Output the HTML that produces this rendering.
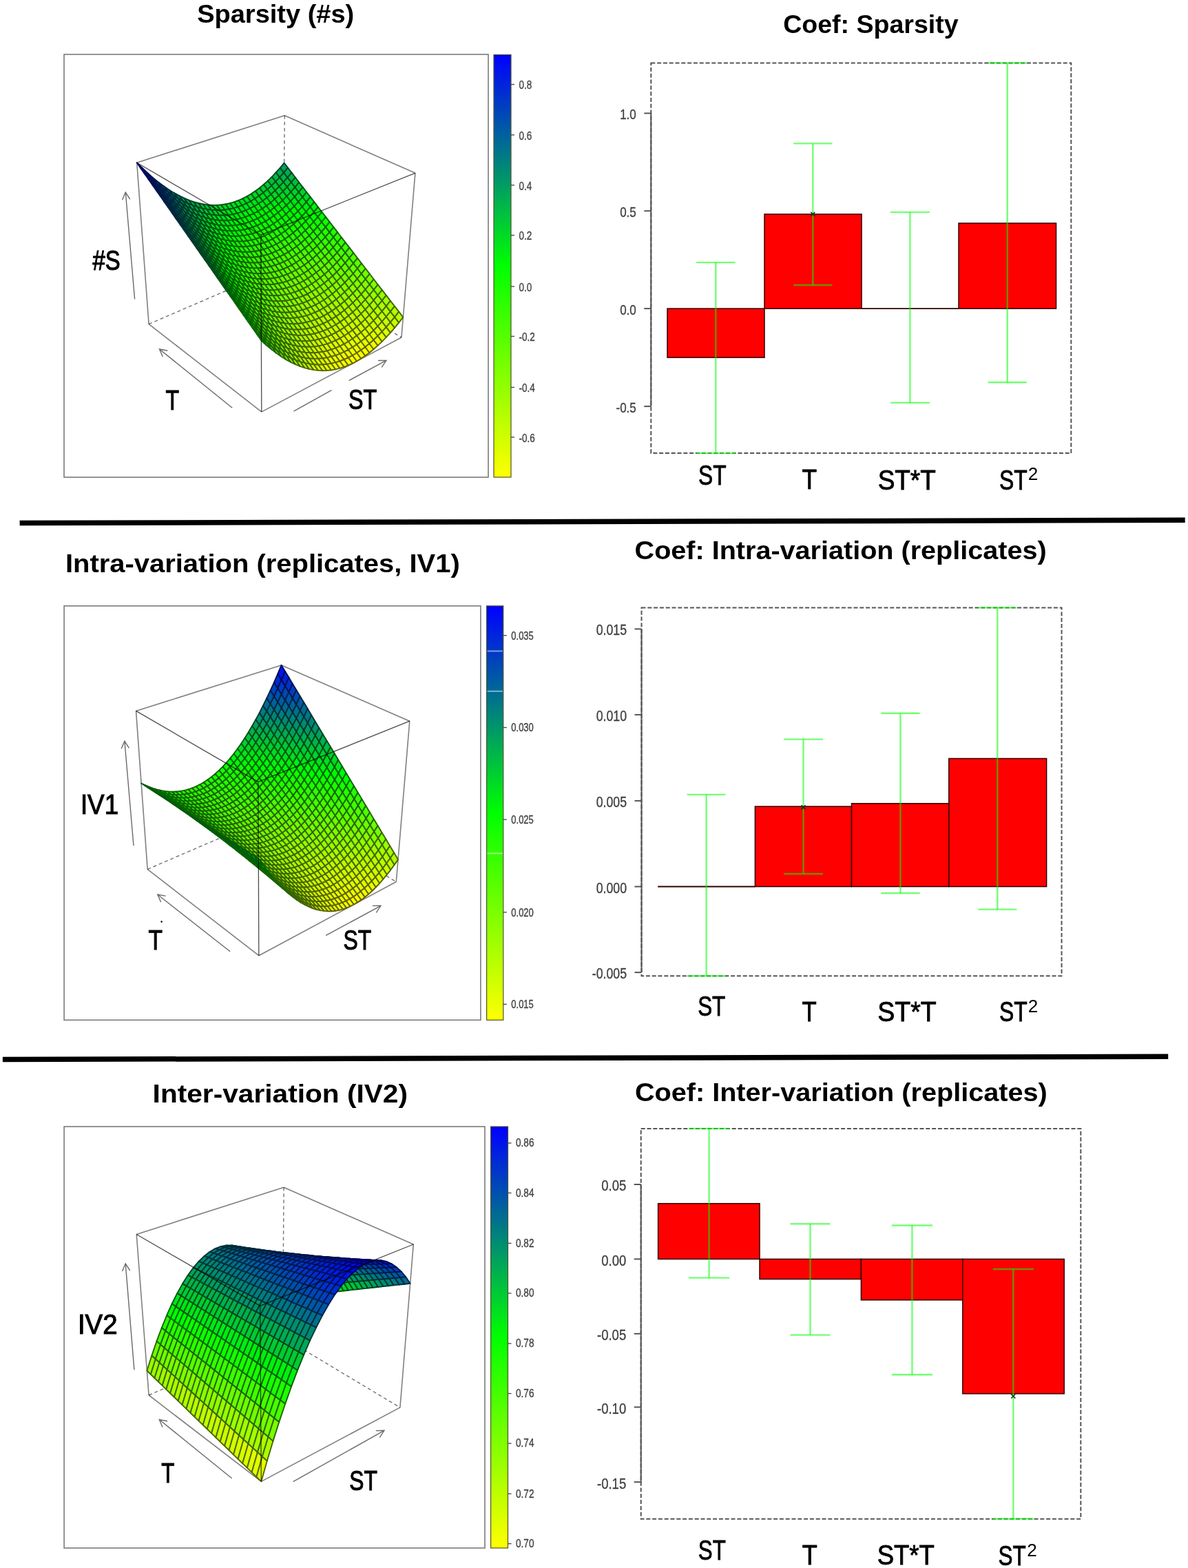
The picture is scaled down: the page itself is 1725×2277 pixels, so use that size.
<!DOCTYPE html>
<html><head><meta charset="utf-8"><title>Figure</title><style>html,body{margin:0;padding:0;background:#fff;}svg{display:block;}</style></head><body>
<svg width="1725" height="2277" viewBox="0 0 1725 2277">
<rect width="1725" height="2277" fill="#fff"/>
<text x="286.2" y="33.1" font-size="36.5" font-weight="bold" textLength="228" lengthAdjust="spacingAndGlyphs" font-family="Liberation Sans, Arial, sans-serif">Sparsity (#s)</text>
<text x="1137.2" y="48.4" font-size="36.5" font-weight="bold" textLength="254.4" lengthAdjust="spacingAndGlyphs" font-family="Liberation Sans, Arial, sans-serif">Coef: Sparsity</text>
<text x="94.9" y="830.7" font-size="36.5" font-weight="bold" textLength="572.9" lengthAdjust="spacingAndGlyphs" font-family="Liberation Sans, Arial, sans-serif">Intra-variation (replicates, IV1)</text>
<text x="921.6" y="811.5" font-size="36.5" font-weight="bold" textLength="598" lengthAdjust="spacingAndGlyphs" font-family="Liberation Sans, Arial, sans-serif">Coef: Intra-variation (replicates)</text>
<text x="221.6" y="1600.6" font-size="36.5" font-weight="bold" textLength="370.4" lengthAdjust="spacingAndGlyphs" font-family="Liberation Sans, Arial, sans-serif">Inter-variation (IV2)</text>
<text x="921.9" y="1599" font-size="36.5" font-weight="bold" textLength="598.8" lengthAdjust="spacingAndGlyphs" font-family="Liberation Sans, Arial, sans-serif">Coef: Inter-variation (replicates)</text>
<line x1="28.6" y1="759.5" x2="1720.7" y2="755.3" stroke="#000" stroke-width="7.5"/>
<line x1="3.9" y1="1538.5" x2="1696.2" y2="1534.3" stroke="#000" stroke-width="7.5"/>
<rect x="93" y="79" width="616" height="614" fill="none" stroke="#7a7a7a" stroke-width="1.6"/>
<defs><linearGradient id="gp1" x1="0" y1="1" x2="0" y2="0"><stop offset="0" stop-color="#ffff00"/><stop offset="0.5" stop-color="#00ff00"/><stop offset="1" stop-color="#0000ff"/></linearGradient></defs>
<rect x="717" y="79.5" width="25" height="613.5" fill="url(#gp1)" stroke="#505030" stroke-width="1.2"/>
<line x1="742" y1="122.6" x2="747" y2="122.6" stroke="#444" stroke-width="1.3"/>
<text transform="translate(753.5,129.4) scale(1,1.22)" font-size="13.5" fill="#444" stroke="#444" stroke-width="0.3" font-family="Liberation Sans, Arial, sans-serif">0.8</text>
<line x1="742" y1="195.9" x2="747" y2="195.9" stroke="#444" stroke-width="1.3"/>
<text transform="translate(753.5,202.7) scale(1,1.22)" font-size="13.5" fill="#444" stroke="#444" stroke-width="0.3" font-family="Liberation Sans, Arial, sans-serif">0.6</text>
<line x1="742" y1="268.9" x2="747" y2="268.9" stroke="#444" stroke-width="1.3"/>
<text transform="translate(753.5,275.7) scale(1,1.22)" font-size="13.5" fill="#444" stroke="#444" stroke-width="0.3" font-family="Liberation Sans, Arial, sans-serif">0.4</text>
<line x1="742" y1="341.6" x2="747" y2="341.6" stroke="#444" stroke-width="1.3"/>
<text transform="translate(753.5,348.4) scale(1,1.22)" font-size="13.5" fill="#444" stroke="#444" stroke-width="0.3" font-family="Liberation Sans, Arial, sans-serif">0.2</text>
<line x1="742" y1="416" x2="747" y2="416" stroke="#444" stroke-width="1.3"/>
<text transform="translate(753.5,422.8) scale(1,1.22)" font-size="13.5" fill="#444" stroke="#444" stroke-width="0.3" font-family="Liberation Sans, Arial, sans-serif">0.0</text>
<line x1="742" y1="488.4" x2="747" y2="488.4" stroke="#444" stroke-width="1.3"/>
<text transform="translate(753.5,495.2) scale(1,1.22)" font-size="13.5" fill="#444" stroke="#444" stroke-width="0.3" font-family="Liberation Sans, Arial, sans-serif">-0.2</text>
<line x1="742" y1="562.5" x2="747" y2="562.5" stroke="#444" stroke-width="1.3"/>
<text transform="translate(753.5,569.3) scale(1,1.22)" font-size="13.5" fill="#444" stroke="#444" stroke-width="0.3" font-family="Liberation Sans, Arial, sans-serif">-0.4</text>
<line x1="742" y1="634.9" x2="747" y2="634.9" stroke="#444" stroke-width="1.3"/>
<text transform="translate(753.5,641.7) scale(1,1.22)" font-size="13.5" fill="#444" stroke="#444" stroke-width="0.3" font-family="Liberation Sans, Arial, sans-serif">-0.6</text>
<line x1="413.3" y1="167.8" x2="411.2" y2="386.4" stroke="#000" stroke-opacity="0.55" stroke-width="1.4" stroke-dasharray="5,4"/>
<line x1="216.1" y1="470.6" x2="411.2" y2="386.4" stroke="#000" stroke-opacity="0.55" stroke-width="1.4" stroke-dasharray="5,4"/>
<line x1="411.2" y1="386.4" x2="582.9" y2="490" stroke="#000" stroke-opacity="0.55" stroke-width="1.4" stroke-dasharray="5,4"/>
<line x1="198.7" y1="236.2" x2="413.3" y2="167.8" stroke="#000" stroke-opacity="0.5" stroke-width="1.6"/>
<line x1="413.3" y1="167.8" x2="602.9" y2="251.3" stroke="#000" stroke-opacity="0.5" stroke-width="1.6"/>
<line x1="602.9" y1="251.3" x2="582.9" y2="490" stroke="#000" stroke-opacity="0.5" stroke-width="1.6"/>
<line x1="198.7" y1="236.2" x2="216.1" y2="470.6" stroke="#000" stroke-opacity="0.5" stroke-width="1.6"/>
<line x1="216.1" y1="470.6" x2="379.8" y2="598.1" stroke="#000" stroke-opacity="0.5" stroke-width="1.6"/>
<line x1="379.8" y1="598.1" x2="582.9" y2="490" stroke="#000" stroke-opacity="0.5" stroke-width="1.6"/>
<defs><filter id="blp1" x="-5%" y="-5%" width="110%" height="110%"><feGaussianBlur stdDeviation="0.3"/></filter></defs>
<g filter="url(#blp1)" stroke-width="1.9" stroke-linejoin="round">
<path d="M412 250.8L418 243.7L412.6 236.7L406.7 243.9Z" fill="#00a25d" stroke="#004025"/>
<path d="M406.1 257.6L412 250.8L406.7 243.9L400.7 250.5Z" fill="#00ad52" stroke="#004520"/>
<path d="M417.4 257.9L423.4 250.7L418 243.7L412 250.8Z" fill="#00ac53" stroke="#004421"/>
<path d="M400.1 263.8L406.1 257.6L400.7 250.5L394.8 256.8Z" fill="#00b748" stroke="#00491c"/>
<path d="M411.5 264.6L417.4 257.9L412 250.8L406.1 257.6Z" fill="#00b649" stroke="#00481d"/>
<path d="M394.2 269.7L400.1 263.8L394.8 256.8L388.8 262.6Z" fill="#00bf40" stroke="#004c19"/>
<path d="M422.8 264.9L428.8 257.7L423.4 250.7L417.4 257.9Z" fill="#00b54a" stroke="#00481d"/>
<path d="M405.5 270.9L411.5 264.6L406.1 257.6L400.1 263.8Z" fill="#00c03f" stroke="#004c19"/>
<path d="M388.2 275.1L394.2 269.7L388.8 262.6L382.8 268Z" fill="#00c738" stroke="#004f16"/>
<path d="M416.9 271.7L422.8 264.9L417.4 257.9L411.5 264.6Z" fill="#00c03f" stroke="#004c19"/>
<path d="M399.5 276.8L405.5 270.9L400.1 263.8L394.2 269.7Z" fill="#00c936" stroke="#005015"/>
<path d="M428.3 272L434.2 264.8L428.8 257.7L422.8 264.9Z" fill="#00bf40" stroke="#004c19"/>
<path d="M410.9 278L416.9 271.7L411.5 264.6L405.5 270.9Z" fill="#00ca35" stroke="#005015"/>
<path d="M382.1 280L388.2 275.1L382.8 268L376.8 272.9Z" fill="#00ce31" stroke="#005213"/>
<path d="M393.5 282.2L399.5 276.8L394.2 269.7L388.2 275.1Z" fill="#00d12e" stroke="#005312"/>
<path d="M422.3 278.8L428.3 272L422.8 264.9L416.9 271.7Z" fill="#00ca35" stroke="#005015"/>
<path d="M404.9 283.9L410.9 278L405.5 270.9L399.5 276.8Z" fill="#00d32c" stroke="#005411"/>
<path d="M433.7 279.1L439.7 271.8L434.2 264.8L428.3 272Z" fill="#00c936" stroke="#005015"/>
<path d="M416.3 285.1L422.3 278.8L416.9 271.7L410.9 278Z" fill="#00d42b" stroke="#005411"/>
<path d="M376.1 284.6L382.1 280L376.8 272.9L370.8 277.4Z" fill="#00d42b" stroke="#005411"/>
<path d="M387.5 287.2L393.5 282.2L388.2 275.1L382.1 280Z" fill="#00d827" stroke="#00560f"/>
<path d="M398.9 289.3L404.9 283.9L399.5 276.8L393.5 282.2Z" fill="#00da25" stroke="#00570e"/>
<path d="M427.8 285.9L433.7 279.1L428.3 272L422.3 278.8Z" fill="#00d32c" stroke="#005411"/>
<path d="M410.3 291.1L416.3 285.1L410.9 278L404.9 283.9Z" fill="#00dc23" stroke="#00580e"/>
<path d="M439.2 286.3L445.2 279L439.7 271.8L433.7 279.1Z" fill="#00d22d" stroke="#005412"/>
<path d="M421.8 292.3L427.8 285.9L422.3 278.8L416.3 285.1Z" fill="#00dd22" stroke="#00580d"/>
<path d="M370 288.6L376.1 284.6L370.8 277.4L364.7 281.5Z" fill="#00d827" stroke="#00560f"/>
<path d="M381.4 291.7L387.5 287.2L382.1 280L376.1 284.6Z" fill="#00dd22" stroke="#00580d"/>
<path d="M392.9 294.4L398.9 289.3L393.5 282.2L387.5 287.2Z" fill="#00e11e" stroke="#005a0c"/>
<path d="M404.3 296.5L410.3 291.1L404.9 283.9L398.9 289.3Z" fill="#00e41b" stroke="#005b0a"/>
<path d="M433.2 293.1L439.2 286.3L433.7 279.1L427.8 285.9Z" fill="#00dd22" stroke="#00580d"/>
<path d="M415.8 298.3L421.8 292.3L416.3 285.1L410.3 291.1Z" fill="#00e619" stroke="#005c0a"/>
<path d="M444.7 293.4L450.7 286.1L445.2 279L439.2 286.3Z" fill="#00dc23" stroke="#00580e"/>
<path d="M427.2 299.5L433.2 293.1L427.8 285.9L421.8 292.3Z" fill="#00e718" stroke="#005c09"/>
<path d="M375.4 295.8L381.4 291.7L376.1 284.6L370 288.6Z" fill="#00e21d" stroke="#005a0b"/>
<path d="M386.8 298.9L392.9 294.4L387.5 287.2L381.4 291.7Z" fill="#00e718" stroke="#005c09"/>
<path d="M363.9 292.3L370 288.6L364.7 281.5L358.6 285.1Z" fill="#00dc23" stroke="#00580e"/>
<path d="M398.3 301.6L404.3 296.5L398.9 289.3L392.9 294.4Z" fill="#00eb14" stroke="#005e08"/>
<path d="M409.8 303.8L415.8 298.3L410.3 291.1L404.3 296.5Z" fill="#00ee11" stroke="#005f06"/>
<path d="M438.7 300.3L444.7 293.4L439.2 286.3L433.2 293.1Z" fill="#00e718" stroke="#005c09"/>
<path d="M421.2 305.5L427.2 299.5L421.8 292.3L415.8 298.3Z" fill="#00f00f" stroke="#006006"/>
<path d="M450.3 300.7L456.3 293.3L450.7 286.1L444.7 293.4Z" fill="#00e619" stroke="#005c0a"/>
<path d="M432.7 306.7L438.7 300.3L433.2 293.1L427.2 299.5Z" fill="#00f10e" stroke="#006005"/>
<path d="M380.7 303.1L386.8 298.9L381.4 291.7L375.4 295.8Z" fill="#00ec13" stroke="#005e07"/>
<path d="M392.2 306.2L398.3 301.6L392.9 294.4L386.8 298.9Z" fill="#00f10e" stroke="#006005"/>
<path d="M369.3 299.5L375.4 295.8L370 288.6L363.9 292.3Z" fill="#00e51a" stroke="#005b0a"/>
<path d="M403.7 308.8L409.8 303.8L404.3 296.5L398.3 301.6Z" fill="#00f50a" stroke="#006204"/>
<path d="M357.8 295.5L363.9 292.3L358.6 285.1L352.4 288.3Z" fill="#00de21" stroke="#00580d"/>
<path d="M415.2 311L421.2 305.5L415.8 298.3L409.8 303.8Z" fill="#00f807" stroke="#006302"/>
<path d="M444.3 307.6L450.3 300.7L444.7 293.4L438.7 300.3Z" fill="#00f10e" stroke="#006005"/>
<path d="M426.7 312.7L432.7 306.7L427.2 299.5L421.2 305.5Z" fill="#00f906" stroke="#006302"/>
<path d="M455.8 307.9L461.8 300.6L456.3 293.3L450.3 300.7Z" fill="#00ef10" stroke="#005f06"/>
<path d="M438.3 314L444.3 307.6L438.7 300.3L432.7 306.7Z" fill="#00fa05" stroke="#006402"/>
<path d="M386.2 310.3L392.2 306.2L386.8 298.9L380.7 303.1Z" fill="#00f50a" stroke="#006204"/>
<path d="M397.7 313.4L403.7 308.8L398.3 301.6L392.2 306.2Z" fill="#00fa05" stroke="#006402"/>
<path d="M374.6 306.8L380.7 303.1L375.4 295.8L369.3 299.5Z" fill="#00ef10" stroke="#005f06"/>
<path d="M409.2 316.1L415.2 311L409.8 303.8L403.7 308.8Z" fill="#00fe01" stroke="#006500"/>
<path d="M363.1 302.7L369.3 299.5L363.9 292.3L357.8 295.5Z" fill="#00e817" stroke="#005c09"/>
<path d="M420.7 318.3L426.7 312.7L421.2 305.5L415.2 311Z" fill="#02ff00" stroke="#006600"/>
<path d="M351.6 298.2L357.8 295.5L352.4 288.3L346.2 291Z" fill="#00e01f" stroke="#00590c"/>
<path d="M449.8 314.8L455.8 307.9L450.3 300.7L444.3 307.6Z" fill="#00fa05" stroke="#006402"/>
<path d="M432.3 320L438.3 314L432.7 306.7L426.7 312.7Z" fill="#04ff00" stroke="#016600"/>
<path d="M461.4 315.2L467.4 307.8L461.8 300.6L455.8 307.9Z" fill="#00f906" stroke="#006302"/>
<path d="M443.8 321.3L449.8 314.8L444.3 307.6L438.3 314Z" fill="#05ff00" stroke="#026600"/>
<path d="M391.6 317.6L397.7 313.4L392.2 306.2L386.2 310.3Z" fill="#00ff00" stroke="#006600"/>
<path d="M403.1 320.8L409.2 316.1L403.7 308.8L397.7 313.4Z" fill="#05ff00" stroke="#026600"/>
<path d="M380 314.1L386.2 310.3L380.7 303.1L374.6 306.8Z" fill="#00f906" stroke="#006302"/>
<path d="M414.7 323.4L420.7 318.3L415.2 311L409.2 316.1Z" fill="#09ff00" stroke="#036600"/>
<path d="M368.5 310L374.6 306.8L369.3 299.5L363.1 302.7Z" fill="#00f20d" stroke="#006005"/>
<path d="M426.2 325.6L432.3 320L426.7 312.7L420.7 318.3Z" fill="#0cff00" stroke="#046600"/>
<path d="M356.9 305.5L363.1 302.7L357.8 295.5L351.6 298.2Z" fill="#00e916" stroke="#005d08"/>
<path d="M455.4 322.2L461.4 315.2L455.8 307.9L449.8 314.8Z" fill="#05ff00" stroke="#026600"/>
<path d="M437.8 327.4L443.8 321.3L438.3 314L432.3 320Z" fill="#0eff00" stroke="#056600"/>
<path d="M345.3 300.6L351.6 298.2L346.2 291L340 293.3Z" fill="#00e01f" stroke="#00590c"/>
<path d="M467 322.5L473.1 315.1L467.4 307.8L461.4 315.2Z" fill="#04ff00" stroke="#016600"/>
<path d="M449.4 328.7L455.4 322.2L449.8 314.8L443.8 321.3Z" fill="#0fff00" stroke="#066600"/>
<path d="M397 325L403.1 320.8L397.7 313.4L391.6 317.6Z" fill="#0aff00" stroke="#046600"/>
<path d="M408.6 328.1L414.7 323.4L409.2 316.1L403.1 320.8Z" fill="#0fff00" stroke="#066600"/>
<path d="M385.5 321.4L391.6 317.6L386.2 310.3L380 314.1Z" fill="#03ff00" stroke="#016600"/>
<path d="M420.2 330.8L426.2 325.6L420.7 318.3L414.7 323.4Z" fill="#13ff00" stroke="#076600"/>
<path d="M373.9 317.3L380 314.1L374.6 306.8L368.5 310Z" fill="#00fb04" stroke="#006401"/>
<path d="M431.8 333L437.8 327.4L432.3 320L426.2 325.6Z" fill="#16ff00" stroke="#086600"/>
<path d="M362.3 312.8L368.5 310L363.1 302.7L356.9 305.5Z" fill="#00f30c" stroke="#006104"/>
<path d="M461 329.5L467 322.5L461.4 315.2L455.4 322.2Z" fill="#0fff00" stroke="#066600"/>
<path d="M443.4 334.7L449.4 328.7L443.8 321.3L437.8 327.4Z" fill="#18ff00" stroke="#096600"/>
<path d="M350.7 307.9L356.9 305.5L351.6 298.2L345.3 300.6Z" fill="#00ea15" stroke="#005d08"/>
<path d="M472.7 329.9L478.7 322.4L473.1 315.1L467 322.5Z" fill="#0dff00" stroke="#056600"/>
<path d="M455 336L461 329.5L455.4 322.2L449.4 328.7Z" fill="#18ff00" stroke="#096600"/>
<path d="M339.1 302.4L345.3 300.6L340 293.3L333.7 295.1Z" fill="#00e01f" stroke="#00590c"/>
<path d="M402.5 332.3L408.6 328.1L403.1 320.8L397 325Z" fill="#13ff00" stroke="#076600"/>
<path d="M414.1 335.5L420.2 330.8L414.7 323.4L408.6 328.1Z" fill="#18ff00" stroke="#096600"/>
<path d="M390.9 328.8L397 325L391.6 317.6L385.5 321.4Z" fill="#0dff00" stroke="#056600"/>
<path d="M425.7 338.2L431.8 333L426.2 325.6L420.2 330.8Z" fill="#1cff00" stroke="#0b6600"/>
<path d="M379.3 324.7L385.5 321.4L380 314.1L373.9 317.3Z" fill="#06ff00" stroke="#026600"/>
<path d="M437.3 340.4L443.4 334.7L437.8 327.4L431.8 333Z" fill="#1fff00" stroke="#0c6600"/>
<path d="M367.7 320.2L373.9 317.3L368.5 310L362.3 312.8Z" fill="#00fd02" stroke="#006500"/>
<path d="M466.7 336.9L472.7 329.9L467 322.5L461 329.5Z" fill="#18ff00" stroke="#096600"/>
<path d="M449 342.1L455 336L449.4 328.7L443.4 334.7Z" fill="#21ff00" stroke="#0d6600"/>
<path d="M356.1 315.2L362.3 312.8L356.9 305.5L350.7 307.9Z" fill="#00f40b" stroke="#006104"/>
<path d="M478.4 337.3L484.4 329.8L478.7 322.4L472.7 329.9Z" fill="#17ff00" stroke="#096600"/>
<path d="M460.6 343.5L466.7 336.9L461 329.5L455 336Z" fill="#22ff00" stroke="#0d6600"/>
<path d="M344.4 309.8L350.7 307.9L345.3 300.6L339.1 302.4Z" fill="#00e916" stroke="#005d08"/>
<path d="M408 339.8L414.1 335.5L408.6 328.1L402.5 332.3Z" fill="#1dff00" stroke="#0b6600"/>
<path d="M419.7 342.9L425.7 338.2L420.2 330.8L414.1 335.5Z" fill="#22ff00" stroke="#0d6600"/>
<path d="M396.4 336.2L402.5 332.3L397 325L390.9 328.8Z" fill="#17ff00" stroke="#096600"/>
<path d="M431.3 345.6L437.3 340.4L431.8 333L425.7 338.2Z" fill="#26ff00" stroke="#0f6600"/>
<path d="M384.8 332.1L390.9 328.8L385.5 321.4L379.3 324.7Z" fill="#10ff00" stroke="#066600"/>
<path d="M442.9 347.8L449 342.1L443.4 334.7L437.3 340.4Z" fill="#29ff00" stroke="#106600"/>
<path d="M373.1 327.6L379.3 324.7L373.9 317.3L367.7 320.2Z" fill="#08ff00" stroke="#036600"/>
<path d="M472.3 344.3L478.4 337.3L472.7 329.9L466.7 336.9Z" fill="#22ff00" stroke="#0d6600"/>
<path d="M332.7 303.8L339.1 302.4L333.7 295.1L327.4 296.5Z" fill="#00de21" stroke="#00580d"/>
<path d="M454.6 349.6L460.6 343.5L455 336L449 342.1Z" fill="#2bff00" stroke="#116600"/>
<path d="M361.5 322.6L367.7 320.2L362.3 312.8L356.1 315.2Z" fill="#00fd02" stroke="#006500"/>
<path d="M484.1 344.7L490.1 337.2L484.4 329.8L478.4 337.3Z" fill="#21ff00" stroke="#0d6600"/>
<path d="M466.3 350.9L472.3 344.3L466.7 336.9L460.6 343.5Z" fill="#2cff00" stroke="#116600"/>
<path d="M349.8 317.1L356.1 315.2L350.7 307.9L344.4 309.8Z" fill="#00f30c" stroke="#006104"/>
<path d="M413.6 347.2L419.7 342.9L414.1 335.5L408 339.8Z" fill="#27ff00" stroke="#0f6600"/>
<path d="M425.2 350.3L431.3 345.6L425.7 338.2L419.7 342.9Z" fill="#2cff00" stroke="#116600"/>
<path d="M401.9 343.6L408 339.8L402.5 332.3L396.4 336.2Z" fill="#21ff00" stroke="#0d6600"/>
<path d="M436.9 353L442.9 347.8L437.3 340.4L431.3 345.6Z" fill="#30ff00" stroke="#136600"/>
<path d="M390.3 339.5L396.4 336.2L390.9 328.8L384.8 332.1Z" fill="#19ff00" stroke="#0a6600"/>
<path d="M448.6 355.3L454.6 349.6L449 342.1L442.9 347.8Z" fill="#33ff00" stroke="#146600"/>
<path d="M378.6 335L384.8 332.1L379.3 324.7L373.1 327.6Z" fill="#11ff00" stroke="#066600"/>
<path d="M478 351.8L484.1 344.7L478.4 337.3L472.3 344.3Z" fill="#2cff00" stroke="#116600"/>
<path d="M338.1 311.2L344.4 309.8L339.1 302.4L332.7 303.8Z" fill="#00e817" stroke="#005c09"/>
<path d="M460.3 357.1L466.3 350.9L460.6 343.5L454.6 349.6Z" fill="#35ff00" stroke="#156600"/>
<path d="M366.9 330L373.1 327.6L367.7 320.2L361.5 322.6Z" fill="#08ff00" stroke="#036600"/>
<path d="M489.8 352.2L495.8 344.7L490.1 337.2L484.1 344.7Z" fill="#2aff00" stroke="#106600"/>
<path d="M326.3 304.8L332.7 303.8L327.4 296.5L321 297.4Z" fill="#00db24" stroke="#00570e"/>
<path d="M472 358.4L478 351.8L472.3 344.3L466.3 350.9Z" fill="#35ff00" stroke="#156600"/>
<path d="M355.2 324.5L361.5 322.6L356.1 315.2L349.8 317.1Z" fill="#00fd02" stroke="#006500"/>
<path d="M419.1 354.7L425.2 350.3L419.7 342.9L413.6 347.2Z" fill="#30ff00" stroke="#136600"/>
<path d="M430.8 357.8L436.9 353L431.3 345.6L425.2 350.3Z" fill="#35ff00" stroke="#156600"/>
<path d="M407.5 351.1L413.6 347.2L408 339.8L401.9 343.6Z" fill="#2aff00" stroke="#106600"/>
<path d="M442.5 360.5L448.6 355.3L442.9 347.8L436.9 353Z" fill="#39ff00" stroke="#166600"/>
<path d="M395.8 347L401.9 343.6L396.4 336.2L390.3 339.5Z" fill="#23ff00" stroke="#0e6600"/>
<path d="M454.2 362.8L460.3 357.1L454.6 349.6L448.6 355.3Z" fill="#3cff00" stroke="#186600"/>
<path d="M384.1 342.5L390.3 339.5L384.8 332.1L378.6 335Z" fill="#1bff00" stroke="#0a6600"/>
<path d="M483.7 359.3L489.8 352.2L484.1 344.7L478 351.8Z" fill="#35ff00" stroke="#156600"/>
<path d="M343.5 318.6L349.8 317.1L344.4 309.8L338.1 311.2Z" fill="#00f10e" stroke="#006005"/>
<path d="M465.9 364.6L472 358.4L466.3 350.9L460.3 357.1Z" fill="#3eff00" stroke="#186600"/>
<path d="M372.4 337.5L378.6 335L373.1 327.6L366.9 330Z" fill="#12ff00" stroke="#076600"/>
<path d="M495.5 359.7L501.6 352.1L495.8 344.7L489.8 352.2Z" fill="#34ff00" stroke="#146600"/>
<path d="M331.7 312.2L338.1 311.2L332.7 303.8L326.3 304.8Z" fill="#00e51a" stroke="#005b0a"/>
<path d="M477.7 365.9L483.7 359.3L478 351.8L472 358.4Z" fill="#3fff00" stroke="#196600"/>
<path d="M360.6 332L366.9 330L361.5 322.6L355.2 324.5Z" fill="#07ff00" stroke="#026600"/>
<path d="M424.7 362.2L430.8 357.8L425.2 350.3L419.1 354.7Z" fill="#3aff00" stroke="#176600"/>
<path d="M436.4 365.4L442.5 360.5L436.9 353L430.8 357.8Z" fill="#3fff00" stroke="#196600"/>
<path d="M413 358.6L419.1 354.7L413.6 347.2L407.5 351.1Z" fill="#34ff00" stroke="#146600"/>
<path d="M448.1 368.1L454.2 362.8L448.6 355.3L442.5 360.5Z" fill="#43ff00" stroke="#1a6600"/>
<path d="M401.3 354.5L407.5 351.1L401.9 343.6L395.8 347Z" fill="#2dff00" stroke="#126600"/>
<path d="M459.9 370.3L465.9 364.6L460.3 357.1L454.2 362.8Z" fill="#46ff00" stroke="#1c6600"/>
<path d="M389.6 349.9L395.8 347L390.3 339.5L384.1 342.5Z" fill="#25ff00" stroke="#0e6600"/>
<path d="M489.5 366.8L495.5 359.7L489.8 352.2L483.7 359.3Z" fill="#3fff00" stroke="#196600"/>
<path d="M348.9 326L355.2 324.5L349.8 317.1L343.5 318.6Z" fill="#00fb04" stroke="#006401"/>
<path d="M319.9 305.3L326.3 304.8L321 297.4L314.5 297.9Z" fill="#00d827" stroke="#00560f"/>
<path d="M471.6 372.1L477.7 365.9L472 358.4L465.9 364.6Z" fill="#48ff00" stroke="#1c6600"/>
<path d="M377.9 344.9L384.1 342.5L378.6 335L372.4 337.5Z" fill="#1bff00" stroke="#0a6600"/>
<path d="M501.3 367.2L507.4 359.6L501.6 352.1L495.5 359.7Z" fill="#3eff00" stroke="#186600"/>
<path d="M337.1 319.6L343.5 318.6L338.1 311.2L331.7 312.2Z" fill="#00ef10" stroke="#005f06"/>
<path d="M483.4 373.5L489.5 366.8L483.7 359.3L477.7 365.9Z" fill="#49ff00" stroke="#1d6600"/>
<path d="M366.1 339.5L372.4 337.5L366.9 330L360.6 332Z" fill="#11ff00" stroke="#066600"/>
<path d="M430.3 369.7L436.4 365.4L430.8 357.8L424.7 362.2Z" fill="#44ff00" stroke="#1b6600"/>
<path d="M442.1 372.9L448.1 368.1L442.5 360.5L436.4 365.4Z" fill="#49ff00" stroke="#1d6600"/>
<path d="M418.6 366.1L424.7 362.2L419.1 354.7L413 358.6Z" fill="#3eff00" stroke="#186600"/>
<path d="M453.8 375.6L459.9 370.3L454.2 362.8L448.1 368.1Z" fill="#4dff00" stroke="#1e6600"/>
<path d="M406.9 362L413 358.6L407.5 351.1L401.3 354.5Z" fill="#36ff00" stroke="#156600"/>
<path d="M465.6 377.9L471.6 372.1L465.9 364.6L459.9 370.3Z" fill="#50ff00" stroke="#206600"/>
<path d="M395.1 357.5L401.3 354.5L395.8 347L389.6 349.9Z" fill="#2eff00" stroke="#126600"/>
<path d="M495.3 374.3L501.3 367.2L495.5 359.7L489.5 366.8Z" fill="#49ff00" stroke="#1d6600"/>
<path d="M354.3 333.5L360.6 332L355.2 324.5L348.9 326Z" fill="#06ff00" stroke="#026600"/>
<path d="M325.3 312.7L331.7 312.2L326.3 304.8L319.9 305.3Z" fill="#00e11e" stroke="#005a0c"/>
<path d="M477.4 379.7L483.4 373.5L477.7 365.9L471.6 372.1Z" fill="#52ff00" stroke="#206600"/>
<path d="M383.4 352.5L389.6 349.9L384.1 342.5L377.9 344.9Z" fill="#25ff00" stroke="#0e6600"/>
<path d="M507.1 374.8L513.2 367.2L507.4 359.6L501.3 367.2Z" fill="#47ff00" stroke="#1c6600"/>
<path d="M342.5 327.1L348.9 326L343.5 318.6L337.1 319.6Z" fill="#00f906" stroke="#006302"/>
<path d="M489.2 381L495.3 374.3L489.5 366.8L483.4 373.5Z" fill="#53ff00" stroke="#216600"/>
<path d="M371.6 347L377.9 344.9L372.4 337.5L366.1 339.5Z" fill="#1bff00" stroke="#0a6600"/>
<path d="M436 377.3L442.1 372.9L436.4 365.4L430.3 369.7Z" fill="#4dff00" stroke="#1e6600"/>
<path d="M447.7 380.5L453.8 375.6L448.1 368.1L442.1 372.9Z" fill="#52ff00" stroke="#206600"/>
<path d="M424.2 373.7L430.3 369.7L424.7 362.2L418.6 366.1Z" fill="#47ff00" stroke="#1c6600"/>
<path d="M459.5 383.2L465.6 377.9L459.9 370.3L453.8 375.6Z" fill="#56ff00" stroke="#226600"/>
<path d="M412.5 369.6L418.6 366.1L413 358.6L406.9 362Z" fill="#40ff00" stroke="#196600"/>
<path d="M313.4 305.3L319.9 305.3L314.5 297.9L308 297.9Z" fill="#00d32c" stroke="#005411"/>
<path d="M471.3 385.5L477.4 379.7L471.6 372.1L465.6 377.9Z" fill="#59ff00" stroke="#236600"/>
<path d="M400.7 365L406.9 362L401.3 354.5L395.1 357.5Z" fill="#38ff00" stroke="#166600"/>
<path d="M501.1 381.9L507.1 374.8L501.3 367.2L495.3 374.3Z" fill="#52ff00" stroke="#206600"/>
<path d="M359.8 341L366.1 339.5L360.6 332L354.3 333.5Z" fill="#10ff00" stroke="#066600"/>
<path d="M330.6 320.2L337.1 319.6L331.7 312.2L325.3 312.7Z" fill="#00eb14" stroke="#005e08"/>
<path d="M483.1 387.3L489.2 381L483.4 373.5L477.4 379.7Z" fill="#5bff00" stroke="#246600"/>
<path d="M388.9 360L395.1 357.5L389.6 349.9L383.4 352.5Z" fill="#2fff00" stroke="#126600"/>
<path d="M513 382.4L519.1 374.8L513.2 367.2L507.1 374.8Z" fill="#51ff00" stroke="#206600"/>
<path d="M348 334.6L354.3 333.5L348.9 326L342.5 327.1Z" fill="#03ff00" stroke="#016600"/>
<path d="M495 388.7L501.1 381.9L495.3 374.3L489.2 381Z" fill="#5cff00" stroke="#246600"/>
<path d="M377.1 354.5L383.4 352.5L377.9 344.9L371.6 347Z" fill="#25ff00" stroke="#0e6600"/>
<path d="M441.7 385L447.7 380.5L442.1 372.9L436 377.3Z" fill="#57ff00" stroke="#226600"/>
<path d="M453.4 388.1L459.5 383.2L453.8 375.6L447.7 380.5Z" fill="#5cff00" stroke="#246600"/>
<path d="M429.9 381.3L436 377.3L430.3 369.7L424.2 373.7Z" fill="#51ff00" stroke="#206600"/>
<path d="M465.3 390.9L471.3 385.5L465.6 377.9L459.5 383.2Z" fill="#60ff00" stroke="#266600"/>
<path d="M418.1 377.2L424.2 373.7L418.6 366.1L412.5 369.6Z" fill="#4aff00" stroke="#1d6600"/>
<path d="M318.7 312.8L325.3 312.7L319.9 305.3L313.4 305.3Z" fill="#00dd22" stroke="#00580d"/>
<path d="M477.1 393.1L483.1 387.3L477.4 379.7L471.3 385.5Z" fill="#63ff00" stroke="#276600"/>
<path d="M406.3 372.6L412.5 369.6L406.9 362L400.7 365Z" fill="#42ff00" stroke="#1a6600"/>
<path d="M506.9 389.6L513 382.4L507.1 374.8L501.1 381.9Z" fill="#5cff00" stroke="#246600"/>
<path d="M365.3 348.6L371.6 347L366.1 339.5L359.8 341Z" fill="#19ff00" stroke="#0a6600"/>
<path d="M336.1 327.7L342.5 327.1L337.1 319.6L330.6 320.2Z" fill="#00f50a" stroke="#006204"/>
<path d="M488.9 395L495 388.7L489.2 381L483.1 387.3Z" fill="#65ff00" stroke="#286600"/>
<path d="M394.5 367.6L400.7 365L395.1 357.5L388.9 360Z" fill="#38ff00" stroke="#166600"/>
<path d="M518.9 390L524.9 382.4L519.1 374.8L513 382.4Z" fill="#5bff00" stroke="#246600"/>
<path d="M306.8 304.9L313.4 305.3L308 297.9L301.4 297.4Z" fill="#00cd32" stroke="#005214"/>
<path d="M353.4 342.1L359.8 341L354.3 333.5L348 334.6Z" fill="#0dff00" stroke="#056600"/>
<path d="M500.8 396.3L506.9 389.6L501.1 381.9L495 388.7Z" fill="#66ff00" stroke="#286600"/>
<path d="M382.7 362.1L388.9 360L383.4 352.5L377.1 354.5Z" fill="#2eff00" stroke="#126600"/>
<path d="M447.4 392.6L453.4 388.1L447.7 380.5L441.7 385Z" fill="#61ff00" stroke="#266600"/>
<path d="M459.2 395.8L465.3 390.9L459.5 383.2L453.4 388.1Z" fill="#66ff00" stroke="#286600"/>
<path d="M435.5 389L441.7 385L436 377.3L429.9 381.3Z" fill="#5bff00" stroke="#246600"/>
<path d="M471 398.5L477.1 393.1L471.3 385.5L465.3 390.9Z" fill="#6aff00" stroke="#2a6600"/>
<path d="M423.7 384.9L429.9 381.3L424.2 373.7L418.1 377.2Z" fill="#54ff00" stroke="#216600"/>
<path d="M324.1 320.3L330.6 320.2L325.3 312.7L318.7 312.8Z" fill="#00e619" stroke="#005c0a"/>
<path d="M482.9 400.8L488.9 395L483.1 387.3L477.1 393.1Z" fill="#6dff00" stroke="#2b6600"/>
<path d="M411.9 380.3L418.1 377.2L412.5 369.6L406.3 372.6Z" fill="#4bff00" stroke="#1e6600"/>
<path d="M512.8 397.3L518.9 390L513 382.4L506.9 389.6Z" fill="#66ff00" stroke="#286600"/>
<path d="M370.8 356.2L377.1 354.5L371.6 347L365.3 348.6Z" fill="#23ff00" stroke="#0e6600"/>
<path d="M341.5 335.2L348 334.6L342.5 327.1L336.1 327.7Z" fill="#00ff00" stroke="#006600"/>
<path d="M494.8 402.7L500.8 396.3L495 388.7L488.9 395Z" fill="#6fff00" stroke="#2c6600"/>
<path d="M400.1 375.3L406.3 372.6L400.7 365L394.5 367.6Z" fill="#42ff00" stroke="#1a6600"/>
<path d="M524.7 397.7L530.8 390L524.9 382.4L518.9 390Z" fill="#65ff00" stroke="#286600"/>
<path d="M312.2 312.4L318.7 312.8L313.4 305.3L306.8 304.9Z" fill="#00d728" stroke="#005610"/>
<path d="M358.9 349.7L365.3 348.6L359.8 341L353.4 342.1Z" fill="#17ff00" stroke="#096600"/>
<path d="M506.7 404L512.8 397.3L506.9 389.6L500.8 396.3Z" fill="#70ff00" stroke="#2c6600"/>
<path d="M388.2 369.8L394.5 367.6L388.9 360L382.7 362.1Z" fill="#38ff00" stroke="#166600"/>
<path d="M453.1 400.3L459.2 395.8L453.4 388.1L447.4 392.6Z" fill="#6aff00" stroke="#2a6600"/>
<path d="M464.9 403.5L471 398.5L465.3 390.9L459.2 395.8Z" fill="#6fff00" stroke="#2c6600"/>
<path d="M441.2 396.7L447.4 392.6L441.7 385L435.5 389Z" fill="#64ff00" stroke="#286600"/>
<path d="M476.8 406.3L482.9 400.8L477.1 393.1L471 398.5Z" fill="#73ff00" stroke="#2e6600"/>
<path d="M429.4 392.5L435.5 389L429.9 381.3L423.7 384.9Z" fill="#5dff00" stroke="#256600"/>
<path d="M329.6 327.8L336.1 327.7L330.6 320.2L324.1 320.3Z" fill="#00f00f" stroke="#006006"/>
<path d="M488.7 408.6L494.8 402.7L488.9 395L482.9 400.8Z" fill="#76ff00" stroke="#2f6600"/>
<path d="M417.6 388L423.7 384.9L418.1 377.2L411.9 380.3Z" fill="#55ff00" stroke="#226600"/>
<path d="M518.7 405L524.7 397.7L518.9 390L512.8 397.3Z" fill="#6fff00" stroke="#2c6600"/>
<path d="M376.4 363.8L382.7 362.1L377.1 354.5L370.8 356.2Z" fill="#2dff00" stroke="#126600"/>
<path d="M347 342.8L353.4 342.1L348 334.6L341.5 335.2Z" fill="#09ff00" stroke="#036600"/>
<path d="M500.6 410.4L506.7 404L500.8 396.3L494.8 402.7Z" fill="#78ff00" stroke="#306600"/>
<path d="M405.7 382.9L411.9 380.3L406.3 372.6L400.1 375.3Z" fill="#4cff00" stroke="#1e6600"/>
<path d="M300.1 303.9L306.8 304.9L301.4 297.4L294.7 296.5Z" fill="#00c639" stroke="#004f16"/>
<path d="M530.7 405.5L536.8 397.7L530.8 390L524.7 397.7Z" fill="#6eff00" stroke="#2c6600"/>
<path d="M317.6 319.9L324.1 320.3L318.7 312.8L312.2 312.4Z" fill="#00e11e" stroke="#005a0c"/>
<path d="M364.5 357.3L370.8 356.2L365.3 348.6L358.9 349.7Z" fill="#20ff00" stroke="#0c6600"/>
<path d="M512.6 411.8L518.7 405L512.8 397.3L506.7 404Z" fill="#79ff00" stroke="#306600"/>
<path d="M393.8 377.4L400.1 375.3L394.5 367.6L388.2 369.8Z" fill="#42ff00" stroke="#1a6600"/>
<path d="M458.8 408L464.9 403.5L459.2 395.8L453.1 400.3Z" fill="#74ff00" stroke="#2e6600"/>
<path d="M470.7 411.3L476.8 406.3L471 398.5L464.9 403.5Z" fill="#79ff00" stroke="#306600"/>
<path d="M447 404.4L453.1 400.3L447.4 392.6L441.2 396.7Z" fill="#6eff00" stroke="#2c6600"/>
<path d="M482.6 414L488.7 408.6L482.9 400.8L476.8 406.3Z" fill="#7dff00" stroke="#326600"/>
<path d="M435.1 400.3L441.2 396.7L435.5 389L429.4 392.5Z" fill="#67ff00" stroke="#296600"/>
<path d="M335 335.4L341.5 335.2L336.1 327.7L329.6 327.8Z" fill="#00fa05" stroke="#006402"/>
<path d="M494.5 416.3L500.6 410.4L494.8 402.7L488.7 408.6Z" fill="#80ff00" stroke="#336600"/>
<path d="M423.2 395.7L429.4 392.5L423.7 384.9L417.6 388Z" fill="#5fff00" stroke="#266600"/>
<path d="M524.6 412.7L530.7 405.5L524.7 397.7L518.7 405Z" fill="#79ff00" stroke="#306600"/>
<path d="M381.9 371.4L388.2 369.8L382.7 362.1L376.4 363.8Z" fill="#36ff00" stroke="#156600"/>
<path d="M352.5 350.4L358.9 349.7L353.4 342.1L347 342.8Z" fill="#13ff00" stroke="#076600"/>
<path d="M506.5 418.2L512.6 411.8L506.7 404L500.6 410.4Z" fill="#82ff00" stroke="#346600"/>
<path d="M411.4 390.6L417.6 388L411.9 380.3L405.7 382.9Z" fill="#55ff00" stroke="#226600"/>
<path d="M305.5 311.5L312.2 312.4L306.8 304.9L300.1 303.9Z" fill="#00d02f" stroke="#005312"/>
<path d="M536.6 413.2L542.7 405.5L536.8 397.7L530.7 405.5Z" fill="#78ff00" stroke="#306600"/>
<path d="M323 327.4L329.6 327.8L324.1 320.3L317.6 319.9Z" fill="#00ea15" stroke="#005d08"/>
<path d="M370 365L376.4 363.8L370.8 356.2L364.5 357.3Z" fill="#2aff00" stroke="#106600"/>
<path d="M518.5 419.6L524.6 412.7L518.7 405L512.6 411.8Z" fill="#83ff00" stroke="#346600"/>
<path d="M399.5 385.1L405.7 382.9L400.1 375.3L393.8 377.4Z" fill="#4bff00" stroke="#1e6600"/>
<path d="M464.6 415.8L470.7 411.3L464.9 403.5L458.8 408Z" fill="#7eff00" stroke="#326600"/>
<path d="M476.5 419L482.6 414L476.8 406.3L470.7 411.3Z" fill="#83ff00" stroke="#346600"/>
<path d="M452.7 412.2L458.8 408L453.1 400.3L447 404.4Z" fill="#78ff00" stroke="#306600"/>
<path d="M488.5 421.8L494.5 416.3L488.7 408.6L482.6 414Z" fill="#87ff00" stroke="#366600"/>
<path d="M440.8 408L447 404.4L441.2 396.7L435.1 400.3Z" fill="#71ff00" stroke="#2d6600"/>
<path d="M340.5 343L347 342.8L341.5 335.2L335 335.4Z" fill="#04ff00" stroke="#016600"/>
<path d="M500.4 424.1L506.5 418.2L500.6 410.4L494.5 416.3Z" fill="#8aff00" stroke="#376600"/>
<path d="M428.9 403.4L435.1 400.3L429.4 392.5L423.2 395.7Z" fill="#68ff00" stroke="#296600"/>
<path d="M530.5 420.5L536.6 413.2L530.7 405.5L524.6 412.7Z" fill="#83ff00" stroke="#346600"/>
<path d="M387.5 379.1L393.8 377.4L388.2 369.8L381.9 371.4Z" fill="#40ff00" stroke="#196600"/>
<path d="M358 358L364.5 357.3L358.9 349.7L352.5 350.4Z" fill="#1dff00" stroke="#0b6600"/>
<path d="M512.4 426L518.5 419.6L512.6 411.8L506.5 418.2Z" fill="#8cff00" stroke="#386600"/>
<path d="M293.4 302.5L300.1 303.9L294.7 296.5L288 295Z" fill="#00bf40" stroke="#004c19"/>
<path d="M417 398.4L423.2 395.7L417.6 388L411.4 390.6Z" fill="#5fff00" stroke="#266600"/>
<path d="M310.9 319L317.6 319.9L312.2 312.4L305.5 311.5Z" fill="#00da25" stroke="#00570e"/>
<path d="M542.6 421L548.7 413.3L542.7 405.5L536.6 413.2Z" fill="#82ff00" stroke="#346600"/>
<path d="M328.5 335L335 335.4L329.6 327.8L323 327.4Z" fill="#00f40b" stroke="#006104"/>
<path d="M375.6 372.7L381.9 371.4L376.4 363.8L370 365Z" fill="#34ff00" stroke="#146600"/>
<path d="M524.4 427.4L530.5 420.5L524.6 412.7L518.5 419.6Z" fill="#8dff00" stroke="#386600"/>
<path d="M405.1 392.9L411.4 390.6L405.7 382.9L399.5 385.1Z" fill="#55ff00" stroke="#226600"/>
<path d="M470.4 423.6L476.5 419L470.7 411.3L464.6 415.8Z" fill="#87ff00" stroke="#366600"/>
<path d="M482.4 426.9L488.5 421.8L482.6 414L476.5 419Z" fill="#8dff00" stroke="#386600"/>
<path d="M458.5 420L464.6 415.8L458.8 408L452.7 412.2Z" fill="#81ff00" stroke="#336600"/>
<path d="M494.3 429.6L500.4 424.1L494.5 416.3L488.5 421.8Z" fill="#91ff00" stroke="#3a6600"/>
<path d="M446.6 415.8L452.7 412.2L447 404.4L440.8 408Z" fill="#7aff00" stroke="#306600"/>
<path d="M346 350.6L352.5 350.4L347 342.8L340.5 343Z" fill="#0eff00" stroke="#056600"/>
<path d="M506.3 432L512.4 426L506.5 418.2L500.4 424.1Z" fill="#94ff00" stroke="#3b6600"/>
<path d="M434.7 411.2L440.8 408L435.1 400.3L428.9 403.4Z" fill="#72ff00" stroke="#2d6600"/>
<path d="M536.5 428.3L542.6 421L536.6 413.2L530.5 420.5Z" fill="#8cff00" stroke="#386600"/>
<path d="M393.2 386.9L399.5 385.1L393.8 377.4L387.5 379.1Z" fill="#4aff00" stroke="#1d6600"/>
<path d="M363.6 365.7L370 365L364.5 357.3L358 358Z" fill="#26ff00" stroke="#0f6600"/>
<path d="M518.3 433.8L524.4 427.4L518.5 419.6L512.4 426Z" fill="#95ff00" stroke="#3b6600"/>
<path d="M298.8 310.1L305.5 311.5L300.1 303.9L293.4 302.5Z" fill="#00c837" stroke="#005016"/>
<path d="M422.7 406.2L428.9 403.4L423.2 395.7L417 398.4Z" fill="#69ff00" stroke="#2a6600"/>
<path d="M316.4 326.6L323 327.4L317.6 319.9L310.9 319Z" fill="#00e41b" stroke="#005b0a"/>
<path d="M548.6 428.9L554.8 421.1L548.7 413.3L542.6 421Z" fill="#8bff00" stroke="#376600"/>
<path d="M334 342.7L340.5 343L335 335.4L328.5 335Z" fill="#00fe01" stroke="#006500"/>
<path d="M381.2 380.4L387.5 379.1L381.9 371.4L375.6 372.7Z" fill="#3dff00" stroke="#186600"/>
<path d="M530.4 435.2L536.5 428.3L530.5 420.5L524.4 427.4Z" fill="#96ff00" stroke="#3c6600"/>
<path d="M410.8 400.6L417 398.4L411.4 390.6L405.1 392.9Z" fill="#5fff00" stroke="#266600"/>
<path d="M476.3 431.5L482.4 426.9L476.5 419L470.4 423.6Z" fill="#91ff00" stroke="#3a6600"/>
<path d="M488.2 434.7L494.3 429.6L488.5 421.8L482.4 426.9Z" fill="#96ff00" stroke="#3c6600"/>
<path d="M464.3 427.8L470.4 423.6L464.6 415.8L458.5 420Z" fill="#8bff00" stroke="#376600"/>
<path d="M500.2 437.5L506.3 432L500.4 424.1L494.3 429.6Z" fill="#9aff00" stroke="#3d6600"/>
<path d="M452.4 423.7L458.5 420L452.7 412.2L446.6 415.8Z" fill="#84ff00" stroke="#346600"/>
<path d="M351.6 358.3L358 358L352.5 350.4L346 350.6Z" fill="#18ff00" stroke="#096600"/>
<path d="M512.3 439.8L518.3 433.8L512.4 426L506.3 432Z" fill="#9dff00" stroke="#3e6600"/>
<path d="M440.4 419.1L446.6 415.8L440.8 408L434.7 411.2Z" fill="#7cff00" stroke="#316600"/>
<path d="M542.5 436.2L548.6 428.9L542.6 421L536.5 428.3Z" fill="#96ff00" stroke="#3c6600"/>
<path d="M398.8 394.6L405.1 392.9L399.5 385.1L393.2 386.9Z" fill="#53ff00" stroke="#216600"/>
<path d="M369.2 373.5L375.6 372.7L370 365L363.6 365.7Z" fill="#30ff00" stroke="#136600"/>
<path d="M286.5 300.6L293.4 302.5L288 295L281.2 293.1Z" fill="#00b649" stroke="#00481d"/>
<path d="M524.3 441.7L530.4 435.2L524.4 427.4L518.3 433.8Z" fill="#9fff00" stroke="#3f6600"/>
<path d="M304.2 317.7L310.9 319L305.5 311.5L298.8 310.1Z" fill="#00d22d" stroke="#005412"/>
<path d="M428.5 414L434.7 411.2L428.9 403.4L422.7 406.2Z" fill="#73ff00" stroke="#2e6600"/>
<path d="M321.9 334.3L328.5 335L323 327.4L316.4 326.6Z" fill="#00ed12" stroke="#005e07"/>
<path d="M554.7 436.7L560.8 428.9L554.8 421.1L548.6 428.9Z" fill="#95ff00" stroke="#3b6600"/>
<path d="M339.5 350.4L346 350.6L340.5 343L334 342.7Z" fill="#08ff00" stroke="#036600"/>
<path d="M386.8 388.2L393.2 386.9L387.5 379.1L381.2 380.4Z" fill="#47ff00" stroke="#1c6600"/>
<path d="M536.4 443.1L542.5 436.2L536.5 428.3L530.4 435.2Z" fill="#a0ff00" stroke="#406600"/>
<path d="M416.5 408.5L422.7 406.2L417 398.4L410.8 400.6Z" fill="#68ff00" stroke="#296600"/>
<path d="M482.1 439.4L488.2 434.7L482.4 426.9L476.3 431.5Z" fill="#9bff00" stroke="#3e6600"/>
<path d="M494.1 442.6L500.2 437.5L494.3 429.6L488.2 434.7Z" fill="#a0ff00" stroke="#406600"/>
<path d="M470.2 435.7L476.3 431.5L470.4 423.6L464.3 427.8Z" fill="#95ff00" stroke="#3b6600"/>
<path d="M506.2 445.4L512.3 439.8L506.3 432L500.2 437.5Z" fill="#a4ff00" stroke="#416600"/>
<path d="M458.2 431.5L464.3 427.8L458.5 420L452.4 423.7Z" fill="#8eff00" stroke="#386600"/>
<path d="M357.1 366L363.6 365.7L358 358L351.6 358.3Z" fill="#22ff00" stroke="#0d6600"/>
<path d="M518.2 447.7L524.3 441.7L518.3 433.8L512.3 439.8Z" fill="#a7ff00" stroke="#426600"/>
<path d="M446.2 426.9L452.4 423.7L446.6 415.8L440.4 419.1Z" fill="#85ff00" stroke="#356600"/>
<path d="M548.5 444.1L554.7 436.7L548.6 428.9L542.5 436.2Z" fill="#a0ff00" stroke="#406600"/>
<path d="M404.5 402.5L410.8 400.6L405.1 392.9L398.8 394.6Z" fill="#5dff00" stroke="#256600"/>
<path d="M374.8 381.2L381.2 380.4L375.6 372.7L369.2 373.5Z" fill="#3aff00" stroke="#176600"/>
<path d="M292 308.2L298.8 310.1L293.4 302.5L286.5 300.6Z" fill="#00bf40" stroke="#004c19"/>
<path d="M530.3 449.6L536.4 443.1L530.4 435.2L524.3 441.7Z" fill="#a9ff00" stroke="#436600"/>
<path d="M309.7 325.3L316.4 326.6L310.9 319L304.2 317.7Z" fill="#00dc23" stroke="#00580e"/>
<path d="M434.2 421.9L440.4 419.1L434.7 411.2L428.5 414Z" fill="#7cff00" stroke="#316600"/>
<path d="M327.4 341.9L334 342.7L328.5 335L321.9 334.3Z" fill="#00f708" stroke="#006203"/>
<path d="M560.7 444.6L566.9 436.8L560.8 428.9L554.7 436.7Z" fill="#9fff00" stroke="#3f6600"/>
<path d="M345 358.1L351.6 358.3L346 350.6L339.5 350.4Z" fill="#12ff00" stroke="#076600"/>
<path d="M392.5 396L398.8 394.6L393.2 386.9L386.8 388.2Z" fill="#51ff00" stroke="#206600"/>
<path d="M542.4 451.1L548.5 444.1L542.5 436.2L536.4 443.1Z" fill="#aaff00" stroke="#446600"/>
<path d="M422.2 416.3L428.5 414L422.7 406.2L416.5 408.5Z" fill="#72ff00" stroke="#2d6600"/>
<path d="M488 447.3L494.1 442.6L488.2 434.7L482.1 439.4Z" fill="#a5ff00" stroke="#426600"/>
<path d="M500.1 450.6L506.2 445.4L500.2 437.5L494.1 442.6Z" fill="#aaff00" stroke="#446600"/>
<path d="M476 443.6L482.1 439.4L476.3 431.5L470.2 435.7Z" fill="#9eff00" stroke="#3f6600"/>
<path d="M512.1 453.4L518.2 447.7L512.3 439.8L506.2 445.4Z" fill="#aeff00" stroke="#456600"/>
<path d="M464 439.5L470.2 435.7L464.3 427.8L458.2 431.5Z" fill="#97ff00" stroke="#3c6600"/>
<path d="M362.7 373.8L369.2 373.5L363.6 365.7L357.1 366Z" fill="#2bff00" stroke="#116600"/>
<path d="M524.2 455.7L530.3 449.6L524.3 441.7L518.2 447.7Z" fill="#b1ff00" stroke="#466600"/>
<path d="M452 434.8L458.2 431.5L452.4 423.7L446.2 426.9Z" fill="#8fff00" stroke="#396600"/>
<path d="M554.6 452.1L560.7 444.6L554.7 436.7L548.5 444.1Z" fill="#aaff00" stroke="#446600"/>
<path d="M410.2 410.3L416.5 408.5L410.8 400.6L404.5 402.5Z" fill="#67ff00" stroke="#296600"/>
<path d="M380.5 389L386.8 388.2L381.2 380.4L374.8 381.2Z" fill="#43ff00" stroke="#1a6600"/>
<path d="M297.4 315.8L304.2 317.7L298.8 310.1L292 308.2Z" fill="#00c936" stroke="#005015"/>
<path d="M536.3 457.6L542.4 451.1L536.4 443.1L530.3 449.6Z" fill="#b2ff00" stroke="#476600"/>
<path d="M315.2 333L321.9 334.3L316.4 326.6L309.7 325.3Z" fill="#00e51a" stroke="#005b0a"/>
<path d="M440 429.8L446.2 426.9L440.4 419.1L434.2 421.9Z" fill="#86ff00" stroke="#356600"/>
<path d="M279.6 298.2L286.5 300.6L281.2 293.1L274.2 290.7Z" fill="#00ac53" stroke="#004421"/>
<path d="M332.9 349.6L339.5 350.4L334 342.7L327.4 341.9Z" fill="#02ff00" stroke="#006600"/>
<path d="M566.8 452.6L573 444.7L566.9 436.8L560.7 444.6Z" fill="#a8ff00" stroke="#436600"/>
<path d="M350.6 365.8L357.1 366L351.6 358.3L345 358.1Z" fill="#1cff00" stroke="#0b6600"/>
<path d="M398.2 403.8L404.5 402.5L398.8 394.6L392.5 396Z" fill="#5aff00" stroke="#246600"/>
<path d="M548.5 459.1L554.6 452.1L548.5 444.1L542.4 451.1Z" fill="#b3ff00" stroke="#476600"/>
<path d="M428 424.2L434.2 421.9L428.5 414L422.2 416.3Z" fill="#7cff00" stroke="#316600"/>
<path d="M494 455.3L500.1 450.6L494.1 442.6L488 447.3Z" fill="#aeff00" stroke="#456600"/>
<path d="M506 458.5L512.1 453.4L506.2 445.4L500.1 450.6Z" fill="#b3ff00" stroke="#476600"/>
<path d="M481.9 451.6L488 447.3L482.1 439.4L476 443.6Z" fill="#a8ff00" stroke="#436600"/>
<path d="M518.1 461.3L524.2 455.7L518.2 447.7L512.1 453.4Z" fill="#b7ff00" stroke="#496600"/>
<path d="M469.9 447.4L476 443.6L470.2 435.7L464 439.5Z" fill="#a1ff00" stroke="#406600"/>
<path d="M368.4 381.6L374.8 381.2L369.2 373.5L362.7 373.8Z" fill="#35ff00" stroke="#156600"/>
<path d="M530.2 463.7L536.3 457.6L530.3 449.6L524.2 455.7Z" fill="#baff00" stroke="#4a6600"/>
<path d="M457.9 442.8L464 439.5L458.2 431.5L452 434.8Z" fill="#99ff00" stroke="#3d6600"/>
<path d="M560.7 460L566.8 452.6L560.7 444.6L554.6 452.1Z" fill="#b3ff00" stroke="#476600"/>
<path d="M416 418.2L422.2 416.3L416.5 408.5L410.2 410.3Z" fill="#70ff00" stroke="#2c6600"/>
<path d="M386.1 396.9L392.5 396L386.8 388.2L380.5 389Z" fill="#4dff00" stroke="#1e6600"/>
<path d="M302.9 323.5L309.7 325.3L304.2 317.7L297.4 315.8Z" fill="#00d32c" stroke="#005411"/>
<path d="M542.4 465.6L548.5 459.1L542.4 451.1L536.3 457.6Z" fill="#bcff00" stroke="#4b6600"/>
<path d="M320.7 340.7L327.4 341.9L321.9 334.3L315.2 333Z" fill="#00ef10" stroke="#005f06"/>
<path d="M445.8 437.7L452 434.8L446.2 426.9L440 429.8Z" fill="#90ff00" stroke="#396600"/>
<path d="M285.1 305.9L292 308.2L286.5 300.6L279.6 298.2Z" fill="#00b54a" stroke="#00481d"/>
<path d="M338.4 357.4L345 358.1L339.5 350.4L332.9 349.6Z" fill="#0bff00" stroke="#046600"/>
<path d="M573 460.6L579.2 452.7L573 444.7L566.8 452.6Z" fill="#b2ff00" stroke="#476600"/>
<path d="M356.2 373.6L362.7 373.8L357.1 366L350.6 365.8Z" fill="#25ff00" stroke="#0e6600"/>
<path d="M403.9 411.7L410.2 410.3L404.5 402.5L398.2 403.8Z" fill="#64ff00" stroke="#286600"/>
<path d="M554.6 467.1L560.7 460L554.6 452.1L548.5 459.1Z" fill="#bdff00" stroke="#4b6600"/>
<path d="M433.8 432.2L440 429.8L434.2 421.9L428 424.2Z" fill="#85ff00" stroke="#356600"/>
<path d="M499.9 463.3L506 458.5L500.1 450.6L494 455.3Z" fill="#b8ff00" stroke="#496600"/>
<path d="M512 466.6L518.1 461.3L512.1 453.4L506 458.5Z" fill="#bdff00" stroke="#4b6600"/>
<path d="M487.9 459.6L494 455.3L488 447.3L481.9 451.6Z" fill="#b2ff00" stroke="#476600"/>
<path d="M524.1 469.4L530.2 463.7L524.2 455.7L518.1 461.3Z" fill="#c1ff00" stroke="#4d6600"/>
<path d="M475.8 455.4L481.9 451.6L476 443.6L469.9 447.4Z" fill="#abff00" stroke="#446600"/>
<path d="M374 389.4L380.5 389L374.8 381.2L368.4 381.6Z" fill="#3fff00" stroke="#196600"/>
<path d="M536.3 471.7L542.4 465.6L536.3 457.6L530.2 463.7Z" fill="#c4ff00" stroke="#4e6600"/>
<path d="M463.7 450.8L469.9 447.4L464 439.5L457.9 442.8Z" fill="#a3ff00" stroke="#416600"/>
<path d="M566.8 468.1L573 460.6L566.8 452.6L560.7 460Z" fill="#bdff00" stroke="#4b6600"/>
<path d="M421.7 426.1L428 424.2L422.2 416.3L416 418.2Z" fill="#7aff00" stroke="#306600"/>
<path d="M391.8 404.7L398.2 403.8L392.5 396L386.1 396.9Z" fill="#57ff00" stroke="#226600"/>
<path d="M308.4 331.2L315.2 333L309.7 325.3L302.9 323.5Z" fill="#00dc23" stroke="#00580e"/>
<path d="M548.5 473.7L554.6 467.1L548.5 459.1L542.4 465.6Z" fill="#c6ff00" stroke="#4f6600"/>
<path d="M326.2 348.4L332.9 349.6L327.4 341.9L320.7 340.7Z" fill="#00f906" stroke="#006302"/>
<path d="M451.7 445.7L457.9 442.8L452 434.8L445.8 437.7Z" fill="#99ff00" stroke="#3d6600"/>
<path d="M290.5 313.5L297.4 315.8L292 308.2L285.1 305.9Z" fill="#00bf40" stroke="#004c19"/>
<path d="M344 365.2L350.6 365.8L345 358.1L338.4 357.4Z" fill="#15ff00" stroke="#086600"/>
<path d="M272.6 295.3L279.6 298.2L274.2 290.7L267.2 287.7Z" fill="#00a15e" stroke="#004025"/>
<path d="M579.1 468.6L585.3 460.7L579.2 452.7L573 460.6Z" fill="#bcff00" stroke="#4b6600"/>
<path d="M361.9 381.5L368.4 381.6L362.7 373.8L356.2 373.6Z" fill="#2fff00" stroke="#126600"/>
<path d="M409.7 419.6L416 418.2L410.2 410.3L403.9 411.7Z" fill="#6eff00" stroke="#2c6600"/>
<path d="M560.7 475.1L566.8 468.1L560.7 460L554.6 467.1Z" fill="#c7ff00" stroke="#4f6600"/>
<path d="M439.6 440.1L445.8 437.7L440 429.8L433.8 432.2Z" fill="#8fff00" stroke="#396600"/>
<path d="M505.9 471.3L512 466.6L506 458.5L499.9 463.3Z" fill="#c2ff00" stroke="#4d6600"/>
<path d="M518 474.6L524.1 469.4L518.1 461.3L512 466.6Z" fill="#c7ff00" stroke="#4f6600"/>
<path d="M493.8 467.6L499.9 463.3L494 455.3L487.9 459.6Z" fill="#bbff00" stroke="#4a6600"/>
<path d="M530.2 477.4L536.3 471.7L530.2 463.7L524.1 469.4Z" fill="#cbff00" stroke="#516600"/>
<path d="M481.7 463.4L487.9 459.6L481.9 451.6L475.8 455.4Z" fill="#b4ff00" stroke="#486600"/>
<path d="M379.7 397.3L386.1 396.9L380.5 389L374 389.4Z" fill="#48ff00" stroke="#1c6600"/>
<path d="M542.4 479.8L548.5 473.7L542.4 465.6L536.3 471.7Z" fill="#ceff00" stroke="#526600"/>
<path d="M469.7 458.8L475.8 455.4L469.9 447.4L463.7 450.8Z" fill="#acff00" stroke="#446600"/>
<path d="M573 476.1L579.1 468.6L573 460.6L566.8 468.1Z" fill="#c7ff00" stroke="#4f6600"/>
<path d="M427.5 434.1L433.8 432.2L428 424.2L421.7 426.1Z" fill="#84ff00" stroke="#346600"/>
<path d="M397.6 412.7L403.9 411.7L398.2 403.8L391.8 404.7Z" fill="#60ff00" stroke="#266600"/>
<path d="M313.9 339L320.7 340.7L315.2 333L308.4 331.2Z" fill="#00e619" stroke="#005c0a"/>
<path d="M554.6 481.7L560.7 475.1L554.6 467.1L548.5 473.7Z" fill="#d0ff00" stroke="#536600"/>
<path d="M331.8 356.2L338.4 357.4L332.9 349.6L326.2 348.4Z" fill="#03ff00" stroke="#016600"/>
<path d="M457.6 453.7L463.7 450.8L457.9 442.8L451.7 445.7Z" fill="#a3ff00" stroke="#416600"/>
<path d="M296 321.2L302.9 323.5L297.4 315.8L290.5 313.5Z" fill="#00c936" stroke="#005015"/>
<path d="M349.6 373L356.2 373.6L350.6 365.8L344 365.2Z" fill="#1fff00" stroke="#0c6600"/>
<path d="M278.1 303L285.1 305.9L279.6 298.2L272.6 295.3Z" fill="#00ab54" stroke="#004421"/>
<path d="M367.5 389.3L374 389.4L368.4 381.6L361.9 381.5Z" fill="#39ff00" stroke="#166600"/>
<path d="M415.4 427.6L421.7 426.1L416 418.2L409.7 419.6Z" fill="#77ff00" stroke="#2f6600"/>
<path d="M566.9 483.2L573 476.1L566.8 468.1L560.7 475.1Z" fill="#d0ff00" stroke="#536600"/>
<path d="M445.5 448.1L451.7 445.7L445.8 437.7L439.6 440.1Z" fill="#99ff00" stroke="#3d6600"/>
<path d="M511.9 479.4L518 474.6L512 466.6L505.9 471.3Z" fill="#cbff00" stroke="#516600"/>
<path d="M524.1 482.7L530.2 477.4L524.1 469.4L518 474.6Z" fill="#d0ff00" stroke="#536600"/>
<path d="M499.8 475.7L505.9 471.3L499.9 463.3L493.8 467.6Z" fill="#c5ff00" stroke="#4e6600"/>
<path d="M536.3 485.5L542.4 479.8L536.3 471.7L530.2 477.4Z" fill="#d4ff00" stroke="#546600"/>
<path d="M487.7 471.5L493.8 467.6L487.9 459.6L481.7 463.4Z" fill="#beff00" stroke="#4c6600"/>
<path d="M385.4 405.2L391.8 404.7L386.1 396.9L379.7 397.3Z" fill="#52ff00" stroke="#206600"/>
<path d="M548.5 487.9L554.6 481.7L548.5 473.7L542.4 479.8Z" fill="#d7ff00" stroke="#566600"/>
<path d="M475.6 466.9L481.7 463.4L475.8 455.4L469.7 458.8Z" fill="#b6ff00" stroke="#486600"/>
<path d="M433.4 442.1L439.6 440.1L433.8 432.2L427.5 434.1Z" fill="#8dff00" stroke="#386600"/>
<path d="M403.3 420.6L409.7 419.6L403.9 411.7L397.6 412.7Z" fill="#6aff00" stroke="#2a6600"/>
<path d="M319.4 346.7L326.2 348.4L320.7 340.7L313.9 339Z" fill="#00f00f" stroke="#006006"/>
<path d="M560.7 489.9L566.9 483.2L560.7 475.1L554.6 481.7Z" fill="#d9ff00" stroke="#566600"/>
<path d="M337.4 364L344 365.2L338.4 357.4L331.8 356.2Z" fill="#0dff00" stroke="#056600"/>
<path d="M463.5 461.8L469.7 458.8L463.7 450.8L457.6 453.7Z" fill="#adff00" stroke="#456600"/>
<path d="M301.5 328.9L308.4 331.2L302.9 323.5L296 321.2Z" fill="#00d32c" stroke="#005411"/>
<path d="M355.3 380.9L361.9 381.5L356.2 373.6L349.6 373Z" fill="#28ff00" stroke="#106600"/>
<path d="M283.5 310.7L290.5 313.5L285.1 305.9L278.1 303Z" fill="#00b44b" stroke="#00481e"/>
<path d="M373.2 397.2L379.7 397.3L374 389.4L367.5 389.3Z" fill="#42ff00" stroke="#1a6600"/>
<path d="M421.3 435.6L427.5 434.1L421.7 426.1L415.4 427.6Z" fill="#81ff00" stroke="#336600"/>
<path d="M265.5 291.9L272.6 295.3L267.2 287.7L260.1 284.2Z" fill="#00956a" stroke="#003b2a"/>
<path d="M451.4 456.2L457.6 453.7L451.7 445.7L445.5 448.1Z" fill="#a2ff00" stroke="#406600"/>
<path d="M518 487.6L524.1 482.7L518 474.6L511.9 479.4Z" fill="#d5ff00" stroke="#556600"/>
<path d="M530.2 490.9L536.3 485.5L530.2 477.4L524.1 482.7Z" fill="#daff00" stroke="#576600"/>
<path d="M505.8 483.8L511.9 479.4L505.9 471.3L499.8 475.7Z" fill="#cfff00" stroke="#526600"/>
<path d="M542.4 493.7L548.5 487.9L542.4 479.8L536.3 485.5Z" fill="#deff00" stroke="#586600"/>
<path d="M493.7 479.6L499.8 475.7L493.8 467.6L487.7 471.5Z" fill="#c8ff00" stroke="#506600"/>
<path d="M391.1 413.1L397.6 412.7L391.8 404.7L385.4 405.2Z" fill="#5cff00" stroke="#246600"/>
<path d="M554.6 496.1L560.7 489.9L554.6 481.7L548.5 487.9Z" fill="#e1ff00" stroke="#5a6600"/>
<path d="M481.6 475L487.7 471.5L481.7 463.4L475.6 466.9Z" fill="#c0ff00" stroke="#4c6600"/>
<path d="M439.2 450.2L445.5 448.1L439.6 440.1L433.4 442.1Z" fill="#97ff00" stroke="#3c6600"/>
<path d="M409.1 428.6L415.4 427.6L409.7 419.6L403.3 420.6Z" fill="#74ff00" stroke="#2e6600"/>
<path d="M325 354.6L331.8 356.2L326.2 348.4L319.4 346.7Z" fill="#00fa05" stroke="#006402"/>
<path d="M343 371.9L349.6 373L344 365.2L337.4 364Z" fill="#17ff00" stroke="#096600"/>
<path d="M469.4 469.9L475.6 466.9L469.7 458.8L463.5 461.8Z" fill="#b6ff00" stroke="#486600"/>
<path d="M307 336.7L313.9 339L308.4 331.2L301.5 328.9Z" fill="#00dc23" stroke="#00580e"/>
<path d="M361 388.8L367.5 389.3L361.9 381.5L355.3 380.9Z" fill="#32ff00" stroke="#146600"/>
<path d="M289 318.4L296 321.2L290.5 313.5L283.5 310.7Z" fill="#00be41" stroke="#004c1a"/>
<path d="M378.9 405.2L385.4 405.2L379.7 397.3L373.2 397.2Z" fill="#4cff00" stroke="#1e6600"/>
<path d="M427.1 443.7L433.4 442.1L427.5 434.1L421.3 435.6Z" fill="#8bff00" stroke="#376600"/>
<path d="M271 299.6L278.1 303L272.6 295.3L265.5 291.9Z" fill="#009e61" stroke="#003f26"/>
<path d="M457.3 464.3L463.5 461.8L457.6 453.7L451.4 456.2Z" fill="#acff00" stroke="#446600"/>
<path d="M524.1 495.7L530.2 490.9L524.1 482.7L518 487.6Z" fill="#dfff00" stroke="#596600"/>
<path d="M536.3 499L542.4 493.7L536.3 485.5L530.2 490.9Z" fill="#e4ff00" stroke="#5b6600"/>
<path d="M511.9 492L518 487.6L511.9 479.4L505.8 483.8Z" fill="#d9ff00" stroke="#566600"/>
<path d="M548.5 501.9L554.6 496.1L548.5 487.9L542.4 493.7Z" fill="#e8ff00" stroke="#5c6600"/>
<path d="M499.7 487.8L505.8 483.8L499.8 475.7L493.7 479.6Z" fill="#d1ff00" stroke="#536600"/>
<path d="M396.9 421.1L403.3 420.6L397.6 412.7L391.1 413.1Z" fill="#65ff00" stroke="#286600"/>
<path d="M487.5 483.1L493.7 479.6L487.7 471.5L481.6 475Z" fill="#c9ff00" stroke="#506600"/>
<path d="M445.1 458.3L451.4 456.2L445.5 448.1L439.2 450.2Z" fill="#a1ff00" stroke="#406600"/>
<path d="M414.9 436.7L421.3 435.6L415.4 427.6L409.1 428.6Z" fill="#7dff00" stroke="#326600"/>
<path d="M330.6 362.4L337.4 364L331.8 356.2L325 354.6Z" fill="#04ff00" stroke="#016600"/>
<path d="M348.6 379.8L355.3 380.9L349.6 373L343 371.9Z" fill="#20ff00" stroke="#0c6600"/>
<path d="M475.4 478L481.6 475L475.6 466.9L469.4 469.9Z" fill="#c0ff00" stroke="#4c6600"/>
<path d="M312.6 344.5L319.4 346.7L313.9 339L307 336.7Z" fill="#00e619" stroke="#005c0a"/>
<path d="M366.7 396.7L373.2 397.2L367.5 389.3L361 388.8Z" fill="#3cff00" stroke="#186600"/>
<path d="M294.5 326.2L301.5 328.9L296 321.2L289 318.4Z" fill="#00c837" stroke="#005016"/>
<path d="M384.7 413.2L391.1 413.1L385.4 405.2L378.9 405.2Z" fill="#56ff00" stroke="#226600"/>
<path d="M433 451.7L439.2 450.2L433.4 442.1L427.1 443.7Z" fill="#94ff00" stroke="#3b6600"/>
<path d="M276.4 307.3L283.5 310.7L278.1 303L271 299.6Z" fill="#00a857" stroke="#004322"/>
<path d="M463.2 472.4L469.4 469.9L463.5 461.8L457.3 464.3Z" fill="#b6ff00" stroke="#486600"/>
<path d="M530.2 504L536.3 499L530.2 490.9L524.1 495.7Z" fill="#e8ff00" stroke="#5c6600"/>
<path d="M542.4 507.3L548.5 501.9L542.4 493.7L536.3 499Z" fill="#edff00" stroke="#5e6600"/>
<path d="M518 500.2L524.1 495.7L518 487.6L511.9 492Z" fill="#e2ff00" stroke="#5a6600"/>
<path d="M505.8 496L511.9 492L505.8 483.8L499.7 487.8Z" fill="#dbff00" stroke="#576600"/>
<path d="M402.7 429.2L409.1 428.6L403.3 420.6L396.9 421.1Z" fill="#6fff00" stroke="#2c6600"/>
<path d="M258.3 287.9L265.5 291.9L260.1 284.2L252.9 280.2Z" fill="#008877" stroke="#00362f"/>
<path d="M493.6 491.3L499.7 487.8L493.7 479.6L487.5 483.1Z" fill="#d3ff00" stroke="#546600"/>
<path d="M451.1 466.4L457.3 464.3L451.4 456.2L445.1 458.3Z" fill="#aaff00" stroke="#446600"/>
<path d="M420.8 444.7L427.1 443.7L421.3 435.6L414.9 436.7Z" fill="#87ff00" stroke="#366600"/>
<path d="M336.3 370.3L343 371.9L337.4 364L330.6 362.4Z" fill="#0eff00" stroke="#056600"/>
<path d="M354.3 387.7L361 388.8L355.3 380.9L348.6 379.8Z" fill="#2aff00" stroke="#106600"/>
<path d="M481.4 486.2L487.5 483.1L481.6 475L475.4 478Z" fill="#caff00" stroke="#506600"/>
<path d="M318.2 352.4L325 354.6L319.4 346.7L312.6 344.5Z" fill="#00f00f" stroke="#006006"/>
<path d="M372.4 404.7L378.9 405.2L373.2 397.2L366.7 396.7Z" fill="#45ff00" stroke="#1b6600"/>
<path d="M300.1 334L307 336.7L301.5 328.9L294.5 326.2Z" fill="#00d12e" stroke="#005312"/>
<path d="M390.4 421.2L396.9 421.1L391.1 413.1L384.7 413.2Z" fill="#60ff00" stroke="#266600"/>
<path d="M438.9 459.9L445.1 458.3L439.2 450.2L433 451.7Z" fill="#9eff00" stroke="#3f6600"/>
<path d="M281.9 315.1L289 318.4L283.5 310.7L276.4 307.3Z" fill="#00b24d" stroke="#00471e"/>
<path d="M469.2 480.6L475.4 478L469.4 469.9L463.2 472.4Z" fill="#bfff00" stroke="#4c6600"/>
<path d="M536.3 512.2L542.4 507.3L536.3 499L530.2 504Z" fill="#f2ff00" stroke="#606600"/>
<path d="M524.1 508.4L530.2 504L524.1 495.7L518 500.2Z" fill="#ecff00" stroke="#5e6600"/>
<path d="M511.8 504.2L518 500.2L511.9 492L505.8 496Z" fill="#e5ff00" stroke="#5b6600"/>
<path d="M408.5 437.3L414.9 436.7L409.1 428.6L402.7 429.2Z" fill="#79ff00" stroke="#306600"/>
<path d="M263.8 295.6L271 299.6L265.5 291.9L258.3 287.9Z" fill="#00916e" stroke="#003a2c"/>
<path d="M499.6 499.6L505.8 496L499.7 487.8L493.6 491.3Z" fill="#ddff00" stroke="#586600"/>
<path d="M457 474.6L463.2 472.4L457.3 464.3L451.1 466.4Z" fill="#b4ff00" stroke="#486600"/>
<path d="M426.6 452.9L433 451.7L427.1 443.7L420.8 444.7Z" fill="#91ff00" stroke="#3a6600"/>
<path d="M341.9 378.2L348.6 379.8L343 371.9L336.3 370.3Z" fill="#18ff00" stroke="#096600"/>
<path d="M360 395.7L366.7 396.7L361 388.8L354.3 387.7Z" fill="#34ff00" stroke="#146600"/>
<path d="M487.4 494.4L493.6 491.3L487.5 483.1L481.4 486.2Z" fill="#d3ff00" stroke="#546600"/>
<path d="M323.8 360.3L330.6 362.4L325 354.6L318.2 352.4Z" fill="#00f906" stroke="#006302"/>
<path d="M378.1 412.7L384.7 413.2L378.9 405.2L372.4 404.7Z" fill="#4fff00" stroke="#1f6600"/>
<path d="M305.7 341.8L312.6 344.5L307 336.7L300.1 334Z" fill="#00db24" stroke="#00570e"/>
<path d="M396.3 429.3L402.7 429.2L396.9 421.1L390.4 421.2Z" fill="#69ff00" stroke="#2a6600"/>
<path d="M444.8 468L451.1 466.4L445.1 458.3L438.9 459.9Z" fill="#a8ff00" stroke="#436600"/>
<path d="M287.5 322.9L294.5 326.2L289 318.4L281.9 315.1Z" fill="#00bc43" stroke="#004b1a"/>
<path d="M475.2 488.8L481.4 486.2L475.4 478L469.2 480.6Z" fill="#c9ff00" stroke="#506600"/>
<path d="M530.2 516.7L536.3 512.2L530.2 504L524.1 508.4Z" fill="#f6ff00" stroke="#626600"/>
<path d="M518 512.5L524.1 508.4L518 500.2L511.8 504.2Z" fill="#eeff00" stroke="#5f6600"/>
<path d="M414.4 445.4L420.8 444.7L414.9 436.7L408.5 437.3Z" fill="#82ff00" stroke="#346600"/>
<path d="M269.3 303.4L276.4 307.3L271 299.6L263.8 295.6Z" fill="#009b64" stroke="#003e28"/>
<path d="M505.7 507.8L511.8 504.2L505.8 496L499.6 499.6Z" fill="#e6ff00" stroke="#5c6600"/>
<path d="M463 482.8L469.2 480.6L463.2 472.4L457 474.6Z" fill="#beff00" stroke="#4c6600"/>
<path d="M432.5 461L438.9 459.9L433 451.7L426.6 452.9Z" fill="#9aff00" stroke="#3d6600"/>
<path d="M347.6 386.2L354.3 387.7L348.6 379.8L341.9 378.2Z" fill="#21ff00" stroke="#0d6600"/>
<path d="M251 283.4L258.3 287.9L252.9 280.2L245.5 275.7Z" fill="#007a85" stroke="#003035"/>
<path d="M365.8 403.7L372.4 404.7L366.7 396.7L360 395.7Z" fill="#3eff00" stroke="#186600"/>
<path d="M493.5 502.7L499.6 499.6L493.6 491.3L487.4 494.4Z" fill="#ddff00" stroke="#586600"/>
<path d="M329.5 368.2L336.3 370.3L330.6 362.4L323.8 360.3Z" fill="#04ff00" stroke="#016600"/>
<path d="M383.9 420.8L390.4 421.2L384.7 413.2L378.1 412.7Z" fill="#59ff00" stroke="#236600"/>
<path d="M311.3 349.7L318.2 352.4L312.6 344.5L305.7 341.8Z" fill="#00e51a" stroke="#005b0a"/>
<path d="M402.1 437.4L408.5 437.3L402.7 429.2L396.3 429.3Z" fill="#73ff00" stroke="#2e6600"/>
<path d="M450.7 476.2L457 474.6L451.1 466.4L444.8 468Z" fill="#b2ff00" stroke="#476600"/>
<path d="M293 330.7L300.1 334L294.5 326.2L287.5 322.9Z" fill="#00c53a" stroke="#004e17"/>
<path d="M481.2 497.1L487.4 494.4L481.4 486.2L475.2 488.8Z" fill="#d3ff00" stroke="#546600"/>
<path d="M524.1 520.8L530.2 516.7L524.1 508.4L518 512.5Z" fill="#f8ff00" stroke="#636600"/>
<path d="M420.3 453.5L426.6 452.9L420.8 444.7L414.4 445.4Z" fill="#8cff00" stroke="#386600"/>
<path d="M274.8 311.2L281.9 315.1L276.4 307.3L269.3 303.4Z" fill="#00a55a" stroke="#004224"/>
<path d="M511.8 516.2L518 512.5L511.8 504.2L505.7 507.8Z" fill="#f0ff00" stroke="#606600"/>
<path d="M469 491L475.2 488.8L469.2 480.6L463 482.8Z" fill="#c8ff00" stroke="#506600"/>
<path d="M438.5 469.2L444.8 468L438.9 459.9L432.5 461Z" fill="#a4ff00" stroke="#416600"/>
<path d="M353.3 394.2L360 395.7L354.3 387.7L347.6 386.2Z" fill="#2bff00" stroke="#116600"/>
<path d="M256.5 291.2L263.8 295.6L258.3 287.9L251 283.4Z" fill="#00837c" stroke="#003431"/>
<path d="M371.5 411.8L378.1 412.7L372.4 404.7L365.8 403.7Z" fill="#47ff00" stroke="#1c6600"/>
<path d="M499.6 511L505.7 507.8L499.6 499.6L493.5 502.7Z" fill="#e7ff00" stroke="#5c6600"/>
<path d="M335.1 376.2L341.9 378.2L336.3 370.3L329.5 368.2Z" fill="#0eff00" stroke="#056600"/>
<path d="M389.7 428.9L396.3 429.3L390.4 421.2L383.9 420.8Z" fill="#62ff00" stroke="#276600"/>
<path d="M316.9 357.7L323.8 360.3L318.2 352.4L311.3 349.7Z" fill="#00ee11" stroke="#005f06"/>
<path d="M408 445.5L414.4 445.4L408.5 437.3L402.1 437.4Z" fill="#7dff00" stroke="#326600"/>
<path d="M456.7 484.5L463 482.8L457 474.6L450.7 476.2Z" fill="#bbff00" stroke="#4a6600"/>
<path d="M298.6 338.6L305.7 341.8L300.1 334L293 330.7Z" fill="#00cf30" stroke="#005213"/>
<path d="M487.3 505.4L493.5 502.7L487.4 494.4L481.2 497.1Z" fill="#ddff00" stroke="#586600"/>
<path d="M426.2 461.7L432.5 461L426.6 452.9L420.3 453.5Z" fill="#96ff00" stroke="#3c6600"/>
<path d="M280.3 319.1L287.5 322.9L281.9 315.1L274.8 311.2Z" fill="#00ae51" stroke="#004520"/>
<path d="M518 524.5L524.1 520.8L518 512.5L511.8 516.2Z" fill="#faff00" stroke="#646600"/>
<path d="M475 499.3L481.2 497.1L475.2 488.8L469 491Z" fill="#d1ff00" stroke="#536600"/>
<path d="M444.4 477.5L450.7 476.2L444.8 468L438.5 469.2Z" fill="#aeff00" stroke="#456600"/>
<path d="M359.1 402.3L365.8 403.7L360 395.7L353.3 394.2Z" fill="#35ff00" stroke="#156600"/>
<path d="M262 299L269.3 303.4L263.8 295.6L256.5 291.2Z" fill="#008d72" stroke="#00382d"/>
<path d="M377.3 419.9L383.9 420.8L378.1 412.7L371.5 411.8Z" fill="#51ff00" stroke="#206600"/>
<path d="M505.7 519.4L511.8 516.2L505.7 507.8L499.6 511Z" fill="#f0ff00" stroke="#606600"/>
<path d="M340.8 384.2L347.6 386.2L341.9 378.2L335.1 376.2Z" fill="#17ff00" stroke="#096600"/>
<path d="M395.6 437.1L402.1 437.4L396.3 429.3L389.7 428.9Z" fill="#6cff00" stroke="#2b6600"/>
<path d="M322.6 365.6L329.5 368.2L323.8 360.3L316.9 357.7Z" fill="#00f807" stroke="#006302"/>
<path d="M413.8 453.7L420.3 453.5L414.4 445.4L408 445.5Z" fill="#86ff00" stroke="#356600"/>
<path d="M462.7 492.8L469 491L463 482.8L456.7 484.5Z" fill="#c5ff00" stroke="#4e6600"/>
<path d="M304.3 346.5L311.3 349.7L305.7 341.8L298.6 338.6Z" fill="#00d926" stroke="#00560f"/>
<path d="M493.4 513.8L499.6 511L493.5 502.7L487.3 505.4Z" fill="#e6ff00" stroke="#5c6600"/>
<path d="M243.5 278.3L251 283.4L245.5 275.7L238.1 270.6Z" fill="#006b94" stroke="#002a3b"/>
<path d="M432.1 470L438.5 469.2L432.5 461L426.2 461.7Z" fill="#9fff00" stroke="#3f6600"/>
<path d="M285.9 326.9L293 330.7L287.5 322.9L280.3 319.1Z" fill="#00b847" stroke="#00491c"/>
<path d="M481.1 507.7L487.3 505.4L481.2 497.1L475 499.3Z" fill="#dbff00" stroke="#576600"/>
<path d="M450.4 485.8L456.7 484.5L450.7 476.2L444.4 477.5Z" fill="#b8ff00" stroke="#496600"/>
<path d="M364.9 410.4L371.5 411.8L365.8 403.7L359.1 402.3Z" fill="#3eff00" stroke="#186600"/>
<path d="M267.5 306.8L274.8 311.2L269.3 303.4L262 299Z" fill="#009768" stroke="#003c29"/>
<path d="M383.2 428.1L389.7 428.9L383.9 420.8L377.3 419.9Z" fill="#5bff00" stroke="#246600"/>
<path d="M511.8 527.8L518 524.5L511.8 516.2L505.7 519.4Z" fill="#faff00" stroke="#646600"/>
<path d="M346.6 392.3L353.3 394.2L347.6 386.2L340.8 384.2Z" fill="#21ff00" stroke="#0d6600"/>
<path d="M401.5 445.3L408 445.5L402.1 437.4L395.6 437.1Z" fill="#76ff00" stroke="#2f6600"/>
<path d="M328.3 373.6L335.1 376.2L329.5 368.2L322.6 365.6Z" fill="#03ff00" stroke="#016600"/>
<path d="M419.8 462L426.2 461.7L420.3 453.5L413.8 453.7Z" fill="#90ff00" stroke="#396600"/>
<path d="M468.8 501.1L475 499.3L469 491L462.7 492.8Z" fill="#cfff00" stroke="#526600"/>
<path d="M309.9 354.5L316.9 357.7L311.3 349.7L304.3 346.5Z" fill="#00e21d" stroke="#005a0b"/>
<path d="M499.5 522.1L505.7 519.4L499.6 511L493.4 513.8Z" fill="#f0ff00" stroke="#606600"/>
<path d="M249 286.1L256.5 291.2L251 283.4L243.5 278.3Z" fill="#00748b" stroke="#002e37"/>
<path d="M438.1 478.3L444.4 477.5L438.5 469.2L432.1 470Z" fill="#a9ff00" stroke="#436600"/>
<path d="M291.5 334.9L298.6 338.6L293 330.7L285.9 326.9Z" fill="#00c23d" stroke="#004d18"/>
<path d="M487.2 516.1L493.4 513.8L487.3 505.4L481.1 507.7Z" fill="#e5ff00" stroke="#5b6600"/>
<path d="M456.5 494.1L462.7 492.8L456.7 484.5L450.4 485.8Z" fill="#c1ff00" stroke="#4d6600"/>
<path d="M370.7 418.6L377.3 419.9L371.5 411.8L364.9 410.4Z" fill="#48ff00" stroke="#1c6600"/>
<path d="M273.1 314.7L280.3 319.1L274.8 311.2L267.5 306.8Z" fill="#00a05f" stroke="#004026"/>
<path d="M389 436.3L395.6 437.1L389.7 428.9L383.2 428.1Z" fill="#64ff00" stroke="#286600"/>
<path d="M352.3 400.4L359.1 402.3L353.3 394.2L346.6 392.3Z" fill="#2bff00" stroke="#116600"/>
<path d="M407.4 453.5L413.8 453.7L408 445.5L401.5 445.3Z" fill="#7fff00" stroke="#326600"/>
<path d="M334 381.7L340.8 384.2L335.1 376.2L328.3 373.6Z" fill="#0cff00" stroke="#046600"/>
<path d="M425.7 470.3L432.1 470L426.2 461.7L419.8 462Z" fill="#9aff00" stroke="#3d6600"/>
<path d="M474.9 509.5L481.1 507.7L475 499.3L468.8 501.1Z" fill="#d8ff00" stroke="#566600"/>
<path d="M315.6 362.5L322.6 365.6L316.9 357.7L309.9 354.5Z" fill="#00ec13" stroke="#005e07"/>
<path d="M505.7 530.6L511.8 527.8L505.7 519.4L499.5 522.1Z" fill="#faff00" stroke="#646600"/>
<path d="M254.5 294L262 299L256.5 291.2L249 286.1Z" fill="#007e81" stroke="#003233"/>
<path d="M444.1 486.6L450.4 485.8L444.4 477.5L438.1 478.3Z" fill="#b3ff00" stroke="#476600"/>
<path d="M297.1 342.8L304.3 346.5L298.6 338.6L291.5 334.9Z" fill="#00cc33" stroke="#005114"/>
<path d="M493.3 524.5L499.5 522.1L493.4 513.8L487.2 516.1Z" fill="#eeff00" stroke="#5f6600"/>
<path d="M462.5 502.5L468.8 501.1L462.7 492.8L456.5 494.1Z" fill="#cbff00" stroke="#516600"/>
<path d="M236 272.7L243.5 278.3L238.1 270.6L230.5 264.9Z" fill="#005aa5" stroke="#002442"/>
<path d="M376.5 426.7L383.2 428.1L377.3 419.9L370.7 418.6Z" fill="#52ff00" stroke="#206600"/>
<path d="M278.6 322.6L285.9 326.9L280.3 319.1L273.1 314.7Z" fill="#00aa55" stroke="#004422"/>
<path d="M394.9 444.5L401.5 445.3L395.6 437.1L389 436.3Z" fill="#6eff00" stroke="#2c6600"/>
<path d="M358.1 408.5L364.9 410.4L359.1 402.3L352.3 400.4Z" fill="#34ff00" stroke="#146600"/>
<path d="M413.3 461.8L419.8 462L413.8 453.7L407.4 453.5Z" fill="#89ff00" stroke="#366600"/>
<path d="M339.7 389.8L346.6 392.3L340.8 384.2L334 381.7Z" fill="#16ff00" stroke="#086600"/>
<path d="M431.7 478.6L438.1 478.3L432.1 470L425.7 470.3Z" fill="#a3ff00" stroke="#416600"/>
<path d="M481 517.9L487.2 516.1L481.1 507.7L474.9 509.5Z" fill="#e2ff00" stroke="#5a6600"/>
<path d="M321.3 370.6L328.3 373.6L322.6 365.6L315.6 362.5Z" fill="#00f609" stroke="#006203"/>
<path d="M260.1 301.9L267.5 306.8L262 299L254.5 294Z" fill="#008877" stroke="#00362f"/>
<path d="M450.1 495L456.5 494.1L450.4 485.8L444.1 486.6Z" fill="#bcff00" stroke="#4b6600"/>
<path d="M302.8 350.8L309.9 354.5L304.3 346.5L297.1 342.8Z" fill="#00d52a" stroke="#005510"/>
<path d="M499.5 533L505.7 530.6L499.5 522.1L493.3 524.5Z" fill="#f8ff00" stroke="#636600"/>
<path d="M468.6 510.9L474.9 509.5L468.8 501.1L462.5 502.5Z" fill="#d5ff00" stroke="#556600"/>
<path d="M241.5 280.5L249 286.1L243.5 278.3L236 272.7Z" fill="#00649b" stroke="#00283e"/>
<path d="M382.4 435L389 436.3L383.2 428.1L376.5 426.7Z" fill="#5bff00" stroke="#246600"/>
<path d="M284.3 330.6L291.5 334.9L285.9 326.9L278.6 322.6Z" fill="#00b44b" stroke="#00481e"/>
<path d="M400.8 452.8L407.4 453.5L401.5 445.3L394.9 444.5Z" fill="#78ff00" stroke="#306600"/>
<path d="M364 416.7L370.7 418.6L364.9 410.4L358.1 408.5Z" fill="#3eff00" stroke="#186600"/>
<path d="M419.3 470.1L425.7 470.3L419.8 462L413.3 461.8Z" fill="#93ff00" stroke="#3a6600"/>
<path d="M345.5 397.9L352.3 400.4L346.6 392.3L339.7 389.8Z" fill="#20ff00" stroke="#0c6600"/>
<path d="M437.7 487L444.1 486.6L438.1 478.3L431.7 478.6Z" fill="#adff00" stroke="#456600"/>
<path d="M487.1 526.4L493.3 524.5L487.2 516.1L481 517.9Z" fill="#ecff00" stroke="#5e6600"/>
<path d="M327 378.7L334 381.7L328.3 373.6L321.3 370.6Z" fill="#00ff00" stroke="#006600"/>
<path d="M265.7 309.8L273.1 314.7L267.5 306.8L260.1 301.9Z" fill="#00916e" stroke="#003a2c"/>
<path d="M456.2 503.4L462.5 502.5L456.5 494.1L450.1 495Z" fill="#c6ff00" stroke="#4f6600"/>
<path d="M308.5 358.9L315.6 362.5L309.9 354.5L302.8 350.8Z" fill="#00df20" stroke="#00590c"/>
<path d="M474.7 519.4L481 517.9L474.9 509.5L468.6 510.9Z" fill="#deff00" stroke="#586600"/>
<path d="M247 288.4L254.5 294L249 286.1L241.5 280.5Z" fill="#006e91" stroke="#002c3a"/>
<path d="M388.3 443.2L394.9 444.5L389 436.3L382.4 435Z" fill="#65ff00" stroke="#286600"/>
<path d="M289.9 338.6L297.1 342.8L291.5 334.9L284.3 330.6Z" fill="#00bd42" stroke="#004b1a"/>
<path d="M406.8 461.1L413.3 461.8L407.4 453.5L400.8 452.8Z" fill="#81ff00" stroke="#336600"/>
<path d="M369.8 424.9L376.5 426.7L370.7 418.6L364 416.7Z" fill="#48ff00" stroke="#1c6600"/>
<path d="M425.3 478.5L431.7 478.6L425.7 470.3L419.3 470.1Z" fill="#9dff00" stroke="#3e6600"/>
<path d="M351.3 406.1L358.1 408.5L352.3 400.4L345.5 397.9Z" fill="#29ff00" stroke="#106600"/>
<path d="M443.8 495.4L450.1 495L444.1 486.6L437.7 487Z" fill="#b7ff00" stroke="#496600"/>
<path d="M493.3 534.9L499.5 533L493.3 524.5L487.1 526.4Z" fill="#f5ff00" stroke="#626600"/>
<path d="M332.8 386.8L339.7 389.8L334 381.7L327 378.7Z" fill="#0aff00" stroke="#046600"/>
<path d="M271.3 317.7L278.6 322.6L273.1 314.7L265.7 309.8Z" fill="#009b64" stroke="#003e28"/>
<path d="M228.2 266.5L236 272.7L230.5 264.9L222.7 258.7Z" fill="#0049b6" stroke="#001d48"/>
<path d="M462.3 511.8L468.6 510.9L462.5 502.5L456.2 503.4Z" fill="#d0ff00" stroke="#536600"/>
<path d="M314.2 367L321.3 370.6L315.6 362.5L308.5 358.9Z" fill="#00e916" stroke="#005d08"/>
<path d="M480.9 527.9L487.1 526.4L481 517.9L474.7 519.4Z" fill="#e8ff00" stroke="#5c6600"/>
<path d="M252.6 296.3L260.1 301.9L254.5 294L247 288.4Z" fill="#007788" stroke="#002f36"/>
<path d="M394.2 451.6L400.8 452.8L394.9 444.5L388.3 443.2Z" fill="#6fff00" stroke="#2c6600"/>
<path d="M295.6 346.6L302.8 350.8L297.1 342.8L289.9 338.6Z" fill="#00c738" stroke="#004f16"/>
<path d="M412.8 469.4L419.3 470.1L413.3 461.8L406.8 461.1Z" fill="#8bff00" stroke="#376600"/>
<path d="M375.7 433.2L382.4 435L376.5 426.7L369.8 424.9Z" fill="#51ff00" stroke="#206600"/>
<path d="M431.3 486.9L437.7 487L431.7 478.6L425.3 478.5Z" fill="#a6ff00" stroke="#426600"/>
<path d="M357.2 414.3L364 416.7L358.1 408.5L351.3 406.1Z" fill="#33ff00" stroke="#146600"/>
<path d="M449.9 503.8L456.2 503.4L450.1 495L443.8 495.4Z" fill="#c0ff00" stroke="#4c6600"/>
<path d="M338.6 395L345.5 397.9L339.7 389.8L332.8 386.8Z" fill="#14ff00" stroke="#086600"/>
<path d="M276.9 325.7L284.3 330.6L278.6 322.6L271.3 317.7Z" fill="#00a55a" stroke="#004224"/>
<path d="M233.8 274.4L241.5 280.5L236 272.7L228.2 266.5Z" fill="#0053ac" stroke="#002144"/>
<path d="M468.5 520.3L474.7 519.4L468.6 510.9L462.3 511.8Z" fill="#daff00" stroke="#576600"/>
<path d="M320 375.1L327 378.7L321.3 370.6L314.2 367Z" fill="#00f20d" stroke="#006005"/>
<path d="M487.1 536.4L493.3 534.9L487.1 526.4L480.9 527.9Z" fill="#f2ff00" stroke="#606600"/>
<path d="M258.2 304.3L265.7 309.8L260.1 301.9L252.6 296.3Z" fill="#00817e" stroke="#003332"/>
<path d="M400.2 459.9L406.8 461.1L400.8 452.8L394.2 451.6Z" fill="#78ff00" stroke="#306600"/>
<path d="M301.3 354.7L308.5 358.9L302.8 350.8L295.6 346.6Z" fill="#00d12e" stroke="#005312"/>
<path d="M418.8 477.8L425.3 478.5L419.3 470.1L412.8 469.4Z" fill="#95ff00" stroke="#3b6600"/>
<path d="M381.6 441.5L388.3 443.2L382.4 435L375.7 433.2Z" fill="#5bff00" stroke="#246600"/>
<path d="M437.4 495.3L443.8 495.4L437.7 487L431.3 486.9Z" fill="#b0ff00" stroke="#466600"/>
<path d="M363 422.6L369.8 424.9L364 416.7L357.2 414.3Z" fill="#3dff00" stroke="#186600"/>
<path d="M456 512.3L462.3 511.8L456.2 503.4L449.9 503.8Z" fill="#caff00" stroke="#506600"/>
<path d="M344.4 403.2L351.3 406.1L345.5 397.9L338.6 395Z" fill="#1dff00" stroke="#0b6600"/>
<path d="M282.6 333.8L289.9 338.6L284.3 330.6L276.9 325.7Z" fill="#00ae51" stroke="#004520"/>
<path d="M239.3 282.3L247 288.4L241.5 280.5L233.8 274.4Z" fill="#005da2" stroke="#002540"/>
<path d="M474.6 528.9L480.9 527.9L474.7 519.4L468.5 520.3Z" fill="#e3ff00" stroke="#5a6600"/>
<path d="M325.8 383.3L332.8 386.8L327 378.7L320 375.1Z" fill="#00fc03" stroke="#006401"/>
<path d="M263.8 312.3L271.3 317.7L265.7 309.8L258.2 304.3Z" fill="#008b74" stroke="#00372e"/>
<path d="M406.2 468.3L412.8 469.4L406.8 461.1L400.2 459.9Z" fill="#82ff00" stroke="#346600"/>
<path d="M307 362.9L314.2 367L308.5 358.9L301.3 354.7Z" fill="#00db24" stroke="#00570e"/>
<path d="M424.8 486.3L431.3 486.9L425.3 478.5L418.8 477.8Z" fill="#9eff00" stroke="#3f6600"/>
<path d="M387.6 449.9L394.2 451.6L388.3 443.2L381.6 441.5Z" fill="#65ff00" stroke="#286600"/>
<path d="M443.5 503.8L449.9 503.8L443.8 495.4L437.4 495.3Z" fill="#baff00" stroke="#4a6600"/>
<path d="M368.9 430.9L375.7 433.2L369.8 424.9L363 422.6Z" fill="#46ff00" stroke="#1c6600"/>
<path d="M220.4 259.7L228.2 266.5L222.7 258.7L214.9 251.8Z" fill="#0037c8" stroke="#001650"/>
<path d="M462.1 520.9L468.5 520.3L462.3 511.8L456 512.3Z" fill="#d4ff00" stroke="#546600"/>
<path d="M350.3 411.5L357.2 414.3L351.3 406.1L344.4 403.2Z" fill="#27ff00" stroke="#0f6600"/>
<path d="M288.3 341.9L295.6 346.6L289.9 338.6L282.6 333.8Z" fill="#00b847" stroke="#00491c"/>
<path d="M244.9 290.2L252.6 296.3L247 288.4L239.3 282.3Z" fill="#006699" stroke="#00283d"/>
<path d="M480.8 537.5L487.1 536.4L480.9 527.9L474.6 528.9Z" fill="#edff00" stroke="#5e6600"/>
<path d="M331.6 391.5L338.6 395L332.8 386.8L325.8 383.3Z" fill="#07ff00" stroke="#026600"/>
<path d="M269.4 320.3L276.9 325.7L271.3 317.7L263.8 312.3Z" fill="#00946b" stroke="#003b2a"/>
<path d="M412.2 476.8L418.8 477.8L412.8 469.4L406.2 468.3Z" fill="#8cff00" stroke="#386600"/>
<path d="M312.8 371L320 375.1L314.2 367L307 362.9Z" fill="#00e41b" stroke="#005b0a"/>
<path d="M430.9 494.8L437.4 495.3L431.3 486.9L424.8 486.3Z" fill="#a8ff00" stroke="#436600"/>
<path d="M393.5 458.3L400.2 459.9L394.2 451.6L387.6 449.9Z" fill="#6eff00" stroke="#2c6600"/>
<path d="M449.6 512.3L456 512.3L449.9 503.8L443.5 503.8Z" fill="#c3ff00" stroke="#4e6600"/>
<path d="M374.9 439.3L381.6 441.5L375.7 433.2L368.9 430.9Z" fill="#50ff00" stroke="#206600"/>
<path d="M225.9 267.6L233.8 274.4L228.2 266.5L220.4 259.7Z" fill="#0041be" stroke="#001a4c"/>
<path d="M468.3 529.5L474.6 528.9L468.5 520.3L462.1 520.9Z" fill="#ddff00" stroke="#586600"/>
<path d="M356.2 419.8L363 422.6L357.2 414.3L350.3 411.5Z" fill="#31ff00" stroke="#136600"/>
<path d="M294 350L301.3 354.7L295.6 346.6L288.3 341.9Z" fill="#00c23d" stroke="#004d18"/>
<path d="M250.5 298.2L258.2 304.3L252.6 296.3L244.9 290.2Z" fill="#00708f" stroke="#002c39"/>
<path d="M337.4 399.8L344.4 403.2L338.6 395L331.6 391.5Z" fill="#10ff00" stroke="#066600"/>
<path d="M275.1 328.4L282.6 333.8L276.9 325.7L269.4 320.3Z" fill="#009e61" stroke="#003f26"/>
<path d="M418.3 485.3L424.8 486.3L418.8 477.8L412.2 476.8Z" fill="#95ff00" stroke="#3b6600"/>
<path d="M318.6 379.2L325.8 383.3L320 375.1L312.8 371Z" fill="#00ee11" stroke="#005f06"/>
<path d="M437 503.3L443.5 503.8L437.4 495.3L430.9 494.8Z" fill="#b2ff00" stroke="#476600"/>
<path d="M399.6 466.7L406.2 468.3L400.2 459.9L393.5 458.3Z" fill="#78ff00" stroke="#306600"/>
<path d="M455.7 520.9L462.1 520.9L456 512.3L449.6 512.3Z" fill="#cdff00" stroke="#526600"/>
<path d="M380.8 447.7L387.6 449.9L381.6 441.5L374.9 439.3Z" fill="#5aff00" stroke="#246600"/>
<path d="M231.5 275.5L239.3 282.3L233.8 274.4L225.9 267.6Z" fill="#004ab5" stroke="#001d48"/>
<path d="M474.5 538.1L480.8 537.5L474.6 528.9L468.3 529.5Z" fill="#e7ff00" stroke="#5c6600"/>
<path d="M362.1 428.1L368.9 430.9L363 422.6L356.2 419.8Z" fill="#3aff00" stroke="#176600"/>
<path d="M299.8 358.2L307 362.9L301.3 354.7L294 350Z" fill="#00cb34" stroke="#005114"/>
<path d="M256.2 306.3L263.8 312.3L258.2 304.3L250.5 298.2Z" fill="#007a85" stroke="#003035"/>
<path d="M343.3 408.1L350.3 411.5L344.4 403.2L337.4 399.8Z" fill="#1aff00" stroke="#0a6600"/>
<path d="M280.9 336.5L288.3 341.9L282.6 333.8L275.1 328.4Z" fill="#00a857" stroke="#004322"/>
<path d="M212.4 252.2L220.4 259.7L214.9 251.8L206.9 244.3Z" fill="#0024db" stroke="#000e57"/>
<path d="M424.4 493.8L430.9 494.8L424.8 486.3L418.3 485.3Z" fill="#9fff00" stroke="#3f6600"/>
<path d="M324.4 387.5L331.6 391.5L325.8 383.3L318.6 379.2Z" fill="#00f807" stroke="#006302"/>
<path d="M443.1 511.9L449.6 512.3L443.5 503.8L437 503.3Z" fill="#bbff00" stroke="#4a6600"/>
<path d="M405.6 475.2L412.2 476.8L406.2 468.3L399.6 466.7Z" fill="#82ff00" stroke="#346600"/>
<path d="M461.9 529.6L468.3 529.5L462.1 520.9L455.7 520.9Z" fill="#d7ff00" stroke="#566600"/>
<path d="M386.8 456.1L393.5 458.3L387.6 449.9L380.8 447.7Z" fill="#64ff00" stroke="#286600"/>
<path d="M237.1 283.5L244.9 290.2L239.3 282.3L231.5 275.5Z" fill="#0054ab" stroke="#002144"/>
<path d="M368 436.5L374.9 439.3L368.9 430.9L362.1 428.1Z" fill="#44ff00" stroke="#1b6600"/>
<path d="M305.6 366.4L312.8 371L307 362.9L299.8 358.2Z" fill="#00d52a" stroke="#005510"/>
<path d="M261.9 314.3L269.4 320.3L263.8 312.3L256.2 306.3Z" fill="#00837c" stroke="#003431"/>
<path d="M349.2 416.4L356.2 419.8L350.3 411.5L343.3 408.1Z" fill="#24ff00" stroke="#0e6600"/>
<path d="M286.6 344.7L294 350L288.3 341.9L280.9 336.5Z" fill="#00b24d" stroke="#00471e"/>
<path d="M218 260.2L225.9 267.6L220.4 259.7L212.4 252.2Z" fill="#002dd2" stroke="#001254"/>
<path d="M430.5 502.4L437 503.3L430.9 494.8L424.4 493.8Z" fill="#a9ff00" stroke="#436600"/>
<path d="M330.3 395.8L337.4 399.8L331.6 391.5L324.4 387.5Z" fill="#02ff00" stroke="#006600"/>
<path d="M449.3 520.5L455.7 520.9L449.6 512.3L443.1 511.9Z" fill="#c5ff00" stroke="#4e6600"/>
<path d="M411.7 483.7L418.3 485.3L412.2 476.8L405.6 475.2Z" fill="#8cff00" stroke="#386600"/>
<path d="M468.2 538.2L474.5 538.1L468.3 529.5L461.9 529.6Z" fill="#e0ff00" stroke="#596600"/>
<path d="M392.8 464.6L399.6 466.7L393.5 458.3L386.8 456.1Z" fill="#6dff00" stroke="#2b6600"/>
<path d="M242.8 291.6L250.5 298.2L244.9 290.2L237.1 283.5Z" fill="#005ea1" stroke="#002540"/>
<path d="M374 445L380.8 447.7L374.9 439.3L368 436.5Z" fill="#4eff00" stroke="#1f6600"/>
<path d="M311.4 374.6L318.6 379.2L312.8 371L305.6 366.4Z" fill="#00df20" stroke="#00590c"/>
<path d="M267.6 322.5L275.1 328.4L269.4 320.3L261.9 314.3Z" fill="#008d72" stroke="#00382d"/>
<path d="M355.1 424.8L362.1 428.1L356.2 419.8L349.2 416.4Z" fill="#2dff00" stroke="#126600"/>
<path d="M292.4 352.9L299.8 358.2L294 350L286.6 344.7Z" fill="#00bb44" stroke="#004a1b"/>
<path d="M223.6 268.2L231.5 275.5L225.9 267.6L218 260.2Z" fill="#0037c8" stroke="#001650"/>
<path d="M436.7 511L443.1 511.9L437 503.3L430.5 502.4Z" fill="#b3ff00" stroke="#476600"/>
<path d="M336.2 404.2L343.3 408.1L337.4 399.8L330.3 395.8Z" fill="#0cff00" stroke="#046600"/>
<path d="M455.5 529.2L461.9 529.6L455.7 520.9L449.3 520.5Z" fill="#cfff00" stroke="#526600"/>
<path d="M417.8 492.3L424.4 493.8L418.3 485.3L411.7 483.7Z" fill="#95ff00" stroke="#3b6600"/>
<path d="M398.9 473.1L405.6 475.2L399.6 466.7L392.8 464.6Z" fill="#77ff00" stroke="#2f6600"/>
<path d="M248.4 299.6L256.2 306.3L250.5 298.2L242.8 291.6Z" fill="#006798" stroke="#00293c"/>
<path d="M380 453.4L386.8 456.1L380.8 447.7L374 445Z" fill="#58ff00" stroke="#236600"/>
<path d="M317.2 382.9L324.4 387.5L318.6 379.2L311.4 374.6Z" fill="#00e817" stroke="#005c09"/>
<path d="M273.3 330.6L280.9 336.5L275.1 328.4L267.6 322.5Z" fill="#009768" stroke="#003c29"/>
<path d="M361.1 433.3L368 436.5L362.1 428.1L355.1 424.8Z" fill="#37ff00" stroke="#166600"/>
<path d="M204.2 244.2L212.4 252.2L206.9 244.3L198.7 236.2Z" fill="#000ff0" stroke="#000660"/>
<path d="M298.2 361.2L305.6 366.4L299.8 358.2L292.4 352.9Z" fill="#00c53a" stroke="#004e17"/>
<path d="M229.2 276.2L237.1 283.5L231.5 275.5L223.6 268.2Z" fill="#0041be" stroke="#001a4c"/>
<path d="M442.8 519.7L449.3 520.5L443.1 511.9L436.7 511Z" fill="#bcff00" stroke="#4b6600"/>
<path d="M342.1 412.5L349.2 416.4L343.3 408.1L336.2 404.2Z" fill="#16ff00" stroke="#086600"/>
<path d="M461.8 537.9L468.2 538.2L461.9 529.6L455.5 529.2Z" fill="#d8ff00" stroke="#566600"/>
<path d="M423.9 500.9L430.5 502.4L424.4 493.8L417.8 492.3Z" fill="#9fff00" stroke="#3f6600"/>
<path d="M405 481.7L411.7 483.7L405.6 475.2L398.9 473.1Z" fill="#81ff00" stroke="#336600"/>
<path d="M254.1 307.8L261.9 314.3L256.2 306.3L248.4 299.6Z" fill="#00718e" stroke="#002d38"/>
<path d="M386.1 462L392.8 464.6L386.8 456.1L380 453.4Z" fill="#61ff00" stroke="#266600"/>
<path d="M323.1 391.3L330.3 395.8L324.4 387.5L317.2 382.9Z" fill="#00f20d" stroke="#006005"/>
<path d="M279.1 338.8L286.6 344.7L280.9 336.5L273.3 330.6Z" fill="#00a05f" stroke="#004026"/>
<path d="M367.1 441.7L374 445L368 436.5L361.1 433.3Z" fill="#41ff00" stroke="#1a6600"/>
<path d="M209.8 252.1L218 260.2L212.4 252.2L204.2 244.2Z" fill="#0019e6" stroke="#000a5c"/>
<path d="M304 369.5L311.4 374.6L305.6 366.4L298.2 361.2Z" fill="#00cf30" stroke="#005213"/>
<path d="M234.8 284.3L242.8 291.6L237.1 283.5L229.2 276.2Z" fill="#004ab5" stroke="#001d48"/>
<path d="M449.1 528.4L455.5 529.2L449.3 520.5L442.8 519.7Z" fill="#c6ff00" stroke="#4f6600"/>
<path d="M348.1 421L355.1 424.8L349.2 416.4L342.1 412.5Z" fill="#1fff00" stroke="#0c6600"/>
<path d="M430.1 509.6L436.7 511L430.5 502.4L423.9 500.9Z" fill="#a9ff00" stroke="#436600"/>
<path d="M411.1 490.3L417.8 492.3L411.7 483.7L405 481.7Z" fill="#8aff00" stroke="#376600"/>
<path d="M259.8 315.9L267.6 322.5L261.9 314.3L254.1 307.8Z" fill="#007b84" stroke="#003134"/>
<path d="M392.1 470.6L398.9 473.1L392.8 464.6L386.1 462Z" fill="#6bff00" stroke="#2a6600"/>
<path d="M329 399.7L336.2 404.2L330.3 395.8L323.1 391.3Z" fill="#00fc03" stroke="#006401"/>
<path d="M284.9 347.1L292.4 352.9L286.6 344.7L279.1 338.8Z" fill="#00aa55" stroke="#004422"/>
<path d="M373.1 450.3L380 453.4L374 445L367.1 441.7Z" fill="#4aff00" stroke="#1d6600"/>
<path d="M215.5 260.2L223.6 268.2L218 260.2L209.8 252.1Z" fill="#0023dc" stroke="#000e58"/>
<path d="M309.9 377.8L317.2 382.9L311.4 374.6L304 369.5Z" fill="#00d827" stroke="#00560f"/>
<path d="M240.5 292.4L248.4 299.6L242.8 291.6L234.8 284.3Z" fill="#0054ab" stroke="#002144"/>
<path d="M455.3 537.1L461.8 537.9L455.5 529.2L449.1 528.4Z" fill="#d0ff00" stroke="#536600"/>
<path d="M354.1 429.5L361.1 433.3L355.1 424.8L348.1 421Z" fill="#29ff00" stroke="#106600"/>
<path d="M436.3 518.3L442.8 519.7L436.7 511L430.1 509.6Z" fill="#b2ff00" stroke="#476600"/>
<path d="M417.3 499L423.9 500.9L417.8 492.3L411.1 490.3Z" fill="#94ff00" stroke="#3b6600"/>
<path d="M265.6 324.1L273.3 330.6L267.6 322.5L259.8 315.9Z" fill="#00847b" stroke="#003431"/>
<path d="M398.2 479.2L405 481.7L398.9 473.1L392.1 470.6Z" fill="#75ff00" stroke="#2e6600"/>
<path d="M335 408.1L342.1 412.5L336.2 404.2L329 399.7Z" fill="#06ff00" stroke="#026600"/>
<path d="M290.7 355.4L298.2 361.2L292.4 352.9L284.9 347.1Z" fill="#00b44b" stroke="#00481e"/>
<path d="M379.2 458.8L386.1 462L380 453.4L373.1 450.3Z" fill="#54ff00" stroke="#216600"/>
<path d="M221.1 268.2L229.2 276.2L223.6 268.2L215.5 260.2Z" fill="#002cd3" stroke="#001154"/>
<path d="M315.8 386.2L323.1 391.3L317.2 382.9L309.9 377.8Z" fill="#00e21d" stroke="#005a0b"/>
<path d="M246.3 300.6L254.1 307.8L248.4 299.6L240.5 292.4Z" fill="#005ea1" stroke="#002540"/>
<path d="M360.1 438L367.1 441.7L361.1 433.3L354.1 429.5Z" fill="#33ff00" stroke="#146600"/>
<path d="M442.5 527.1L449.1 528.4L442.8 519.7L436.3 518.3Z" fill="#bcff00" stroke="#4b6600"/>
<path d="M423.5 507.7L430.1 509.6L423.9 500.9L417.3 499Z" fill="#9eff00" stroke="#3f6600"/>
<path d="M271.4 332.4L279.1 338.8L273.3 330.6L265.6 324.1Z" fill="#008e71" stroke="#00382d"/>
<path d="M404.4 487.8L411.1 490.3L405 481.7L398.2 479.2Z" fill="#7eff00" stroke="#326600"/>
<path d="M340.9 416.6L348.1 421L342.1 412.5L335 408.1Z" fill="#10ff00" stroke="#066600"/>
<path d="M296.5 363.7L304 369.5L298.2 361.2L290.7 355.4Z" fill="#00bd42" stroke="#004b1a"/>
<path d="M385.3 467.5L392.1 470.6L386.1 462L379.2 458.8Z" fill="#5eff00" stroke="#256600"/>
<path d="M226.8 276.4L234.8 284.3L229.2 276.2L221.1 268.2Z" fill="#0036c9" stroke="#001550"/>
<path d="M321.7 394.7L329 399.7L323.1 391.3L315.8 386.2Z" fill="#00ec13" stroke="#005e07"/>
<path d="M252 308.8L259.8 315.9L254.1 307.8L246.3 300.6Z" fill="#006798" stroke="#00293c"/>
<path d="M366.1 446.6L373.1 450.3L367.1 441.7L360.1 438Z" fill="#3cff00" stroke="#186600"/>
<path d="M448.8 535.9L455.3 537.1L449.1 528.4L442.5 527.1Z" fill="#c6ff00" stroke="#4f6600"/>
<path d="M429.7 516.5L436.3 518.3L430.1 509.6L423.5 507.7Z" fill="#a7ff00" stroke="#426600"/>
<path d="M277.2 340.7L284.9 347.1L279.1 338.8L271.4 332.4Z" fill="#009867" stroke="#003c29"/>
<path d="M410.6 496.6L417.3 499L411.1 490.3L404.4 487.8Z" fill="#88ff00" stroke="#366600"/>
<path d="M346.9 425.1L354.1 429.5L348.1 421L340.9 416.6Z" fill="#1aff00" stroke="#0a6600"/>
<path d="M302.4 372.1L309.9 377.8L304 369.5L296.5 363.7Z" fill="#00c738" stroke="#004f16"/>
<path d="M391.4 476.1L398.2 479.2L392.1 470.6L385.3 467.5Z" fill="#68ff00" stroke="#296600"/>
<path d="M232.5 284.5L240.5 292.4L234.8 284.3L226.8 276.4Z" fill="#0040bf" stroke="#00194c"/>
<path d="M327.7 403.1L335 408.1L329 399.7L321.7 394.7Z" fill="#00f50a" stroke="#006204"/>
<path d="M257.8 317L265.6 324.1L259.8 315.9L252 308.8Z" fill="#00718e" stroke="#002d38"/>
<path d="M372.2 455.2L379.2 458.8L373.1 450.3L366.1 446.6Z" fill="#46ff00" stroke="#1c6600"/>
<path d="M436 525.3L442.5 527.1L436.3 518.3L429.7 516.5Z" fill="#b1ff00" stroke="#466600"/>
<path d="M283.1 349L290.7 355.4L284.9 347.1L277.2 340.7Z" fill="#00a15e" stroke="#004025"/>
<path d="M416.8 505.3L423.5 507.7L417.3 499L410.6 496.6Z" fill="#92ff00" stroke="#3a6600"/>
<path d="M353 433.7L360.1 438L354.1 429.5L346.9 425.1Z" fill="#24ff00" stroke="#0e6600"/>
<path d="M308.4 380.6L315.8 386.2L309.9 377.8L302.4 372.1Z" fill="#00d12e" stroke="#005312"/>
<path d="M397.6 484.8L404.4 487.8L398.2 479.2L391.4 476.1Z" fill="#71ff00" stroke="#2d6600"/>
<path d="M238.2 292.7L246.3 300.6L240.5 292.4L232.5 284.5Z" fill="#0049b6" stroke="#001d48"/>
<path d="M333.7 411.7L340.9 416.6L335 408.1L327.7 403.1Z" fill="#00ff00" stroke="#006600"/>
<path d="M263.6 325.3L271.4 332.4L265.6 324.1L257.8 317Z" fill="#007b84" stroke="#003134"/>
<path d="M378.3 463.9L385.3 467.5L379.2 458.8L372.2 455.2Z" fill="#50ff00" stroke="#206600"/>
<path d="M442.2 534.1L448.8 535.9L442.5 527.1L436 525.3Z" fill="#bbff00" stroke="#4a6600"/>
<path d="M288.9 357.4L296.5 363.7L290.7 355.4L283.1 349Z" fill="#00ab54" stroke="#004421"/>
<path d="M423 514.1L429.7 516.5L423.5 507.7L416.8 505.3Z" fill="#9bff00" stroke="#3e6600"/>
<path d="M359.1 442.3L366.1 446.6L360.1 438L353 433.7Z" fill="#2dff00" stroke="#126600"/>
<path d="M314.3 389L321.7 394.7L315.8 386.2L308.4 380.6Z" fill="#00da25" stroke="#00570e"/>
<path d="M403.8 493.6L410.6 496.6L404.4 487.8L397.6 484.8Z" fill="#7bff00" stroke="#316600"/>
<path d="M244 301L252 308.8L246.3 300.6L238.2 292.7Z" fill="#0053ac" stroke="#002144"/>
<path d="M339.7 420.2L346.9 425.1L340.9 416.6L333.7 411.7Z" fill="#0aff00" stroke="#046600"/>
<path d="M269.4 333.7L277.2 340.7L271.4 332.4L263.6 325.3Z" fill="#00847b" stroke="#003431"/>
<path d="M384.5 472.6L391.4 476.1L385.3 467.5L378.3 463.9Z" fill="#59ff00" stroke="#236600"/>
<path d="M294.9 365.8L302.4 372.1L296.5 363.7L288.9 357.4Z" fill="#00b54a" stroke="#00481d"/>
<path d="M429.3 523L436 525.3L429.7 516.5L423 514.1Z" fill="#a5ff00" stroke="#426600"/>
<path d="M365.2 451L372.2 455.2L366.1 446.6L359.1 442.3Z" fill="#37ff00" stroke="#166600"/>
<path d="M320.3 397.6L327.7 403.1L321.7 394.7L314.3 389Z" fill="#00e41b" stroke="#005b0a"/>
<path d="M410 502.4L416.8 505.3L410.6 496.6L403.8 493.6Z" fill="#85ff00" stroke="#356600"/>
<path d="M249.8 309.3L257.8 317L252 308.8L244 301Z" fill="#005da2" stroke="#002540"/>
<path d="M345.8 428.9L353 433.7L346.9 425.1L339.7 420.2Z" fill="#13ff00" stroke="#076600"/>
<path d="M275.3 342L283.1 349L277.2 340.7L269.4 333.7Z" fill="#008e71" stroke="#00382d"/>
<path d="M390.7 481.3L397.6 484.8L391.4 476.1L384.5 472.6Z" fill="#63ff00" stroke="#276600"/>
<path d="M300.8 374.3L308.4 380.6L302.4 372.1L294.9 365.8Z" fill="#00be41" stroke="#004c1a"/>
<path d="M435.6 531.9L442.2 534.1L436 525.3L429.3 523Z" fill="#afff00" stroke="#466600"/>
<path d="M371.3 459.7L378.3 463.9L372.2 455.2L365.2 451Z" fill="#41ff00" stroke="#1a6600"/>
<path d="M326.3 406.1L333.7 411.7L327.7 403.1L320.3 397.6Z" fill="#00ee11" stroke="#005f06"/>
<path d="M416.3 511.3L423 514.1L416.8 505.3L410 502.4Z" fill="#8eff00" stroke="#386600"/>
<path d="M255.6 317.6L263.6 325.3L257.8 317L249.8 309.3Z" fill="#006699" stroke="#00283d"/>
<path d="M351.9 437.5L359.1 442.3L353 433.7L345.8 428.9Z" fill="#1dff00" stroke="#0b6600"/>
<path d="M281.2 350.5L288.9 357.4L283.1 349L275.3 342Z" fill="#009867" stroke="#003c29"/>
<path d="M396.9 490.1L403.8 493.6L397.6 484.8L390.7 481.3Z" fill="#6dff00" stroke="#2b6600"/>
<path d="M306.8 382.9L314.3 389L308.4 380.6L300.8 374.3Z" fill="#00c837" stroke="#005016"/>
<path d="M377.5 468.5L384.5 472.6L378.3 463.9L371.3 459.7Z" fill="#4aff00" stroke="#1d6600"/>
<path d="M332.4 414.8L339.7 420.2L333.7 411.7L326.3 406.1Z" fill="#00f708" stroke="#006203"/>
<path d="M422.6 520.2L429.3 523L423 514.1L416.3 511.3Z" fill="#98ff00" stroke="#3c6600"/>
<path d="M261.5 326L269.4 333.7L263.6 325.3L255.6 317.6Z" fill="#00708f" stroke="#002c39"/>
<path d="M358 446.2L365.2 451L359.1 442.3L351.9 437.5Z" fill="#27ff00" stroke="#0f6600"/>
<path d="M287.1 359L294.9 365.8L288.9 357.4L281.2 350.5Z" fill="#00a25d" stroke="#004025"/>
<path d="M403.1 499L410 502.4L403.8 493.6L396.9 490.1Z" fill="#76ff00" stroke="#2f6600"/>
<path d="M312.8 391.4L320.3 397.6L314.3 389L306.8 382.9Z" fill="#00d22d" stroke="#005412"/>
<path d="M383.7 477.3L390.7 481.3L384.5 472.6L377.5 468.5Z" fill="#54ff00" stroke="#216600"/>
<path d="M338.5 423.4L345.8 428.9L339.7 420.2L332.4 414.8Z" fill="#02ff00" stroke="#006600"/>
<path d="M428.9 529.1L435.6 531.9L429.3 523L422.6 520.2Z" fill="#a2ff00" stroke="#406600"/>
<path d="M267.4 334.4L275.3 342L269.4 333.7L261.5 326Z" fill="#007a85" stroke="#003035"/>
<path d="M364.2 455L371.3 459.7L365.2 451L358 446.2Z" fill="#30ff00" stroke="#136600"/>
<path d="M293.1 367.5L300.8 374.3L294.9 365.8L287.1 359Z" fill="#00ab54" stroke="#004421"/>
<path d="M409.4 507.9L416.3 511.3L410 502.4L403.1 499Z" fill="#80ff00" stroke="#336600"/>
<path d="M318.8 400L326.3 406.1L320.3 397.6L312.8 391.4Z" fill="#00dc23" stroke="#00580e"/>
<path d="M389.9 486.1L396.9 490.1L390.7 481.3L383.7 477.3Z" fill="#5eff00" stroke="#256600"/>
<path d="M344.6 432.1L351.9 437.5L345.8 428.9L338.5 423.4Z" fill="#0cff00" stroke="#046600"/>
<path d="M273.3 342.9L281.2 350.5L275.3 342L267.4 334.4Z" fill="#00837c" stroke="#003431"/>
<path d="M370.4 463.8L377.5 468.5L371.3 459.7L364.2 455Z" fill="#3aff00" stroke="#176600"/>
<path d="M299.1 376L306.8 382.9L300.8 374.3L293.1 367.5Z" fill="#00b54a" stroke="#00481d"/>
<path d="M415.8 516.9L422.6 520.2L416.3 511.3L409.4 507.9Z" fill="#8aff00" stroke="#376600"/>
<path d="M324.9 408.7L332.4 414.8L326.3 406.1L318.8 400Z" fill="#00e51a" stroke="#005b0a"/>
<path d="M396.2 495L403.1 499L396.9 490.1L389.9 486.1Z" fill="#67ff00" stroke="#296600"/>
<path d="M350.7 440.9L358 446.2L351.9 437.5L344.6 432.1Z" fill="#16ff00" stroke="#086600"/>
<path d="M279.3 351.4L287.1 359L281.2 350.5L273.3 342.9Z" fill="#008d72" stroke="#00382d"/>
<path d="M376.6 472.7L383.7 477.3L377.5 468.5L370.4 463.8Z" fill="#44ff00" stroke="#1b6600"/>
<path d="M305.2 384.7L312.8 391.4L306.8 382.9L299.1 376Z" fill="#00bf40" stroke="#004c19"/>
<path d="M422.1 525.9L428.9 529.1L422.6 520.2L415.8 516.9Z" fill="#94ff00" stroke="#3b6600"/>
<path d="M331 417.4L338.5 423.4L332.4 414.8L324.9 408.7Z" fill="#00ef10" stroke="#005f06"/>
<path d="M402.5 504L409.4 507.9L403.1 499L396.2 495Z" fill="#71ff00" stroke="#2d6600"/>
<path d="M356.9 449.7L364.2 455L358 446.2L350.7 440.9Z" fill="#1fff00" stroke="#0c6600"/>
<path d="M285.3 360L293.1 367.5L287.1 359L279.3 351.4Z" fill="#009768" stroke="#003c29"/>
<path d="M382.9 481.6L389.9 486.1L383.7 477.3L376.6 472.7Z" fill="#4dff00" stroke="#1e6600"/>
<path d="M311.2 393.3L318.8 400L312.8 391.4L305.2 384.7Z" fill="#00c837" stroke="#005016"/>
<path d="M337.2 426.2L344.6 432.1L338.5 423.4L331 417.4Z" fill="#00f906" stroke="#006302"/>
<path d="M408.9 513L415.8 516.9L409.4 507.9L402.5 504Z" fill="#7bff00" stroke="#316600"/>
<path d="M363.1 458.6L370.4 463.8L364.2 455L356.9 449.7Z" fill="#29ff00" stroke="#106600"/>
<path d="M291.3 368.6L299.1 376L293.1 367.5L285.3 360Z" fill="#00a15e" stroke="#004025"/>
<path d="M389.2 490.5L396.2 495L389.9 486.1L382.9 481.6Z" fill="#57ff00" stroke="#226600"/>
<path d="M317.3 402L324.9 408.7L318.8 400L311.2 393.3Z" fill="#00d22d" stroke="#005412"/>
<path d="M343.4 435L350.7 440.9L344.6 432.1L337.2 426.2Z" fill="#03ff00" stroke="#016600"/>
<path d="M415.2 522.1L422.1 525.9L415.8 516.9L408.9 513Z" fill="#84ff00" stroke="#346600"/>
<path d="M369.4 467.5L376.6 472.7L370.4 463.8L363.1 458.6Z" fill="#33ff00" stroke="#146600"/>
<path d="M297.4 377.3L305.2 384.7L299.1 376L291.3 368.6Z" fill="#00aa55" stroke="#004422"/>
<path d="M395.5 499.5L402.5 504L396.2 495L389.2 490.5Z" fill="#61ff00" stroke="#266600"/>
<path d="M323.5 410.8L331 417.4L324.9 408.7L317.3 402Z" fill="#00dc23" stroke="#00580e"/>
<path d="M349.6 443.9L356.9 449.7L350.7 440.9L343.4 435Z" fill="#0dff00" stroke="#056600"/>
<path d="M375.7 476.4L382.9 481.6L376.6 472.7L369.4 467.5Z" fill="#3cff00" stroke="#186600"/>
<path d="M303.5 386L311.2 393.3L305.2 384.7L297.4 377.3Z" fill="#00b44b" stroke="#00481e"/>
<path d="M401.9 508.6L408.9 513L402.5 504L395.5 499.5Z" fill="#6bff00" stroke="#2a6600"/>
<path d="M329.6 419.6L337.2 426.2L331 417.4L323.5 410.8Z" fill="#00e51a" stroke="#005b0a"/>
<path d="M355.8 452.8L363.1 458.6L356.9 449.7L349.6 443.9Z" fill="#17ff00" stroke="#096600"/>
<path d="M382 485.5L389.2 490.5L382.9 481.6L375.7 476.4Z" fill="#46ff00" stroke="#1c6600"/>
<path d="M309.6 394.8L317.3 402L311.2 393.3L303.5 386Z" fill="#00be41" stroke="#004c1a"/>
<path d="M408.3 517.7L415.2 522.1L408.9 513L401.9 508.6Z" fill="#74ff00" stroke="#2e6600"/>
<path d="M335.8 428.5L343.4 435L337.2 426.2L329.6 419.6Z" fill="#00ef10" stroke="#005f06"/>
<path d="M362.1 461.7L369.4 467.5L363.1 458.6L355.8 452.8Z" fill="#20ff00" stroke="#0c6600"/>
<path d="M388.4 494.5L395.5 499.5L389.2 490.5L382 485.5Z" fill="#50ff00" stroke="#206600"/>
<path d="M315.8 403.6L323.5 410.8L317.3 402L309.6 394.8Z" fill="#00c738" stroke="#004f16"/>
<path d="M342.1 437.4L349.6 443.9L343.4 435L335.8 428.5Z" fill="#00f906" stroke="#006302"/>
<path d="M368.4 470.7L375.7 476.4L369.4 467.5L362.1 461.7Z" fill="#2aff00" stroke="#106600"/>
<path d="M394.8 503.6L401.9 508.6L395.5 499.5L388.4 494.5Z" fill="#59ff00" stroke="#236600"/>
<path d="M322 412.4L329.6 419.6L323.5 410.8L315.8 403.6Z" fill="#00d12e" stroke="#005312"/>
<path d="M348.4 446.4L355.8 452.8L349.6 443.9L342.1 437.4Z" fill="#03ff00" stroke="#016600"/>
<path d="M374.8 479.8L382 485.5L375.7 476.4L368.4 470.7Z" fill="#34ff00" stroke="#146600"/>
<path d="M401.2 512.8L408.3 517.7L401.9 508.6L394.8 503.6Z" fill="#63ff00" stroke="#276600"/>
<path d="M328.2 421.4L335.8 428.5L329.6 419.6L322 412.4Z" fill="#00db24" stroke="#00570e"/>
<path d="M354.7 455.4L362.1 461.7L355.8 452.8L348.4 446.4Z" fill="#0dff00" stroke="#056600"/>
<path d="M381.2 488.9L388.4 494.5L382 485.5L374.8 479.8Z" fill="#3dff00" stroke="#186600"/>
<path d="M334.5 430.3L342.1 437.4L335.8 428.5L328.2 421.4Z" fill="#00e41b" stroke="#005b0a"/>
<path d="M361 464.4L368.4 470.7L362.1 461.7L354.7 455.4Z" fill="#17ff00" stroke="#096600"/>
<path d="M387.6 498.1L394.8 503.6L388.4 494.5L381.2 488.9Z" fill="#47ff00" stroke="#1c6600"/>
<path d="M340.8 439.3L348.4 446.4L342.1 437.4L334.5 430.3Z" fill="#00ee11" stroke="#005f06"/>
<path d="M367.4 473.5L374.8 479.8L368.4 470.7L361 464.4Z" fill="#20ff00" stroke="#0c6600"/>
<path d="M394.1 507.3L401.2 512.8L394.8 503.6L387.6 498.1Z" fill="#51ff00" stroke="#206600"/>
<path d="M347.1 448.4L354.7 455.4L348.4 446.4L340.8 439.3Z" fill="#00f807" stroke="#006302"/>
<path d="M373.8 482.7L381.2 488.9L374.8 479.8L367.4 473.5Z" fill="#2aff00" stroke="#106600"/>
<path d="M353.5 457.5L361 464.4L354.7 455.4L347.1 448.4Z" fill="#02ff00" stroke="#006600"/>
<path d="M380.3 491.9L387.6 498.1L381.2 488.9L373.8 482.7Z" fill="#34ff00" stroke="#146600"/>
<path d="M359.9 466.7L367.4 473.5L361 464.4L353.5 457.5Z" fill="#0cff00" stroke="#046600"/>
<path d="M386.8 501.2L394.1 507.3L387.6 498.1L380.3 491.9Z" fill="#3dff00" stroke="#186600"/>
<path d="M366.4 475.9L373.8 482.7L367.4 473.5L359.9 466.7Z" fill="#16ff00" stroke="#086600"/>
<path d="M372.9 485.2L380.3 491.9L373.8 482.7L366.4 475.9Z" fill="#1fff00" stroke="#0c6600"/>
<path d="M379.4 494.5L386.8 501.2L380.3 491.9L372.9 485.2Z" fill="#29ff00" stroke="#106600"/>
</g>
<line x1="602.9" y1="251.3" x2="378.8" y2="341.3" stroke="#000" stroke-opacity="0.7" stroke-width="1.3"/>
<line x1="378.8" y1="341.3" x2="198.7" y2="236.2" stroke="#000" stroke-opacity="0.7" stroke-width="1.3"/>
<line x1="378.8" y1="341.3" x2="379.8" y2="598.1" stroke="#000" stroke-opacity="0.7" stroke-width="1.3"/>
<line x1="337.2" y1="592.3" x2="231.5" y2="507" stroke="#6a6a6a" stroke-width="1.4"/><polyline points="236.2,518 231.5,507 243.3,509.3" fill="none" stroke="#6a6a6a" stroke-width="1.4"/>
<line x1="506.7" y1="552.6" x2="560.9" y2="523.4" stroke="#6a6a6a" stroke-width="1.4"/><polyline points="548.9,523.5 560.9,523.4 554.2,533.4" fill="none" stroke="#6a6a6a" stroke-width="1.4"/>
<line x1="195.6" y1="434.4" x2="182.3" y2="279.3" stroke="#6a6a6a" stroke-width="1.4"/><polyline points="177.6,290.3 182.3,279.3 188.8,289.4" fill="none" stroke="#6a6a6a" stroke-width="1.4"/>
<line x1="426.6" y1="597.2" x2="481.4" y2="566.6" stroke="#6a6a6a" stroke-width="1.4"/>
<text x="240.5" y="595.1" font-size="40" textLength="19.6" lengthAdjust="spacingAndGlyphs" stroke="#000" stroke-width="1.1" font-family="Liberation Sans, Arial, sans-serif">T</text>
<text x="506" y="593.5" font-size="40" textLength="41.2" lengthAdjust="spacingAndGlyphs" stroke="#000" stroke-width="1.1" font-family="Liberation Sans, Arial, sans-serif">ST</text>
<text x="134.5" y="391.5" font-size="40" textLength="40.2" lengthAdjust="spacingAndGlyphs" stroke="#000" stroke-width="1.1" font-family="Liberation Sans, Arial, sans-serif">#S</text>
<rect x="93.1" y="879.9" width="604.8" height="601.4" fill="none" stroke="#7a7a7a" stroke-width="1.6"/>
<defs><linearGradient id="gp2" x1="0" y1="1" x2="0" y2="0"><stop offset="0" stop-color="#ffff00"/><stop offset="0.5" stop-color="#00ff00"/><stop offset="1" stop-color="#0000ff"/></linearGradient></defs>
<rect x="706.6" y="879.9" width="24.2" height="601.4" fill="url(#gp2)" stroke="#505030" stroke-width="1.2"/>
<line x1="707.6" y1="945.5" x2="729.8" y2="945.5" stroke="#7f9be3" stroke-width="2"/>
<line x1="707.6" y1="1003.8" x2="729.8" y2="1003.8" stroke="#7fb4ca" stroke-width="2"/>
<line x1="707.6" y1="1239.3" x2="729.8" y2="1239.3" stroke="#98ff7f" stroke-width="2"/>
<line x1="730.8" y1="922.8" x2="735.8" y2="922.8" stroke="#444" stroke-width="1.3"/>
<text transform="translate(742.3,928.7) scale(1,1.22)" font-size="13" fill="#444" stroke="#444" stroke-width="0.3" font-family="Liberation Sans, Arial, sans-serif">0.035</text>
<line x1="730.8" y1="1056.5" x2="735.8" y2="1056.5" stroke="#444" stroke-width="1.3"/>
<text transform="translate(742.3,1062.4) scale(1,1.22)" font-size="13" fill="#444" stroke="#444" stroke-width="0.3" font-family="Liberation Sans, Arial, sans-serif">0.030</text>
<line x1="730.8" y1="1190.1" x2="735.8" y2="1190.1" stroke="#444" stroke-width="1.3"/>
<text transform="translate(742.3,1196) scale(1,1.22)" font-size="13" fill="#444" stroke="#444" stroke-width="0.3" font-family="Liberation Sans, Arial, sans-serif">0.025</text>
<line x1="730.8" y1="1324.7" x2="735.8" y2="1324.7" stroke="#444" stroke-width="1.3"/>
<text transform="translate(742.3,1330.6) scale(1,1.22)" font-size="13" fill="#444" stroke="#444" stroke-width="0.3" font-family="Liberation Sans, Arial, sans-serif">0.020</text>
<line x1="730.8" y1="1458.4" x2="735.8" y2="1458.4" stroke="#444" stroke-width="1.3"/>
<text transform="translate(742.3,1464.3) scale(1,1.22)" font-size="13" fill="#444" stroke="#444" stroke-width="0.3" font-family="Liberation Sans, Arial, sans-serif">0.015</text>
<line x1="408.6" y1="965.9" x2="406.6" y2="1179.3" stroke="#000" stroke-opacity="0.55" stroke-width="1.4" stroke-dasharray="5,4"/>
<line x1="214.2" y1="1262.3" x2="406.6" y2="1179.3" stroke="#000" stroke-opacity="0.55" stroke-width="1.4" stroke-dasharray="5,4"/>
<line x1="406.6" y1="1179.3" x2="575.3" y2="1280.5" stroke="#000" stroke-opacity="0.55" stroke-width="1.4" stroke-dasharray="5,4"/>
<line x1="197.5" y1="1032.4" x2="408.6" y2="965.9" stroke="#000" stroke-opacity="0.5" stroke-width="1.6"/>
<line x1="408.6" y1="965.9" x2="594.8" y2="1047.2" stroke="#000" stroke-opacity="0.5" stroke-width="1.6"/>
<line x1="594.8" y1="1047.2" x2="575.3" y2="1280.5" stroke="#000" stroke-opacity="0.5" stroke-width="1.6"/>
<line x1="197.5" y1="1032.4" x2="214.2" y2="1262.3" stroke="#000" stroke-opacity="0.5" stroke-width="1.6"/>
<line x1="214.2" y1="1262.3" x2="375.8" y2="1387.7" stroke="#000" stroke-opacity="0.5" stroke-width="1.6"/>
<line x1="375.8" y1="1387.7" x2="575.3" y2="1280.5" stroke="#000" stroke-opacity="0.5" stroke-width="1.6"/>
<defs><filter id="blp2" x="-5%" y="-5%" width="110%" height="110%"><feGaussianBlur stdDeviation="0.3"/></filter></defs>
<g filter="url(#blp2)" stroke-width="1.9" stroke-linejoin="round">
<path d="M371.4 1061.9L376.7 1052.7L371.4 1044.9L366.1 1054.3Z" fill="#00a35c" stroke="#004124"/>
<path d="M366.1 1070.7L371.4 1061.9L366.1 1054.3L360.8 1063.2Z" fill="#00b44b" stroke="#00481e"/>
<path d="M376.7 1052.7L382 1043L376.7 1035.1L371.4 1044.9Z" fill="#00926d" stroke="#003a2b"/>
<path d="M360.8 1079L366.1 1070.7L360.8 1063.2L355.5 1071.7Z" fill="#00c33c" stroke="#004e18"/>
<path d="M382 1043L387.3 1032.9L382 1024.7L376.7 1035.1Z" fill="#007f80" stroke="#003233"/>
<path d="M355.4 1086.9L360.8 1079L355.5 1071.7L350.2 1079.7Z" fill="#00d12e" stroke="#005312"/>
<path d="M387.3 1032.9L392.6 1022.2L387.3 1013.9L382 1024.7Z" fill="#006c93" stroke="#002b3a"/>
<path d="M350.1 1094.3L355.4 1086.9L350.2 1079.7L344.9 1087.3Z" fill="#00df20" stroke="#00590c"/>
<path d="M392.6 1022.2L398 1011.1L392.6 1002.7L387.3 1013.9Z" fill="#0057a8" stroke="#002243"/>
<path d="M344.7 1101.3L350.1 1094.3L344.9 1087.3L339.5 1094.5Z" fill="#00eb14" stroke="#005e08"/>
<path d="M376.7 1069.6L382 1060.5L376.7 1052.7L371.4 1061.9Z" fill="#00af50" stroke="#004620"/>
<path d="M382 1060.5L387.3 1051L382 1043L376.7 1052.7Z" fill="#009e61" stroke="#003f26"/>
<path d="M371.4 1078.2L376.7 1069.6L371.4 1061.9L366.1 1070.7Z" fill="#00bf40" stroke="#004c19"/>
<path d="M387.3 1051L392.7 1041L387.3 1032.9L382 1043Z" fill="#008c73" stroke="#00382e"/>
<path d="M398 1011.1L403.3 999.5L398 990.9L392.6 1002.7Z" fill="#0042bd" stroke="#001a4b"/>
<path d="M366 1086.4L371.4 1078.2L366.1 1070.7L360.8 1079Z" fill="#00ce31" stroke="#005213"/>
<path d="M392.7 1041L398 1030.5L392.6 1022.2L387.3 1032.9Z" fill="#007887" stroke="#003036"/>
<path d="M339.4 1107.9L344.7 1101.3L339.5 1094.5L334.2 1101.2Z" fill="#00f609" stroke="#006203"/>
<path d="M360.7 1094.1L366 1086.4L360.8 1079L355.4 1086.9Z" fill="#00db24" stroke="#00570e"/>
<path d="M398 1030.5L403.3 1019.6L398 1011.1L392.6 1022.2Z" fill="#00649b" stroke="#00283e"/>
<path d="M403.3 999.5L408.7 987.4L403.3 978.6L398 990.9Z" fill="#002bd4" stroke="#001154"/>
<path d="M355.4 1101.4L360.7 1094.1L355.4 1086.9L350.1 1094.3Z" fill="#00e817" stroke="#005c09"/>
<path d="M334 1114L339.4 1107.9L334.2 1101.2L328.8 1107.5Z" fill="#01ff00" stroke="#006600"/>
<path d="M387.4 1068.4L392.7 1059L387.3 1051L382 1060.5Z" fill="#00a956" stroke="#004322"/>
<path d="M382 1077.3L387.4 1068.4L382 1060.5L376.7 1069.6Z" fill="#00ba45" stroke="#004a1b"/>
<path d="M403.3 1019.6L408.7 1008.2L403.3 999.5L398 1011.1Z" fill="#004fb0" stroke="#001f46"/>
<path d="M392.7 1059L398 1049.2L392.7 1041L387.3 1051Z" fill="#009867" stroke="#003c29"/>
<path d="M376.7 1085.7L382 1077.3L376.7 1069.6L371.4 1078.2Z" fill="#00ca35" stroke="#005015"/>
<path d="M350 1108.2L355.4 1101.4L350.1 1094.3L344.7 1101.3Z" fill="#00f40b" stroke="#006104"/>
<path d="M408.7 987.4L414 974.9L408.6 965.9L403.3 978.6Z" fill="#0013ec" stroke="#00075e"/>
<path d="M398 1049.2L403.4 1038.9L398 1030.5L392.7 1041Z" fill="#00857a" stroke="#003530"/>
<path d="M371.3 1093.8L376.7 1085.7L371.4 1078.2L366 1086.4Z" fill="#00d827" stroke="#00560f"/>
<path d="M408.7 1008.2L414 996.3L408.7 987.4L403.3 999.5Z" fill="#0039c6" stroke="#00164f"/>
<path d="M403.4 1038.9L408.7 1028.1L403.3 1019.6L398 1030.5Z" fill="#00718e" stroke="#002d38"/>
<path d="M366 1101.3L371.3 1093.8L366 1086.4L360.7 1094.1Z" fill="#00e619" stroke="#005c0a"/>
<path d="M328.6 1119.7L334 1114L328.8 1107.5L323.4 1113.3Z" fill="#0aff00" stroke="#046600"/>
<path d="M344.6 1114.6L350 1108.2L344.7 1101.3L339.4 1107.9Z" fill="#00ff00" stroke="#006600"/>
<path d="M408.7 1028.1L414.1 1016.9L408.7 1008.2L403.3 1019.6Z" fill="#005da2" stroke="#002540"/>
<path d="M360.6 1108.4L366 1101.3L360.7 1094.1L355.4 1101.4Z" fill="#00f20d" stroke="#006005"/>
<path d="M392.7 1076.3L398.1 1067.1L392.7 1059L387.4 1068.4Z" fill="#00b54a" stroke="#00481d"/>
<path d="M387.4 1085L392.7 1076.3L387.4 1068.4L382 1077.3Z" fill="#00c53a" stroke="#004e17"/>
<path d="M414 996.3L419.4 983.8L414 974.9L408.7 987.4Z" fill="#0022dd" stroke="#000d58"/>
<path d="M398.1 1067.1L403.4 1057.4L398 1049.2L392.7 1059Z" fill="#00a45b" stroke="#004124"/>
<path d="M382 1093.3L387.4 1085L382 1077.3L376.7 1085.7Z" fill="#00d52a" stroke="#005510"/>
<path d="M403.4 1057.4L408.7 1047.3L403.4 1038.9L398 1049.2Z" fill="#00926d" stroke="#003a2b"/>
<path d="M339.2 1120.6L344.6 1114.6L339.4 1107.9L334 1114Z" fill="#0aff00" stroke="#046600"/>
<path d="M323.1 1124.9L328.6 1119.7L323.4 1113.3L318 1118.7Z" fill="#12ff00" stroke="#076600"/>
<path d="M414.1 1016.9L419.5 1005.1L414 996.3L408.7 1008.2Z" fill="#0047b8" stroke="#001c49"/>
<path d="M355.3 1115.1L360.6 1108.4L355.4 1101.4L350 1108.2Z" fill="#00fd02" stroke="#006500"/>
<path d="M376.7 1101.2L382 1093.3L376.7 1085.7L371.3 1093.8Z" fill="#00e31c" stroke="#005a0b"/>
<path d="M408.7 1047.3L414.1 1036.6L408.7 1028.1L403.4 1038.9Z" fill="#007e81" stroke="#003233"/>
<path d="M371.3 1108.6L376.7 1101.2L371.3 1093.8L366 1101.3Z" fill="#00f00f" stroke="#006006"/>
<path d="M414.1 1036.6L419.5 1025.6L414.1 1016.9L408.7 1028.1Z" fill="#006a95" stroke="#002a3b"/>
<path d="M419.5 1005.1L424.8 992.9L419.4 983.8L414 996.3Z" fill="#0030cf" stroke="#001352"/>
<path d="M349.9 1121.4L355.3 1115.1L350 1108.2L344.6 1114.6Z" fill="#09ff00" stroke="#036600"/>
<path d="M333.8 1126.1L339.2 1120.6L334 1114L328.6 1119.7Z" fill="#12ff00" stroke="#076600"/>
<path d="M398.1 1084.2L403.4 1075.1L398.1 1067.1L392.7 1076.3Z" fill="#00c13e" stroke="#004d18"/>
<path d="M403.4 1075.1L408.8 1065.6L403.4 1057.4L398.1 1067.1Z" fill="#00b04f" stroke="#00461f"/>
<path d="M365.9 1115.5L371.3 1108.6L366 1101.3L360.6 1108.4Z" fill="#00fc03" stroke="#006401"/>
<path d="M392.7 1092.8L398.1 1084.2L392.7 1076.3L387.4 1085Z" fill="#00d12e" stroke="#005312"/>
<path d="M317.7 1129.8L323.1 1124.9L318 1118.7L312.5 1123.7Z" fill="#19ff00" stroke="#0a6600"/>
<path d="M408.8 1065.6L414.2 1055.7L408.7 1047.3L403.4 1057.4Z" fill="#009e61" stroke="#003f26"/>
<path d="M419.5 1025.6L424.9 1014L419.5 1005.1L414.1 1016.9Z" fill="#0055aa" stroke="#002244"/>
<path d="M387.4 1100.9L392.7 1092.8L387.4 1085L382 1093.3Z" fill="#00e01f" stroke="#00590c"/>
<path d="M414.2 1055.7L419.5 1045.2L414.1 1036.6L408.7 1047.3Z" fill="#008b74" stroke="#00372e"/>
<path d="M344.5 1127.2L349.9 1121.4L344.6 1114.6L339.2 1120.6Z" fill="#12ff00" stroke="#076600"/>
<path d="M382 1108.6L387.4 1100.9L382 1093.3L376.7 1101.2Z" fill="#00ed12" stroke="#005e07"/>
<path d="M360.6 1122.1L365.9 1115.5L360.6 1108.4L355.3 1115.1Z" fill="#08ff00" stroke="#036600"/>
<path d="M419.5 1045.2L424.9 1034.3L419.5 1025.6L414.1 1036.6Z" fill="#007788" stroke="#002f36"/>
<path d="M328.3 1131.2L333.8 1126.1L328.6 1119.7L323.1 1124.9Z" fill="#1aff00" stroke="#0a6600"/>
<path d="M424.9 1014L430.3 1001.9L424.8 992.9L419.5 1005.1Z" fill="#003ec1" stroke="#00184d"/>
<path d="M376.7 1115.9L382 1108.6L376.7 1101.2L371.3 1108.6Z" fill="#00fa05" stroke="#006402"/>
<path d="M424.9 1034.3L430.3 1022.9L424.9 1014L419.5 1025.6Z" fill="#00629d" stroke="#00273e"/>
<path d="M408.9 1083.2L414.2 1073.9L408.8 1065.6L403.4 1075.1Z" fill="#00bc43" stroke="#004b1a"/>
<path d="M312.2 1134.2L317.7 1129.8L312.5 1123.7L307 1128.2Z" fill="#1fff00" stroke="#0c6600"/>
<path d="M403.5 1092.1L408.9 1083.2L403.4 1075.1L398.1 1084.2Z" fill="#00cd32" stroke="#005214"/>
<path d="M414.2 1073.9L419.6 1064.1L414.2 1055.7L408.8 1065.6Z" fill="#00ab54" stroke="#004421"/>
<path d="M355.2 1128.2L360.6 1122.1L355.3 1115.1L349.9 1121.4Z" fill="#12ff00" stroke="#076600"/>
<path d="M398.1 1100.6L403.5 1092.1L398.1 1084.2L392.7 1092.8Z" fill="#00dc23" stroke="#00580e"/>
<path d="M339 1132.6L344.5 1127.2L339.2 1120.6L333.8 1126.1Z" fill="#1aff00" stroke="#0a6600"/>
<path d="M419.6 1064.1L425 1053.8L419.5 1045.2L414.2 1055.7Z" fill="#009867" stroke="#003c29"/>
<path d="M371.3 1122.7L376.7 1115.9L371.3 1108.6L365.9 1115.5Z" fill="#06ff00" stroke="#026600"/>
<path d="M392.8 1108.6L398.1 1100.6L392.7 1092.8L387.4 1100.9Z" fill="#00ea15" stroke="#005d08"/>
<path d="M430.3 1022.9L435.7 1011L430.3 1001.9L424.9 1014Z" fill="#004cb3" stroke="#001e47"/>
<path d="M425 1053.8L430.4 1043.1L424.9 1034.3L419.5 1045.2Z" fill="#00857a" stroke="#003530"/>
<path d="M322.8 1135.9L328.3 1131.2L323.1 1124.9L317.7 1129.8Z" fill="#20ff00" stroke="#0c6600"/>
<path d="M387.4 1116.1L392.8 1108.6L387.4 1100.9L382 1108.6Z" fill="#00f807" stroke="#006302"/>
<path d="M365.9 1129.1L371.3 1122.7L365.9 1115.5L360.6 1122.1Z" fill="#11ff00" stroke="#066600"/>
<path d="M349.7 1133.8L355.2 1128.2L349.9 1121.4L344.5 1127.2Z" fill="#1bff00" stroke="#0a6600"/>
<path d="M430.4 1043.1L435.8 1031.8L430.3 1022.9L424.9 1034.3Z" fill="#00708f" stroke="#002c39"/>
<path d="M382 1123.2L387.4 1116.1L382 1108.6L376.7 1115.9Z" fill="#05ff00" stroke="#026600"/>
<path d="M414.3 1091.4L419.7 1082.2L414.2 1073.9L408.9 1083.2Z" fill="#00c936" stroke="#005015"/>
<path d="M333.6 1137.5L339 1132.6L333.8 1126.1L328.3 1131.2Z" fill="#22ff00" stroke="#0d6600"/>
<path d="M306.6 1138.1L312.2 1134.2L307 1128.2L301.5 1132.3Z" fill="#24ff00" stroke="#0e6600"/>
<path d="M419.7 1082.2L425 1072.6L419.6 1064.1L414.2 1073.9Z" fill="#00b748" stroke="#00491c"/>
<path d="M408.9 1100.1L414.3 1091.4L408.9 1083.2L403.5 1092.1Z" fill="#00d926" stroke="#00560f"/>
<path d="M425 1072.6L430.4 1062.5L425 1053.8L419.6 1064.1Z" fill="#00a55a" stroke="#004224"/>
<path d="M403.5 1108.4L408.9 1100.1L403.5 1092.1L398.1 1100.6Z" fill="#00e817" stroke="#005c09"/>
<path d="M435.8 1031.8L441.2 1020.1L435.7 1011L430.3 1022.9Z" fill="#005ba4" stroke="#002441"/>
<path d="M430.4 1062.5L435.8 1051.9L430.4 1043.1L425 1053.8Z" fill="#00926d" stroke="#003a2b"/>
<path d="M360.5 1135L365.9 1129.1L360.6 1122.1L355.2 1128.2Z" fill="#1bff00" stroke="#0a6600"/>
<path d="M398.2 1116.2L403.5 1108.4L398.1 1100.6L392.8 1108.6Z" fill="#00f50a" stroke="#006204"/>
<path d="M317.3 1140.1L322.8 1135.9L317.7 1129.8L312.2 1134.2Z" fill="#26ff00" stroke="#0f6600"/>
<path d="M376.6 1129.9L382 1123.2L376.7 1115.9L371.3 1122.7Z" fill="#10ff00" stroke="#066600"/>
<path d="M344.3 1139.1L349.7 1133.8L344.5 1127.2L339 1132.6Z" fill="#22ff00" stroke="#0d6600"/>
<path d="M435.8 1051.9L441.3 1040.8L435.8 1031.8L430.4 1043.1Z" fill="#007e81" stroke="#003233"/>
<path d="M392.8 1123.6L398.2 1116.2L392.8 1108.6L387.4 1116.1Z" fill="#03ff00" stroke="#016600"/>
<path d="M328.1 1142.1L333.6 1137.5L328.3 1131.2L322.8 1135.9Z" fill="#28ff00" stroke="#106600"/>
<path d="M419.7 1099.6L425.1 1090.5L419.7 1082.2L414.3 1091.4Z" fill="#00d52a" stroke="#005510"/>
<path d="M425.1 1090.5L430.5 1081.1L425 1072.6L419.7 1082.2Z" fill="#00c43b" stroke="#004e17"/>
<path d="M371.2 1136.1L376.6 1129.9L371.3 1122.7L365.9 1129.1Z" fill="#1aff00" stroke="#0a6600"/>
<path d="M414.4 1108.1L419.7 1099.6L414.3 1091.4L408.9 1100.1Z" fill="#00e41b" stroke="#005b0a"/>
<path d="M430.5 1081.1L435.9 1071.1L430.4 1062.5L425 1072.6Z" fill="#00b24d" stroke="#00471e"/>
<path d="M441.3 1040.8L446.7 1029.3L441.2 1020.1L435.8 1031.8Z" fill="#006996" stroke="#002a3c"/>
<path d="M355 1140.5L360.5 1135L355.2 1128.2L349.7 1133.8Z" fill="#23ff00" stroke="#0e6600"/>
<path d="M301 1141.6L306.6 1138.1L301.5 1132.3L295.9 1136Z" fill="#28ff00" stroke="#106600"/>
<path d="M387.4 1130.6L392.8 1123.6L387.4 1116.1L382 1123.2Z" fill="#0fff00" stroke="#066600"/>
<path d="M409 1116.3L414.4 1108.1L408.9 1100.1L403.5 1108.4Z" fill="#00f30c" stroke="#006104"/>
<path d="M435.9 1071.1L441.3 1060.7L435.8 1051.9L430.4 1062.5Z" fill="#00a05f" stroke="#004026"/>
<path d="M338.8 1143.9L344.3 1139.1L339 1132.6L333.6 1137.5Z" fill="#29ff00" stroke="#106600"/>
<path d="M311.8 1143.9L317.3 1140.1L312.2 1134.2L306.6 1138.1Z" fill="#2aff00" stroke="#106600"/>
<path d="M403.6 1123.9L409 1116.3L403.5 1108.4L398.2 1116.2Z" fill="#01ff00" stroke="#006600"/>
<path d="M441.3 1060.7L446.8 1049.8L441.3 1040.8L435.8 1051.9Z" fill="#008c73" stroke="#00382e"/>
<path d="M382 1137.1L387.4 1130.6L382 1123.2L376.6 1129.9Z" fill="#1aff00" stroke="#0a6600"/>
<path d="M365.8 1141.9L371.2 1136.1L365.9 1129.1L360.5 1135Z" fill="#23ff00" stroke="#0e6600"/>
<path d="M398.2 1131.2L403.6 1123.9L398.2 1116.2L392.8 1123.6Z" fill="#0eff00" stroke="#056600"/>
<path d="M349.6 1145.6L355 1140.5L349.7 1133.8L344.3 1139.1Z" fill="#2aff00" stroke="#106600"/>
<path d="M446.8 1049.8L452.2 1038.5L446.7 1029.3L441.3 1040.8Z" fill="#007788" stroke="#002f36"/>
<path d="M322.5 1146.1L328.1 1142.1L322.8 1135.9L317.3 1140.1Z" fill="#2dff00" stroke="#126600"/>
<path d="M430.6 1098.9L436 1089.6L430.5 1081.1L425.1 1090.5Z" fill="#00d12e" stroke="#005312"/>
<path d="M425.2 1107.8L430.6 1098.9L425.1 1090.5L419.7 1099.6Z" fill="#00e11e" stroke="#005a0c"/>
<path d="M436 1089.6L441.4 1079.8L435.9 1071.1L430.5 1081.1Z" fill="#00bf40" stroke="#004c19"/>
<path d="M419.8 1116.2L425.2 1107.8L419.7 1099.6L414.4 1108.1Z" fill="#00f00f" stroke="#006006"/>
<path d="M441.4 1079.8L446.8 1069.6L441.3 1060.7L435.9 1071.1Z" fill="#00ad52" stroke="#004520"/>
<path d="M376.6 1143.2L382 1137.1L376.6 1129.9L371.2 1136.1Z" fill="#24ff00" stroke="#0e6600"/>
<path d="M295.4 1144.7L301 1141.6L295.9 1136L290.3 1139.2Z" fill="#2bff00" stroke="#116600"/>
<path d="M414.5 1124.2L419.8 1116.2L414.4 1108.1L409 1116.3Z" fill="#00fe01" stroke="#006500"/>
<path d="M392.8 1138L398.2 1131.2L392.8 1123.6L387.4 1130.6Z" fill="#19ff00" stroke="#0a6600"/>
<path d="M333.3 1148.3L338.8 1143.9L333.6 1137.5L328.1 1142.1Z" fill="#2fff00" stroke="#126600"/>
<path d="M446.8 1069.6L452.3 1058.9L446.8 1049.8L441.3 1060.7Z" fill="#009a65" stroke="#003d28"/>
<path d="M360.4 1147.3L365.8 1141.9L360.5 1135L355 1140.5Z" fill="#2cff00" stroke="#116600"/>
<path d="M409.1 1131.7L414.5 1124.2L409 1116.3L403.6 1123.9Z" fill="#0cff00" stroke="#046600"/>
<path d="M306.2 1147.3L311.8 1143.9L306.6 1138.1L301 1141.6Z" fill="#2eff00" stroke="#126600"/>
<path d="M452.3 1058.9L457.7 1047.7L452.2 1038.5L446.8 1049.8Z" fill="#00857a" stroke="#003530"/>
<path d="M344.1 1150.3L349.6 1145.6L344.3 1139.1L338.8 1143.9Z" fill="#31ff00" stroke="#136600"/>
<path d="M387.4 1144.3L392.8 1138L387.4 1130.6L382 1137.1Z" fill="#24ff00" stroke="#0e6600"/>
<path d="M436.1 1107.3L441.5 1098.2L436 1089.6L430.6 1098.9Z" fill="#00dd22" stroke="#00580d"/>
<path d="M441.5 1098.2L446.9 1088.6L441.4 1079.8L436 1089.6Z" fill="#00cc33" stroke="#005114"/>
<path d="M371.2 1148.8L376.6 1143.2L371.2 1136.1L365.8 1141.9Z" fill="#2cff00" stroke="#116600"/>
<path d="M430.7 1116L436.1 1107.3L430.6 1098.9L425.2 1107.8Z" fill="#00ed12" stroke="#005e07"/>
<path d="M317 1149.8L322.5 1146.1L317.3 1140.1L311.8 1143.9Z" fill="#31ff00" stroke="#136600"/>
<path d="M403.7 1138.8L409.1 1131.7L403.6 1123.9L398.2 1131.2Z" fill="#18ff00" stroke="#096600"/>
<path d="M446.9 1088.6L452.4 1078.5L446.8 1069.6L441.4 1079.8Z" fill="#00ba45" stroke="#004a1b"/>
<path d="M425.3 1124.3L430.7 1116L425.2 1107.8L419.8 1116.2Z" fill="#00fc03" stroke="#006401"/>
<path d="M354.9 1152.2L360.4 1147.3L355 1140.5L349.6 1145.6Z" fill="#33ff00" stroke="#146600"/>
<path d="M452.4 1078.5L457.8 1067.9L452.3 1058.9L446.8 1069.6Z" fill="#00a758" stroke="#004223"/>
<path d="M327.8 1152.2L333.3 1148.3L328.1 1142.1L322.5 1146.1Z" fill="#34ff00" stroke="#146600"/>
<path d="M419.9 1132.1L425.3 1124.3L419.8 1116.2L414.5 1124.2Z" fill="#0bff00" stroke="#046600"/>
<path d="M382 1150.3L387.4 1144.3L382 1137.1L376.6 1143.2Z" fill="#2dff00" stroke="#126600"/>
<path d="M398.3 1145.4L403.7 1138.8L398.2 1131.2L392.8 1138Z" fill="#23ff00" stroke="#0e6600"/>
<path d="M457.8 1067.9L463.3 1056.9L457.7 1047.7L452.3 1058.9Z" fill="#00936c" stroke="#003a2b"/>
<path d="M289.7 1147.4L295.4 1144.7L290.3 1139.2L284.6 1142.1Z" fill="#2cff00" stroke="#116600"/>
<path d="M365.7 1154L371.2 1148.8L365.8 1141.9L360.4 1147.3Z" fill="#34ff00" stroke="#146600"/>
<path d="M414.6 1139.5L419.9 1132.1L414.5 1124.2L409.1 1131.7Z" fill="#17ff00" stroke="#096600"/>
<path d="M338.6 1154.5L344.1 1150.3L338.8 1143.9L333.3 1148.3Z" fill="#36ff00" stroke="#156600"/>
<path d="M447 1106.8L452.5 1097.3L446.9 1088.6L441.5 1098.2Z" fill="#00d926" stroke="#00560f"/>
<path d="M441.6 1115.8L447 1106.8L441.5 1098.2L436.1 1107.3Z" fill="#00ea15" stroke="#005d08"/>
<path d="M300.6 1150.3L306.2 1147.3L301 1141.6L295.4 1144.7Z" fill="#30ff00" stroke="#136600"/>
<path d="M452.5 1097.3L457.9 1087.4L452.4 1078.5L446.9 1088.6Z" fill="#00c837" stroke="#005016"/>
<path d="M436.2 1124.3L441.6 1115.8L436.1 1107.3L430.7 1116Z" fill="#00f906" stroke="#006302"/>
<path d="M392.9 1151.6L398.3 1145.4L392.8 1138L387.4 1144.3Z" fill="#2dff00" stroke="#126600"/>
<path d="M457.9 1087.4L463.4 1077L457.8 1067.9L452.4 1078.5Z" fill="#00b54a" stroke="#00481d"/>
<path d="M409.2 1146.4L414.6 1139.5L409.1 1131.7L403.7 1138.8Z" fill="#23ff00" stroke="#0e6600"/>
<path d="M349.4 1156.7L354.9 1152.2L349.6 1145.6L344.1 1150.3Z" fill="#39ff00" stroke="#166600"/>
<path d="M430.8 1132.4L436.2 1124.3L430.7 1116L425.3 1124.3Z" fill="#09ff00" stroke="#036600"/>
<path d="M311.4 1153L317 1149.8L311.8 1143.9L306.2 1147.3Z" fill="#34ff00" stroke="#146600"/>
<path d="M376.6 1155.8L382 1150.3L376.6 1143.2L371.2 1148.8Z" fill="#35ff00" stroke="#156600"/>
<path d="M463.4 1077L468.8 1066.2L463.3 1056.9L457.8 1067.9Z" fill="#00a25d" stroke="#004025"/>
<path d="M425.5 1140.1L430.8 1132.4L425.3 1124.3L419.9 1132.1Z" fill="#16ff00" stroke="#086600"/>
<path d="M322.2 1155.7L327.8 1152.2L322.5 1146.1L317 1149.8Z" fill="#37ff00" stroke="#166600"/>
<path d="M360.3 1158.8L365.7 1154L360.4 1147.3L354.9 1152.2Z" fill="#3bff00" stroke="#176600"/>
<path d="M403.8 1152.9L409.2 1146.4L403.7 1138.8L398.3 1145.4Z" fill="#2eff00" stroke="#126600"/>
<path d="M387.5 1157.4L392.9 1151.6L387.4 1144.3L382 1150.3Z" fill="#36ff00" stroke="#156600"/>
<path d="M452.6 1115.4L458 1106.1L452.5 1097.3L447 1106.8Z" fill="#00e619" stroke="#005c0a"/>
<path d="M458 1106.1L463.5 1096.4L457.9 1087.4L452.5 1097.3Z" fill="#00d52a" stroke="#005510"/>
<path d="M333.1 1158.3L338.6 1154.5L333.3 1148.3L327.8 1152.2Z" fill="#3bff00" stroke="#176600"/>
<path d="M447.2 1124.2L452.6 1115.4L447 1106.8L441.6 1115.8Z" fill="#00f609" stroke="#006203"/>
<path d="M420.1 1147.3L425.5 1140.1L419.9 1132.1L414.6 1139.5Z" fill="#22ff00" stroke="#0d6600"/>
<path d="M463.5 1096.4L468.9 1086.1L463.4 1077L457.9 1087.4Z" fill="#00c33c" stroke="#004e18"/>
<path d="M441.8 1132.6L447.2 1124.2L441.6 1115.8L436.2 1124.3Z" fill="#06ff00" stroke="#026600"/>
<path d="M284 1149.6L289.7 1147.4L284.6 1142.1L278.9 1144.4Z" fill="#2dff00" stroke="#126600"/>
<path d="M371.1 1160.8L376.6 1155.8L371.2 1148.8L365.7 1154Z" fill="#3dff00" stroke="#186600"/>
<path d="M468.9 1086.1L474.4 1075.5L468.8 1066.2L463.4 1077Z" fill="#00b04f" stroke="#00461f"/>
<path d="M343.9 1160.8L349.4 1156.7L344.1 1150.3L338.6 1154.5Z" fill="#3eff00" stroke="#186600"/>
<path d="M436.4 1140.6L441.8 1132.6L436.2 1124.3L430.8 1132.4Z" fill="#14ff00" stroke="#086600"/>
<path d="M294.9 1152.8L300.6 1150.3L295.4 1144.7L289.7 1147.4Z" fill="#32ff00" stroke="#146600"/>
<path d="M398.3 1158.9L403.8 1152.9L398.3 1145.4L392.9 1151.6Z" fill="#37ff00" stroke="#166600"/>
<path d="M414.7 1154.1L420.1 1147.3L414.6 1139.5L409.2 1146.4Z" fill="#2eff00" stroke="#126600"/>
<path d="M305.7 1155.8L311.4 1153L306.2 1147.3L300.6 1150.3Z" fill="#36ff00" stroke="#156600"/>
<path d="M382 1162.7L387.5 1157.4L382 1150.3L376.6 1155.8Z" fill="#3eff00" stroke="#186600"/>
<path d="M431 1148.1L436.4 1140.6L430.8 1132.4L425.5 1140.1Z" fill="#21ff00" stroke="#0d6600"/>
<path d="M354.8 1163.2L360.3 1158.8L354.9 1152.2L349.4 1156.7Z" fill="#40ff00" stroke="#196600"/>
<path d="M316.6 1158.8L322.2 1155.7L317 1149.8L311.4 1153Z" fill="#3aff00" stroke="#176600"/>
<path d="M458.2 1124.1L463.6 1114.9L458 1106.1L452.6 1115.4Z" fill="#00f30c" stroke="#006104"/>
<path d="M463.6 1114.9L469.1 1105.4L463.5 1096.4L458 1106.1Z" fill="#00e31c" stroke="#005a0b"/>
<path d="M452.8 1132.8L458.2 1124.1L452.6 1115.4L447.2 1124.2Z" fill="#04ff00" stroke="#016600"/>
<path d="M469.1 1105.4L474.5 1095.3L468.9 1086.1L463.5 1096.4Z" fill="#00d12e" stroke="#005312"/>
<path d="M409.3 1160.4L414.7 1154.1L409.2 1146.4L403.8 1152.9Z" fill="#38ff00" stroke="#166600"/>
<path d="M425.6 1155.1L431 1148.1L425.5 1140.1L420.1 1147.3Z" fill="#2dff00" stroke="#126600"/>
<path d="M365.7 1165.4L371.1 1160.8L365.7 1154L360.3 1158.8Z" fill="#43ff00" stroke="#1a6600"/>
<path d="M447.4 1141L452.8 1132.8L447.2 1124.2L441.8 1132.6Z" fill="#13ff00" stroke="#076600"/>
<path d="M327.5 1161.6L333.1 1158.3L327.8 1152.2L322.2 1155.7Z" fill="#3eff00" stroke="#186600"/>
<path d="M474.5 1095.3L480 1084.8L474.4 1075.5L468.9 1086.1Z" fill="#00be41" stroke="#004c1a"/>
<path d="M392.9 1164.6L398.3 1158.9L392.9 1151.6L387.5 1157.4Z" fill="#40ff00" stroke="#196600"/>
<path d="M442 1148.8L447.4 1141L441.8 1132.6L436.4 1140.6Z" fill="#20ff00" stroke="#0c6600"/>
<path d="M338.4 1164.4L343.9 1160.8L338.6 1154.5L333.1 1158.3Z" fill="#41ff00" stroke="#1a6600"/>
<path d="M376.6 1167.7L382 1162.7L376.6 1155.8L371.1 1160.8Z" fill="#45ff00" stroke="#1b6600"/>
<path d="M420.2 1161.8L425.6 1155.1L420.1 1147.3L414.7 1154.1Z" fill="#38ff00" stroke="#166600"/>
<path d="M278.2 1151.4L284 1149.6L278.9 1144.4L273.2 1146.4Z" fill="#2dff00" stroke="#126600"/>
<path d="M403.8 1166.3L409.3 1160.4L403.8 1152.9L398.3 1158.9Z" fill="#41ff00" stroke="#1a6600"/>
<path d="M436.6 1156.1L442 1148.8L436.4 1140.6L431 1148.1Z" fill="#2dff00" stroke="#126600"/>
<path d="M349.3 1167.1L354.8 1163.2L349.4 1156.7L343.9 1160.8Z" fill="#45ff00" stroke="#1b6600"/>
<path d="M469.2 1123.8L474.7 1114.4L469.1 1105.4L463.6 1114.9Z" fill="#00f00f" stroke="#006006"/>
<path d="M289.2 1154.8L294.9 1152.8L289.7 1147.4L284 1149.6Z" fill="#32ff00" stroke="#146600"/>
<path d="M463.8 1132.8L469.2 1123.8L463.6 1114.9L458.2 1124.1Z" fill="#01ff00" stroke="#006600"/>
<path d="M474.7 1114.4L480.1 1104.5L474.5 1095.3L469.1 1105.4Z" fill="#00df20" stroke="#00590c"/>
<path d="M458.4 1141.3L463.8 1132.8L458.2 1124.1L452.8 1132.8Z" fill="#11ff00" stroke="#066600"/>
<path d="M387.5 1169.8L392.9 1164.6L387.5 1157.4L382 1162.7Z" fill="#47ff00" stroke="#1c6600"/>
<path d="M300.1 1158.2L305.7 1155.8L300.6 1150.3L294.9 1152.8Z" fill="#37ff00" stroke="#166600"/>
<path d="M480.1 1104.5L485.6 1094.1L480 1084.8L474.5 1095.3Z" fill="#00cc33" stroke="#005114"/>
<path d="M360.2 1169.6L365.7 1165.4L360.3 1158.8L354.8 1163.2Z" fill="#48ff00" stroke="#1c6600"/>
<path d="M452.9 1149.4L458.4 1141.3L452.8 1132.8L447.4 1141Z" fill="#1fff00" stroke="#0c6600"/>
<path d="M311 1161.4L316.6 1158.8L311.4 1153L305.7 1155.8Z" fill="#3cff00" stroke="#186600"/>
<path d="M414.8 1167.9L420.2 1161.8L414.7 1154.1L409.3 1160.4Z" fill="#42ff00" stroke="#1a6600"/>
<path d="M431.2 1163L436.6 1156.1L431 1148.1L425.6 1155.1Z" fill="#38ff00" stroke="#166600"/>
<path d="M321.9 1164.5L327.5 1161.6L322.2 1155.7L316.6 1158.8Z" fill="#40ff00" stroke="#196600"/>
<path d="M398.4 1171.8L403.8 1166.3L398.3 1158.9L392.9 1164.6Z" fill="#49ff00" stroke="#1d6600"/>
<path d="M447.5 1157L452.9 1149.4L447.4 1141L442 1148.8Z" fill="#2cff00" stroke="#116600"/>
<path d="M371.1 1172.1L376.6 1167.7L371.1 1160.8L365.7 1165.4Z" fill="#4bff00" stroke="#1e6600"/>
<path d="M332.8 1167.6L338.4 1164.4L333.1 1158.3L327.5 1161.6Z" fill="#44ff00" stroke="#1b6600"/>
<path d="M474.8 1132.7L480.3 1123.4L474.7 1114.4L469.2 1123.8Z" fill="#00fe01" stroke="#006500"/>
<path d="M480.3 1123.4L485.8 1113.7L480.1 1104.5L474.7 1114.4Z" fill="#00ed12" stroke="#005e07"/>
<path d="M469.4 1141.5L474.8 1132.7L469.2 1123.8L463.8 1132.8Z" fill="#0eff00" stroke="#056600"/>
<path d="M425.7 1169.5L431.2 1163L425.6 1155.1L420.2 1161.8Z" fill="#43ff00" stroke="#1a6600"/>
<path d="M485.8 1113.7L491.2 1103.5L485.6 1094.1L480.1 1104.5Z" fill="#00db24" stroke="#00570e"/>
<path d="M442.1 1164.2L447.5 1157L442 1148.8L436.6 1156.1Z" fill="#38ff00" stroke="#166600"/>
<path d="M382 1174.5L387.5 1169.8L382 1162.7L376.6 1167.7Z" fill="#4eff00" stroke="#1f6600"/>
<path d="M409.4 1173.7L414.8 1167.9L409.3 1160.4L403.8 1166.3Z" fill="#4bff00" stroke="#1e6600"/>
<path d="M464 1149.9L469.4 1141.5L463.8 1132.8L458.4 1141.3Z" fill="#1dff00" stroke="#0b6600"/>
<path d="M343.7 1170.6L349.3 1167.1L343.9 1160.8L338.4 1164.4Z" fill="#48ff00" stroke="#1c6600"/>
<path d="M458.6 1157.8L464 1149.9L458.4 1141.3L452.9 1149.4Z" fill="#2bff00" stroke="#116600"/>
<path d="M272.4 1152.7L278.2 1151.4L273.2 1146.4L267.4 1147.9Z" fill="#2bff00" stroke="#116600"/>
<path d="M354.6 1173.4L360.2 1169.6L354.8 1163.2L349.3 1167.1Z" fill="#4cff00" stroke="#1e6600"/>
<path d="M393 1176.8L398.4 1171.8L392.9 1164.6L387.5 1169.8Z" fill="#50ff00" stroke="#206600"/>
<path d="M283.4 1156.5L289.2 1154.8L284 1149.6L278.2 1151.4Z" fill="#31ff00" stroke="#136600"/>
<path d="M436.7 1170.9L442.1 1164.2L436.6 1156.1L431.2 1163Z" fill="#43ff00" stroke="#1a6600"/>
<path d="M420.3 1175.5L425.7 1169.5L420.2 1161.8L414.8 1167.9Z" fill="#4cff00" stroke="#1e6600"/>
<path d="M294.3 1160.1L300.1 1158.2L294.9 1152.8L289.2 1154.8Z" fill="#37ff00" stroke="#166600"/>
<path d="M453.2 1165.3L458.6 1157.8L452.9 1149.4L447.5 1157Z" fill="#38ff00" stroke="#166600"/>
<path d="M365.6 1176.2L371.1 1172.1L365.7 1165.4L360.2 1169.6Z" fill="#50ff00" stroke="#206600"/>
<path d="M485.9 1132.5L491.4 1123L485.8 1113.7L480.3 1123.4Z" fill="#00fa05" stroke="#006402"/>
<path d="M480.5 1141.6L485.9 1132.5L480.3 1123.4L474.8 1132.7Z" fill="#0cff00" stroke="#046600"/>
<path d="M305.3 1163.6L311 1161.4L305.7 1155.8L300.1 1158.2Z" fill="#3cff00" stroke="#186600"/>
<path d="M491.4 1123L496.9 1112.9L491.2 1103.5L485.8 1113.7Z" fill="#00e916" stroke="#005d08"/>
<path d="M475 1150.3L480.5 1141.6L474.8 1132.7L469.4 1141.5Z" fill="#1bff00" stroke="#0a6600"/>
<path d="M403.9 1179L409.4 1173.7L403.8 1166.3L398.4 1171.8Z" fill="#52ff00" stroke="#206600"/>
<path d="M316.2 1167L321.9 1164.5L316.6 1158.8L311 1161.4Z" fill="#41ff00" stroke="#1a6600"/>
<path d="M376.5 1178.9L382 1174.5L376.6 1167.7L371.1 1172.1Z" fill="#53ff00" stroke="#216600"/>
<path d="M469.6 1158.5L475 1150.3L469.4 1141.5L464 1149.9Z" fill="#2aff00" stroke="#106600"/>
<path d="M431.3 1177.3L436.7 1170.9L431.2 1163L425.7 1169.5Z" fill="#4dff00" stroke="#1e6600"/>
<path d="M447.8 1172.3L453.2 1165.3L447.5 1157L442.1 1164.2Z" fill="#43ff00" stroke="#1a6600"/>
<path d="M327.2 1170.4L332.8 1167.6L327.5 1161.6L321.9 1164.5Z" fill="#46ff00" stroke="#1c6600"/>
<path d="M414.9 1181.1L420.3 1175.5L414.8 1167.9L409.4 1173.7Z" fill="#54ff00" stroke="#216600"/>
<path d="M464.2 1166.2L469.6 1158.5L464 1149.9L458.6 1157.8Z" fill="#37ff00" stroke="#166600"/>
<path d="M338.1 1173.6L343.7 1170.6L338.4 1164.4L332.8 1167.6Z" fill="#4bff00" stroke="#1e6600"/>
<path d="M387.5 1181.4L393 1176.8L387.5 1169.8L382 1174.5Z" fill="#56ff00" stroke="#226600"/>
<path d="M349.1 1176.8L354.6 1173.4L349.3 1167.1L343.7 1170.6Z" fill="#4fff00" stroke="#1f6600"/>
<path d="M491.6 1141.6L497.1 1132.3L491.4 1123L485.9 1132.5Z" fill="#09ff00" stroke="#036600"/>
<path d="M442.3 1178.9L447.8 1172.3L442.1 1164.2L436.7 1170.9Z" fill="#4eff00" stroke="#1f6600"/>
<path d="M497.1 1132.3L502.6 1122.4L496.9 1112.9L491.4 1123Z" fill="#00f708" stroke="#006203"/>
<path d="M486.1 1150.6L491.6 1141.6L485.9 1132.5L480.5 1141.6Z" fill="#19ff00" stroke="#0a6600"/>
<path d="M458.8 1173.6L464.2 1166.2L458.6 1157.8L453.2 1165.3Z" fill="#44ff00" stroke="#1b6600"/>
<path d="M398.5 1183.9L403.9 1179L398.4 1171.8L393 1176.8Z" fill="#59ff00" stroke="#236600"/>
<path d="M425.9 1183.2L431.3 1177.3L425.7 1169.5L420.3 1175.5Z" fill="#56ff00" stroke="#226600"/>
<path d="M480.7 1159.1L486.1 1150.6L480.5 1141.6L475 1150.3Z" fill="#28ff00" stroke="#106600"/>
<path d="M360.1 1179.8L365.6 1176.2L360.2 1169.6L354.6 1173.4Z" fill="#53ff00" stroke="#216600"/>
<path d="M475.3 1167.1L480.7 1159.1L475 1150.3L469.6 1158.5Z" fill="#36ff00" stroke="#156600"/>
<path d="M266.5 1153.6L272.4 1152.7L267.4 1147.9L261.5 1148.9Z" fill="#29ff00" stroke="#106600"/>
<path d="M371 1182.8L376.5 1178.9L371.1 1172.1L365.6 1176.2Z" fill="#57ff00" stroke="#226600"/>
<path d="M277.5 1157.6L283.4 1156.5L278.2 1151.4L272.4 1152.7Z" fill="#2fff00" stroke="#126600"/>
<path d="M409.5 1186.3L414.9 1181.1L409.4 1173.7L403.9 1179Z" fill="#5cff00" stroke="#246600"/>
<path d="M453.4 1180.5L458.8 1173.6L453.2 1165.3L447.8 1172.3Z" fill="#4fff00" stroke="#1f6600"/>
<path d="M288.5 1161.5L294.3 1160.1L289.2 1154.8L283.4 1156.5Z" fill="#36ff00" stroke="#156600"/>
<path d="M436.9 1185.1L442.3 1178.9L436.7 1170.9L431.3 1177.3Z" fill="#58ff00" stroke="#236600"/>
<path d="M299.5 1165.4L305.3 1163.6L300.1 1158.2L294.3 1160.1Z" fill="#3cff00" stroke="#186600"/>
<path d="M469.9 1174.7L475.3 1167.1L469.6 1158.5L464.2 1166.2Z" fill="#43ff00" stroke="#1a6600"/>
<path d="M382 1185.6L387.5 1181.4L382 1174.5L376.5 1178.9Z" fill="#5bff00" stroke="#246600"/>
<path d="M310.5 1169.1L316.2 1167L311 1161.4L305.3 1163.6Z" fill="#41ff00" stroke="#1a6600"/>
<path d="M497.3 1150.8L502.8 1141.6L497.1 1132.3L491.6 1141.6Z" fill="#17ff00" stroke="#096600"/>
<path d="M502.8 1141.6L508.3 1131.9L502.6 1122.4L497.1 1132.3Z" fill="#06ff00" stroke="#026600"/>
<path d="M420.5 1188.6L425.9 1183.2L420.3 1175.5L414.9 1181.1Z" fill="#5eff00" stroke="#256600"/>
<path d="M321.5 1172.7L327.2 1170.4L321.9 1164.5L316.2 1167Z" fill="#47ff00" stroke="#1c6600"/>
<path d="M491.8 1159.6L497.3 1150.8L491.6 1141.6L486.1 1150.6Z" fill="#27ff00" stroke="#0f6600"/>
<path d="M332.5 1176.2L338.1 1173.6L332.8 1167.6L327.2 1170.4Z" fill="#4cff00" stroke="#1e6600"/>
<path d="M393 1188.4L398.5 1183.9L393 1176.8L387.5 1181.4Z" fill="#5fff00" stroke="#266600"/>
<path d="M486.4 1167.9L491.8 1159.6L486.1 1150.6L480.7 1159.1Z" fill="#35ff00" stroke="#156600"/>
<path d="M448 1186.9L453.4 1180.5L447.8 1172.3L442.3 1178.9Z" fill="#59ff00" stroke="#236600"/>
<path d="M464.5 1181.9L469.9 1174.7L464.2 1166.2L458.8 1173.6Z" fill="#4fff00" stroke="#1f6600"/>
<path d="M343.5 1179.7L349.1 1176.8L343.7 1170.6L338.1 1173.6Z" fill="#51ff00" stroke="#206600"/>
<path d="M431.5 1190.8L436.9 1185.1L431.3 1177.3L425.9 1183.2Z" fill="#60ff00" stroke="#266600"/>
<path d="M481 1175.8L486.4 1167.9L480.7 1159.1L475.3 1167.1Z" fill="#43ff00" stroke="#1a6600"/>
<path d="M404 1191.1L409.5 1186.3L403.9 1179L398.5 1183.9Z" fill="#62ff00" stroke="#276600"/>
<path d="M354.5 1183L360.1 1179.8L354.6 1173.4L349.1 1176.8Z" fill="#56ff00" stroke="#226600"/>
<path d="M459.1 1188.6L464.5 1181.9L458.8 1173.6L453.4 1180.5Z" fill="#5aff00" stroke="#246600"/>
<path d="M365.5 1186.2L371 1182.8L365.6 1176.2L360.1 1179.8Z" fill="#5bff00" stroke="#246600"/>
<path d="M508.5 1150.9L514 1141.4L508.3 1131.9L502.8 1141.6Z" fill="#15ff00" stroke="#086600"/>
<path d="M503 1160L508.5 1150.9L502.8 1141.6L497.3 1150.8Z" fill="#25ff00" stroke="#0e6600"/>
<path d="M475.6 1183.3L481 1175.8L475.3 1167.1L469.9 1174.7Z" fill="#50ff00" stroke="#206600"/>
<path d="M415.1 1193.6L420.5 1188.6L414.9 1181.1L409.5 1186.3Z" fill="#65ff00" stroke="#286600"/>
<path d="M442.6 1192.9L448 1186.9L442.3 1178.9L436.9 1185.1Z" fill="#62ff00" stroke="#276600"/>
<path d="M497.5 1168.6L503 1160L497.3 1150.8L491.8 1159.6Z" fill="#34ff00" stroke="#146600"/>
<path d="M376.5 1189.4L382 1185.6L376.5 1178.9L371 1182.8Z" fill="#5fff00" stroke="#266600"/>
<path d="M492.1 1176.8L497.5 1168.6L491.8 1159.6L486.4 1167.9Z" fill="#42ff00" stroke="#1a6600"/>
<path d="M426.1 1196.1L431.5 1190.8L425.9 1183.2L420.5 1188.6Z" fill="#68ff00" stroke="#296600"/>
<path d="M387.5 1192.4L393 1188.4L387.5 1181.4L382 1185.6Z" fill="#63ff00" stroke="#276600"/>
<path d="M470.1 1190.3L475.6 1183.3L469.9 1174.7L464.5 1181.9Z" fill="#5bff00" stroke="#246600"/>
<path d="M260.6 1154.1L266.5 1153.6L261.5 1148.9L255.5 1149.5Z" fill="#25ff00" stroke="#0e6600"/>
<path d="M271.6 1158.4L277.5 1157.6L272.4 1152.7L266.5 1153.6Z" fill="#2dff00" stroke="#126600"/>
<path d="M282.7 1162.6L288.5 1161.5L283.4 1156.5L277.5 1157.6Z" fill="#33ff00" stroke="#146600"/>
<path d="M453.6 1194.9L459.1 1188.6L453.4 1180.5L448 1186.9Z" fill="#64ff00" stroke="#286600"/>
<path d="M293.7 1166.7L299.5 1165.4L294.3 1160.1L288.5 1161.5Z" fill="#3aff00" stroke="#176600"/>
<path d="M304.7 1170.7L310.5 1169.1L305.3 1163.6L299.5 1165.4Z" fill="#40ff00" stroke="#196600"/>
<path d="M486.7 1184.5L492.1 1176.8L486.4 1167.9L481 1175.8Z" fill="#50ff00" stroke="#206600"/>
<path d="M315.8 1174.6L321.5 1172.7L316.2 1167L310.5 1169.1Z" fill="#47ff00" stroke="#1c6600"/>
<path d="M398.6 1195.4L404 1191.1L398.5 1183.9L393 1188.4Z" fill="#67ff00" stroke="#296600"/>
<path d="M326.8 1178.4L332.5 1176.2L327.2 1170.4L321.5 1172.7Z" fill="#4cff00" stroke="#1e6600"/>
<path d="M437.2 1198.5L442.6 1192.9L436.9 1185.1L431.5 1190.8Z" fill="#6aff00" stroke="#2a6600"/>
<path d="M514.2 1160.3L519.7 1150.9L514 1141.4L508.5 1150.9Z" fill="#23ff00" stroke="#0e6600"/>
<path d="M508.7 1169.2L514.2 1160.3L508.5 1150.9L503 1160Z" fill="#33ff00" stroke="#146600"/>
<path d="M337.8 1182.1L343.5 1179.7L338.1 1173.6L332.5 1176.2Z" fill="#52ff00" stroke="#206600"/>
<path d="M409.6 1198.2L415.1 1193.6L409.5 1186.3L404 1191.1Z" fill="#6bff00" stroke="#2a6600"/>
<path d="M464.7 1196.9L470.1 1190.3L464.5 1181.9L459.1 1188.6Z" fill="#66ff00" stroke="#286600"/>
<path d="M503.3 1177.7L508.7 1169.2L503 1160L497.5 1168.6Z" fill="#42ff00" stroke="#1a6600"/>
<path d="M481.3 1191.8L486.7 1184.5L481 1175.8L475.6 1183.3Z" fill="#5cff00" stroke="#246600"/>
<path d="M348.9 1185.7L354.5 1183L349.1 1176.8L343.5 1179.7Z" fill="#58ff00" stroke="#236600"/>
<path d="M359.9 1189.3L365.5 1186.2L360.1 1179.8L354.5 1183Z" fill="#5dff00" stroke="#256600"/>
<path d="M448.2 1200.8L453.6 1194.9L448 1186.9L442.6 1192.9Z" fill="#6dff00" stroke="#2b6600"/>
<path d="M497.8 1185.7L503.3 1177.7L497.5 1168.6L492.1 1176.8Z" fill="#4fff00" stroke="#1f6600"/>
<path d="M420.7 1201L426.1 1196.1L420.5 1188.6L415.1 1193.6Z" fill="#6eff00" stroke="#2c6600"/>
<path d="M371 1192.7L376.5 1189.4L371 1182.8L365.5 1186.2Z" fill="#62ff00" stroke="#276600"/>
<path d="M475.9 1198.7L481.3 1191.8L475.6 1183.3L470.1 1190.3Z" fill="#67ff00" stroke="#296600"/>
<path d="M382 1196L387.5 1192.4L382 1185.6L376.5 1189.4Z" fill="#67ff00" stroke="#296600"/>
<path d="M492.4 1193.3L497.8 1185.7L492.1 1176.8L486.7 1184.5Z" fill="#5cff00" stroke="#246600"/>
<path d="M519.9 1169.7L525.4 1160.5L519.7 1150.9L514.2 1160.3Z" fill="#31ff00" stroke="#136600"/>
<path d="M431.7 1203.7L437.2 1198.5L431.5 1190.8L426.1 1196.1Z" fill="#72ff00" stroke="#2d6600"/>
<path d="M459.3 1203L464.7 1196.9L459.1 1188.6L453.6 1194.9Z" fill="#6fff00" stroke="#2c6600"/>
<path d="M514.5 1178.5L519.9 1169.7L514.2 1160.3L508.7 1169.2Z" fill="#41ff00" stroke="#1a6600"/>
<path d="M393.1 1199.3L398.6 1195.4L393 1188.4L387.5 1192.4Z" fill="#6bff00" stroke="#2a6600"/>
<path d="M509 1186.8L514.5 1178.5L508.7 1169.2L503.3 1177.7Z" fill="#4fff00" stroke="#1f6600"/>
<path d="M442.8 1206.2L448.2 1200.8L442.6 1192.9L437.2 1198.5Z" fill="#75ff00" stroke="#2e6600"/>
<path d="M404.1 1202.4L409.6 1198.2L404 1191.1L398.6 1195.4Z" fill="#70ff00" stroke="#2c6600"/>
<path d="M487 1200.4L492.4 1193.3L486.7 1184.5L481.3 1191.8Z" fill="#68ff00" stroke="#296600"/>
<path d="M470.5 1205.1L475.9 1198.7L470.1 1190.3L464.7 1196.9Z" fill="#71ff00" stroke="#2d6600"/>
<path d="M503.6 1194.6L509 1186.8L503.3 1177.7L497.8 1185.7Z" fill="#5cff00" stroke="#246600"/>
<path d="M287.8 1167.5L293.7 1166.7L288.5 1161.5L282.7 1162.6Z" fill="#37ff00" stroke="#166600"/>
<path d="M298.9 1171.8L304.7 1170.7L299.5 1165.4L293.7 1166.7Z" fill="#3eff00" stroke="#186600"/>
<path d="M276.8 1163.1L282.7 1162.6L277.5 1157.6L271.6 1158.4Z" fill="#30ff00" stroke="#136600"/>
<path d="M310 1176L315.8 1174.6L310.5 1169.1L304.7 1170.7Z" fill="#45ff00" stroke="#1b6600"/>
<path d="M265.7 1158.6L271.6 1158.4L266.5 1153.6L260.6 1154.1Z" fill="#29ff00" stroke="#106600"/>
<path d="M415.2 1205.4L420.7 1201L415.1 1193.6L409.6 1198.2Z" fill="#74ff00" stroke="#2e6600"/>
<path d="M321.1 1180.1L326.8 1178.4L321.5 1172.7L315.8 1174.6Z" fill="#4cff00" stroke="#1e6600"/>
<path d="M254.5 1154L260.6 1154.1L255.5 1149.5L249.5 1149.7Z" fill="#21ff00" stroke="#0d6600"/>
<path d="M332.2 1184.1L337.8 1182.1L332.5 1176.2L326.8 1178.4Z" fill="#52ff00" stroke="#206600"/>
<path d="M453.9 1208.7L459.3 1203L453.6 1194.9L448.2 1200.8Z" fill="#77ff00" stroke="#2f6600"/>
<path d="M343.2 1188.1L348.9 1185.7L343.5 1179.7L337.8 1182.1Z" fill="#58ff00" stroke="#236600"/>
<path d="M525.7 1179.2L531.2 1170.1L525.4 1160.5L519.9 1169.7Z" fill="#3fff00" stroke="#196600"/>
<path d="M354.3 1191.9L359.9 1189.3L354.5 1183L348.9 1185.7Z" fill="#5eff00" stroke="#256600"/>
<path d="M481.6 1207.1L487 1200.4L481.3 1191.8L475.9 1198.7Z" fill="#73ff00" stroke="#2e6600"/>
<path d="M426.3 1208.4L431.7 1203.7L426.1 1196.1L420.7 1201Z" fill="#78ff00" stroke="#306600"/>
<path d="M498.2 1202.1L503.6 1194.6L497.8 1185.7L492.4 1193.3Z" fill="#69ff00" stroke="#2a6600"/>
<path d="M520.2 1187.8L525.7 1179.2L519.9 1169.7L514.5 1178.5Z" fill="#4eff00" stroke="#1f6600"/>
<path d="M365.4 1195.6L371 1192.7L365.5 1186.2L359.9 1189.3Z" fill="#64ff00" stroke="#286600"/>
<path d="M465.1 1211.1L470.5 1205.1L464.7 1196.9L459.3 1203Z" fill="#7aff00" stroke="#306600"/>
<path d="M376.5 1199.2L382 1196L376.5 1189.4L371 1192.7Z" fill="#69ff00" stroke="#2a6600"/>
<path d="M514.8 1195.9L520.2 1187.8L514.5 1178.5L509 1186.8Z" fill="#5cff00" stroke="#246600"/>
<path d="M437.4 1211.3L442.8 1206.2L437.2 1198.5L431.7 1203.7Z" fill="#7bff00" stroke="#316600"/>
<path d="M387.6 1202.7L393.1 1199.3L387.5 1192.4L382 1196Z" fill="#6eff00" stroke="#2c6600"/>
<path d="M492.8 1209.1L498.2 1202.1L492.4 1193.3L487 1200.4Z" fill="#74ff00" stroke="#2e6600"/>
<path d="M509.4 1203.6L514.8 1195.9L509 1186.8L503.6 1194.6Z" fill="#69ff00" stroke="#2a6600"/>
<path d="M398.6 1206.1L404.1 1202.4L398.6 1195.4L393.1 1199.3Z" fill="#73ff00" stroke="#2e6600"/>
<path d="M476.2 1213.4L481.6 1207.1L475.9 1198.7L470.5 1205.1Z" fill="#7cff00" stroke="#316600"/>
<path d="M448.5 1214L453.9 1208.7L448.2 1200.8L442.8 1206.2Z" fill="#7fff00" stroke="#326600"/>
<path d="M531.5 1188.6L537 1179.8L531.2 1170.1L525.7 1179.2Z" fill="#4eff00" stroke="#1f6600"/>
<path d="M409.7 1209.5L415.2 1205.4L409.6 1198.2L404.1 1202.4Z" fill="#78ff00" stroke="#306600"/>
<path d="M526 1197.1L531.5 1188.6L525.7 1179.2L520.2 1187.8Z" fill="#5cff00" stroke="#246600"/>
<path d="M459.6 1216.7L465.1 1211.1L459.3 1203L453.9 1208.7Z" fill="#82ff00" stroke="#346600"/>
<path d="M503.9 1210.9L509.4 1203.6L503.6 1194.6L498.2 1202.1Z" fill="#75ff00" stroke="#2e6600"/>
<path d="M420.9 1212.7L426.3 1208.4L420.7 1201L415.2 1205.4Z" fill="#7dff00" stroke="#326600"/>
<path d="M487.4 1215.6L492.8 1209.1L487 1200.4L481.6 1207.1Z" fill="#7eff00" stroke="#326600"/>
<path d="M520.6 1205.1L526 1197.1L520.2 1187.8L514.8 1195.9Z" fill="#6aff00" stroke="#2a6600"/>
<path d="M432 1215.8L437.4 1211.3L431.7 1203.7L426.3 1208.4Z" fill="#81ff00" stroke="#336600"/>
<path d="M470.8 1219.3L476.2 1213.4L470.5 1205.1L465.1 1211.1Z" fill="#85ff00" stroke="#356600"/>
<path d="M315.3 1181.4L321.1 1180.1L315.8 1174.6L310 1176Z" fill="#4aff00" stroke="#1d6600"/>
<path d="M326.4 1185.7L332.2 1184.1L326.8 1178.4L321.1 1180.1Z" fill="#51ff00" stroke="#206600"/>
<path d="M304.2 1177L310 1176L304.7 1170.7L298.9 1171.8Z" fill="#43ff00" stroke="#1a6600"/>
<path d="M337.6 1189.9L343.2 1188.1L337.8 1182.1L332.2 1184.1Z" fill="#58ff00" stroke="#236600"/>
<path d="M293.1 1172.6L298.9 1171.8L293.7 1166.7L287.8 1167.5Z" fill="#3bff00" stroke="#176600"/>
<path d="M348.7 1194L354.3 1191.9L348.9 1185.7L343.2 1188.1Z" fill="#5eff00" stroke="#256600"/>
<path d="M281.9 1168L287.8 1167.5L282.7 1162.6L276.8 1163.1Z" fill="#34ff00" stroke="#146600"/>
<path d="M498.5 1217.7L503.9 1210.9L498.2 1202.1L492.8 1209.1Z" fill="#80ff00" stroke="#336600"/>
<path d="M359.8 1198L365.4 1195.6L359.9 1189.3L354.3 1191.9Z" fill="#65ff00" stroke="#286600"/>
<path d="M270.8 1163.3L276.8 1163.1L271.6 1158.4L265.7 1158.6Z" fill="#2cff00" stroke="#116600"/>
<path d="M515.2 1212.6L520.6 1205.1L514.8 1195.9L509.4 1203.6Z" fill="#76ff00" stroke="#2f6600"/>
<path d="M443.1 1218.9L448.5 1214L442.8 1206.2L437.4 1211.3Z" fill="#85ff00" stroke="#356600"/>
<path d="M537.3 1198.2L542.8 1189.4L537 1179.8L531.5 1188.6Z" fill="#5cff00" stroke="#246600"/>
<path d="M370.9 1201.9L376.5 1199.2L371 1192.7L365.4 1195.6Z" fill="#6bff00" stroke="#2a6600"/>
<path d="M259.6 1158.5L265.7 1158.6L260.6 1154.1L254.5 1154Z" fill="#24ff00" stroke="#0e6600"/>
<path d="M482 1221.8L487.4 1215.6L481.6 1207.1L476.2 1213.4Z" fill="#88ff00" stroke="#366600"/>
<path d="M382 1205.7L387.6 1202.7L382 1196L376.5 1199.2Z" fill="#70ff00" stroke="#2c6600"/>
<path d="M248.4 1153.6L254.5 1154L249.5 1149.7L243.4 1149.4Z" fill="#1bff00" stroke="#0a6600"/>
<path d="M531.9 1206.4L537.3 1198.2L531.5 1188.6L526 1197.1Z" fill="#6aff00" stroke="#2a6600"/>
<path d="M454.2 1221.8L459.6 1216.7L453.9 1208.7L448.5 1214Z" fill="#89ff00" stroke="#366600"/>
<path d="M393.1 1209.4L398.6 1206.1L393.1 1199.3L387.6 1202.7Z" fill="#76ff00" stroke="#2f6600"/>
<path d="M509.8 1219.8L515.2 1212.6L509.4 1203.6L503.9 1210.9Z" fill="#82ff00" stroke="#346600"/>
<path d="M404.3 1213L409.7 1209.5L404.1 1202.4L398.6 1206.1Z" fill="#7bff00" stroke="#316600"/>
<path d="M526.4 1214.3L531.9 1206.4L526 1197.1L520.6 1205.1Z" fill="#77ff00" stroke="#2f6600"/>
<path d="M493.1 1224.1L498.5 1217.7L492.8 1209.1L487.4 1215.6Z" fill="#8aff00" stroke="#376600"/>
<path d="M465.4 1224.7L470.8 1219.3L465.1 1211.1L459.6 1216.7Z" fill="#8cff00" stroke="#386600"/>
<path d="M415.4 1216.6L420.9 1212.7L415.2 1205.4L409.7 1209.5Z" fill="#81ff00" stroke="#336600"/>
<path d="M426.5 1220L432 1215.8L426.3 1208.4L420.9 1212.7Z" fill="#86ff00" stroke="#356600"/>
<path d="M543.1 1207.7L548.6 1199.1L542.8 1189.4L537.3 1198.2Z" fill="#6aff00" stroke="#2a6600"/>
<path d="M476.6 1227.5L482 1221.8L476.2 1213.4L470.8 1219.3Z" fill="#90ff00" stroke="#396600"/>
<path d="M521 1221.7L526.4 1214.3L520.6 1205.1L515.2 1212.6Z" fill="#84ff00" stroke="#346600"/>
<path d="M504.4 1226.4L509.8 1219.8L503.9 1210.9L498.5 1217.7Z" fill="#8dff00" stroke="#386600"/>
<path d="M437.7 1223.3L443.1 1218.9L437.4 1211.3L432 1215.8Z" fill="#8aff00" stroke="#376600"/>
<path d="M537.7 1215.8L543.1 1207.7L537.3 1198.2L531.9 1206.4Z" fill="#78ff00" stroke="#306600"/>
<path d="M448.8 1226.5L454.2 1221.8L448.5 1214L443.1 1218.9Z" fill="#8fff00" stroke="#396600"/>
<path d="M487.8 1230.1L493.1 1224.1L487.4 1215.6L482 1221.8Z" fill="#93ff00" stroke="#3a6600"/>
<path d="M515.6 1228.7L521 1221.7L515.2 1212.6L509.8 1219.8Z" fill="#8fff00" stroke="#396600"/>
<path d="M532.2 1223.5L537.7 1215.8L531.9 1206.4L526.4 1214.3Z" fill="#85ff00" stroke="#356600"/>
<path d="M343 1195.7L348.7 1194L343.2 1188.1L337.6 1189.9Z" fill="#5dff00" stroke="#256600"/>
<path d="M331.8 1191.4L337.6 1189.9L332.2 1184.1L326.4 1185.7Z" fill="#56ff00" stroke="#226600"/>
<path d="M354.1 1200L359.8 1198L354.3 1191.9L348.7 1194Z" fill="#64ff00" stroke="#286600"/>
<path d="M460 1229.7L465.4 1224.7L459.6 1216.7L454.2 1221.8Z" fill="#93ff00" stroke="#3a6600"/>
<path d="M320.7 1186.9L326.4 1185.7L321.1 1180.1L315.3 1181.4Z" fill="#4fff00" stroke="#1f6600"/>
<path d="M365.3 1204.2L370.9 1201.9L365.4 1195.6L359.8 1198Z" fill="#6bff00" stroke="#2a6600"/>
<path d="M309.5 1182.3L315.3 1181.4L310 1176L304.2 1177Z" fill="#47ff00" stroke="#1c6600"/>
<path d="M376.4 1208.3L382 1205.7L376.5 1199.2L370.9 1201.9Z" fill="#71ff00" stroke="#2d6600"/>
<path d="M298.3 1177.6L304.2 1177L298.9 1171.8L293.1 1172.6Z" fill="#3fff00" stroke="#196600"/>
<path d="M499 1232.7L504.4 1226.4L498.5 1217.7L493.1 1224.1Z" fill="#96ff00" stroke="#3c6600"/>
<path d="M387.6 1212.3L393.1 1209.4L387.6 1202.7L382 1205.7Z" fill="#78ff00" stroke="#306600"/>
<path d="M287.1 1172.8L293.1 1172.6L287.8 1167.5L281.9 1168Z" fill="#37ff00" stroke="#166600"/>
<path d="M549 1217.3L554.5 1208.9L548.6 1199.1L543.1 1207.7Z" fill="#78ff00" stroke="#306600"/>
<path d="M398.7 1216.2L404.3 1213L398.6 1206.1L393.1 1209.4Z" fill="#7eff00" stroke="#326600"/>
<path d="M471.2 1232.7L476.6 1227.5L470.8 1219.3L465.4 1224.7Z" fill="#97ff00" stroke="#3c6600"/>
<path d="M275.9 1167.9L281.9 1168L276.8 1163.1L270.8 1163.3Z" fill="#2fff00" stroke="#126600"/>
<path d="M409.9 1220L415.4 1216.6L409.7 1209.5L404.3 1213Z" fill="#84ff00" stroke="#346600"/>
<path d="M526.8 1230.8L532.2 1223.5L526.4 1214.3L521 1221.7Z" fill="#91ff00" stroke="#3a6600"/>
<path d="M264.7 1162.9L270.8 1163.3L265.7 1158.6L259.6 1158.5Z" fill="#27ff00" stroke="#0f6600"/>
<path d="M421.1 1223.7L426.5 1220L420.9 1212.7L415.4 1216.6Z" fill="#89ff00" stroke="#366600"/>
<path d="M543.5 1225.3L549 1217.3L543.1 1207.7L537.7 1215.8Z" fill="#86ff00" stroke="#356600"/>
<path d="M510.2 1235.2L515.6 1228.7L509.8 1219.8L504.4 1226.4Z" fill="#99ff00" stroke="#3d6600"/>
<path d="M482.4 1235.7L487.8 1230.1L482 1221.8L476.6 1227.5Z" fill="#9bff00" stroke="#3e6600"/>
<path d="M253.5 1157.8L259.6 1158.5L254.5 1154L248.4 1153.6Z" fill="#1eff00" stroke="#0c6600"/>
<path d="M432.2 1227.3L437.7 1223.3L432 1215.8L426.5 1220Z" fill="#8eff00" stroke="#386600"/>
<path d="M242.3 1152.6L248.4 1153.6L243.4 1149.4L237.3 1148.6Z" fill="#15ff00" stroke="#086600"/>
<path d="M443.4 1230.8L448.8 1226.5L443.1 1218.9L437.7 1223.3Z" fill="#94ff00" stroke="#3b6600"/>
<path d="M493.6 1238.5L499 1232.7L493.1 1224.1L487.8 1230.1Z" fill="#9eff00" stroke="#3f6600"/>
<path d="M538.1 1232.8L543.5 1225.3L537.7 1215.8L532.2 1223.5Z" fill="#92ff00" stroke="#3a6600"/>
<path d="M521.4 1237.6L526.8 1230.8L521 1221.7L515.6 1228.7Z" fill="#9bff00" stroke="#3e6600"/>
<path d="M454.6 1234.3L460 1229.7L454.2 1221.8L448.8 1226.5Z" fill="#98ff00" stroke="#3c6600"/>
<path d="M554.9 1226.9L560.3 1218.6L554.5 1208.9L549 1217.3Z" fill="#87ff00" stroke="#366600"/>
<path d="M504.8 1241.3L510.2 1235.2L504.4 1226.4L499 1232.7Z" fill="#a2ff00" stroke="#406600"/>
<path d="M465.8 1237.6L471.2 1232.7L465.4 1224.7L460 1229.7Z" fill="#9dff00" stroke="#3e6600"/>
<path d="M532.7 1239.9L538.1 1232.8L532.2 1223.5L526.8 1230.8Z" fill="#9eff00" stroke="#3f6600"/>
<path d="M549.4 1234.7L554.9 1226.9L549 1217.3L543.5 1225.3Z" fill="#94ff00" stroke="#3b6600"/>
<path d="M477 1240.8L482.4 1235.7L476.6 1227.5L471.2 1232.7Z" fill="#a2ff00" stroke="#406600"/>
<path d="M516 1244L521.4 1237.6L515.6 1228.7L510.2 1235.2Z" fill="#a5ff00" stroke="#426600"/>
<path d="M370.8 1210.5L376.4 1208.3L370.9 1201.9L365.3 1204.2Z" fill="#71ff00" stroke="#2d6600"/>
<path d="M359.6 1206.1L365.3 1204.2L359.8 1198L354.1 1200Z" fill="#6aff00" stroke="#2a6600"/>
<path d="M382 1214.7L387.6 1212.3L382 1205.7L376.4 1208.3Z" fill="#78ff00" stroke="#306600"/>
<path d="M348.4 1201.6L354.1 1200L348.7 1194L343 1195.7Z" fill="#63ff00" stroke="#276600"/>
<path d="M393.2 1218.9L398.7 1216.2L393.1 1209.4L387.6 1212.3Z" fill="#7fff00" stroke="#326600"/>
<path d="M337.2 1197L343 1195.7L337.6 1189.9L331.8 1191.4Z" fill="#5bff00" stroke="#246600"/>
<path d="M404.4 1223L409.9 1220L404.3 1213L398.7 1216.2Z" fill="#85ff00" stroke="#356600"/>
<path d="M326 1192.3L331.8 1191.4L326.4 1185.7L320.7 1186.9Z" fill="#54ff00" stroke="#216600"/>
<path d="M488.2 1243.9L493.6 1238.5L487.8 1230.1L482.4 1235.7Z" fill="#a6ff00" stroke="#426600"/>
<path d="M415.6 1227L421.1 1223.7L415.4 1216.6L409.9 1220Z" fill="#8cff00" stroke="#386600"/>
<path d="M314.8 1187.6L320.7 1186.9L315.3 1181.4L309.5 1182.3Z" fill="#4cff00" stroke="#1e6600"/>
<path d="M544 1242.1L549.4 1234.7L543.5 1225.3L538.1 1232.8Z" fill="#a0ff00" stroke="#406600"/>
<path d="M426.8 1230.9L432.2 1227.3L426.5 1220L421.1 1223.7Z" fill="#92ff00" stroke="#3a6600"/>
<path d="M303.6 1182.7L309.5 1182.3L304.2 1177L298.3 1177.6Z" fill="#43ff00" stroke="#1a6600"/>
<path d="M560.7 1236.5L566.2 1228.4L560.3 1218.6L554.9 1226.9Z" fill="#95ff00" stroke="#3b6600"/>
<path d="M527.3 1246.6L532.7 1239.9L526.8 1230.8L521.4 1237.6Z" fill="#a8ff00" stroke="#436600"/>
<path d="M438 1234.7L443.4 1230.8L437.7 1223.3L432.2 1227.3Z" fill="#97ff00" stroke="#3c6600"/>
<path d="M499.4 1247L504.8 1241.3L499 1232.7L493.6 1238.5Z" fill="#aaff00" stroke="#446600"/>
<path d="M292.4 1177.7L298.3 1177.6L293.1 1172.6L287.1 1172.8Z" fill="#3bff00" stroke="#176600"/>
<path d="M449.2 1238.4L454.6 1234.3L448.8 1226.5L443.4 1230.8Z" fill="#9dff00" stroke="#3e6600"/>
<path d="M281.1 1172.6L287.1 1172.8L281.9 1168L275.9 1167.9Z" fill="#32ff00" stroke="#146600"/>
<path d="M460.4 1242L465.8 1237.6L460 1229.7L454.6 1234.3Z" fill="#a2ff00" stroke="#406600"/>
<path d="M510.7 1249.9L516 1244L510.2 1235.2L504.8 1241.3Z" fill="#aeff00" stroke="#456600"/>
<path d="M555.3 1244.2L560.7 1236.5L554.9 1226.9L549.4 1234.7Z" fill="#a1ff00" stroke="#406600"/>
<path d="M538.6 1249L544 1242.1L538.1 1232.8L532.7 1239.9Z" fill="#abff00" stroke="#446600"/>
<path d="M269.9 1167.4L275.9 1167.9L270.8 1163.3L264.7 1162.9Z" fill="#29ff00" stroke="#106600"/>
<path d="M471.6 1245.5L477 1240.8L471.2 1232.7L465.8 1237.6Z" fill="#a7ff00" stroke="#426600"/>
<path d="M258.6 1162.1L264.7 1162.9L259.6 1158.5L253.5 1157.8Z" fill="#20ff00" stroke="#0c6600"/>
<path d="M521.9 1252.8L527.3 1246.6L521.4 1237.6L516 1244Z" fill="#b1ff00" stroke="#466600"/>
<path d="M482.8 1248.9L488.2 1243.9L482.4 1235.7L477 1240.8Z" fill="#acff00" stroke="#446600"/>
<path d="M247.3 1156.7L253.5 1157.8L248.4 1153.6L242.3 1152.6Z" fill="#17ff00" stroke="#096600"/>
<path d="M549.9 1251.4L555.3 1244.2L549.4 1234.7L544 1242.1Z" fill="#adff00" stroke="#456600"/>
<path d="M566.7 1246.2L572.1 1238.3L566.2 1228.4L560.7 1236.5Z" fill="#a3ff00" stroke="#416600"/>
<path d="M494 1252.2L499.4 1247L493.6 1238.5L488.2 1243.9Z" fill="#b1ff00" stroke="#466600"/>
<path d="M533.2 1255.6L538.6 1249L532.7 1239.9L527.3 1246.6Z" fill="#b4ff00" stroke="#486600"/>
<path d="M236 1151.2L242.3 1152.6L237.3 1148.6L231 1147.3Z" fill="#0dff00" stroke="#056600"/>
<path d="M505.3 1255.5L510.7 1249.9L504.8 1241.3L499.4 1247Z" fill="#b5ff00" stroke="#486600"/>
<path d="M398.8 1225.6L404.4 1223L398.7 1216.2L393.2 1218.9Z" fill="#86ff00" stroke="#356600"/>
<path d="M387.6 1221.2L393.2 1218.9L387.6 1212.3L382 1214.7Z" fill="#7fff00" stroke="#326600"/>
<path d="M410.1 1229.9L415.6 1227L409.9 1220L404.4 1223Z" fill="#8dff00" stroke="#386600"/>
<path d="M376.4 1216.7L382 1214.7L376.4 1208.3L370.8 1210.5Z" fill="#78ff00" stroke="#306600"/>
<path d="M421.3 1234L426.8 1230.9L421.1 1223.7L415.6 1227Z" fill="#94ff00" stroke="#3b6600"/>
<path d="M365.2 1212.2L370.8 1210.5L365.3 1204.2L359.6 1206.1Z" fill="#70ff00" stroke="#2c6600"/>
<path d="M561.2 1253.7L566.7 1246.2L560.7 1236.5L555.3 1244.2Z" fill="#afff00" stroke="#466600"/>
<path d="M432.5 1238.1L438 1234.7L432.2 1227.3L426.8 1230.9Z" fill="#9aff00" stroke="#3d6600"/>
<path d="M353.9 1207.5L359.6 1206.1L354.1 1200L348.4 1201.6Z" fill="#69ff00" stroke="#2a6600"/>
<path d="M544.5 1258.2L549.9 1251.4L544 1242.1L538.6 1249Z" fill="#b8ff00" stroke="#496600"/>
<path d="M443.7 1242.1L449.2 1238.4L443.4 1230.8L438 1234.7Z" fill="#a0ff00" stroke="#406600"/>
<path d="M342.7 1202.7L348.4 1201.6L343 1195.7L337.2 1197Z" fill="#61ff00" stroke="#266600"/>
<path d="M516.6 1258.6L521.9 1252.8L516 1244L510.7 1249.9Z" fill="#b9ff00" stroke="#4a6600"/>
<path d="M454.9 1246L460.4 1242L454.6 1234.3L449.2 1238.4Z" fill="#a6ff00" stroke="#426600"/>
<path d="M331.5 1197.8L337.2 1197L331.8 1191.4L326 1192.3Z" fill="#58ff00" stroke="#236600"/>
<path d="M466.2 1249.8L471.6 1245.5L465.8 1237.6L460.4 1242Z" fill="#acff00" stroke="#446600"/>
<path d="M320.2 1192.9L326 1192.3L320.7 1186.9L314.8 1187.6Z" fill="#50ff00" stroke="#206600"/>
<path d="M527.8 1261.7L533.2 1255.6L527.3 1246.6L521.9 1252.8Z" fill="#bdff00" stroke="#4b6600"/>
<path d="M572.6 1255.9L578 1248.2L572.1 1238.3L566.7 1246.2Z" fill="#b1ff00" stroke="#466600"/>
<path d="M477.4 1253.5L482.8 1248.9L477 1240.8L471.6 1245.5Z" fill="#b1ff00" stroke="#466600"/>
<path d="M555.8 1260.8L561.2 1253.7L555.3 1244.2L549.9 1251.4Z" fill="#baff00" stroke="#4a6600"/>
<path d="M308.9 1187.8L314.8 1187.6L309.5 1182.3L303.6 1182.7Z" fill="#47ff00" stroke="#1c6600"/>
<path d="M488.7 1257.1L494 1252.2L488.2 1243.9L482.8 1248.9Z" fill="#b7ff00" stroke="#496600"/>
<path d="M297.7 1182.6L303.6 1182.7L298.3 1177.6L292.4 1177.7Z" fill="#3fff00" stroke="#196600"/>
<path d="M539.1 1264.6L544.5 1258.2L538.6 1249L533.2 1255.6Z" fill="#c1ff00" stroke="#4d6600"/>
<path d="M499.9 1260.6L505.3 1255.5L499.4 1247L494 1252.2Z" fill="#bcff00" stroke="#4b6600"/>
<path d="M286.4 1177.3L292.4 1177.7L287.1 1172.8L281.1 1172.6Z" fill="#35ff00" stroke="#156600"/>
<path d="M567.2 1263.3L572.6 1255.9L566.7 1246.2L561.2 1253.7Z" fill="#bdff00" stroke="#4b6600"/>
<path d="M511.2 1264L516.6 1258.6L510.7 1249.9L505.3 1255.5Z" fill="#c1ff00" stroke="#4d6600"/>
<path d="M275.1 1171.9L281.1 1172.6L275.9 1167.9L269.9 1167.4Z" fill="#2cff00" stroke="#116600"/>
<path d="M550.4 1267.5L555.8 1260.8L549.9 1251.4L544.5 1258.2Z" fill="#c5ff00" stroke="#4e6600"/>
<path d="M522.5 1267.3L527.8 1261.7L521.9 1252.8L516.6 1258.6Z" fill="#c5ff00" stroke="#4e6600"/>
<path d="M263.7 1166.4L269.9 1167.4L264.7 1162.9L258.6 1162.1Z" fill="#23ff00" stroke="#0e6600"/>
<path d="M415.8 1236.7L421.3 1234L415.6 1227L410.1 1229.9Z" fill="#95ff00" stroke="#3b6600"/>
<path d="M427 1241.1L432.5 1238.1L426.8 1230.9L421.3 1234Z" fill="#9cff00" stroke="#3e6600"/>
<path d="M404.5 1232.3L410.1 1229.9L404.4 1223L398.8 1225.6Z" fill="#8eff00" stroke="#386600"/>
<path d="M438.3 1245.4L443.7 1242.1L438 1234.7L432.5 1238.1Z" fill="#a3ff00" stroke="#416600"/>
<path d="M561.8 1270.2L567.2 1263.3L561.2 1253.7L555.8 1260.8Z" fill="#c8ff00" stroke="#506600"/>
<path d="M393.3 1227.7L398.8 1225.6L393.2 1218.9L387.6 1221.2Z" fill="#86ff00" stroke="#356600"/>
<path d="M449.5 1249.6L454.9 1246L449.2 1238.4L443.7 1242.1Z" fill="#a9ff00" stroke="#436600"/>
<path d="M533.8 1270.6L539.1 1264.6L533.2 1255.6L527.8 1261.7Z" fill="#caff00" stroke="#506600"/>
<path d="M382 1223.1L387.6 1221.2L382 1214.7L376.4 1216.7Z" fill="#7eff00" stroke="#326600"/>
<path d="M460.8 1253.6L466.2 1249.8L460.4 1242L454.9 1246Z" fill="#b0ff00" stroke="#466600"/>
<path d="M252.4 1160.8L258.6 1162.1L253.5 1157.8L247.3 1156.7Z" fill="#19ff00" stroke="#0a6600"/>
<path d="M370.7 1218.3L376.4 1216.7L370.8 1210.5L365.2 1212.2Z" fill="#76ff00" stroke="#2f6600"/>
<path d="M472 1257.6L477.4 1253.5L471.6 1245.5L466.2 1249.8Z" fill="#b6ff00" stroke="#486600"/>
<path d="M359.5 1213.4L365.2 1212.2L359.6 1206.1L353.9 1207.5Z" fill="#6eff00" stroke="#2c6600"/>
<path d="M483.3 1261.5L488.7 1257.1L482.8 1248.9L477.4 1253.5Z" fill="#bcff00" stroke="#4b6600"/>
<path d="M545.1 1273.7L550.4 1267.5L544.5 1258.2L539.1 1264.6Z" fill="#ceff00" stroke="#526600"/>
<path d="M241 1155.1L247.3 1156.7L242.3 1152.6L236 1151.2Z" fill="#0fff00" stroke="#066600"/>
<path d="M348.2 1208.5L353.9 1207.5L348.4 1201.6L342.7 1202.7Z" fill="#66ff00" stroke="#286600"/>
<path d="M494.5 1265.3L499.9 1260.6L494 1252.2L488.7 1257.1Z" fill="#c1ff00" stroke="#4d6600"/>
<path d="M336.9 1203.4L342.7 1202.7L337.2 1197L331.5 1197.8Z" fill="#5dff00" stroke="#256600"/>
<path d="M505.8 1269L511.2 1264L505.3 1255.5L499.9 1260.6Z" fill="#c7ff00" stroke="#4f6600"/>
<path d="M556.4 1276.7L561.8 1270.2L555.8 1260.8L550.4 1267.5Z" fill="#d2ff00" stroke="#546600"/>
<path d="M229.7 1149.3L236 1151.2L231 1147.3L224.7 1145.6Z" fill="#05ff00" stroke="#026600"/>
<path d="M325.6 1198.2L331.5 1197.8L326 1192.3L320.2 1192.9Z" fill="#54ff00" stroke="#216600"/>
<path d="M517.1 1272.6L522.5 1267.3L516.6 1258.6L511.2 1264Z" fill="#ccff00" stroke="#516600"/>
<path d="M314.3 1193L320.2 1192.9L314.8 1187.6L308.9 1187.8Z" fill="#4bff00" stroke="#1e6600"/>
<path d="M528.4 1276.1L533.8 1270.6L527.8 1261.7L522.5 1267.3Z" fill="#d1ff00" stroke="#536600"/>
<path d="M303 1187.6L308.9 1187.8L303.6 1182.7L297.7 1182.6Z" fill="#42ff00" stroke="#1a6600"/>
<path d="M539.7 1279.5L545.1 1273.7L539.1 1264.6L533.8 1270.6Z" fill="#d6ff00" stroke="#556600"/>
<path d="M291.7 1182.1L297.7 1182.6L292.4 1177.7L286.4 1177.3Z" fill="#39ff00" stroke="#166600"/>
<path d="M551.1 1282.8L556.4 1276.7L550.4 1267.5L545.1 1273.7Z" fill="#daff00" stroke="#576600"/>
<path d="M444.1 1252.7L449.5 1249.6L443.7 1242.1L438.3 1245.4Z" fill="#abff00" stroke="#446600"/>
<path d="M455.3 1257L460.8 1253.6L454.9 1246L449.5 1249.6Z" fill="#b2ff00" stroke="#476600"/>
<path d="M432.8 1248.2L438.3 1245.4L432.5 1238.1L427 1241.1Z" fill="#a4ff00" stroke="#416600"/>
<path d="M466.6 1261.3L472 1257.6L466.2 1249.8L460.8 1253.6Z" fill="#b9ff00" stroke="#4a6600"/>
<path d="M421.5 1243.7L427 1241.1L421.3 1234L415.8 1236.7Z" fill="#9cff00" stroke="#3e6600"/>
<path d="M477.9 1265.5L483.3 1261.5L477.4 1253.5L472 1257.6Z" fill="#bfff00" stroke="#4c6600"/>
<path d="M410.2 1239L415.8 1236.7L410.1 1229.9L404.5 1232.3Z" fill="#95ff00" stroke="#3b6600"/>
<path d="M489.2 1269.5L494.5 1265.3L488.7 1257.1L483.3 1261.5Z" fill="#c6ff00" stroke="#4f6600"/>
<path d="M280.3 1176.5L286.4 1177.3L281.1 1172.6L275.1 1171.9Z" fill="#2fff00" stroke="#126600"/>
<path d="M398.9 1234.3L404.5 1232.3L398.8 1225.6L393.3 1227.7Z" fill="#8dff00" stroke="#386600"/>
<path d="M500.5 1273.5L505.8 1269L499.9 1260.6L494.5 1265.3Z" fill="#ccff00" stroke="#516600"/>
<path d="M387.7 1229.4L393.3 1227.7L387.6 1221.2L382 1223.1Z" fill="#85ff00" stroke="#356600"/>
<path d="M511.8 1277.4L517.1 1272.6L511.2 1264L505.8 1269Z" fill="#d2ff00" stroke="#546600"/>
<path d="M376.4 1224.5L382 1223.1L376.4 1216.7L370.7 1218.3Z" fill="#7cff00" stroke="#316600"/>
<path d="M268.9 1170.8L275.1 1171.9L269.9 1167.4L263.7 1166.4Z" fill="#25ff00" stroke="#0e6600"/>
<path d="M523.1 1281.2L528.4 1276.1L522.5 1267.3L517.1 1272.6Z" fill="#d7ff00" stroke="#566600"/>
<path d="M365.1 1219.4L370.7 1218.3L365.2 1212.2L359.5 1213.4Z" fill="#74ff00" stroke="#2e6600"/>
<path d="M534.4 1284.9L539.7 1279.5L533.8 1270.6L528.4 1276.1Z" fill="#ddff00" stroke="#586600"/>
<path d="M353.7 1214.2L359.5 1213.4L353.9 1207.5L348.2 1208.5Z" fill="#6bff00" stroke="#2a6600"/>
<path d="M257.5 1165L263.7 1166.4L258.6 1162.1L252.4 1160.8Z" fill="#1bff00" stroke="#0a6600"/>
<path d="M545.7 1288.5L551.1 1282.8L545.1 1273.7L539.7 1279.5Z" fill="#e2ff00" stroke="#5a6600"/>
<path d="M342.4 1209L348.2 1208.5L342.7 1202.7L336.9 1203.4Z" fill="#62ff00" stroke="#276600"/>
<path d="M246.1 1159.1L252.4 1160.8L247.3 1156.7L241 1155.1Z" fill="#10ff00" stroke="#066600"/>
<path d="M331.1 1203.6L336.9 1203.4L331.5 1197.8L325.6 1198.2Z" fill="#59ff00" stroke="#236600"/>
<path d="M319.7 1198.1L325.6 1198.2L320.2 1192.9L314.3 1193Z" fill="#4fff00" stroke="#1f6600"/>
<path d="M234.7 1153.1L241 1155.1L236 1151.2L229.7 1149.3Z" fill="#06ff00" stroke="#026600"/>
<path d="M472.5 1269L477.9 1265.5L472 1257.6L466.6 1261.3Z" fill="#c2ff00" stroke="#4d6600"/>
<path d="M461.2 1264.6L466.6 1261.3L460.8 1253.6L455.3 1257Z" fill="#bbff00" stroke="#4a6600"/>
<path d="M483.8 1273.4L489.2 1269.5L483.3 1261.5L477.9 1265.5Z" fill="#c9ff00" stroke="#506600"/>
<path d="M449.9 1260L455.3 1257L449.5 1249.6L444.1 1252.7Z" fill="#b4ff00" stroke="#486600"/>
<path d="M495.1 1277.6L500.5 1273.5L494.5 1265.3L489.2 1269.5Z" fill="#d0ff00" stroke="#536600"/>
<path d="M438.6 1255.4L444.1 1252.7L438.3 1245.4L432.8 1248.2Z" fill="#acff00" stroke="#446600"/>
<path d="M506.4 1281.8L511.8 1277.4L505.8 1269L500.5 1273.5Z" fill="#d6ff00" stroke="#556600"/>
<path d="M427.3 1250.6L432.8 1248.2L427 1241.1L421.5 1243.7Z" fill="#a4ff00" stroke="#416600"/>
<path d="M517.7 1285.9L523.1 1281.2L517.1 1272.6L511.8 1277.4Z" fill="#ddff00" stroke="#586600"/>
<path d="M308.4 1192.6L314.3 1193L308.9 1187.8L303 1187.6Z" fill="#46ff00" stroke="#1c6600"/>
<path d="M416 1245.8L421.5 1243.7L415.8 1236.7L410.2 1239Z" fill="#9cff00" stroke="#3e6600"/>
<path d="M529 1289.8L534.4 1284.9L528.4 1276.1L523.1 1281.2Z" fill="#e3ff00" stroke="#5a6600"/>
<path d="M223.2 1146.9L229.7 1149.3L224.7 1145.6L218.3 1143.4Z" fill="#00fa05" stroke="#006402"/>
<path d="M404.7 1240.9L410.2 1239L404.5 1232.3L398.9 1234.3Z" fill="#94ff00" stroke="#3b6600"/>
<path d="M540.4 1293.7L545.7 1288.5L539.7 1279.5L534.4 1284.9Z" fill="#e8ff00" stroke="#5c6600"/>
<path d="M297 1186.9L303 1187.6L297.7 1182.6L291.7 1182.1Z" fill="#3cff00" stroke="#186600"/>
<path d="M393.3 1235.8L398.9 1234.3L393.3 1227.7L387.7 1229.4Z" fill="#8bff00" stroke="#376600"/>
<path d="M382 1230.7L387.7 1229.4L382 1223.1L376.4 1224.5Z" fill="#83ff00" stroke="#346600"/>
<path d="M285.6 1181.1L291.7 1182.1L286.4 1177.3L280.3 1176.5Z" fill="#32ff00" stroke="#146600"/>
<path d="M370.7 1225.4L376.4 1224.5L370.7 1218.3L365.1 1219.4Z" fill="#7aff00" stroke="#306600"/>
<path d="M274.2 1175.2L280.3 1176.5L275.1 1171.9L268.9 1170.8Z" fill="#27ff00" stroke="#0f6600"/>
<path d="M359.3 1220.1L365.1 1219.4L359.5 1213.4L353.7 1214.2Z" fill="#70ff00" stroke="#2c6600"/>
<path d="M347.9 1214.6L353.7 1214.2L348.2 1208.5L342.4 1209Z" fill="#67ff00" stroke="#296600"/>
<path d="M501.1 1285.8L506.4 1281.8L500.5 1273.5L495.1 1277.6Z" fill="#daff00" stroke="#576600"/>
<path d="M489.7 1281.3L495.1 1277.6L489.2 1269.5L483.8 1273.4Z" fill="#d3ff00" stroke="#546600"/>
<path d="M512.4 1290.1L517.7 1285.9L511.8 1277.4L506.4 1281.8Z" fill="#e1ff00" stroke="#5a6600"/>
<path d="M478.4 1276.8L483.8 1273.4L477.9 1265.5L472.5 1269Z" fill="#ccff00" stroke="#516600"/>
<path d="M523.7 1294.4L529 1289.8L523.1 1281.2L517.7 1285.9Z" fill="#e8ff00" stroke="#5c6600"/>
<path d="M262.7 1169.2L268.9 1170.8L263.7 1166.4L257.5 1165Z" fill="#1dff00" stroke="#0b6600"/>
<path d="M467.1 1272.2L472.5 1269L466.6 1261.3L461.2 1264.6Z" fill="#c4ff00" stroke="#4e6600"/>
<path d="M535.1 1298.5L540.4 1293.7L534.4 1284.9L529 1289.8Z" fill="#eeff00" stroke="#5f6600"/>
<path d="M455.8 1267.4L461.2 1264.6L455.3 1257L449.9 1260Z" fill="#bcff00" stroke="#4b6600"/>
<path d="M336.6 1209L342.4 1209L336.9 1203.4L331.1 1203.6Z" fill="#5dff00" stroke="#256600"/>
<path d="M444.4 1262.6L449.9 1260L444.1 1252.7L438.6 1255.4Z" fill="#b4ff00" stroke="#486600"/>
<path d="M433.1 1257.7L438.6 1255.4L432.8 1248.2L427.3 1250.6Z" fill="#acff00" stroke="#446600"/>
<path d="M251.2 1163.1L257.5 1165L252.4 1160.8L246.1 1159.1Z" fill="#12ff00" stroke="#076600"/>
<path d="M325.2 1203.4L331.1 1203.6L325.6 1198.2L319.7 1198.1Z" fill="#53ff00" stroke="#216600"/>
<path d="M421.8 1252.6L427.3 1250.6L421.5 1243.7L416 1245.8Z" fill="#a3ff00" stroke="#416600"/>
<path d="M410.4 1247.5L416 1245.8L410.2 1239L404.7 1240.9Z" fill="#9bff00" stroke="#3e6600"/>
<path d="M313.8 1197.6L319.7 1198.1L314.3 1193L308.4 1192.6Z" fill="#49ff00" stroke="#1d6600"/>
<path d="M239.8 1156.8L246.1 1159.1L241 1155.1L234.7 1153.1Z" fill="#07ff00" stroke="#026600"/>
<path d="M399.1 1242.3L404.7 1240.9L398.9 1234.3L393.3 1235.8Z" fill="#92ff00" stroke="#3a6600"/>
<path d="M387.7 1236.9L393.3 1235.8L387.7 1229.4L382 1230.7Z" fill="#89ff00" stroke="#366600"/>
<path d="M302.3 1191.7L308.4 1192.6L303 1187.6L297 1186.9Z" fill="#3fff00" stroke="#196600"/>
<path d="M228.2 1150.5L234.7 1153.1L229.7 1149.3L223.2 1146.9Z" fill="#00fa05" stroke="#006402"/>
<path d="M376.3 1231.5L382 1230.7L376.4 1224.5L370.7 1225.4Z" fill="#7fff00" stroke="#326600"/>
<path d="M529.7 1302.9L535.1 1298.5L529 1289.8L523.7 1294.4Z" fill="#f3ff00" stroke="#616600"/>
<path d="M518.4 1298.5L523.7 1294.4L517.7 1285.9L512.4 1290.1Z" fill="#ebff00" stroke="#5e6600"/>
<path d="M507 1293.9L512.4 1290.1L506.4 1281.8L501.1 1285.8Z" fill="#e4ff00" stroke="#5b6600"/>
<path d="M495.7 1289.3L501.1 1285.8L495.1 1277.6L489.7 1281.3Z" fill="#ddff00" stroke="#586600"/>
<path d="M484.3 1284.6L489.7 1281.3L483.8 1273.4L478.4 1276.8Z" fill="#d5ff00" stroke="#556600"/>
<path d="M290.9 1185.7L297 1186.9L291.7 1182.1L285.6 1181.1Z" fill="#34ff00" stroke="#146600"/>
<path d="M473 1279.8L478.4 1276.8L472.5 1269L467.1 1272.2Z" fill="#cdff00" stroke="#526600"/>
<path d="M364.9 1225.9L370.7 1225.4L365.1 1219.4L359.3 1220.1Z" fill="#76ff00" stroke="#2f6600"/>
<path d="M461.6 1274.9L467.1 1272.2L461.2 1264.6L455.8 1267.4Z" fill="#c5ff00" stroke="#4e6600"/>
<path d="M216.7 1144L223.2 1146.9L218.3 1143.4L211.7 1140.7Z" fill="#00ef10" stroke="#005f06"/>
<path d="M450.3 1269.8L455.8 1267.4L449.9 1260L444.4 1262.6Z" fill="#bcff00" stroke="#4b6600"/>
<path d="M353.5 1220.3L359.3 1220.1L353.7 1214.2L347.9 1214.6Z" fill="#6cff00" stroke="#2b6600"/>
<path d="M279.4 1179.6L285.6 1181.1L280.3 1176.5L274.2 1175.2Z" fill="#2aff00" stroke="#106600"/>
<path d="M438.9 1264.7L444.4 1262.6L438.6 1255.4L433.1 1257.7Z" fill="#b4ff00" stroke="#486600"/>
<path d="M342.1 1214.5L347.9 1214.6L342.4 1209L336.6 1209Z" fill="#62ff00" stroke="#276600"/>
<path d="M427.6 1259.5L433.1 1257.7L427.3 1250.6L421.8 1252.6Z" fill="#abff00" stroke="#446600"/>
<path d="M267.9 1173.4L274.2 1175.2L268.9 1170.8L262.7 1169.2Z" fill="#1fff00" stroke="#0c6600"/>
<path d="M416.2 1254.2L421.8 1252.6L416 1245.8L410.4 1247.5Z" fill="#a2ff00" stroke="#406600"/>
<path d="M330.7 1208.7L336.6 1209L331.1 1203.6L325.2 1203.4Z" fill="#57ff00" stroke="#226600"/>
<path d="M404.8 1248.7L410.4 1247.5L404.7 1240.9L399.1 1242.3Z" fill="#98ff00" stroke="#3c6600"/>
<path d="M524.4 1306.9L529.7 1302.9L523.7 1294.4L518.4 1298.5Z" fill="#f6ff00" stroke="#626600"/>
<path d="M256.4 1167.1L262.7 1169.2L257.5 1165L251.2 1163.1Z" fill="#13ff00" stroke="#076600"/>
<path d="M513.1 1302.2L518.4 1298.5L512.4 1290.1L507 1293.9Z" fill="#eeff00" stroke="#5f6600"/>
<path d="M501.7 1297.4L507 1293.9L501.1 1285.8L495.7 1289.3Z" fill="#e6ff00" stroke="#5c6600"/>
<path d="M319.2 1202.7L325.2 1203.4L319.7 1198.1L313.8 1197.6Z" fill="#4dff00" stroke="#1e6600"/>
<path d="M393.4 1243.2L399.1 1242.3L393.3 1235.8L387.7 1236.9Z" fill="#8fff00" stroke="#396600"/>
<path d="M490.3 1292.4L495.7 1289.3L489.7 1281.3L484.3 1284.6Z" fill="#deff00" stroke="#586600"/>
<path d="M479 1287.4L484.3 1284.6L478.4 1276.8L473 1279.8Z" fill="#d6ff00" stroke="#556600"/>
<path d="M244.9 1160.6L251.2 1163.1L246.1 1159.1L239.8 1156.8Z" fill="#08ff00" stroke="#036600"/>
<path d="M382 1237.6L387.7 1236.9L382 1230.7L376.3 1231.5Z" fill="#85ff00" stroke="#356600"/>
<path d="M307.7 1196.6L313.8 1197.6L308.4 1192.6L302.3 1191.7Z" fill="#42ff00" stroke="#1a6600"/>
<path d="M467.6 1282.3L473 1279.8L467.1 1272.2L461.6 1274.9Z" fill="#cdff00" stroke="#526600"/>
<path d="M456.2 1277.1L461.6 1274.9L455.8 1267.4L450.3 1269.8Z" fill="#c4ff00" stroke="#4e6600"/>
<path d="M370.6 1231.8L376.3 1231.5L370.7 1225.4L364.9 1225.9Z" fill="#7bff00" stroke="#316600"/>
<path d="M233.3 1154.1L239.8 1156.8L234.7 1153.1L228.2 1150.5Z" fill="#00fb04" stroke="#006401"/>
<path d="M296.2 1190.4L302.3 1191.7L297 1186.9L290.9 1185.7Z" fill="#37ff00" stroke="#166600"/>
<path d="M444.8 1271.8L450.3 1269.8L444.4 1262.6L438.9 1264.7Z" fill="#bbff00" stroke="#4a6600"/>
<path d="M359.1 1226L364.9 1225.9L359.3 1220.1L353.5 1220.3Z" fill="#71ff00" stroke="#2d6600"/>
<path d="M433.4 1266.4L438.9 1264.7L433.1 1257.7L427.6 1259.5Z" fill="#b2ff00" stroke="#476600"/>
<path d="M284.7 1184.1L290.9 1185.7L285.6 1181.1L279.4 1179.6Z" fill="#2cff00" stroke="#116600"/>
<path d="M422 1260.9L427.6 1259.5L421.8 1252.6L416.2 1254.2Z" fill="#a8ff00" stroke="#436600"/>
<path d="M221.7 1147.4L228.2 1150.5L223.2 1146.9L216.7 1144Z" fill="#00ef10" stroke="#005f06"/>
<path d="M519.1 1310.4L524.4 1306.9L518.4 1298.5L513.1 1302.2Z" fill="#f8ff00" stroke="#636600"/>
<path d="M347.7 1220L353.5 1220.3L347.9 1214.6L342.1 1214.5Z" fill="#66ff00" stroke="#286600"/>
<path d="M507.7 1305.4L513.1 1302.2L507 1293.9L501.7 1297.4Z" fill="#f0ff00" stroke="#606600"/>
<path d="M410.6 1255.3L416.2 1254.2L410.4 1247.5L404.8 1248.7Z" fill="#9fff00" stroke="#3f6600"/>
<path d="M496.3 1300.3L501.7 1297.4L495.7 1289.3L490.3 1292.4Z" fill="#e7ff00" stroke="#5c6600"/>
<path d="M273.2 1177.7L279.4 1179.6L274.2 1175.2L267.9 1173.4Z" fill="#21ff00" stroke="#0d6600"/>
<path d="M336.2 1214L342.1 1214.5L336.6 1209L330.7 1208.7Z" fill="#5bff00" stroke="#246600"/>
<path d="M484.9 1295.1L490.3 1292.4L484.3 1284.6L479 1287.4Z" fill="#dfff00" stroke="#596600"/>
<path d="M210.1 1140.6L216.7 1144L211.7 1140.7L205.1 1137.5Z" fill="#00e31c" stroke="#005a0b"/>
<path d="M399.2 1249.5L404.8 1248.7L399.1 1242.3L393.4 1243.2Z" fill="#95ff00" stroke="#3b6600"/>
<path d="M473.5 1289.9L479 1287.4L473 1279.8L467.6 1282.3Z" fill="#d6ff00" stroke="#556600"/>
<path d="M324.7 1207.8L330.7 1208.7L325.2 1203.4L319.2 1202.7Z" fill="#50ff00" stroke="#206600"/>
<path d="M261.6 1171.1L267.9 1173.4L262.7 1169.2L256.4 1167.1Z" fill="#15ff00" stroke="#086600"/>
<path d="M387.7 1243.7L393.4 1243.2L387.7 1236.9L382 1237.6Z" fill="#8aff00" stroke="#376600"/>
<path d="M462.1 1284.5L467.6 1282.3L461.6 1274.9L456.2 1277.1Z" fill="#ccff00" stroke="#516600"/>
<path d="M450.7 1279L456.2 1277.1L450.3 1269.8L444.8 1271.8Z" fill="#c3ff00" stroke="#4e6600"/>
<path d="M313.2 1201.5L319.2 1202.7L313.8 1197.6L307.7 1196.6Z" fill="#45ff00" stroke="#1b6600"/>
<path d="M376.3 1237.8L382 1237.6L376.3 1231.5L370.6 1231.8Z" fill="#80ff00" stroke="#336600"/>
<path d="M250 1164.5L256.4 1167.1L251.2 1163.1L244.9 1160.6Z" fill="#09ff00" stroke="#036600"/>
<path d="M439.3 1273.4L444.8 1271.8L438.9 1264.7L433.4 1266.4Z" fill="#b9ff00" stroke="#4a6600"/>
<path d="M513.8 1313.5L519.1 1310.4L513.1 1302.2L507.7 1305.4Z" fill="#faff00" stroke="#646600"/>
<path d="M364.8 1231.7L370.6 1231.8L364.9 1225.9L359.1 1226Z" fill="#75ff00" stroke="#2e6600"/>
<path d="M301.6 1195.1L307.7 1196.6L302.3 1191.7L296.2 1190.4Z" fill="#3aff00" stroke="#176600"/>
<path d="M427.9 1267.6L433.4 1266.4L427.6 1259.5L422 1260.9Z" fill="#afff00" stroke="#466600"/>
<path d="M502.4 1308.3L507.7 1305.4L501.7 1297.4L496.3 1300.3Z" fill="#f1ff00" stroke="#606600"/>
<path d="M238.4 1157.7L244.9 1160.6L239.8 1156.8L233.3 1154.1Z" fill="#00fc03" stroke="#006401"/>
<path d="M491 1302.9L496.3 1300.3L490.3 1292.4L484.9 1295.1Z" fill="#e8ff00" stroke="#5c6600"/>
<path d="M353.3 1225.6L359.1 1226L353.5 1220.3L347.7 1220Z" fill="#6aff00" stroke="#2a6600"/>
<path d="M416.4 1261.8L422 1260.9L416.2 1254.2L410.6 1255.3Z" fill="#a5ff00" stroke="#426600"/>
<path d="M290.1 1188.6L296.2 1190.4L290.9 1185.7L284.7 1184.1Z" fill="#2eff00" stroke="#126600"/>
<path d="M479.5 1297.4L484.9 1295.1L479 1287.4L473.5 1289.9Z" fill="#deff00" stroke="#586600"/>
<path d="M405 1255.9L410.6 1255.3L404.8 1248.7L399.2 1249.5Z" fill="#9bff00" stroke="#3e6600"/>
<path d="M226.7 1150.8L233.3 1154.1L228.2 1150.5L221.7 1147.4Z" fill="#00f00f" stroke="#006006"/>
<path d="M341.8 1219.3L347.7 1220L342.1 1214.5L336.2 1214Z" fill="#5fff00" stroke="#266600"/>
<path d="M468.1 1291.8L473.5 1289.9L467.6 1282.3L462.1 1284.5Z" fill="#d4ff00" stroke="#546600"/>
<path d="M278.5 1182L284.7 1184.1L279.4 1179.6L273.2 1177.7Z" fill="#22ff00" stroke="#0d6600"/>
<path d="M393.5 1249.9L399.2 1249.5L393.4 1243.2L387.7 1243.7Z" fill="#90ff00" stroke="#396600"/>
<path d="M456.7 1286.1L462.1 1284.5L456.2 1277.1L450.7 1279Z" fill="#cbff00" stroke="#516600"/>
<path d="M330.2 1212.9L336.2 1214L330.7 1208.7L324.7 1207.8Z" fill="#54ff00" stroke="#216600"/>
<path d="M215 1143.9L221.7 1147.4L216.7 1144L210.1 1140.6Z" fill="#00e31c" stroke="#005a0b"/>
<path d="M445.2 1280.4L450.7 1279L444.8 1271.8L439.3 1273.4Z" fill="#c0ff00" stroke="#4c6600"/>
<path d="M266.9 1175.2L273.2 1177.7L267.9 1173.4L261.6 1171.1Z" fill="#16ff00" stroke="#086600"/>
<path d="M382 1243.8L387.7 1243.7L382 1237.6L376.3 1237.8Z" fill="#85ff00" stroke="#356600"/>
<path d="M508.5 1316.2L513.8 1313.5L507.7 1305.4L502.4 1308.3Z" fill="#faff00" stroke="#646600"/>
<path d="M318.7 1206.4L324.7 1207.8L319.2 1202.7L313.2 1201.5Z" fill="#48ff00" stroke="#1c6600"/>
<path d="M433.8 1274.5L439.3 1273.4L433.4 1266.4L427.9 1267.6Z" fill="#b6ff00" stroke="#486600"/>
<path d="M497 1310.7L502.4 1308.3L496.3 1300.3L491 1302.9Z" fill="#f1ff00" stroke="#606600"/>
<path d="M370.5 1237.5L376.3 1237.8L370.6 1231.8L364.8 1231.7Z" fill="#7aff00" stroke="#306600"/>
<path d="M255.2 1168.4L261.6 1171.1L256.4 1167.1L250 1164.5Z" fill="#0aff00" stroke="#046600"/>
<path d="M485.6 1305L491 1302.9L484.9 1295.1L479.5 1297.4Z" fill="#e7ff00" stroke="#5c6600"/>
<path d="M307.1 1199.8L313.2 1201.5L307.7 1196.6L301.6 1195.1Z" fill="#3dff00" stroke="#186600"/>
<path d="M422.3 1268.5L427.9 1267.6L422 1260.9L416.4 1261.8Z" fill="#acff00" stroke="#446600"/>
<path d="M358.9 1231.2L364.8 1231.7L359.1 1226L353.3 1225.6Z" fill="#6fff00" stroke="#2c6600"/>
<path d="M474.1 1299.2L479.5 1297.4L473.5 1289.9L468.1 1291.8Z" fill="#ddff00" stroke="#586600"/>
<path d="M410.8 1262.3L416.4 1261.8L410.6 1255.3L405 1255.9Z" fill="#a1ff00" stroke="#406600"/>
<path d="M243.5 1161.4L250 1164.5L244.9 1160.6L238.4 1157.7Z" fill="#00fd02" stroke="#006500"/>
<path d="M295.5 1193.1L301.6 1195.1L296.2 1190.4L290.1 1188.6Z" fill="#31ff00" stroke="#136600"/>
<path d="M347.4 1224.7L353.3 1225.6L347.7 1220L341.8 1219.3Z" fill="#63ff00" stroke="#276600"/>
<path d="M462.7 1293.4L468.1 1291.8L462.1 1284.5L456.7 1286.1Z" fill="#d2ff00" stroke="#546600"/>
<path d="M399.3 1256.1L405 1255.9L399.2 1249.5L393.5 1249.9Z" fill="#96ff00" stroke="#3c6600"/>
<path d="M451.2 1287.4L456.7 1286.1L450.7 1279L445.2 1280.4Z" fill="#c8ff00" stroke="#506600"/>
<path d="M231.8 1154.3L238.4 1157.7L233.3 1154.1L226.7 1150.8Z" fill="#00f00f" stroke="#006006"/>
<path d="M283.8 1186.3L290.1 1188.6L284.7 1184.1L278.5 1182Z" fill="#24ff00" stroke="#0e6600"/>
<path d="M335.8 1218.1L341.8 1219.3L336.2 1214L330.2 1212.9Z" fill="#58ff00" stroke="#236600"/>
<path d="M503.1 1318.5L508.5 1316.2L502.4 1308.3L497 1310.7Z" fill="#f9ff00" stroke="#636600"/>
<path d="M387.8 1249.8L393.5 1249.9L387.7 1243.7L382 1243.8Z" fill="#8aff00" stroke="#376600"/>
<path d="M439.7 1281.3L445.2 1280.4L439.3 1273.4L433.8 1274.5Z" fill="#bdff00" stroke="#4b6600"/>
<path d="M491.7 1312.7L497 1310.7L491 1302.9L485.6 1305Z" fill="#efff00" stroke="#5f6600"/>
<path d="M272.1 1179.3L278.5 1182L273.2 1177.7L266.9 1175.2Z" fill="#18ff00" stroke="#096600"/>
<path d="M220.1 1147.1L226.7 1150.8L221.7 1147.4L215 1143.9Z" fill="#00e31c" stroke="#005a0b"/>
<path d="M324.2 1211.4L330.2 1212.9L324.7 1207.8L318.7 1206.4Z" fill="#4cff00" stroke="#1e6600"/>
<path d="M376.2 1243.3L382 1243.8L376.3 1237.8L370.5 1237.5Z" fill="#7fff00" stroke="#326600"/>
<path d="M428.2 1275.1L433.8 1274.5L427.9 1267.6L422.3 1268.5Z" fill="#b2ff00" stroke="#476600"/>
<path d="M480.2 1306.7L485.6 1305L479.5 1297.4L474.1 1299.2Z" fill="#e5ff00" stroke="#5b6600"/>
<path d="M312.6 1204.6L318.7 1206.4L313.2 1201.5L307.1 1199.8Z" fill="#3fff00" stroke="#196600"/>
<path d="M364.6 1236.8L370.5 1237.5L364.8 1231.7L358.9 1231.2Z" fill="#73ff00" stroke="#2e6600"/>
<path d="M260.4 1172.3L266.9 1175.2L261.6 1171.1L255.2 1168.4Z" fill="#0bff00" stroke="#046600"/>
<path d="M416.7 1268.8L422.3 1268.5L416.4 1261.8L410.8 1262.3Z" fill="#a7ff00" stroke="#426600"/>
<path d="M468.7 1300.6L474.1 1299.2L468.1 1291.8L462.7 1293.4Z" fill="#daff00" stroke="#576600"/>
<path d="M405.1 1262.4L410.8 1262.3L405 1255.9L399.3 1256.1Z" fill="#9bff00" stroke="#3e6600"/>
<path d="M353 1230.1L358.9 1231.2L353.3 1225.6L347.4 1224.7Z" fill="#67ff00" stroke="#296600"/>
<path d="M457.2 1294.5L462.7 1293.4L456.7 1286.1L451.2 1287.4Z" fill="#cfff00" stroke="#526600"/>
<path d="M300.9 1197.7L307.1 1199.8L301.6 1195.1L295.5 1193.1Z" fill="#33ff00" stroke="#146600"/>
<path d="M248.7 1165.1L255.2 1168.4L250 1164.5L243.5 1161.4Z" fill="#00fd02" stroke="#006500"/>
<path d="M445.7 1288.2L451.2 1287.4L445.2 1280.4L439.7 1281.3Z" fill="#c4ff00" stroke="#4e6600"/>
<path d="M497.8 1320.4L503.1 1318.5L497 1310.7L491.7 1312.7Z" fill="#f8ff00" stroke="#636600"/>
<path d="M393.6 1255.9L399.3 1256.1L393.5 1249.9L387.8 1249.8Z" fill="#90ff00" stroke="#396600"/>
<path d="M341.4 1223.4L347.4 1224.7L341.8 1219.3L335.8 1218.1Z" fill="#5bff00" stroke="#246600"/>
<path d="M289.2 1190.7L295.5 1193.1L290.1 1188.6L283.8 1186.3Z" fill="#26ff00" stroke="#0f6600"/>
<path d="M236.9 1157.8L243.5 1161.4L238.4 1157.7L231.8 1154.3Z" fill="#00f00f" stroke="#006006"/>
<path d="M486.3 1314.2L491.7 1312.7L485.6 1305L480.2 1306.7Z" fill="#edff00" stroke="#5e6600"/>
<path d="M434.1 1281.8L439.7 1281.3L433.8 1274.5L428.2 1275.1Z" fill="#b8ff00" stroke="#496600"/>
<path d="M382 1249.2L387.8 1249.8L382 1243.8L376.2 1243.3Z" fill="#84ff00" stroke="#346600"/>
<path d="M329.8 1216.5L335.8 1218.1L330.2 1212.9L324.2 1211.4Z" fill="#4fff00" stroke="#1f6600"/>
<path d="M277.5 1183.5L283.8 1186.3L278.5 1182L272.1 1179.3Z" fill="#1aff00" stroke="#0a6600"/>
<path d="M474.8 1308L480.2 1306.7L474.1 1299.2L468.7 1300.6Z" fill="#e2ff00" stroke="#5a6600"/>
<path d="M422.6 1275.3L428.2 1275.1L422.3 1268.5L416.7 1268.8Z" fill="#adff00" stroke="#456600"/>
<path d="M225.1 1150.4L231.8 1154.3L226.7 1150.8L220.1 1147.1Z" fill="#00e31c" stroke="#005a0b"/>
<path d="M370.4 1242.5L376.2 1243.3L370.5 1237.5L364.6 1236.8Z" fill="#78ff00" stroke="#306600"/>
<path d="M318.1 1209.4L324.2 1211.4L318.7 1206.4L312.6 1204.6Z" fill="#42ff00" stroke="#1a6600"/>
<path d="M463.2 1301.6L468.7 1300.6L462.7 1293.4L457.2 1294.5Z" fill="#d6ff00" stroke="#556600"/>
<path d="M265.7 1176.2L272.1 1179.3L266.9 1175.2L260.4 1172.3Z" fill="#0cff00" stroke="#046600"/>
<path d="M411 1268.7L416.7 1268.8L410.8 1262.3L405.1 1262.4Z" fill="#a1ff00" stroke="#406600"/>
<path d="M358.7 1235.6L364.6 1236.8L358.9 1231.2L353 1230.1Z" fill="#6bff00" stroke="#2a6600"/>
<path d="M451.7 1295.1L457.2 1294.5L451.2 1287.4L445.7 1288.2Z" fill="#cbff00" stroke="#516600"/>
<path d="M306.4 1202.3L312.6 1204.6L307.1 1199.8L300.9 1197.7Z" fill="#35ff00" stroke="#156600"/>
<path d="M399.4 1262L405.1 1262.4L399.3 1256.1L393.6 1255.9Z" fill="#95ff00" stroke="#3b6600"/>
<path d="M492.4 1321.8L497.8 1320.4L491.7 1312.7L486.3 1314.2Z" fill="#f5ff00" stroke="#626600"/>
<path d="M253.9 1168.8L260.4 1172.3L255.2 1168.4L248.7 1165.1Z" fill="#00fe01" stroke="#006500"/>
<path d="M347.1 1228.6L353 1230.1L347.4 1224.7L341.4 1223.4Z" fill="#5fff00" stroke="#266600"/>
<path d="M440.1 1288.5L445.7 1288.2L439.7 1281.3L434.1 1281.8Z" fill="#bfff00" stroke="#4c6600"/>
<path d="M294.6 1195.1L300.9 1197.7L295.5 1193.1L289.2 1190.7Z" fill="#28ff00" stroke="#106600"/>
<path d="M387.8 1255.1L393.6 1255.9L387.8 1249.8L382 1249.2Z" fill="#89ff00" stroke="#366600"/>
<path d="M480.9 1315.3L486.3 1314.2L480.2 1306.7L474.8 1308Z" fill="#e9ff00" stroke="#5d6600"/>
<path d="M242.1 1161.3L248.7 1165.1L243.5 1161.4L236.9 1157.8Z" fill="#00f10e" stroke="#006005"/>
<path d="M428.6 1281.9L434.1 1281.8L428.2 1275.1L422.6 1275.3Z" fill="#b3ff00" stroke="#476600"/>
<path d="M335.4 1221.5L341.4 1223.4L335.8 1218.1L329.8 1216.5Z" fill="#52ff00" stroke="#206600"/>
<path d="M469.3 1308.8L474.8 1308L468.7 1300.6L463.2 1301.6Z" fill="#deff00" stroke="#586600"/>
<path d="M376.2 1248.2L382 1249.2L376.2 1243.3L370.4 1242.5Z" fill="#7cff00" stroke="#316600"/>
<path d="M282.9 1187.7L289.2 1190.7L283.8 1186.3L277.5 1183.5Z" fill="#1bff00" stroke="#0a6600"/>
<path d="M416.9 1275L422.6 1275.3L416.7 1268.8L411 1268.7Z" fill="#a7ff00" stroke="#426600"/>
<path d="M323.7 1214.3L329.8 1216.5L324.2 1211.4L318.1 1209.4Z" fill="#45ff00" stroke="#1b6600"/>
<path d="M230.2 1153.6L236.9 1157.8L231.8 1154.3L225.1 1150.4Z" fill="#00e31c" stroke="#005a0b"/>
<path d="M457.7 1302.1L463.2 1301.6L457.2 1294.5L451.7 1295.1Z" fill="#d2ff00" stroke="#546600"/>
<path d="M364.5 1241.1L370.4 1242.5L364.6 1236.8L358.7 1235.6Z" fill="#6fff00" stroke="#2c6600"/>
<path d="M271.1 1180.2L277.5 1183.5L272.1 1179.3L265.7 1176.2Z" fill="#0eff00" stroke="#056600"/>
<path d="M405.3 1268.1L411 1268.7L405.1 1262.4L399.4 1262Z" fill="#9aff00" stroke="#3d6600"/>
<path d="M311.9 1207L318.1 1209.4L312.6 1204.6L306.4 1202.3Z" fill="#38ff00" stroke="#166600"/>
<path d="M446.2 1295.3L451.7 1295.1L445.7 1288.2L440.1 1288.5Z" fill="#c5ff00" stroke="#4e6600"/>
<path d="M487 1322.7L492.4 1321.8L486.3 1314.2L480.9 1315.3Z" fill="#f1ff00" stroke="#606600"/>
<path d="M352.8 1233.9L358.7 1235.6L353 1230.1L347.1 1228.6Z" fill="#62ff00" stroke="#276600"/>
<path d="M259.2 1172.6L265.7 1176.2L260.4 1172.3L253.9 1168.8Z" fill="#00ff00" stroke="#006600"/>
<path d="M393.7 1261.1L399.4 1262L393.6 1255.9L387.8 1255.1Z" fill="#8dff00" stroke="#386600"/>
<path d="M434.5 1288.4L440.1 1288.5L434.1 1281.8L428.6 1281.9Z" fill="#b9ff00" stroke="#4a6600"/>
<path d="M475.4 1316L480.9 1315.3L474.8 1308L469.3 1308.8Z" fill="#e5ff00" stroke="#5b6600"/>
<path d="M300.1 1199.5L306.4 1202.3L300.9 1197.7L294.6 1195.1Z" fill="#2aff00" stroke="#106600"/>
<path d="M341 1226.6L347.1 1228.6L341.4 1223.4L335.4 1221.5Z" fill="#55ff00" stroke="#226600"/>
<path d="M382 1253.9L387.8 1255.1L382 1249.2L376.2 1248.2Z" fill="#81ff00" stroke="#336600"/>
<path d="M247.3 1164.8L253.9 1168.8L248.7 1165.1L242.1 1161.3Z" fill="#00f10e" stroke="#006005"/>
<path d="M422.9 1281.4L428.6 1281.9L422.6 1275.3L416.9 1275Z" fill="#acff00" stroke="#446600"/>
<path d="M463.8 1309.1L469.3 1308.8L463.2 1301.6L457.7 1302.1Z" fill="#d8ff00" stroke="#566600"/>
<path d="M288.3 1191.9L294.6 1195.1L289.2 1190.7L282.9 1187.7Z" fill="#1dff00" stroke="#0b6600"/>
<path d="M329.3 1219.2L335.4 1221.5L329.8 1216.5L323.7 1214.3Z" fill="#48ff00" stroke="#1c6600"/>
<path d="M370.3 1246.7L376.2 1248.2L370.4 1242.5L364.5 1241.1Z" fill="#73ff00" stroke="#2e6600"/>
<path d="M411.3 1274.3L416.9 1275L411 1268.7L405.3 1268.1Z" fill="#9fff00" stroke="#3f6600"/>
<path d="M452.2 1302.2L457.7 1302.1L451.7 1295.1L446.2 1295.3Z" fill="#ccff00" stroke="#516600"/>
<path d="M235.4 1157L242.1 1161.3L236.9 1157.8L230.2 1153.6Z" fill="#00e31c" stroke="#005a0b"/>
<path d="M276.4 1184.2L282.9 1187.7L277.5 1183.5L271.1 1180.2Z" fill="#0fff00" stroke="#066600"/>
<path d="M317.5 1211.6L323.7 1214.3L318.1 1209.4L311.9 1207Z" fill="#3aff00" stroke="#176600"/>
<path d="M358.5 1239.3L364.5 1241.1L358.7 1235.6L352.8 1233.9Z" fill="#66ff00" stroke="#286600"/>
<path d="M481.6 1323.3L487 1322.7L480.9 1315.3L475.4 1316Z" fill="#ecff00" stroke="#5e6600"/>
<path d="M399.6 1267.1L405.3 1268.1L399.4 1262L393.7 1261.1Z" fill="#92ff00" stroke="#3a6600"/>
<path d="M440.6 1295.1L446.2 1295.3L440.1 1288.5L434.5 1288.4Z" fill="#bfff00" stroke="#4c6600"/>
<path d="M264.5 1176.4L271.1 1180.2L265.7 1176.2L259.2 1172.6Z" fill="#01ff00" stroke="#006600"/>
<path d="M305.6 1204L311.9 1207L306.4 1202.3L300.1 1199.5Z" fill="#2cff00" stroke="#116600"/>
<path d="M470 1316.2L475.4 1316L469.3 1308.8L463.8 1309.1Z" fill="#dfff00" stroke="#596600"/>
<path d="M346.7 1231.8L352.8 1233.9L347.1 1228.6L341 1226.6Z" fill="#58ff00" stroke="#236600"/>
<path d="M428.9 1287.9L434.5 1288.4L428.6 1281.9L422.9 1281.4Z" fill="#b2ff00" stroke="#476600"/>
<path d="M387.8 1259.7L393.7 1261.1L387.8 1255.1L382 1253.9Z" fill="#85ff00" stroke="#356600"/>
<path d="M252.6 1168.4L259.2 1172.6L253.9 1168.8L247.3 1164.8Z" fill="#00f10e" stroke="#006005"/>
<path d="M458.3 1309L463.8 1309.1L457.7 1302.1L452.2 1302.2Z" fill="#d2ff00" stroke="#546600"/>
<path d="M293.8 1196.2L300.1 1199.5L294.6 1195.1L288.3 1191.9Z" fill="#1eff00" stroke="#0c6600"/>
<path d="M417.2 1280.6L422.9 1281.4L416.9 1275L411.3 1274.3Z" fill="#a5ff00" stroke="#426600"/>
<path d="M334.9 1224.1L341 1226.6L335.4 1221.5L329.3 1219.2Z" fill="#4bff00" stroke="#1e6600"/>
<path d="M376.1 1252.3L382 1253.9L376.2 1248.2L370.3 1246.7Z" fill="#77ff00" stroke="#2f6600"/>
<path d="M446.7 1301.8L452.2 1302.2L446.2 1295.3L440.6 1295.1Z" fill="#c5ff00" stroke="#4e6600"/>
<path d="M405.5 1273.1L411.3 1274.3L405.3 1268.1L399.6 1267.1Z" fill="#97ff00" stroke="#3c6600"/>
<path d="M240.6 1160.3L247.3 1164.8L242.1 1161.3L235.4 1157Z" fill="#00e31c" stroke="#005a0b"/>
<path d="M364.3 1244.7L370.3 1246.7L364.5 1241.1L358.5 1239.3Z" fill="#6aff00" stroke="#2a6600"/>
<path d="M281.9 1188.3L288.3 1191.9L282.9 1187.7L276.4 1184.2Z" fill="#10ff00" stroke="#066600"/>
<path d="M323.1 1216.4L329.3 1219.2L323.7 1214.3L317.5 1211.6Z" fill="#3cff00" stroke="#186600"/>
<path d="M476.1 1323.3L481.6 1323.3L475.4 1316L470 1316.2Z" fill="#e6ff00" stroke="#5c6600"/>
<path d="M435 1294.4L440.6 1295.1L434.5 1288.4L428.9 1287.9Z" fill="#b8ff00" stroke="#496600"/>
<path d="M393.8 1265.6L399.6 1267.1L393.7 1261.1L387.8 1259.7Z" fill="#89ff00" stroke="#366600"/>
<path d="M352.5 1237L358.5 1239.3L352.8 1233.9L346.7 1231.8Z" fill="#5cff00" stroke="#246600"/>
<path d="M311.2 1208.5L317.5 1211.6L311.9 1207L305.6 1204Z" fill="#2eff00" stroke="#126600"/>
<path d="M269.9 1180.2L276.4 1184.2L271.1 1180.2L264.5 1176.4Z" fill="#01ff00" stroke="#006600"/>
<path d="M464.5 1316L470 1316.2L463.8 1309.1L458.3 1309Z" fill="#d9ff00" stroke="#566600"/>
<path d="M423.3 1286.9L428.9 1287.9L422.9 1281.4L417.2 1280.6Z" fill="#aaff00" stroke="#446600"/>
<path d="M382 1257.9L387.8 1259.7L382 1253.9L376.1 1252.3Z" fill="#7bff00" stroke="#316600"/>
<path d="M340.6 1229.1L346.7 1231.8L341 1226.6L334.9 1224.1Z" fill="#4dff00" stroke="#1e6600"/>
<path d="M299.3 1200.5L305.6 1204L300.1 1199.5L293.8 1196.2Z" fill="#20ff00" stroke="#0c6600"/>
<path d="M257.9 1172L264.5 1176.4L259.2 1172.6L252.6 1168.4Z" fill="#00f20d" stroke="#006005"/>
<path d="M452.8 1308.5L458.3 1309L452.2 1302.2L446.7 1301.8Z" fill="#cbff00" stroke="#516600"/>
<path d="M411.5 1279.2L417.2 1280.6L411.3 1274.3L405.5 1273.1Z" fill="#9cff00" stroke="#3e6600"/>
<path d="M370.2 1250.1L376.1 1252.3L370.3 1246.7L364.3 1244.7Z" fill="#6dff00" stroke="#2b6600"/>
<path d="M328.8 1221.1L334.9 1224.1L329.3 1219.2L323.1 1216.4Z" fill="#3fff00" stroke="#196600"/>
<path d="M287.3 1192.3L293.8 1196.2L288.3 1191.9L281.9 1188.3Z" fill="#11ff00" stroke="#066600"/>
<path d="M441.1 1300.9L446.7 1301.8L440.6 1295.1L435 1294.4Z" fill="#bdff00" stroke="#4b6600"/>
<path d="M245.9 1163.7L252.6 1168.4L247.3 1164.8L240.6 1160.3Z" fill="#00e21d" stroke="#005a0b"/>
<path d="M399.7 1271.5L405.5 1273.1L399.6 1267.1L393.8 1265.6Z" fill="#8eff00" stroke="#386600"/>
<path d="M470.7 1322.9L476.1 1323.3L470 1316.2L464.5 1316Z" fill="#dfff00" stroke="#596600"/>
<path d="M358.3 1242.2L364.3 1244.7L358.5 1239.3L352.5 1237Z" fill="#5fff00" stroke="#266600"/>
<path d="M316.8 1213L323.1 1216.4L317.5 1211.6L311.2 1208.5Z" fill="#30ff00" stroke="#136600"/>
<path d="M429.3 1293.2L435 1294.4L428.9 1287.9L423.3 1286.9Z" fill="#afff00" stroke="#466600"/>
<path d="M275.3 1184.1L281.9 1188.3L276.4 1184.2L269.9 1180.2Z" fill="#02ff00" stroke="#006600"/>
<path d="M387.9 1263.6L393.8 1265.6L387.8 1259.7L382 1257.9Z" fill="#7fff00" stroke="#326600"/>
<path d="M458.9 1315.3L464.5 1316L458.3 1309L452.8 1308.5Z" fill="#d1ff00" stroke="#536600"/>
<path d="M346.4 1234.1L352.5 1237L346.7 1231.8L340.6 1229.1Z" fill="#50ff00" stroke="#206600"/>
<path d="M304.9 1204.8L311.2 1208.5L305.6 1204L299.3 1200.5Z" fill="#21ff00" stroke="#0d6600"/>
<path d="M417.5 1285.4L423.3 1286.9L417.2 1280.6L411.5 1279.2Z" fill="#a1ff00" stroke="#406600"/>
<path d="M263.3 1175.7L269.9 1180.2L264.5 1176.4L257.9 1172Z" fill="#00f20d" stroke="#006005"/>
<path d="M376 1255.6L382 1257.9L376.1 1252.3L370.2 1250.1Z" fill="#71ff00" stroke="#2d6600"/>
<path d="M447.2 1307.5L452.8 1308.5L446.7 1301.8L441.1 1300.9Z" fill="#c3ff00" stroke="#4e6600"/>
<path d="M334.5 1225.9L340.6 1229.1L334.9 1224.1L328.8 1221.1Z" fill="#41ff00" stroke="#1a6600"/>
<path d="M405.7 1277.4L411.5 1279.2L405.5 1273.1L399.7 1271.5Z" fill="#92ff00" stroke="#3a6600"/>
<path d="M292.8 1196.5L299.3 1200.5L293.8 1196.2L287.3 1192.3Z" fill="#12ff00" stroke="#076600"/>
<path d="M251.2 1167.1L257.9 1172L252.6 1168.4L245.9 1163.7Z" fill="#00e21d" stroke="#005a0b"/>
<path d="M364.1 1247.4L370.2 1250.1L364.3 1244.7L358.3 1242.2Z" fill="#62ff00" stroke="#276600"/>
<path d="M435.4 1299.6L441.1 1300.9L435 1294.4L429.3 1293.2Z" fill="#b4ff00" stroke="#486600"/>
<path d="M322.5 1217.6L328.8 1221.1L323.1 1216.4L316.8 1213Z" fill="#32ff00" stroke="#146600"/>
<path d="M465.2 1322.1L470.7 1322.9L464.5 1316L458.9 1315.3Z" fill="#d7ff00" stroke="#566600"/>
<path d="M393.9 1269.3L399.7 1271.5L393.8 1265.6L387.9 1263.6Z" fill="#83ff00" stroke="#346600"/>
<path d="M280.8 1188L287.3 1192.3L281.9 1188.3L275.3 1184.1Z" fill="#03ff00" stroke="#016600"/>
<path d="M423.6 1291.5L429.3 1293.2L423.3 1286.9L417.5 1285.4Z" fill="#a6ff00" stroke="#426600"/>
<path d="M352.2 1239.2L358.3 1242.2L352.5 1237L346.4 1234.1Z" fill="#53ff00" stroke="#216600"/>
<path d="M453.4 1314.1L458.9 1315.3L452.8 1308.5L447.2 1307.5Z" fill="#c8ff00" stroke="#506600"/>
<path d="M310.5 1209.2L316.8 1213L311.2 1208.5L304.9 1204.8Z" fill="#23ff00" stroke="#0e6600"/>
<path d="M382 1261.1L387.9 1263.6L382 1257.9L376 1255.6Z" fill="#74ff00" stroke="#2e6600"/>
<path d="M268.7 1179.3L275.3 1184.1L269.9 1180.2L263.3 1175.7Z" fill="#00f20d" stroke="#006005"/>
<path d="M411.8 1283.4L417.5 1285.4L411.5 1279.2L405.7 1277.4Z" fill="#97ff00" stroke="#3c6600"/>
<path d="M340.2 1230.8L346.4 1234.1L340.6 1229.1L334.5 1225.9Z" fill="#44ff00" stroke="#1b6600"/>
<path d="M441.6 1306L447.2 1307.5L441.1 1300.9L435.4 1299.6Z" fill="#baff00" stroke="#4a6600"/>
<path d="M298.4 1200.6L304.9 1204.8L299.3 1200.5L292.8 1196.5Z" fill="#13ff00" stroke="#076600"/>
<path d="M370 1252.8L376 1255.6L370.2 1250.1L364.1 1247.4Z" fill="#65ff00" stroke="#286600"/>
<path d="M256.5 1170.6L263.3 1175.7L257.9 1172L251.2 1167.1Z" fill="#00e21d" stroke="#005a0b"/>
<path d="M399.9 1275.1L405.7 1277.4L399.7 1271.5L393.9 1269.3Z" fill="#87ff00" stroke="#366600"/>
<path d="M328.2 1222.3L334.5 1225.9L328.8 1221.1L322.5 1217.6Z" fill="#34ff00" stroke="#146600"/>
<path d="M429.7 1297.8L435.4 1299.6L429.3 1293.2L423.6 1291.5Z" fill="#aaff00" stroke="#446600"/>
<path d="M286.3 1191.9L292.8 1196.5L287.3 1192.3L280.8 1188Z" fill="#03ff00" stroke="#016600"/>
<path d="M358.1 1244.3L364.1 1247.4L358.3 1242.2L352.2 1239.2Z" fill="#56ff00" stroke="#226600"/>
<path d="M459.6 1320.8L465.2 1322.1L458.9 1315.3L453.4 1314.1Z" fill="#ceff00" stroke="#526600"/>
<path d="M387.9 1266.7L393.9 1269.3L387.9 1263.6L382 1261.1Z" fill="#78ff00" stroke="#306600"/>
<path d="M316.1 1213.6L322.5 1217.6L316.8 1213L310.5 1209.2Z" fill="#24ff00" stroke="#0e6600"/>
<path d="M417.8 1289.4L423.6 1291.5L417.5 1285.4L411.8 1283.4Z" fill="#9bff00" stroke="#3e6600"/>
<path d="M447.8 1312.5L453.4 1314.1L447.2 1307.5L441.6 1306Z" fill="#bfff00" stroke="#4c6600"/>
<path d="M274.2 1183L280.8 1188L275.3 1184.1L268.7 1179.3Z" fill="#00f20d" stroke="#006005"/>
<path d="M346 1235.7L352.2 1239.2L346.4 1234.1L340.2 1230.8Z" fill="#46ff00" stroke="#1c6600"/>
<path d="M376 1258.1L382 1261.1L376 1255.6L370 1252.8Z" fill="#68ff00" stroke="#296600"/>
<path d="M304 1204.8L310.5 1209.2L304.9 1204.8L298.4 1200.6Z" fill="#14ff00" stroke="#086600"/>
<path d="M405.9 1280.9L411.8 1283.4L405.7 1277.4L399.9 1275.1Z" fill="#8bff00" stroke="#376600"/>
<path d="M435.9 1304L441.6 1306L435.4 1299.6L429.7 1297.8Z" fill="#afff00" stroke="#466600"/>
<path d="M334 1226.9L340.2 1230.8L334.5 1225.9L328.2 1222.3Z" fill="#36ff00" stroke="#156600"/>
<path d="M261.9 1174.1L268.7 1179.3L263.3 1175.7L256.5 1170.6Z" fill="#00e21d" stroke="#005a0b"/>
<path d="M364 1249.4L370 1252.8L364.1 1247.4L358.1 1244.3Z" fill="#58ff00" stroke="#236600"/>
<path d="M291.9 1195.9L298.4 1200.6L292.8 1196.5L286.3 1191.9Z" fill="#04ff00" stroke="#016600"/>
<path d="M394 1272.3L399.9 1275.1L393.9 1269.3L387.9 1266.7Z" fill="#7cff00" stroke="#316600"/>
<path d="M424 1295.5L429.7 1297.8L423.6 1291.5L417.8 1289.4Z" fill="#9fff00" stroke="#3f6600"/>
<path d="M321.9 1218.1L328.2 1222.3L322.5 1217.6L316.1 1213.6Z" fill="#26ff00" stroke="#0f6600"/>
<path d="M454 1319L459.6 1320.8L453.4 1314.1L447.8 1312.5Z" fill="#c4ff00" stroke="#4e6600"/>
<path d="M351.9 1240.6L358.1 1244.3L352.2 1239.2L346 1235.7Z" fill="#48ff00" stroke="#1c6600"/>
<path d="M279.7 1186.8L286.3 1191.9L280.8 1188L274.2 1183Z" fill="#00f30c" stroke="#006104"/>
<path d="M382 1263.5L387.9 1266.7L382 1261.1L376 1258.1Z" fill="#6bff00" stroke="#2a6600"/>
<path d="M412 1286.8L417.8 1289.4L411.8 1283.4L405.9 1280.9Z" fill="#8fff00" stroke="#396600"/>
<path d="M442.1 1310.4L447.8 1312.5L441.6 1306L435.9 1304Z" fill="#b4ff00" stroke="#486600"/>
<path d="M309.7 1209L316.1 1213.6L310.5 1209.2L304 1204.8Z" fill="#15ff00" stroke="#086600"/>
<path d="M339.8 1231.6L346 1235.7L340.2 1230.8L334 1226.9Z" fill="#38ff00" stroke="#166600"/>
<path d="M267.4 1177.6L274.2 1183L268.7 1179.3L261.9 1174.1Z" fill="#00e21d" stroke="#005a0b"/>
<path d="M369.9 1254.6L376 1258.1L370 1252.8L364 1249.4Z" fill="#5bff00" stroke="#246600"/>
<path d="M400 1277.9L405.9 1280.9L399.9 1275.1L394 1272.3Z" fill="#7fff00" stroke="#326600"/>
<path d="M430.2 1301.6L435.9 1304L429.7 1297.8L424 1295.5Z" fill="#a4ff00" stroke="#416600"/>
<path d="M297.5 1199.9L304 1204.8L298.4 1200.6L291.9 1195.9Z" fill="#05ff00" stroke="#026600"/>
<path d="M327.6 1222.5L334 1226.9L328.2 1222.3L321.9 1218.1Z" fill="#27ff00" stroke="#0f6600"/>
<path d="M357.8 1245.6L364 1249.4L358.1 1244.3L351.9 1240.6Z" fill="#4bff00" stroke="#1e6600"/>
<path d="M388 1269L394 1272.3L387.9 1266.7L382 1263.5Z" fill="#6fff00" stroke="#2c6600"/>
<path d="M418.2 1292.7L424 1295.5L417.8 1289.4L412 1286.8Z" fill="#93ff00" stroke="#3a6600"/>
<path d="M448.4 1316.7L454 1319L447.8 1312.5L442.1 1310.4Z" fill="#b9ff00" stroke="#4a6600"/>
<path d="M285.2 1190.6L291.9 1195.9L286.3 1191.9L279.7 1186.8Z" fill="#00f30c" stroke="#006104"/>
<path d="M315.4 1213.3L321.9 1218.1L316.1 1213.6L309.7 1209Z" fill="#17ff00" stroke="#096600"/>
<path d="M345.6 1236.4L351.9 1240.6L346 1235.7L339.8 1231.6Z" fill="#3aff00" stroke="#176600"/>
<path d="M375.9 1259.8L382 1263.5L376 1258.1L369.9 1254.6Z" fill="#5eff00" stroke="#256600"/>
<path d="M406.2 1283.6L412 1286.8L405.9 1280.9L400 1277.9Z" fill="#83ff00" stroke="#346600"/>
<path d="M436.4 1307.7L442.1 1310.4L435.9 1304L430.2 1301.6Z" fill="#a8ff00" stroke="#436600"/>
<path d="M272.9 1181.1L279.7 1186.8L274.2 1183L267.4 1177.6Z" fill="#00e21d" stroke="#005a0b"/>
<path d="M303.2 1203.9L309.7 1209L304 1204.8L297.5 1199.9Z" fill="#06ff00" stroke="#026600"/>
<path d="M333.4 1227.1L339.8 1231.6L334 1226.9L327.6 1222.5Z" fill="#29ff00" stroke="#106600"/>
<path d="M363.8 1250.6L369.9 1254.6L364 1249.4L357.8 1245.6Z" fill="#4dff00" stroke="#1e6600"/>
<path d="M394.1 1274.4L400 1277.9L394 1272.3L388 1269Z" fill="#72ff00" stroke="#2d6600"/>
<path d="M424.4 1298.6L430.2 1301.6L424 1295.5L418.2 1292.7Z" fill="#97ff00" stroke="#3c6600"/>
<path d="M290.8 1194.4L297.5 1199.9L291.9 1195.9L285.2 1190.6Z" fill="#00f30c" stroke="#006104"/>
<path d="M321.2 1217.6L327.6 1222.5L321.9 1218.1L315.4 1213.3Z" fill="#18ff00" stroke="#096600"/>
<path d="M351.6 1241.2L357.8 1245.6L351.9 1240.6L345.6 1236.4Z" fill="#3cff00" stroke="#186600"/>
<path d="M442.7 1314L448.4 1316.7L442.1 1310.4L436.4 1307.7Z" fill="#adff00" stroke="#456600"/>
<path d="M381.9 1265.1L388 1269L382 1263.5L375.9 1259.8Z" fill="#61ff00" stroke="#266600"/>
<path d="M412.3 1289.4L418.2 1292.7L412 1286.8L406.2 1283.6Z" fill="#86ff00" stroke="#356600"/>
<path d="M278.5 1184.7L285.2 1190.6L279.7 1186.8L272.9 1181.1Z" fill="#00e21d" stroke="#005a0b"/>
<path d="M308.9 1208L315.4 1213.3L309.7 1209L303.2 1203.9Z" fill="#06ff00" stroke="#026600"/>
<path d="M339.3 1231.6L345.6 1236.4L339.8 1231.6L333.4 1227.1Z" fill="#2aff00" stroke="#106600"/>
<path d="M430.6 1304.6L436.4 1307.7L430.2 1301.6L424.4 1298.6Z" fill="#9bff00" stroke="#3e6600"/>
<path d="M369.8 1255.6L375.9 1259.8L369.9 1254.6L363.8 1250.6Z" fill="#4fff00" stroke="#1f6600"/>
<path d="M400.2 1280L406.2 1283.6L400 1277.9L394.1 1274.4Z" fill="#75ff00" stroke="#2e6600"/>
<path d="M296.5 1198.2L303.2 1203.9L297.5 1199.9L290.8 1194.4Z" fill="#00f40b" stroke="#006104"/>
<path d="M327 1221.9L333.4 1227.1L327.6 1222.5L321.2 1217.6Z" fill="#19ff00" stroke="#0a6600"/>
<path d="M418.5 1295.2L424.4 1298.6L418.2 1292.7L412.3 1289.4Z" fill="#8aff00" stroke="#376600"/>
<path d="M357.5 1246L363.8 1250.6L357.8 1245.6L351.6 1241.2Z" fill="#3eff00" stroke="#186600"/>
<path d="M388 1270.4L394.1 1274.4L388 1269L381.9 1265.1Z" fill="#63ff00" stroke="#276600"/>
<path d="M284.1 1188.3L290.8 1194.4L285.2 1190.6L278.5 1184.7Z" fill="#00e21d" stroke="#005a0b"/>
<path d="M436.9 1310.7L442.7 1314L436.4 1307.7L430.6 1304.6Z" fill="#9fff00" stroke="#3f6600"/>
<path d="M314.7 1212.1L321.2 1217.6L315.4 1213.3L308.9 1208Z" fill="#07ff00" stroke="#026600"/>
<path d="M406.4 1285.5L412.3 1289.4L406.2 1283.6L400.2 1280Z" fill="#78ff00" stroke="#306600"/>
<path d="M345.2 1236.3L351.6 1241.2L345.6 1236.4L339.3 1231.6Z" fill="#2cff00" stroke="#116600"/>
<path d="M375.8 1260.7L381.9 1265.1L375.9 1259.8L369.8 1255.6Z" fill="#52ff00" stroke="#206600"/>
<path d="M424.8 1301L430.6 1304.6L424.4 1298.6L418.5 1295.2Z" fill="#8dff00" stroke="#386600"/>
<path d="M302.2 1202.1L308.9 1208L303.2 1203.9L296.5 1198.2Z" fill="#00f40b" stroke="#006104"/>
<path d="M394.2 1275.8L400.2 1280L394.1 1274.4L388 1270.4Z" fill="#66ff00" stroke="#286600"/>
<path d="M332.9 1226.3L339.3 1231.6L333.4 1227.1L327 1221.9Z" fill="#1aff00" stroke="#0a6600"/>
<path d="M363.5 1250.9L369.8 1255.6L363.8 1250.6L357.5 1246Z" fill="#40ff00" stroke="#196600"/>
<path d="M412.6 1291.2L418.5 1295.2L412.3 1289.4L406.4 1285.5Z" fill="#7bff00" stroke="#316600"/>
<path d="M289.8 1192L296.5 1198.2L290.8 1194.4L284.1 1188.3Z" fill="#00e21d" stroke="#005a0b"/>
<path d="M381.9 1265.9L388 1270.4L381.9 1265.1L375.8 1260.7Z" fill="#54ff00" stroke="#216600"/>
<path d="M320.5 1216.3L327 1221.9L321.2 1217.6L314.7 1212.1Z" fill="#08ff00" stroke="#036600"/>
<path d="M351.2 1240.9L357.5 1246L351.6 1241.2L345.2 1236.3Z" fill="#2eff00" stroke="#126600"/>
<path d="M431.1 1306.9L436.9 1310.7L430.6 1304.6L424.8 1301Z" fill="#91ff00" stroke="#3a6600"/>
<path d="M400.4 1281.2L406.4 1285.5L400.2 1280L394.2 1275.8Z" fill="#69ff00" stroke="#2a6600"/>
<path d="M369.6 1255.8L375.8 1260.7L369.8 1255.6L363.5 1250.9Z" fill="#42ff00" stroke="#1a6600"/>
<path d="M338.8 1230.8L345.2 1236.3L339.3 1231.6L332.9 1226.3Z" fill="#1bff00" stroke="#0a6600"/>
<path d="M308 1206L314.7 1212.1L308.9 1208L302.2 1202.1Z" fill="#00f40b" stroke="#006104"/>
<path d="M418.9 1296.8L424.8 1301L418.5 1295.2L412.6 1291.2Z" fill="#7fff00" stroke="#326600"/>
<path d="M388.1 1271.1L394.2 1275.8L388 1270.4L381.9 1265.9Z" fill="#56ff00" stroke="#226600"/>
<path d="M357.2 1245.6L363.5 1250.9L357.5 1246L351.2 1240.9Z" fill="#2fff00" stroke="#126600"/>
<path d="M326.4 1220.5L332.9 1226.3L327 1221.9L320.5 1216.3Z" fill="#09ff00" stroke="#036600"/>
<path d="M295.5 1195.7L302.2 1202.1L296.5 1198.2L289.8 1192Z" fill="#00e21d" stroke="#005a0b"/>
<path d="M406.6 1286.6L412.6 1291.2L406.4 1285.5L400.4 1281.2Z" fill="#6cff00" stroke="#2b6600"/>
<path d="M375.7 1260.8L381.9 1265.9L375.8 1260.7L369.6 1255.8Z" fill="#44ff00" stroke="#1b6600"/>
<path d="M344.8 1235.2L351.2 1240.9L345.2 1236.3L338.8 1230.8Z" fill="#1cff00" stroke="#0b6600"/>
<path d="M313.8 1210L320.5 1216.3L314.7 1212.1L308 1206Z" fill="#00f50a" stroke="#006204"/>
<path d="M425.3 1302.6L431.1 1306.9L424.8 1301L418.9 1296.8Z" fill="#82ff00" stroke="#346600"/>
<path d="M394.3 1276.3L400.4 1281.2L394.2 1275.8L388.1 1271.1Z" fill="#59ff00" stroke="#236600"/>
<path d="M363.3 1250.3L369.6 1255.8L363.5 1250.9L357.2 1245.6Z" fill="#31ff00" stroke="#136600"/>
<path d="M332.3 1224.7L338.8 1230.8L332.9 1226.3L326.4 1220.5Z" fill="#09ff00" stroke="#036600"/>
<path d="M301.3 1199.4L308 1206L302.2 1202.1L295.5 1195.7Z" fill="#00e21d" stroke="#005a0b"/>
<path d="M413 1292.1L418.9 1296.8L412.6 1291.2L406.6 1286.6Z" fill="#6fff00" stroke="#2c6600"/>
<path d="M381.9 1265.8L388.1 1271.1L381.9 1265.9L375.7 1260.8Z" fill="#46ff00" stroke="#1c6600"/>
<path d="M350.8 1239.7L357.2 1245.6L351.2 1240.9L344.8 1235.2Z" fill="#1dff00" stroke="#0b6600"/>
<path d="M319.7 1214L326.4 1220.5L320.5 1216.3L313.8 1210Z" fill="#00f50a" stroke="#006204"/>
<path d="M400.6 1281.6L406.6 1286.6L400.4 1281.2L394.3 1276.3Z" fill="#5bff00" stroke="#246600"/>
<path d="M369.5 1255.1L375.7 1260.8L369.6 1255.8L363.3 1250.3Z" fill="#32ff00" stroke="#146600"/>
<path d="M338.3 1229L344.8 1235.2L338.8 1230.8L332.3 1224.7Z" fill="#0aff00" stroke="#046600"/>
<path d="M307.1 1203.1L313.8 1210L308 1206L301.3 1199.4Z" fill="#00e11e" stroke="#005a0c"/>
<path d="M419.3 1297.7L425.3 1302.6L418.9 1296.8L413 1292.1Z" fill="#71ff00" stroke="#2d6600"/>
<path d="M388.2 1270.8L394.3 1276.3L388.1 1271.1L381.9 1265.8Z" fill="#48ff00" stroke="#1c6600"/>
<path d="M356.9 1244.3L363.3 1250.3L357.2 1245.6L350.8 1239.7Z" fill="#1fff00" stroke="#0c6600"/>
<path d="M325.7 1218L332.3 1224.7L326.4 1220.5L319.7 1214Z" fill="#00f50a" stroke="#006204"/>
<path d="M406.9 1286.9L413 1292.1L406.6 1286.6L400.6 1281.6Z" fill="#5eff00" stroke="#256600"/>
<path d="M375.7 1259.9L381.9 1265.8L375.7 1260.8L369.5 1255.1Z" fill="#34ff00" stroke="#146600"/>
<path d="M344.3 1233.3L350.8 1239.7L344.8 1235.2L338.3 1229Z" fill="#0bff00" stroke="#046600"/>
<path d="M313 1206.9L319.7 1214L313.8 1210L307.1 1203.1Z" fill="#00e11e" stroke="#005a0c"/>
<path d="M394.4 1275.9L400.6 1281.6L394.3 1276.3L388.2 1270.8Z" fill="#4aff00" stroke="#1d6600"/>
<path d="M363.1 1248.9L369.5 1255.1L363.3 1250.3L356.9 1244.3Z" fill="#20ff00" stroke="#0c6600"/>
<path d="M331.7 1222.1L338.3 1229L332.3 1224.7L325.7 1218Z" fill="#00f609" stroke="#006203"/>
<path d="M413.3 1292.3L419.3 1297.7L413 1292.1L406.9 1286.9Z" fill="#60ff00" stroke="#266600"/>
<path d="M381.9 1264.8L388.2 1270.8L381.9 1265.8L375.7 1259.9Z" fill="#35ff00" stroke="#156600"/>
<path d="M350.5 1237.6L356.9 1244.3L350.8 1239.7L344.3 1233.3Z" fill="#0bff00" stroke="#046600"/>
<path d="M318.9 1210.8L325.7 1218L319.7 1214L313 1206.9Z" fill="#00e11e" stroke="#005a0c"/>
<path d="M400.8 1281.1L406.9 1286.9L400.6 1281.6L394.4 1275.9Z" fill="#4bff00" stroke="#1e6600"/>
<path d="M369.3 1253.5L375.7 1259.9L369.5 1255.1L363.1 1248.9Z" fill="#21ff00" stroke="#0d6600"/>
<path d="M337.7 1226.2L344.3 1233.3L338.3 1229L331.7 1222.1Z" fill="#00f609" stroke="#006203"/>
<path d="M388.2 1269.7L394.4 1275.9L388.2 1270.8L381.9 1264.8Z" fill="#37ff00" stroke="#166600"/>
<path d="M356.6 1242L363.1 1248.9L356.9 1244.3L350.5 1237.6Z" fill="#0cff00" stroke="#046600"/>
<path d="M407.2 1286.3L413.3 1292.3L406.9 1286.9L400.8 1281.1Z" fill="#4dff00" stroke="#1e6600"/>
<path d="M325 1214.6L331.7 1222.1L325.7 1218L318.9 1210.8Z" fill="#00e11e" stroke="#005a0c"/>
<path d="M375.6 1258.2L381.9 1264.8L375.7 1259.9L369.3 1253.5Z" fill="#22ff00" stroke="#0d6600"/>
<path d="M343.9 1230.4L350.5 1237.6L344.3 1233.3L337.7 1226.2Z" fill="#00f609" stroke="#006203"/>
<path d="M394.6 1274.7L400.8 1281.1L394.4 1275.9L388.2 1269.7Z" fill="#38ff00" stroke="#166600"/>
<path d="M362.8 1246.5L369.3 1253.5L363.1 1248.9L356.6 1242Z" fill="#0dff00" stroke="#056600"/>
<path d="M331 1218.5L337.7 1226.2L331.7 1222.1L325 1214.6Z" fill="#00e11e" stroke="#005a0c"/>
<path d="M381.9 1262.9L388.2 1269.7L381.9 1264.8L375.6 1258.2Z" fill="#23ff00" stroke="#0e6600"/>
<path d="M350 1234.6L356.6 1242L350.5 1237.6L343.9 1230.4Z" fill="#00f708" stroke="#006203"/>
<path d="M401 1279.7L407.2 1286.3L400.8 1281.1L394.6 1274.7Z" fill="#3aff00" stroke="#176600"/>
<path d="M369.1 1250.9L375.6 1258.2L369.3 1253.5L362.8 1246.5Z" fill="#0eff00" stroke="#056600"/>
<path d="M337.2 1222.5L343.9 1230.4L337.7 1226.2L331 1218.5Z" fill="#00e11e" stroke="#005a0c"/>
<path d="M388.3 1267.7L394.6 1274.7L388.2 1269.7L381.9 1262.9Z" fill="#24ff00" stroke="#0e6600"/>
<path d="M356.3 1238.8L362.8 1246.5L356.6 1242L350 1234.6Z" fill="#00f708" stroke="#006203"/>
<path d="M375.5 1255.5L381.9 1262.9L375.6 1258.2L369.1 1250.9Z" fill="#0eff00" stroke="#056600"/>
<path d="M343.3 1226.5L350 1234.6L343.9 1230.4L337.2 1222.5Z" fill="#00e11e" stroke="#005a0c"/>
<path d="M394.7 1272.5L401 1279.7L394.6 1274.7L388.3 1267.7Z" fill="#25ff00" stroke="#0e6600"/>
<path d="M362.6 1243.1L369.1 1250.9L362.8 1246.5L356.3 1238.8Z" fill="#00f708" stroke="#006203"/>
<path d="M381.9 1260L388.3 1267.7L381.9 1262.9L375.5 1255.5Z" fill="#0fff00" stroke="#066600"/>
<path d="M349.6 1230.5L356.3 1238.8L350 1234.6L343.3 1226.5Z" fill="#00e11e" stroke="#005a0c"/>
<path d="M368.9 1247.4L375.5 1255.5L369.1 1250.9L362.6 1243.1Z" fill="#00f708" stroke="#006203"/>
<path d="M388.4 1264.7L394.7 1272.5L388.3 1267.7L381.9 1260Z" fill="#10ff00" stroke="#066600"/>
<path d="M355.9 1234.6L362.6 1243.1L356.3 1238.8L349.6 1230.5Z" fill="#00e11e" stroke="#005a0c"/>
<path d="M375.4 1251.8L381.9 1260L375.5 1255.5L368.9 1247.4Z" fill="#00f807" stroke="#006302"/>
<path d="M362.3 1238.7L368.9 1247.4L362.6 1243.1L355.9 1234.6Z" fill="#00e11e" stroke="#005a0c"/>
<path d="M381.9 1256.2L388.4 1264.7L381.9 1260L375.4 1251.8Z" fill="#00f807" stroke="#006302"/>
<path d="M368.8 1242.8L375.4 1251.8L368.9 1247.4L362.3 1238.7Z" fill="#00e01f" stroke="#00590c"/>
<path d="M375.3 1247L381.9 1256.2L375.4 1251.8L368.8 1242.8Z" fill="#00e01f" stroke="#00590c"/>
</g>
<line x1="594.8" y1="1047.2" x2="374.9" y2="1135.4" stroke="#000" stroke-opacity="0.7" stroke-width="1.3"/>
<line x1="374.9" y1="1135.4" x2="197.5" y2="1032.4" stroke="#000" stroke-opacity="0.7" stroke-width="1.3"/>
<line x1="374.9" y1="1135.4" x2="375.8" y2="1387.7" stroke="#000" stroke-opacity="0.7" stroke-width="1.3"/>
<line x1="334.1" y1="1381.8" x2="228.8" y2="1299" stroke="#6a6a6a" stroke-width="1.4"/><polyline points="233.6,1310 228.8,1299 240.6,1301.1" fill="none" stroke="#6a6a6a" stroke-width="1.4"/>
<line x1="473.2" y1="1358.4" x2="552.9" y2="1315.3" stroke="#6a6a6a" stroke-width="1.4"/><polyline points="540.9,1315.4 552.9,1315.3 546.3,1325.3" fill="none" stroke="#6a6a6a" stroke-width="1.4"/>
<line x1="194" y1="1228" x2="180.9" y2="1076.3" stroke="#6a6a6a" stroke-width="1.4"/><polyline points="176.2,1087.3 180.9,1076.3 187.4,1086.4" fill="none" stroke="#6a6a6a" stroke-width="1.4"/>
<circle cx="234.6" cy="1338.4" r="1.3" fill="#222"/>
<text x="215.5" y="1378.7" font-size="40" textLength="20.4" lengthAdjust="spacingAndGlyphs" stroke="#000" stroke-width="1.1" font-family="Liberation Sans, Arial, sans-serif">T</text>
<text x="498.5" y="1378.7" font-size="40" textLength="40.7" lengthAdjust="spacingAndGlyphs" stroke="#000" stroke-width="1.1" font-family="Liberation Sans, Arial, sans-serif">ST</text>
<text x="116.9" y="1182.3" font-size="40" textLength="55.2" lengthAdjust="spacingAndGlyphs" stroke="#000" stroke-width="1.1" font-family="Liberation Sans, Arial, sans-serif">IV1</text>
<rect x="93.1" y="1636" width="610.9" height="612" fill="none" stroke="#7a7a7a" stroke-width="1.6"/>
<defs><linearGradient id="gp3" x1="0" y1="1" x2="0" y2="0"><stop offset="0" stop-color="#ffff00"/><stop offset="0.5" stop-color="#00ff00"/><stop offset="1" stop-color="#0000ff"/></linearGradient></defs>
<rect x="712.6" y="1636" width="24.9" height="612" fill="url(#gp3)" stroke="#505030" stroke-width="1.2"/>
<line x1="737.5" y1="1659.9" x2="742.5" y2="1659.9" stroke="#444" stroke-width="1.3"/>
<text transform="translate(749,1665.2) scale(1,1.22)" font-size="13.6" fill="#444" stroke="#444" stroke-width="0.3" font-family="Liberation Sans, Arial, sans-serif">0.86</text>
<line x1="737.5" y1="1732.4" x2="742.5" y2="1732.4" stroke="#444" stroke-width="1.3"/>
<text transform="translate(749,1737.7) scale(1,1.22)" font-size="13.6" fill="#444" stroke="#444" stroke-width="0.3" font-family="Liberation Sans, Arial, sans-serif">0.84</text>
<line x1="737.5" y1="1805.4" x2="742.5" y2="1805.4" stroke="#444" stroke-width="1.3"/>
<text transform="translate(749,1810.7) scale(1,1.22)" font-size="13.6" fill="#444" stroke="#444" stroke-width="0.3" font-family="Liberation Sans, Arial, sans-serif">0.82</text>
<line x1="737.5" y1="1878" x2="742.5" y2="1878" stroke="#444" stroke-width="1.3"/>
<text transform="translate(749,1883.3) scale(1,1.22)" font-size="13.6" fill="#444" stroke="#444" stroke-width="0.3" font-family="Liberation Sans, Arial, sans-serif">0.80</text>
<line x1="737.5" y1="1951" x2="742.5" y2="1951" stroke="#444" stroke-width="1.3"/>
<text transform="translate(749,1956.3) scale(1,1.22)" font-size="13.6" fill="#444" stroke="#444" stroke-width="0.3" font-family="Liberation Sans, Arial, sans-serif">0.78</text>
<line x1="737.5" y1="2023.6" x2="742.5" y2="2023.6" stroke="#444" stroke-width="1.3"/>
<text transform="translate(749,2028.9) scale(1,1.22)" font-size="13.6" fill="#444" stroke="#444" stroke-width="0.3" font-family="Liberation Sans, Arial, sans-serif">0.76</text>
<line x1="737.5" y1="2096.1" x2="742.5" y2="2096.1" stroke="#444" stroke-width="1.3"/>
<text transform="translate(749,2101.4) scale(1,1.22)" font-size="13.6" fill="#444" stroke="#444" stroke-width="0.3" font-family="Liberation Sans, Arial, sans-serif">0.74</text>
<line x1="737.5" y1="2169.2" x2="742.5" y2="2169.2" stroke="#444" stroke-width="1.3"/>
<text transform="translate(749,2174.5) scale(1,1.22)" font-size="13.6" fill="#444" stroke="#444" stroke-width="0.3" font-family="Liberation Sans, Arial, sans-serif">0.72</text>
<line x1="737.5" y1="2241.7" x2="742.5" y2="2241.7" stroke="#444" stroke-width="1.3"/>
<text transform="translate(749,2247) scale(1,1.22)" font-size="13.6" fill="#444" stroke="#444" stroke-width="0.3" font-family="Liberation Sans, Arial, sans-serif">0.70</text>
<line x1="412.1" y1="1724.2" x2="410.5" y2="1941.9" stroke="#000" stroke-opacity="0.55" stroke-width="1.4" stroke-dasharray="5,4"/>
<line x1="216.1" y1="2026" x2="410.5" y2="1941.9" stroke="#000" stroke-opacity="0.55" stroke-width="1.4" stroke-dasharray="5,4"/>
<line x1="410.5" y1="1941.9" x2="580.9" y2="2043.9" stroke="#000" stroke-opacity="0.55" stroke-width="1.4" stroke-dasharray="5,4"/>
<line x1="198.2" y1="1792.5" x2="412.1" y2="1724.2" stroke="#000" stroke-opacity="0.5" stroke-width="1.6"/>
<line x1="412.1" y1="1724.2" x2="600.3" y2="1807" stroke="#000" stroke-opacity="0.5" stroke-width="1.6"/>
<line x1="600.3" y1="1807" x2="580.9" y2="2043.9" stroke="#000" stroke-opacity="0.5" stroke-width="1.6"/>
<line x1="198.2" y1="1792.5" x2="216.1" y2="2026" stroke="#000" stroke-opacity="0.5" stroke-width="1.6"/>
<line x1="216.1" y1="2026" x2="379.3" y2="2151.4" stroke="#000" stroke-opacity="0.5" stroke-width="1.6"/>
<line x1="379.3" y1="2151.4" x2="580.9" y2="2043.9" stroke="#000" stroke-opacity="0.5" stroke-width="1.6"/>
<defs><filter id="blp3" x="-5%" y="-5%" width="110%" height="110%"><feGaussianBlur stdDeviation="0.3"/></filter></defs>
<g filter="url(#blp3)" stroke-width="1.9" stroke-linejoin="round">
<path d="M409.9 1870.5L416.8 1883.5L410.9 1884.2L404 1871Z" fill="#57ff00" stroke="#226600"/>
<path d="M415.8 1869.9L422.6 1882.9L416.8 1883.5L409.9 1870.5Z" fill="#4eff00" stroke="#1f6600"/>
<path d="M402.8 1858.6L409.9 1870.5L404 1871L397 1858.9Z" fill="#32ff00" stroke="#146600"/>
<path d="M421.7 1869.4L428.6 1882.2L422.6 1882.9L415.8 1869.9Z" fill="#45ff00" stroke="#1b6600"/>
<path d="M408.7 1858.2L415.8 1869.9L409.9 1870.5L402.8 1858.6Z" fill="#2aff00" stroke="#106600"/>
<path d="M427.8 1868.9L434.6 1881.6L428.6 1882.2L421.7 1869.4Z" fill="#3cff00" stroke="#186600"/>
<path d="M395.7 1847.8L402.8 1858.6L397 1858.9L389.8 1848.1Z" fill="#11ff00" stroke="#066600"/>
<path d="M414.7 1857.7L421.7 1869.4L415.8 1869.9L408.7 1858.2Z" fill="#21ff00" stroke="#0d6600"/>
<path d="M433.9 1868.3L440.7 1880.9L434.6 1881.6L427.8 1868.9Z" fill="#33ff00" stroke="#146600"/>
<path d="M401.6 1847.5L408.7 1858.2L402.8 1858.6L395.7 1847.8Z" fill="#09ff00" stroke="#036600"/>
<path d="M420.8 1857.3L427.8 1868.9L421.7 1869.4L414.7 1857.7Z" fill="#18ff00" stroke="#096600"/>
<path d="M388.4 1838.3L395.7 1847.8L389.8 1848.1L382.5 1838.4Z" fill="#00f20d" stroke="#006005"/>
<path d="M440.1 1867.8L446.9 1880.2L440.7 1880.9L433.9 1868.3Z" fill="#29ff00" stroke="#106600"/>
<path d="M407.6 1847.3L414.7 1857.7L408.7 1858.2L401.6 1847.5Z" fill="#01ff00" stroke="#006600"/>
<path d="M426.9 1856.9L433.9 1868.3L427.8 1868.9L420.8 1857.3Z" fill="#10ff00" stroke="#066600"/>
<path d="M394.3 1838.2L401.6 1847.5L395.7 1847.8L388.4 1838.3Z" fill="#00ea15" stroke="#005d08"/>
<path d="M446.3 1867.2L453.1 1879.5L446.9 1880.2L440.1 1867.8Z" fill="#20ff00" stroke="#0c6600"/>
<path d="M413.6 1847L420.8 1857.3L414.7 1857.7L407.6 1847.3Z" fill="#00f708" stroke="#006203"/>
<path d="M380.9 1830L388.4 1838.3L382.5 1838.4L375.1 1830Z" fill="#00d728" stroke="#005610"/>
<path d="M433.1 1856.5L440.1 1867.8L433.9 1868.3L426.9 1856.9Z" fill="#07ff00" stroke="#026600"/>
<path d="M400.3 1838.1L407.6 1847.3L401.6 1847.5L394.3 1838.2Z" fill="#00e21d" stroke="#005a0b"/>
<path d="M452.6 1866.6L459.4 1878.8L453.1 1879.5L446.3 1867.2Z" fill="#17ff00" stroke="#096600"/>
<path d="M419.8 1846.8L426.9 1856.9L420.8 1857.3L413.6 1847Z" fill="#00ef10" stroke="#005f06"/>
<path d="M386.9 1830.1L394.3 1838.2L388.4 1838.3L380.9 1830Z" fill="#00d02f" stroke="#005312"/>
<path d="M373.4 1823.1L380.9 1830L375.1 1830L367.5 1822.9Z" fill="#00bf40" stroke="#004c19"/>
<path d="M439.4 1856.1L446.3 1867.2L440.1 1867.8L433.1 1856.5Z" fill="#00fe01" stroke="#006500"/>
<path d="M406.4 1838L413.6 1847L407.6 1847.3L400.3 1838.1Z" fill="#00db24" stroke="#00570e"/>
<path d="M459 1866.1L465.8 1878.1L459.4 1878.8L452.6 1866.6Z" fill="#0eff00" stroke="#056600"/>
<path d="M392.9 1830.2L400.3 1838.1L394.3 1838.2L386.9 1830.1Z" fill="#00c837" stroke="#005016"/>
<path d="M426 1846.5L433.1 1856.5L426.9 1856.9L419.8 1846.8Z" fill="#00e718" stroke="#005c09"/>
<path d="M379.3 1823.4L386.9 1830.1L380.9 1830L373.4 1823.1Z" fill="#00b847" stroke="#00491c"/>
<path d="M445.7 1855.7L452.6 1866.6L446.3 1867.2L439.4 1856.1Z" fill="#00f50a" stroke="#006204"/>
<path d="M412.5 1837.9L419.8 1846.8L413.6 1847L406.4 1838Z" fill="#00d32c" stroke="#005411"/>
<path d="M365.8 1817.6L373.4 1823.1L367.5 1822.9L359.9 1817.2Z" fill="#00ab54" stroke="#004421"/>
<path d="M465.5 1865.5L472.3 1877.4L465.8 1878.1L459 1866.1Z" fill="#05ff00" stroke="#026600"/>
<path d="M399 1830.2L406.4 1838L400.3 1838.1L392.9 1830.2Z" fill="#00c13e" stroke="#004d18"/>
<path d="M432.3 1846.2L439.4 1856.1L433.1 1856.5L426 1846.5Z" fill="#00df20" stroke="#00590c"/>
<path d="M385.3 1823.6L392.9 1830.2L386.9 1830.1L379.3 1823.4Z" fill="#00b24d" stroke="#00471e"/>
<path d="M452.1 1855.2L459 1866.1L452.6 1866.6L445.7 1855.7Z" fill="#00ec13" stroke="#005e07"/>
<path d="M418.7 1837.8L426 1846.5L419.8 1846.8L412.5 1837.9Z" fill="#00cb34" stroke="#005114"/>
<path d="M371.7 1818L379.3 1823.4L373.4 1823.1L365.8 1817.6Z" fill="#00a55a" stroke="#004224"/>
<path d="M358 1813.4L365.8 1817.6L359.9 1817.2L352.1 1812.8Z" fill="#009a65" stroke="#003d28"/>
<path d="M472.1 1864.9L478.8 1876.7L472.3 1877.4L465.5 1865.5Z" fill="#00fb04" stroke="#006401"/>
<path d="M405.1 1830.3L412.5 1837.9L406.4 1838L399 1830.2Z" fill="#00ba45" stroke="#004a1b"/>
<path d="M438.6 1845.9L445.7 1855.7L439.4 1856.1L432.3 1846.2Z" fill="#00d728" stroke="#005610"/>
<path d="M391.4 1823.8L399 1830.2L392.9 1830.2L385.3 1823.6Z" fill="#00ab54" stroke="#004421"/>
<path d="M458.6 1854.8L465.5 1865.5L459 1866.1L452.1 1855.2Z" fill="#00e41b" stroke="#005b0a"/>
<path d="M425 1837.6L432.3 1846.2L426 1846.5L418.7 1837.8Z" fill="#00c43b" stroke="#004e17"/>
<path d="M377.7 1818.4L385.3 1823.6L379.3 1823.4L371.7 1818Z" fill="#009e61" stroke="#003f26"/>
<path d="M364 1814.1L371.7 1818L365.8 1817.6L358 1813.4Z" fill="#00946b" stroke="#003b2a"/>
<path d="M478.7 1864.3L485.4 1876L478.8 1876.7L472.1 1864.9Z" fill="#00f20d" stroke="#006005"/>
<path d="M411.3 1830.4L418.7 1837.8L412.5 1837.9L405.1 1830.3Z" fill="#00b34c" stroke="#00471e"/>
<path d="M350.2 1810.7L358 1813.4L352.1 1812.8L344.3 1809.9Z" fill="#008c73" stroke="#00382e"/>
<path d="M445 1845.7L452.1 1855.2L445.7 1855.7L438.6 1845.9Z" fill="#00cf30" stroke="#005213"/>
<path d="M397.6 1824.1L405.1 1830.3L399 1830.2L391.4 1823.8Z" fill="#00a45b" stroke="#004124"/>
<path d="M431.4 1837.5L438.6 1845.9L432.3 1846.2L425 1837.6Z" fill="#00bc43" stroke="#004b1a"/>
<path d="M465.2 1854.3L472.1 1864.9L465.5 1865.5L458.6 1854.8Z" fill="#00db24" stroke="#00570e"/>
<path d="M383.8 1818.9L391.4 1823.8L385.3 1823.6L377.7 1818.4Z" fill="#009867" stroke="#003c29"/>
<path d="M370 1814.7L377.7 1818.4L371.7 1818L364 1814.1Z" fill="#008e71" stroke="#00382d"/>
<path d="M356.2 1811.6L364 1814.1L358 1813.4L350.2 1810.7Z" fill="#008778" stroke="#003630"/>
<path d="M417.6 1830.4L425 1837.6L418.7 1837.8L411.3 1830.4Z" fill="#00ac53" stroke="#004421"/>
<path d="M342.3 1809.5L350.2 1810.7L344.3 1809.9L336.5 1808.5Z" fill="#00817e" stroke="#003332"/>
<path d="M485.5 1863.7L492.1 1875.2L485.4 1876L478.7 1864.3Z" fill="#00e916" stroke="#005d08"/>
<path d="M451.5 1845.4L458.6 1854.8L452.1 1855.2L445 1845.7Z" fill="#00c738" stroke="#004f16"/>
<path d="M403.8 1824.3L411.3 1830.4L405.1 1830.3L397.6 1824.1Z" fill="#009e61" stroke="#003f26"/>
<path d="M389.9 1819.3L397.6 1824.1L391.4 1823.8L383.8 1818.9Z" fill="#00926d" stroke="#003a2b"/>
<path d="M437.8 1837.4L445 1845.7L438.6 1845.9L431.4 1837.5Z" fill="#00b44b" stroke="#00481e"/>
<path d="M471.9 1853.9L478.7 1864.3L472.1 1864.9L465.2 1854.3Z" fill="#00d22d" stroke="#005412"/>
<path d="M376.1 1815.3L383.8 1818.9L377.7 1818.4L370 1814.7Z" fill="#008976" stroke="#00362f"/>
<path d="M362.2 1812.4L370 1814.7L364 1814.1L356.2 1811.6Z" fill="#00817e" stroke="#003332"/>
<path d="M334.4 1809.8L342.3 1809.5L336.5 1808.5L328.5 1808.5Z" fill="#007a85" stroke="#003035"/>
<path d="M348.3 1810.6L356.2 1811.6L350.2 1810.7L342.3 1809.5Z" fill="#007d82" stroke="#003234"/>
<path d="M424 1830.5L431.4 1837.5L425 1837.6L417.6 1830.4Z" fill="#00a45b" stroke="#004124"/>
<path d="M492.3 1863.1L498.9 1874.5L492.1 1875.2L485.5 1863.7Z" fill="#00e01f" stroke="#00590c"/>
<path d="M458.1 1845.1L465.2 1854.3L458.6 1854.8L451.5 1845.4Z" fill="#00be41" stroke="#004c1a"/>
<path d="M410.1 1824.6L417.6 1830.4L411.3 1830.4L403.8 1824.3Z" fill="#009768" stroke="#003c29"/>
<path d="M396.2 1819.7L403.8 1824.3L397.6 1824.1L389.9 1819.3Z" fill="#008c73" stroke="#00382e"/>
<path d="M444.3 1837.3L451.5 1845.4L445 1845.7L437.8 1837.4Z" fill="#00ad52" stroke="#004520"/>
<path d="M478.6 1853.4L485.5 1863.7L478.7 1864.3L471.9 1853.9Z" fill="#00ca35" stroke="#005015"/>
<path d="M326.4 1811.6L334.4 1809.8L328.5 1808.5L320.6 1810.1Z" fill="#007689" stroke="#002f36"/>
<path d="M382.2 1816L389.9 1819.3L383.8 1818.9L376.1 1815.3Z" fill="#00837c" stroke="#003431"/>
<path d="M340.3 1811L348.3 1810.6L342.3 1809.5L334.4 1809.8Z" fill="#007689" stroke="#002f36"/>
<path d="M368.2 1813.3L376.1 1815.3L370 1814.7L362.2 1812.4Z" fill="#007c83" stroke="#003134"/>
<path d="M354.3 1811.6L362.2 1812.4L356.2 1811.6L348.3 1810.6Z" fill="#007887" stroke="#003036"/>
<path d="M430.4 1830.6L437.8 1837.4L431.4 1837.5L424 1830.5Z" fill="#009d62" stroke="#003e27"/>
<path d="M499.2 1862.5L505.8 1873.7L498.9 1874.5L492.3 1863.1Z" fill="#00d629" stroke="#005510"/>
<path d="M464.8 1844.8L471.9 1853.9L465.2 1854.3L458.1 1845.1Z" fill="#00b649" stroke="#00481d"/>
<path d="M218.9 1995.8L225.9 1973.5L220.4 1968.4L213.4 1990.5Z" fill="#97ff00" stroke="#3c6600"/>
<path d="M416.5 1824.8L424 1830.5L417.6 1830.4L410.1 1824.6Z" fill="#00906f" stroke="#00392c"/>
<path d="M318.5 1814.9L326.4 1811.6L320.6 1810.1L312.6 1813.1Z" fill="#00758a" stroke="#002e37"/>
<path d="M402.5 1820.2L410.1 1824.6L403.8 1824.3L396.2 1819.7Z" fill="#00857a" stroke="#003530"/>
<path d="M332.4 1813.1L340.3 1811L334.4 1809.8L326.4 1811.6Z" fill="#00728d" stroke="#002d38"/>
<path d="M450.9 1837.2L458.1 1845.1L451.5 1845.4L444.3 1837.3Z" fill="#00a55a" stroke="#004224"/>
<path d="M388.4 1816.6L396.2 1819.7L389.9 1819.3L382.2 1816Z" fill="#007d82" stroke="#003234"/>
<path d="M485.4 1853L492.3 1863.1L485.5 1863.7L478.6 1853.4Z" fill="#00c13e" stroke="#004d18"/>
<path d="M346.3 1812.3L354.3 1811.6L348.3 1810.6L340.3 1811Z" fill="#00728d" stroke="#002d38"/>
<path d="M374.4 1814.1L382.2 1816L376.1 1815.3L368.2 1813.3Z" fill="#007788" stroke="#002f36"/>
<path d="M360.3 1812.7L368.2 1813.3L362.2 1812.4L354.3 1811.6Z" fill="#00738c" stroke="#002e38"/>
<path d="M225.9 1973.5L233.1 1952.4L227.5 1947.6L220.4 1968.4Z" fill="#6dff00" stroke="#2b6600"/>
<path d="M224.4 2001.2L231.5 1978.6L225.9 1973.5L218.9 1995.8Z" fill="#9aff00" stroke="#3d6600"/>
<path d="M436.9 1830.6L444.3 1837.3L437.8 1837.4L430.4 1830.6Z" fill="#009669" stroke="#003c2a"/>
<path d="M310.5 1819.8L318.5 1814.9L312.6 1813.1L304.6 1817.8Z" fill="#007887" stroke="#003036"/>
<path d="M471.5 1844.5L478.6 1853.4L471.9 1853.9L464.8 1844.8Z" fill="#00ae51" stroke="#004520"/>
<path d="M506.1 1861.8L512.8 1872.9L505.8 1873.7L499.2 1862.5Z" fill="#00cd32" stroke="#005214"/>
<path d="M422.9 1825.1L430.4 1830.6L424 1830.5L416.5 1824.8Z" fill="#008a75" stroke="#00372e"/>
<path d="M324.4 1816.7L332.4 1813.1L326.4 1811.6L318.5 1814.9Z" fill="#00728d" stroke="#002d38"/>
<path d="M233.1 1952.4L240.4 1932.6L234.8 1928.1L227.5 1947.6Z" fill="#46ff00" stroke="#1c6600"/>
<path d="M408.8 1820.6L416.5 1824.8L410.1 1824.6L402.5 1820.2Z" fill="#007f80" stroke="#003233"/>
<path d="M302.5 1826.2L310.5 1819.8L304.6 1817.8L296.7 1823.9Z" fill="#007e81" stroke="#003233"/>
<path d="M338.3 1814.6L346.3 1812.3L340.3 1811L332.4 1813.1Z" fill="#006f90" stroke="#002c39"/>
<path d="M231.5 1978.6L238.7 1957.2L233.1 1952.4L225.9 1973.5Z" fill="#6fff00" stroke="#2c6600"/>
<path d="M230 2006.6L237.1 1983.7L231.5 1978.6L224.4 2001.2Z" fill="#9cff00" stroke="#3e6600"/>
<path d="M457.6 1837.1L464.8 1844.8L458.1 1845.1L450.9 1837.2Z" fill="#009d62" stroke="#003e27"/>
<path d="M394.7 1817.3L402.5 1820.2L396.2 1819.7L388.4 1816.6Z" fill="#007788" stroke="#002f36"/>
<path d="M352.4 1813.7L360.3 1812.7L354.3 1811.6L346.3 1812.3Z" fill="#006d92" stroke="#002b3a"/>
<path d="M380.6 1815L388.4 1816.6L382.2 1816L374.4 1814.1Z" fill="#00728d" stroke="#002d38"/>
<path d="M366.5 1813.8L374.4 1814.1L368.2 1813.3L360.3 1812.7Z" fill="#006e91" stroke="#002c3a"/>
<path d="M492.3 1852.5L499.2 1862.5L492.3 1863.1L485.4 1853Z" fill="#00b847" stroke="#00491c"/>
<path d="M240.4 1932.6L247.8 1914.2L242.2 1910L234.8 1928.1Z" fill="#23ff00" stroke="#0e6600"/>
<path d="M316.3 1821.8L324.4 1816.7L318.5 1814.9L310.5 1819.8Z" fill="#00758a" stroke="#002e37"/>
<path d="M294.5 1834.2L302.5 1826.2L296.7 1823.9L288.7 1831.7Z" fill="#008778" stroke="#003630"/>
<path d="M443.5 1830.7L450.9 1837.2L444.3 1837.3L436.9 1830.6Z" fill="#008f70" stroke="#00392c"/>
<path d="M238.7 1957.2L246 1937.1L240.4 1932.6L233.1 1952.4Z" fill="#48ff00" stroke="#1c6600"/>
<path d="M247.8 1914.2L255.4 1897.1L249.7 1893.2L242.2 1910Z" fill="#03ff00" stroke="#016600"/>
<path d="M330.3 1818.4L338.3 1814.6L332.4 1813.1L324.4 1816.7Z" fill="#006f90" stroke="#002c39"/>
<path d="M286.5 1843.7L294.5 1834.2L288.7 1831.7L280.8 1840.9Z" fill="#00936c" stroke="#003a2b"/>
<path d="M478.4 1844.2L485.4 1853L478.6 1853.4L471.5 1844.5Z" fill="#00a659" stroke="#004223"/>
<path d="M237.1 1983.7L244.4 1962.1L238.7 1957.2L231.5 1978.6Z" fill="#72ff00" stroke="#2d6600"/>
<path d="M429.4 1825.4L436.9 1830.6L430.4 1830.6L422.9 1825.1Z" fill="#00837c" stroke="#003431"/>
<path d="M235.7 2012.1L242.8 1988.9L237.1 1983.7L230 2006.6Z" fill="#9fff00" stroke="#3f6600"/>
<path d="M513.2 1861.2L519.8 1872.2L512.8 1872.9L506.1 1861.8Z" fill="#00c43b" stroke="#004e17"/>
<path d="M255.4 1897.1L263.1 1881.6L257.4 1877.9L249.7 1893.2Z" fill="#00e51a" stroke="#005b0a"/>
<path d="M308.3 1828.5L316.3 1821.8L310.5 1819.8L302.5 1826.2Z" fill="#007b84" stroke="#003134"/>
<path d="M278.6 1854.8L286.5 1843.7L280.8 1840.9L272.9 1851.8Z" fill="#00a35c" stroke="#004124"/>
<path d="M344.4 1816.2L352.4 1813.7L346.3 1812.3L338.3 1814.6Z" fill="#006b94" stroke="#002a3b"/>
<path d="M263.1 1881.6L270.8 1867.4L265.1 1864.1L257.4 1877.9Z" fill="#00cc33" stroke="#005114"/>
<path d="M270.8 1867.4L278.6 1854.8L272.9 1851.8L265.1 1864.1Z" fill="#00b649" stroke="#00481d"/>
<path d="M415.3 1821.1L422.9 1825.1L416.5 1824.8L408.8 1820.6Z" fill="#007986" stroke="#003035"/>
<path d="M246 1937.1L253.5 1918.4L247.8 1914.2L240.4 1932.6Z" fill="#25ff00" stroke="#0e6600"/>
<path d="M358.5 1815L366.5 1813.8L360.3 1812.7L352.4 1813.7Z" fill="#006996" stroke="#002a3c"/>
<path d="M401.1 1817.9L408.8 1820.6L402.5 1820.2L394.7 1817.3Z" fill="#00728d" stroke="#002d38"/>
<path d="M372.7 1814.9L380.6 1815L374.4 1814.1L366.5 1813.8Z" fill="#006996" stroke="#002a3c"/>
<path d="M464.3 1837L471.5 1844.5L464.8 1844.8L457.6 1837.1Z" fill="#009669" stroke="#003c2a"/>
<path d="M386.9 1815.9L394.7 1817.3L388.4 1816.6L380.6 1815Z" fill="#006c93" stroke="#002b3a"/>
<path d="M300.3 1836.8L308.3 1828.5L302.5 1826.2L294.5 1834.2Z" fill="#00857a" stroke="#003530"/>
<path d="M322.3 1823.8L330.3 1818.4L324.4 1816.7L316.3 1821.8Z" fill="#00728d" stroke="#002d38"/>
<path d="M244.4 1962.1L251.7 1941.7L246 1937.1L238.7 1957.2Z" fill="#4aff00" stroke="#1d6600"/>
<path d="M499.3 1852L506.1 1861.8L499.2 1862.5L492.3 1852.5Z" fill="#00b04f" stroke="#00461f"/>
<path d="M253.5 1918.4L261.1 1901.1L255.4 1897.1L247.8 1914.2Z" fill="#04ff00" stroke="#016600"/>
<path d="M242.8 1988.9L250.1 1967L244.4 1962.1L237.1 1983.7Z" fill="#74ff00" stroke="#2e6600"/>
<path d="M241.3 2017.6L248.5 1994.1L242.8 1988.9L235.7 2012.1Z" fill="#a2ff00" stroke="#406600"/>
<path d="M450.2 1830.8L457.6 1837.1L450.9 1837.2L443.5 1830.7Z" fill="#008877" stroke="#00362f"/>
<path d="M292.4 1846.6L300.3 1836.8L294.5 1834.2L286.5 1843.7Z" fill="#00926d" stroke="#003a2b"/>
<path d="M336.4 1820.2L344.4 1816.2L338.3 1814.6L330.3 1818.4Z" fill="#006b94" stroke="#002a3b"/>
<path d="M261.1 1901.1L268.8 1885.2L263.1 1881.6L255.4 1897.1Z" fill="#00e619" stroke="#005c0a"/>
<path d="M284.4 1857.9L292.4 1846.6L286.5 1843.7L278.6 1854.8Z" fill="#00a25d" stroke="#004025"/>
<path d="M314.3 1830.8L322.3 1823.8L316.3 1821.8L308.3 1828.5Z" fill="#007986" stroke="#003035"/>
<path d="M268.8 1885.2L276.6 1870.8L270.8 1867.4L263.1 1881.6Z" fill="#00cc33" stroke="#005114"/>
<path d="M436 1825.6L443.5 1830.7L436.9 1830.6L429.4 1825.4Z" fill="#007c83" stroke="#003134"/>
<path d="M276.6 1870.8L284.4 1857.9L278.6 1854.8L270.8 1867.4Z" fill="#00b54a" stroke="#00481d"/>
<path d="M251.7 1941.7L259.3 1922.7L253.5 1918.4L246 1937.1Z" fill="#26ff00" stroke="#0f6600"/>
<path d="M485.3 1843.9L492.3 1852.5L485.4 1853L478.4 1844.2Z" fill="#009e61" stroke="#003f26"/>
<path d="M350.5 1817.7L358.5 1815L352.4 1813.7L344.4 1816.2Z" fill="#006798" stroke="#00293c"/>
<path d="M520.4 1860.6L527 1871.4L519.8 1872.2L513.2 1861.2Z" fill="#00bb44" stroke="#004a1b"/>
<path d="M421.8 1821.6L429.4 1825.4L422.9 1825.1L415.3 1821.1Z" fill="#00738c" stroke="#002e38"/>
<path d="M364.7 1816.3L372.7 1814.9L366.5 1813.8L358.5 1815Z" fill="#00659a" stroke="#00283d"/>
<path d="M250.1 1967L257.5 1946.3L251.7 1941.7L244.4 1962.1Z" fill="#4cff00" stroke="#1e6600"/>
<path d="M407.5 1818.6L415.3 1821.1L408.8 1820.6L401.1 1817.9Z" fill="#006c93" stroke="#002b3a"/>
<path d="M306.2 1839.3L314.3 1830.8L308.3 1828.5L300.3 1836.8Z" fill="#00837c" stroke="#003431"/>
<path d="M379 1816L386.9 1815.9L380.6 1815L372.7 1814.9Z" fill="#00659a" stroke="#00283d"/>
<path d="M393.2 1816.7L401.1 1817.9L394.7 1817.3L386.9 1815.9Z" fill="#006798" stroke="#00293c"/>
<path d="M259.3 1922.7L266.9 1905.1L261.1 1901.1L253.5 1918.4Z" fill="#05ff00" stroke="#026600"/>
<path d="M328.3 1825.9L336.4 1820.2L330.3 1818.4L322.3 1823.8Z" fill="#006f90" stroke="#002c39"/>
<path d="M248.5 1994.1L255.8 1971.9L250.1 1967L242.8 1988.9Z" fill="#77ff00" stroke="#2f6600"/>
<path d="M247.1 2023.2L254.3 1999.4L248.5 1994.1L241.3 2017.6Z" fill="#a5ff00" stroke="#426600"/>
<path d="M471.2 1836.8L478.4 1844.2L471.5 1844.5L464.3 1837Z" fill="#008e71" stroke="#00382d"/>
<path d="M298.3 1849.4L306.2 1839.3L300.3 1836.8L292.4 1846.6Z" fill="#00906f" stroke="#00392c"/>
<path d="M266.9 1905.1L274.6 1888.9L268.8 1885.2L261.1 1901.1Z" fill="#00e619" stroke="#005c0a"/>
<path d="M506.4 1851.6L513.2 1861.2L506.1 1861.8L499.3 1852Z" fill="#00a758" stroke="#004223"/>
<path d="M342.4 1822.1L350.5 1817.7L344.4 1816.2L336.4 1820.2Z" fill="#006897" stroke="#00293c"/>
<path d="M457 1830.8L464.3 1837L457.6 1837.1L450.2 1830.8Z" fill="#00817e" stroke="#003332"/>
<path d="M257.5 1946.3L265 1927L259.3 1922.7L251.7 1941.7Z" fill="#27ff00" stroke="#0f6600"/>
<path d="M290.3 1861.1L298.3 1849.4L292.4 1846.6L284.4 1857.9Z" fill="#00a15e" stroke="#004025"/>
<path d="M274.6 1888.9L282.4 1874.3L276.6 1870.8L268.8 1885.2Z" fill="#00cc33" stroke="#005114"/>
<path d="M282.4 1874.3L290.3 1861.1L284.4 1857.9L276.6 1870.8Z" fill="#00b54a" stroke="#00481d"/>
<path d="M320.3 1833.1L328.3 1825.9L322.3 1823.8L314.3 1830.8Z" fill="#007788" stroke="#002f36"/>
<path d="M356.7 1819.3L364.7 1816.3L358.5 1815L350.5 1817.7Z" fill="#00639c" stroke="#00273e"/>
<path d="M442.7 1825.9L450.2 1830.8L443.5 1830.7L436 1825.6Z" fill="#00758a" stroke="#002e37"/>
<path d="M255.8 1971.9L263.3 1951L257.5 1946.3L250.1 1967Z" fill="#4eff00" stroke="#1f6600"/>
<path d="M492.3 1843.6L499.3 1852L492.3 1852.5L485.3 1843.9Z" fill="#009669" stroke="#003c2a"/>
<path d="M252.9 2028.8L260.1 2004.7L254.3 1999.4L247.1 2023.2Z" fill="#a8ff00" stroke="#436600"/>
<path d="M265 1927L272.7 1909.1L266.9 1905.1L259.3 1922.7Z" fill="#06ff00" stroke="#026600"/>
<path d="M254.3 1999.4L261.7 1976.9L255.8 1971.9L248.5 1994.1Z" fill="#79ff00" stroke="#306600"/>
<path d="M371 1817.7L379 1816L372.7 1814.9L364.7 1816.3Z" fill="#00609f" stroke="#00263f"/>
<path d="M527.6 1859.9L534.2 1870.6L527 1871.4L520.4 1860.6Z" fill="#00b24d" stroke="#00471e"/>
<path d="M312.2 1841.9L320.3 1833.1L314.3 1830.8L306.2 1839.3Z" fill="#00817e" stroke="#003332"/>
<path d="M428.4 1822L436 1825.6L429.4 1825.4L421.8 1821.6Z" fill="#006d92" stroke="#002b3a"/>
<path d="M334.4 1828L342.4 1822.1L336.4 1820.2L328.3 1825.9Z" fill="#006d92" stroke="#002b3a"/>
<path d="M385.3 1817.1L393.2 1816.7L386.9 1815.9L379 1816Z" fill="#00609f" stroke="#00263f"/>
<path d="M414 1819.3L421.8 1821.6L415.3 1821.1L407.5 1818.6Z" fill="#006699" stroke="#00283d"/>
<path d="M399.7 1817.6L407.5 1818.6L401.1 1817.9L393.2 1816.7Z" fill="#00629d" stroke="#00273e"/>
<path d="M272.7 1909.1L280.5 1892.7L274.6 1888.9L266.9 1905.1Z" fill="#00e718" stroke="#005c09"/>
<path d="M304.2 1852.3L312.2 1841.9L306.2 1839.3L298.3 1849.4Z" fill="#008f70" stroke="#00392c"/>
<path d="M478.1 1836.7L485.3 1843.9L478.4 1844.2L471.2 1836.8Z" fill="#008679" stroke="#003530"/>
<path d="M263.3 1951L270.9 1931.4L265 1927L257.5 1946.3Z" fill="#29ff00" stroke="#106600"/>
<path d="M280.5 1892.7L288.3 1877.7L282.4 1874.3L274.6 1888.9Z" fill="#00cc33" stroke="#005114"/>
<path d="M296.2 1864.3L304.2 1852.3L298.3 1849.4L290.3 1861.1Z" fill="#00a05f" stroke="#004026"/>
<path d="M348.6 1823.9L356.7 1819.3L350.5 1817.7L342.4 1822.1Z" fill="#00659a" stroke="#00283d"/>
<path d="M288.3 1877.7L296.2 1864.3L290.3 1861.1L282.4 1874.3Z" fill="#00b44b" stroke="#00481e"/>
<path d="M513.6 1851.1L520.4 1860.6L513.2 1861.2L506.4 1851.6Z" fill="#009f60" stroke="#003f26"/>
<path d="M326.3 1835.5L334.4 1828L328.3 1825.9L320.3 1833.1Z" fill="#00748b" stroke="#002e37"/>
<path d="M261.7 1976.9L269.2 1955.7L263.3 1951L255.8 1971.9Z" fill="#50ff00" stroke="#206600"/>
<path d="M463.8 1830.9L471.2 1836.8L464.3 1837L457 1830.8Z" fill="#007986" stroke="#003035"/>
<path d="M258.7 2034.4L266 2010.1L260.1 2004.7L252.9 2028.8Z" fill="#abff00" stroke="#446600"/>
<path d="M260.1 2004.7L267.5 1981.9L261.7 1976.9L254.3 1999.4Z" fill="#7bff00" stroke="#316600"/>
<path d="M362.9 1820.9L371 1817.7L364.7 1816.3L356.7 1819.3Z" fill="#005fa0" stroke="#002640"/>
<path d="M270.9 1931.4L278.6 1913.2L272.7 1909.1L265 1927Z" fill="#07ff00" stroke="#026600"/>
<path d="M449.4 1826.2L457 1830.8L450.2 1830.8L442.7 1825.9Z" fill="#006f90" stroke="#002c39"/>
<path d="M318.2 1844.6L326.3 1835.5L320.3 1833.1L312.2 1841.9Z" fill="#007f80" stroke="#003233"/>
<path d="M377.3 1819L385.3 1817.1L379 1816L371 1817.7Z" fill="#005ca3" stroke="#002441"/>
<path d="M499.4 1843.3L506.4 1851.6L499.3 1852L492.3 1843.6Z" fill="#008d72" stroke="#00382d"/>
<path d="M340.5 1830.1L348.6 1823.9L342.4 1822.1L334.4 1828Z" fill="#006a95" stroke="#002a3b"/>
<path d="M435 1822.5L442.7 1825.9L436 1825.6L428.4 1822Z" fill="#006699" stroke="#00283d"/>
<path d="M278.6 1913.2L286.4 1896.5L280.5 1892.7L272.7 1909.1Z" fill="#00e718" stroke="#005c09"/>
<path d="M391.7 1818.2L399.7 1817.6L393.2 1816.7L385.3 1817.1Z" fill="#005ba4" stroke="#002441"/>
<path d="M269.2 1955.7L276.8 1935.8L270.9 1931.4L263.3 1951Z" fill="#2aff00" stroke="#106600"/>
<path d="M535 1859.3L541.5 1869.8L534.2 1870.6L527.6 1859.9Z" fill="#00a956" stroke="#004322"/>
<path d="M420.6 1820L428.4 1822L421.8 1821.6L414 1819.3Z" fill="#00609f" stroke="#00263f"/>
<path d="M310.2 1855.2L318.2 1844.6L312.2 1841.9L304.2 1852.3Z" fill="#008e71" stroke="#00382d"/>
<path d="M406.1 1818.6L414 1819.3L407.5 1818.6L399.7 1817.6Z" fill="#005da2" stroke="#002540"/>
<path d="M286.4 1896.5L294.2 1881.2L288.3 1877.7L280.5 1892.7Z" fill="#00cc33" stroke="#005114"/>
<path d="M302.2 1867.5L310.2 1855.2L304.2 1852.3L296.2 1864.3Z" fill="#009f60" stroke="#003f26"/>
<path d="M294.2 1881.2L302.2 1867.5L296.2 1864.3L288.3 1877.7Z" fill="#00b44b" stroke="#00481e"/>
<path d="M267.5 1981.9L275.1 1960.4L269.2 1955.7L261.7 1976.9Z" fill="#52ff00" stroke="#206600"/>
<path d="M485.1 1836.6L492.3 1843.6L485.3 1843.9L478.1 1836.7Z" fill="#007f80" stroke="#003233"/>
<path d="M354.8 1825.8L362.9 1820.9L356.7 1819.3L348.6 1823.9Z" fill="#00619e" stroke="#00263f"/>
<path d="M264.6 2040.1L271.9 2015.5L266 2010.1L258.7 2034.4Z" fill="#aeff00" stroke="#456600"/>
<path d="M266 2010.1L273.4 1987L267.5 1981.9L260.1 2004.7Z" fill="#7eff00" stroke="#326600"/>
<path d="M332.4 1837.9L340.5 1830.1L334.4 1828L326.3 1835.5Z" fill="#00728d" stroke="#002d38"/>
<path d="M276.8 1935.8L284.5 1917.3L278.6 1913.2L270.9 1931.4Z" fill="#08ff00" stroke="#036600"/>
<path d="M520.8 1850.6L527.6 1859.9L520.4 1860.6L513.6 1851.1Z" fill="#009669" stroke="#003c2a"/>
<path d="M470.7 1831L478.1 1836.7L471.2 1836.8L463.8 1830.9Z" fill="#00728d" stroke="#002d38"/>
<path d="M369.2 1822.5L377.3 1819L371 1817.7L362.9 1820.9Z" fill="#005ba4" stroke="#002441"/>
<path d="M324.3 1847.2L332.4 1837.9L326.3 1835.5L318.2 1844.6Z" fill="#007d82" stroke="#003234"/>
<path d="M284.5 1917.3L292.3 1900.3L286.4 1896.5L278.6 1913.2Z" fill="#00e817" stroke="#005c09"/>
<path d="M275.1 1960.4L282.7 1940.2L276.8 1935.8L269.2 1955.7Z" fill="#2cff00" stroke="#116600"/>
<path d="M456.3 1826.4L463.8 1830.9L457 1830.8L449.4 1826.2Z" fill="#006897" stroke="#00293c"/>
<path d="M383.7 1820.4L391.7 1818.2L385.3 1817.1L377.3 1819Z" fill="#0058a7" stroke="#002342"/>
<path d="M346.7 1832.2L354.8 1825.8L348.6 1823.9L340.5 1830.1Z" fill="#006798" stroke="#00293c"/>
<path d="M316.3 1858.2L324.3 1847.2L318.2 1844.6L310.2 1855.2Z" fill="#008c73" stroke="#00382e"/>
<path d="M292.3 1900.3L300.2 1884.7L294.2 1881.2L286.4 1896.5Z" fill="#00cc33" stroke="#005114"/>
<path d="M441.8 1823L449.4 1826.2L442.7 1825.9L435 1822.5Z" fill="#00609f" stroke="#00263f"/>
<path d="M398.2 1819.4L406.1 1818.6L399.7 1817.6L391.7 1818.2Z" fill="#0056a9" stroke="#002243"/>
<path d="M506.6 1843L513.6 1851.1L506.4 1851.6L499.4 1843.3Z" fill="#00857a" stroke="#003530"/>
<path d="M273.4 1987L281 1965.2L275.1 1960.4L267.5 1981.9Z" fill="#54ff00" stroke="#216600"/>
<path d="M270.5 2045.9L277.9 2021L271.9 2015.5L264.6 2040.1Z" fill="#b1ff00" stroke="#466600"/>
<path d="M308.2 1870.7L316.3 1858.2L310.2 1855.2L302.2 1867.5Z" fill="#009e61" stroke="#003f26"/>
<path d="M427.3 1820.7L435 1822.5L428.4 1822L420.6 1820Z" fill="#005ba4" stroke="#002441"/>
<path d="M412.7 1819.5L420.6 1820L414 1819.3L406.1 1818.6Z" fill="#0057a8" stroke="#002243"/>
<path d="M300.2 1884.7L308.2 1870.7L302.2 1867.5L294.2 1881.2Z" fill="#00b34c" stroke="#00471e"/>
<path d="M271.9 2015.5L279.4 1992.1L273.4 1987L266 2010.1Z" fill="#80ff00" stroke="#336600"/>
<path d="M542.4 1858.6L549 1869L541.5 1869.8L535 1859.3Z" fill="#00a05f" stroke="#004026"/>
<path d="M361.1 1827.7L369.2 1822.5L362.9 1820.9L354.8 1825.8Z" fill="#005ea1" stroke="#002540"/>
<path d="M282.7 1940.2L290.5 1921.5L284.5 1917.3L276.8 1935.8Z" fill="#09ff00" stroke="#036600"/>
<path d="M338.6 1840.3L346.7 1832.2L340.5 1830.1L332.4 1837.9Z" fill="#006f90" stroke="#002c39"/>
<path d="M492.2 1836.5L499.4 1843.3L492.3 1843.6L485.1 1836.6Z" fill="#007788" stroke="#002f36"/>
<path d="M375.6 1824.2L383.7 1820.4L377.3 1819L369.2 1822.5Z" fill="#0058a7" stroke="#002342"/>
<path d="M290.5 1921.5L298.4 1904.1L292.3 1900.3L284.5 1917.3Z" fill="#00e817" stroke="#005c09"/>
<path d="M330.5 1849.9L338.6 1840.3L332.4 1837.9L324.3 1847.2Z" fill="#007b84" stroke="#003134"/>
<path d="M281 1965.2L288.7 1944.7L282.7 1940.2L275.1 1960.4Z" fill="#2dff00" stroke="#126600"/>
<path d="M477.7 1831L485.1 1836.6L478.1 1836.7L470.7 1831Z" fill="#006b94" stroke="#002a3b"/>
<path d="M528.2 1850.1L535 1859.3L527.6 1859.9L520.8 1850.6Z" fill="#008d72" stroke="#00382d"/>
<path d="M353 1834.4L361.1 1827.7L354.8 1825.8L346.7 1832.2Z" fill="#00649b" stroke="#00283e"/>
<path d="M276.5 2051.7L283.9 2026.5L277.9 2021L270.5 2045.9Z" fill="#b3ff00" stroke="#476600"/>
<path d="M279.4 1992.1L287 1970L281 1965.2L273.4 1987Z" fill="#56ff00" stroke="#226600"/>
<path d="M298.4 1904.1L306.3 1888.3L300.2 1884.7L292.3 1900.3Z" fill="#00cc33" stroke="#005114"/>
<path d="M390.2 1821.8L398.2 1819.4L391.7 1818.2L383.7 1820.4Z" fill="#0053ac" stroke="#002144"/>
<path d="M322.4 1861.2L330.5 1849.9L324.3 1847.2L316.3 1858.2Z" fill="#008b74" stroke="#00372e"/>
<path d="M277.9 2021L285.4 1997.3L279.4 1992.1L271.9 2015.5Z" fill="#82ff00" stroke="#346600"/>
<path d="M463.2 1826.7L470.7 1831L463.8 1830.9L456.3 1826.4Z" fill="#00619e" stroke="#00263f"/>
<path d="M306.3 1888.3L314.3 1873.9L308.2 1870.7L300.2 1884.7Z" fill="#00b34c" stroke="#00471e"/>
<path d="M314.3 1873.9L322.4 1861.2L316.3 1858.2L308.2 1870.7Z" fill="#009d62" stroke="#003e27"/>
<path d="M404.7 1820.6L412.7 1819.5L406.1 1818.6L398.2 1819.4Z" fill="#0052ad" stroke="#002045"/>
<path d="M448.6 1823.5L456.3 1826.4L449.4 1826.2L441.8 1823Z" fill="#005aa5" stroke="#002442"/>
<path d="M288.7 1944.7L296.5 1925.7L290.5 1921.5L282.7 1940.2Z" fill="#0aff00" stroke="#046600"/>
<path d="M419.4 1820.4L427.3 1820.7L420.6 1820L412.7 1819.5Z" fill="#0052ad" stroke="#002045"/>
<path d="M434 1821.4L441.8 1823L435 1822.5L427.3 1820.7Z" fill="#0055aa" stroke="#002244"/>
<path d="M513.8 1842.7L520.8 1850.6L513.6 1851.1L506.6 1843Z" fill="#007d82" stroke="#003234"/>
<path d="M367.5 1829.6L375.6 1824.2L369.2 1822.5L361.1 1827.7Z" fill="#005ba4" stroke="#002441"/>
<path d="M344.8 1842.7L353 1834.4L346.7 1832.2L338.6 1840.3Z" fill="#006d92" stroke="#002b3a"/>
<path d="M549.9 1857.9L556.5 1868.1L549 1869L542.4 1858.6Z" fill="#009768" stroke="#003c29"/>
<path d="M287 1970L294.8 1949.3L288.7 1944.7L281 1965.2Z" fill="#2fff00" stroke="#126600"/>
<path d="M296.5 1925.7L304.4 1908L298.4 1904.1L290.5 1921.5Z" fill="#00e916" stroke="#005d08"/>
<path d="M499.4 1836.3L506.6 1843L499.4 1843.3L492.2 1836.5Z" fill="#006f90" stroke="#002c39"/>
<path d="M336.7 1852.6L344.8 1842.7L338.6 1840.3L330.5 1849.9Z" fill="#007a85" stroke="#003035"/>
<path d="M282.5 2057.5L290 2032L283.9 2026.5L276.5 2051.7Z" fill="#b6ff00" stroke="#486600"/>
<path d="M382.1 1825.8L390.2 1821.8L383.7 1820.4L375.6 1824.2Z" fill="#0054ab" stroke="#002144"/>
<path d="M285.4 1997.3L293.1 1974.9L287 1970L279.4 1992.1Z" fill="#58ff00" stroke="#236600"/>
<path d="M283.9 2026.5L291.5 2002.5L285.4 1997.3L277.9 2021Z" fill="#85ff00" stroke="#356600"/>
<path d="M304.4 1908L312.4 1891.9L306.3 1888.3L298.4 1904.1Z" fill="#00cc33" stroke="#005114"/>
<path d="M328.6 1864.2L336.7 1852.6L330.5 1849.9L322.4 1861.2Z" fill="#008976" stroke="#00362f"/>
<path d="M359.3 1836.6L367.5 1829.6L361.1 1827.7L353 1834.4Z" fill="#00619e" stroke="#00263f"/>
<path d="M484.8 1831.1L492.2 1836.5L485.1 1836.6L477.7 1831Z" fill="#00649b" stroke="#00283e"/>
<path d="M312.4 1891.9L320.5 1877.2L314.3 1873.9L306.3 1888.3Z" fill="#00b24d" stroke="#00471e"/>
<path d="M320.5 1877.2L328.6 1864.2L322.4 1861.2L314.3 1873.9Z" fill="#009c63" stroke="#003e27"/>
<path d="M396.7 1823.2L404.7 1820.6L398.2 1819.4L390.2 1821.8Z" fill="#004fb0" stroke="#001f46"/>
<path d="M535.6 1849.6L542.4 1858.6L535 1859.3L528.2 1850.1Z" fill="#00857a" stroke="#003530"/>
<path d="M294.8 1949.3L302.6 1929.9L296.5 1925.7L288.7 1944.7Z" fill="#0bff00" stroke="#046600"/>
<path d="M470.2 1827L477.7 1831L470.7 1831L463.2 1826.7Z" fill="#005ba4" stroke="#002441"/>
<path d="M411.4 1821.7L419.4 1820.4L412.7 1819.5L404.7 1820.6Z" fill="#004db2" stroke="#001e47"/>
<path d="M455.5 1824L463.2 1826.7L456.3 1826.4L448.6 1823.5Z" fill="#0054ab" stroke="#002144"/>
<path d="M426.1 1821.3L434 1821.4L427.3 1820.7L419.4 1820.4Z" fill="#004db2" stroke="#001e47"/>
<path d="M351.1 1845.2L359.3 1836.6L353 1834.4L344.8 1842.7Z" fill="#006b94" stroke="#002a3b"/>
<path d="M440.8 1822.1L448.6 1823.5L441.8 1823L434 1821.4Z" fill="#004fb0" stroke="#001f46"/>
<path d="M373.9 1831.5L382.1 1825.8L375.6 1824.2L367.5 1829.6Z" fill="#0057a8" stroke="#002243"/>
<path d="M293.1 1974.9L300.9 1953.8L294.8 1949.3L287 1970Z" fill="#30ff00" stroke="#136600"/>
<path d="M302.6 1929.9L310.6 1912L304.4 1908L296.5 1925.7Z" fill="#00e916" stroke="#005d08"/>
<path d="M521.2 1842.4L528.2 1850.1L520.8 1850.6L513.8 1842.7Z" fill="#00758a" stroke="#002e37"/>
<path d="M288.5 2063.4L296.1 2037.6L290 2032L282.5 2057.5Z" fill="#b9ff00" stroke="#4a6600"/>
<path d="M291.5 2002.5L299.2 1979.8L293.1 1974.9L285.4 1997.3Z" fill="#5aff00" stroke="#246600"/>
<path d="M290 2032L297.6 2007.8L291.5 2002.5L283.9 2026.5Z" fill="#87ff00" stroke="#366600"/>
<path d="M343 1855.4L351.1 1845.2L344.8 1842.7L336.7 1852.6Z" fill="#007887" stroke="#003036"/>
<path d="M557.6 1857.2L564.1 1867.3L556.5 1868.1L549.9 1857.9Z" fill="#008e71" stroke="#00382d"/>
<path d="M310.6 1912L318.6 1895.5L312.4 1891.9L304.4 1908Z" fill="#00cc33" stroke="#005114"/>
<path d="M388.6 1827.5L396.7 1823.2L390.2 1821.8L382.1 1825.8Z" fill="#0050af" stroke="#002046"/>
<path d="M506.6 1836.2L513.8 1842.7L506.6 1843L499.4 1836.3Z" fill="#006897" stroke="#00293c"/>
<path d="M334.8 1867.2L343 1855.4L336.7 1852.6L328.6 1864.2Z" fill="#008877" stroke="#00362f"/>
<path d="M318.6 1895.5L326.7 1880.6L320.5 1877.2L312.4 1891.9Z" fill="#00b24d" stroke="#00471e"/>
<path d="M365.7 1838.8L373.9 1831.5L367.5 1829.6L359.3 1836.6Z" fill="#005ea1" stroke="#002540"/>
<path d="M326.7 1880.6L334.8 1867.2L328.6 1864.2L320.5 1877.2Z" fill="#009b64" stroke="#003e28"/>
<path d="M300.9 1953.8L308.8 1934.2L302.6 1929.9L294.8 1949.3Z" fill="#0cff00" stroke="#046600"/>
<path d="M403.3 1824.7L411.4 1821.7L404.7 1820.6L396.7 1823.2Z" fill="#004bb4" stroke="#001e48"/>
<path d="M492 1831.2L499.4 1836.3L492.2 1836.5L484.8 1831.1Z" fill="#005da2" stroke="#002540"/>
<path d="M543.2 1849.1L549.9 1857.9L542.4 1858.6L535.6 1849.6Z" fill="#007c83" stroke="#003134"/>
<path d="M299.2 1979.8L307.1 1958.4L300.9 1953.8L293.1 1974.9Z" fill="#32ff00" stroke="#146600"/>
<path d="M418.1 1822.9L426.1 1821.3L419.4 1820.4L411.4 1821.7Z" fill="#0048b7" stroke="#001c49"/>
<path d="M294.7 2069.3L302.3 2043.3L296.1 2037.6L288.5 2063.4Z" fill="#bcff00" stroke="#4b6600"/>
<path d="M477.3 1827.3L484.8 1831.1L477.7 1831L470.2 1827Z" fill="#0054ab" stroke="#002144"/>
<path d="M357.5 1847.6L365.7 1838.8L359.3 1836.6L351.1 1845.2Z" fill="#006897" stroke="#00293c"/>
<path d="M308.8 1934.2L316.8 1915.9L310.6 1912L302.6 1929.9Z" fill="#00ea15" stroke="#005d08"/>
<path d="M380.4 1833.4L388.6 1827.5L382.1 1825.8L373.9 1831.5Z" fill="#0054ab" stroke="#002144"/>
<path d="M432.9 1822.3L440.8 1822.1L434 1821.4L426.1 1821.3Z" fill="#0047b8" stroke="#001c49"/>
<path d="M297.6 2007.8L305.4 1984.8L299.2 1979.8L291.5 2002.5Z" fill="#5bff00" stroke="#246600"/>
<path d="M462.5 1824.5L470.2 1827L463.2 1826.7L455.5 1824Z" fill="#004db2" stroke="#001e47"/>
<path d="M296.1 2037.6L303.8 2013.1L297.6 2007.8L290 2032Z" fill="#8aff00" stroke="#376600"/>
<path d="M447.7 1822.8L455.5 1824L448.6 1823.5L440.8 1822.1Z" fill="#0049b6" stroke="#001d48"/>
<path d="M349.3 1858.2L357.5 1847.6L351.1 1845.2L343 1855.4Z" fill="#007689" stroke="#002f36"/>
<path d="M316.8 1915.9L324.8 1899.2L318.6 1895.5L310.6 1912Z" fill="#00cc33" stroke="#005114"/>
<path d="M528.7 1842L535.6 1849.6L528.2 1850.1L521.2 1842.4Z" fill="#006d92" stroke="#002b3a"/>
<path d="M395.2 1829.2L403.3 1824.7L396.7 1823.2L388.6 1827.5Z" fill="#004cb3" stroke="#001e47"/>
<path d="M341.1 1870.3L349.3 1858.2L343 1855.4L334.8 1867.2Z" fill="#008679" stroke="#003530"/>
<path d="M307.1 1958.4L315 1938.5L308.8 1934.2L300.9 1953.8Z" fill="#0dff00" stroke="#056600"/>
<path d="M324.8 1899.2L333 1883.9L326.7 1880.6L318.6 1895.5Z" fill="#00b24d" stroke="#00471e"/>
<path d="M333 1883.9L341.1 1870.3L334.8 1867.2L326.7 1880.6Z" fill="#009a65" stroke="#003d28"/>
<path d="M372.2 1841L380.4 1833.4L373.9 1831.5L365.7 1838.8Z" fill="#005ba4" stroke="#002441"/>
<path d="M565.3 1856.5L571.8 1866.4L564.1 1867.3L557.6 1857.2Z" fill="#00857a" stroke="#003530"/>
<path d="M514 1836.1L521.2 1842.4L513.8 1842.7L506.6 1836.2Z" fill="#00609f" stroke="#00263f"/>
<path d="M300.8 2075.3L308.5 2049L302.3 2043.3L294.7 2069.3Z" fill="#bfff00" stroke="#4c6600"/>
<path d="M305.4 1984.8L313.3 1963.1L307.1 1958.4L299.2 1979.8Z" fill="#33ff00" stroke="#146600"/>
<path d="M410 1826.1L418.1 1822.9L411.4 1821.7L403.3 1824.7Z" fill="#0046b9" stroke="#001c4a"/>
<path d="M315 1938.5L323 1919.9L316.8 1915.9L308.8 1934.2Z" fill="#00ea15" stroke="#005d08"/>
<path d="M302.3 2043.3L310 2018.4L303.8 2013.1L296.1 2037.6Z" fill="#8cff00" stroke="#386600"/>
<path d="M303.8 2013.1L311.6 1989.8L305.4 1984.8L297.6 2007.8Z" fill="#5dff00" stroke="#256600"/>
<path d="M499.3 1831.3L506.6 1836.2L499.4 1836.3L492 1831.2Z" fill="#0055aa" stroke="#002244"/>
<path d="M364 1850.2L372.2 1841L365.7 1838.8L357.5 1847.6Z" fill="#006699" stroke="#00283d"/>
<path d="M424.9 1824.1L432.9 1822.3L426.1 1821.3L418.1 1822.9Z" fill="#0043bc" stroke="#001a4b"/>
<path d="M387 1835.4L395.2 1829.2L388.6 1827.5L380.4 1833.4Z" fill="#0051ae" stroke="#002045"/>
<path d="M550.8 1848.6L557.6 1857.2L549.9 1857.9L543.2 1849.1Z" fill="#00738c" stroke="#002e38"/>
<path d="M484.5 1827.6L492 1831.2L484.8 1831.1L477.3 1827.3Z" fill="#004db2" stroke="#001e47"/>
<path d="M439.8 1823.3L447.7 1822.8L440.8 1822.1L432.9 1822.3Z" fill="#0042bd" stroke="#001a4b"/>
<path d="M323 1919.9L331.1 1902.9L324.8 1899.2L316.8 1915.9Z" fill="#00cc33" stroke="#005114"/>
<path d="M469.6 1825L477.3 1827.3L470.2 1827L462.5 1824.5Z" fill="#0047b8" stroke="#001c49"/>
<path d="M454.7 1823.6L462.5 1824.5L455.5 1824L447.7 1822.8Z" fill="#0044bb" stroke="#001b4a"/>
<path d="M355.7 1861L364 1850.2L357.5 1847.6L349.3 1858.2Z" fill="#00748b" stroke="#002e37"/>
<path d="M313.3 1963.1L321.3 1942.8L315 1938.5L307.1 1958.4Z" fill="#0eff00" stroke="#056600"/>
<path d="M331.1 1902.9L339.3 1887.3L333 1883.9L324.8 1899.2Z" fill="#00b14e" stroke="#00461f"/>
<path d="M347.5 1873.3L355.7 1861L349.3 1858.2L341.1 1870.3Z" fill="#00857a" stroke="#003530"/>
<path d="M339.3 1887.3L347.5 1873.3L341.1 1870.3L333 1883.9Z" fill="#009966" stroke="#003d28"/>
<path d="M401.8 1830.9L410 1826.1L403.3 1824.7L395.2 1829.2Z" fill="#0048b7" stroke="#001c49"/>
<path d="M536.2 1841.7L543.2 1849.1L535.6 1849.6L528.7 1842Z" fill="#00659a" stroke="#00283d"/>
<path d="M307.1 2081.4L314.8 2054.7L308.5 2049L300.8 2075.3Z" fill="#c2ff00" stroke="#4d6600"/>
<path d="M378.7 1843.2L387 1835.4L380.4 1833.4L372.2 1841Z" fill="#0058a7" stroke="#002342"/>
<path d="M311.6 1989.8L319.6 1967.8L313.3 1963.1L305.4 1984.8Z" fill="#34ff00" stroke="#146600"/>
<path d="M308.5 2049L316.3 2023.8L310 2018.4L302.3 2043.3Z" fill="#8eff00" stroke="#386600"/>
<path d="M310 2018.4L317.9 1994.8L311.6 1989.8L303.8 2013.1Z" fill="#5fff00" stroke="#266600"/>
<path d="M321.3 1942.8L329.3 1924L323 1919.9L315 1938.5Z" fill="#00eb14" stroke="#005e08"/>
<path d="M416.8 1827.6L424.9 1824.1L418.1 1822.9L410 1826.1Z" fill="#0042bd" stroke="#001a4b"/>
<path d="M573.2 1855.8L579.7 1865.6L571.8 1866.4L565.3 1856.5Z" fill="#007b84" stroke="#003134"/>
<path d="M521.5 1836L528.7 1842L521.2 1842.4L514 1836.1Z" fill="#0058a7" stroke="#002342"/>
<path d="M370.5 1852.7L378.7 1843.2L372.2 1841L364 1850.2Z" fill="#00639c" stroke="#00273e"/>
<path d="M431.7 1825.3L439.8 1823.3L432.9 1822.3L424.9 1824.1Z" fill="#003ec1" stroke="#00184d"/>
<path d="M393.6 1837.4L401.8 1830.9L395.2 1829.2L387 1835.4Z" fill="#004db2" stroke="#001e47"/>
<path d="M506.6 1831.3L514 1836.1L506.6 1836.2L499.3 1831.3Z" fill="#004eb1" stroke="#001f46"/>
<path d="M329.3 1924L337.5 1906.6L331.1 1902.9L323 1919.9Z" fill="#00cc33" stroke="#005114"/>
<path d="M319.6 1967.8L327.6 1947.2L321.3 1942.8L313.3 1963.1Z" fill="#0fff00" stroke="#066600"/>
<path d="M362.2 1863.8L370.5 1852.7L364 1850.2L355.7 1861Z" fill="#00728d" stroke="#002d38"/>
<path d="M446.8 1824.2L454.7 1823.6L447.7 1822.8L439.8 1823.3Z" fill="#003dc2" stroke="#00184d"/>
<path d="M491.7 1827.8L499.3 1831.3L492 1831.2L484.5 1827.6Z" fill="#0046b9" stroke="#001c4a"/>
<path d="M337.5 1906.6L345.7 1890.8L339.3 1887.3L331.1 1902.9Z" fill="#00b14e" stroke="#00461f"/>
<path d="M558.6 1848L565.3 1856.5L557.6 1857.2L550.8 1848.6Z" fill="#006b94" stroke="#002a3b"/>
<path d="M461.8 1824.3L469.6 1825L462.5 1824.5L454.7 1823.6Z" fill="#003ec1" stroke="#00184d"/>
<path d="M476.8 1825.5L484.5 1827.6L477.3 1827.3L469.6 1825Z" fill="#0041be" stroke="#001a4c"/>
<path d="M313.4 2087.5L321.2 2060.5L314.8 2054.7L307.1 2081.4Z" fill="#c5ff00" stroke="#4e6600"/>
<path d="M353.9 1876.5L362.2 1863.8L355.7 1861L347.5 1873.3Z" fill="#00837c" stroke="#003431"/>
<path d="M345.7 1890.8L353.9 1876.5L347.5 1873.3L339.3 1887.3Z" fill="#009867" stroke="#003c29"/>
<path d="M317.9 1994.8L325.9 1972.5L319.6 1967.8L311.6 1989.8Z" fill="#36ff00" stroke="#156600"/>
<path d="M408.6 1832.7L416.8 1827.6L410 1826.1L401.8 1830.9Z" fill="#0044bb" stroke="#001b4a"/>
<path d="M314.8 2054.7L322.7 2029.3L316.3 2023.8L308.5 2049Z" fill="#91ff00" stroke="#3a6600"/>
<path d="M385.3 1845.5L393.6 1837.4L387 1835.4L378.7 1843.2Z" fill="#0056a9" stroke="#002243"/>
<path d="M316.3 2023.8L324.3 1999.9L317.9 1994.8L310 2018.4Z" fill="#61ff00" stroke="#266600"/>
<path d="M327.6 1947.2L335.7 1928L329.3 1924L321.3 1942.8Z" fill="#00eb14" stroke="#005e08"/>
<path d="M543.9 1841.4L550.8 1848.6L543.2 1849.1L536.2 1841.7Z" fill="#005da2" stroke="#002540"/>
<path d="M423.6 1829L431.7 1825.3L424.9 1824.1L416.8 1827.6Z" fill="#003ec1" stroke="#00184d"/>
<path d="M377 1855.3L385.3 1845.5L378.7 1843.2L370.5 1852.7Z" fill="#00619e" stroke="#00263f"/>
<path d="M335.7 1928L343.9 1910.4L337.5 1906.6L329.3 1924Z" fill="#00cc33" stroke="#005114"/>
<path d="M529 1835.8L536.2 1841.7L528.7 1842L521.5 1836Z" fill="#0051ae" stroke="#002045"/>
<path d="M325.9 1972.5L334 1951.6L327.6 1947.2L319.6 1967.8Z" fill="#10ff00" stroke="#066600"/>
<path d="M581.1 1855.1L587.6 1864.7L579.7 1865.6L573.2 1855.8Z" fill="#00728d" stroke="#002d38"/>
<path d="M400.3 1839.4L408.6 1832.7L401.8 1830.9L393.6 1837.4Z" fill="#004ab5" stroke="#001d48"/>
<path d="M319.7 2093.6L327.6 2066.4L321.2 2060.5L313.4 2087.5Z" fill="#c8ff00" stroke="#506600"/>
<path d="M438.7 1826.6L446.8 1824.2L439.8 1823.3L431.7 1825.3Z" fill="#003ac5" stroke="#00174e"/>
<path d="M368.7 1866.6L377 1855.3L370.5 1852.7L362.2 1863.8Z" fill="#00708f" stroke="#002c39"/>
<path d="M343.9 1910.4L352.2 1894.2L345.7 1890.8L337.5 1906.6Z" fill="#00b04f" stroke="#00461f"/>
<path d="M514.1 1831.4L521.5 1836L514 1836.1L506.6 1831.3Z" fill="#0047b8" stroke="#001c49"/>
<path d="M324.3 1999.9L332.3 1977.3L325.9 1972.5L317.9 1994.8Z" fill="#37ff00" stroke="#166600"/>
<path d="M360.4 1879.6L368.7 1866.6L362.2 1863.8L353.9 1876.5Z" fill="#00827d" stroke="#003432"/>
<path d="M352.2 1894.2L360.4 1879.6L353.9 1876.5L345.7 1890.8Z" fill="#009768" stroke="#003c29"/>
<path d="M453.8 1825.2L461.8 1824.3L454.7 1823.6L446.8 1824.2Z" fill="#0038c7" stroke="#00164f"/>
<path d="M321.2 2060.5L329.1 2034.7L322.7 2029.3L314.8 2054.7Z" fill="#93ff00" stroke="#3a6600"/>
<path d="M499.1 1828.1L506.6 1831.3L499.3 1831.3L491.7 1827.8Z" fill="#0040bf" stroke="#00194c"/>
<path d="M322.7 2029.3L330.7 2005L324.3 1999.9L316.3 2023.8Z" fill="#63ff00" stroke="#276600"/>
<path d="M468.9 1825L476.8 1825.5L469.6 1825L461.8 1824.3Z" fill="#0038c7" stroke="#00164f"/>
<path d="M484 1826L491.7 1827.8L484.5 1827.6L476.8 1825.5Z" fill="#003bc4" stroke="#00174e"/>
<path d="M566.4 1847.5L573.2 1855.8L565.3 1856.5L558.6 1848Z" fill="#00629d" stroke="#00273e"/>
<path d="M334 1951.6L342.2 1932.2L335.7 1928L327.6 1947.2Z" fill="#00ec13" stroke="#005e07"/>
<path d="M415.4 1834.4L423.6 1829L416.8 1827.6L408.6 1832.7Z" fill="#0041be" stroke="#001a4c"/>
<path d="M392 1847.8L400.3 1839.4L393.6 1837.4L385.3 1845.5Z" fill="#0053ac" stroke="#002144"/>
<path d="M342.2 1932.2L350.4 1914.2L343.9 1910.4L335.7 1928Z" fill="#00cc33" stroke="#005114"/>
<path d="M551.6 1841L558.6 1848L550.8 1848.6L543.9 1841.4Z" fill="#0054ab" stroke="#002144"/>
<path d="M332.3 1977.3L340.5 1956.1L334 1951.6L325.9 1972.5Z" fill="#11ff00" stroke="#066600"/>
<path d="M383.7 1857.8L392 1847.8L385.3 1845.5L377 1855.3Z" fill="#005fa0" stroke="#002640"/>
<path d="M430.5 1830.5L438.7 1826.6L431.7 1825.3L423.6 1829Z" fill="#0039c6" stroke="#00164f"/>
<path d="M326.1 2099.8L334 2072.3L327.6 2066.4L319.7 2093.6Z" fill="#caff00" stroke="#506600"/>
<path d="M407.1 1841.4L415.4 1834.4L408.6 1832.7L400.3 1839.4Z" fill="#0047b8" stroke="#001c49"/>
<path d="M350.4 1914.2L358.7 1897.7L352.2 1894.2L343.9 1910.4Z" fill="#00b04f" stroke="#00461f"/>
<path d="M375.4 1869.5L383.7 1857.8L377 1855.3L368.7 1866.6Z" fill="#006e91" stroke="#002c3a"/>
<path d="M330.7 2005L338.8 1982.1L332.3 1977.3L324.3 1999.9Z" fill="#39ff00" stroke="#166600"/>
<path d="M327.6 2066.4L335.6 2040.3L329.1 2034.7L321.2 2060.5Z" fill="#96ff00" stroke="#3c6600"/>
<path d="M536.7 1835.7L543.9 1841.4L536.2 1841.7L529 1835.8Z" fill="#0049b6" stroke="#001d48"/>
<path d="M445.7 1827.8L453.8 1825.2L446.8 1824.2L438.7 1826.6Z" fill="#0035ca" stroke="#001550"/>
<path d="M329.1 2034.7L337.1 2010.2L330.7 2005L322.7 2029.3Z" fill="#65ff00" stroke="#286600"/>
<path d="M358.7 1897.7L367 1882.8L360.4 1879.6L352.2 1894.2Z" fill="#009669" stroke="#003c2a"/>
<path d="M367 1882.8L375.4 1869.5L368.7 1866.6L360.4 1879.6Z" fill="#00817e" stroke="#003332"/>
<path d="M589.2 1854.4L595.6 1863.8L587.6 1864.7L581.1 1855.1Z" fill="#006996" stroke="#002a3c"/>
<path d="M521.6 1831.5L529 1835.8L521.5 1836L514.1 1831.4Z" fill="#0040bf" stroke="#00194c"/>
<path d="M340.5 1956.1L348.7 1936.3L342.2 1932.2L334 1951.6Z" fill="#00ec13" stroke="#005e07"/>
<path d="M460.9 1826.2L468.9 1825L461.8 1824.3L453.8 1825.2Z" fill="#0032cd" stroke="#001452"/>
<path d="M506.5 1828.4L514.1 1831.4L506.6 1831.3L499.1 1828.1Z" fill="#0039c6" stroke="#00164f"/>
<path d="M476.2 1825.8L484 1826L476.8 1825.5L468.9 1825Z" fill="#0032cd" stroke="#001452"/>
<path d="M398.8 1850.1L407.1 1841.4L400.3 1839.4L392 1847.8Z" fill="#0050af" stroke="#002046"/>
<path d="M491.4 1826.5L499.1 1828.1L491.7 1827.8L484 1826Z" fill="#0034cb" stroke="#001451"/>
<path d="M422.3 1836.2L430.5 1830.5L423.6 1829L415.4 1834.4Z" fill="#003dc2" stroke="#00184d"/>
<path d="M574.4 1847L581.1 1855.1L573.2 1855.8L566.4 1847.5Z" fill="#005aa5" stroke="#002442"/>
<path d="M332.5 2106L340.5 2078.2L334 2072.3L326.1 2099.8Z" fill="#cdff00" stroke="#526600"/>
<path d="M338.8 1982.1L347 1960.6L340.5 1956.1L332.3 1977.3Z" fill="#12ff00" stroke="#076600"/>
<path d="M348.7 1936.3L357 1918L350.4 1914.2L342.2 1932.2Z" fill="#00cc33" stroke="#005114"/>
<path d="M390.4 1860.5L398.8 1850.1L392 1847.8L383.7 1857.8Z" fill="#005ca3" stroke="#002441"/>
<path d="M334 2072.3L342.1 2045.9L335.6 2040.3L327.6 2066.4Z" fill="#98ff00" stroke="#3c6600"/>
<path d="M437.5 1832.1L445.7 1827.8L438.7 1826.6L430.5 1830.5Z" fill="#0035ca" stroke="#001550"/>
<path d="M337.1 2010.2L345.3 1987L338.8 1982.1L330.7 2005Z" fill="#3aff00" stroke="#176600"/>
<path d="M357 1918L365.3 1901.3L358.7 1897.7L350.4 1914.2Z" fill="#00af50" stroke="#004620"/>
<path d="M335.6 2040.3L343.7 2015.5L337.1 2010.2L329.1 2034.7Z" fill="#67ff00" stroke="#296600"/>
<path d="M559.5 1840.7L566.4 1847.5L558.6 1848L551.6 1841Z" fill="#004cb3" stroke="#001e47"/>
<path d="M382 1872.5L390.4 1860.5L383.7 1857.8L375.4 1869.5Z" fill="#006c93" stroke="#002b3a"/>
<path d="M414 1843.5L422.3 1836.2L415.4 1834.4L407.1 1841.4Z" fill="#0043bc" stroke="#001a4b"/>
<path d="M365.3 1901.3L373.7 1886.1L367 1882.8L358.7 1897.7Z" fill="#009669" stroke="#003c2a"/>
<path d="M373.7 1886.1L382 1872.5L375.4 1869.5L367 1882.8Z" fill="#007f80" stroke="#003233"/>
<path d="M452.8 1829.1L460.9 1826.2L453.8 1825.2L445.7 1827.8Z" fill="#0030cf" stroke="#001352"/>
<path d="M347 1960.6L355.2 1940.5L348.7 1936.3L340.5 1956.1Z" fill="#00ed12" stroke="#005e07"/>
<path d="M544.4 1835.6L551.6 1841L543.9 1841.4L536.7 1835.7Z" fill="#0041be" stroke="#001a4c"/>
<path d="M468.2 1827.2L476.2 1825.8L468.9 1825L460.9 1826.2Z" fill="#002dd2" stroke="#001254"/>
<path d="M339 2112.4L347.1 2084.2L340.5 2078.2L332.5 2106Z" fill="#d0ff00" stroke="#536600"/>
<path d="M529.3 1831.6L536.7 1835.7L529 1835.8L521.6 1831.5Z" fill="#0039c6" stroke="#00164f"/>
<path d="M405.6 1852.5L414 1843.5L407.1 1841.4L398.8 1850.1Z" fill="#004db2" stroke="#001e47"/>
<path d="M429.3 1838L437.5 1832.1L430.5 1830.5L422.3 1836.2Z" fill="#0039c6" stroke="#00164f"/>
<path d="M345.3 1987L353.6 1965.2L347 1960.6L338.8 1982.1Z" fill="#12ff00" stroke="#076600"/>
<path d="M483.5 1826.6L491.4 1826.5L484 1826L476.2 1825.8Z" fill="#002dd2" stroke="#001254"/>
<path d="M514.1 1828.7L521.6 1831.5L514.1 1831.4L506.5 1828.4Z" fill="#0032cd" stroke="#001452"/>
<path d="M355.2 1940.5L363.6 1921.9L357 1918L348.7 1936.3Z" fill="#00cc33" stroke="#005114"/>
<path d="M498.8 1827.1L506.5 1828.4L499.1 1828.1L491.4 1826.5Z" fill="#002ed1" stroke="#001253"/>
<path d="M340.5 2078.2L348.7 2051.5L342.1 2045.9L334 2072.3Z" fill="#9aff00" stroke="#3d6600"/>
<path d="M343.7 2015.5L351.9 1991.9L345.3 1987L337.1 2010.2Z" fill="#3cff00" stroke="#186600"/>
<path d="M397.2 1863.1L405.6 1852.5L398.8 1850.1L390.4 1860.5Z" fill="#005aa5" stroke="#002442"/>
<path d="M342.1 2045.9L350.3 2020.8L343.7 2015.5L335.6 2040.3Z" fill="#69ff00" stroke="#2a6600"/>
<path d="M582.5 1846.4L589.2 1854.4L581.1 1855.1L574.4 1847Z" fill="#0051ae" stroke="#002045"/>
<path d="M363.6 1921.9L372 1904.8L365.3 1901.3L357 1918Z" fill="#00af50" stroke="#004620"/>
<path d="M444.6 1833.6L452.8 1829.1L445.7 1827.8L437.5 1832.1Z" fill="#0031ce" stroke="#001352"/>
<path d="M388.8 1875.4L397.2 1863.1L390.4 1860.5L382 1872.5Z" fill="#006a95" stroke="#002a3b"/>
<path d="M372 1904.8L380.4 1889.3L373.7 1886.1L365.3 1901.3Z" fill="#00956a" stroke="#003b2a"/>
<path d="M380.4 1889.3L388.8 1875.4L382 1872.5L373.7 1886.1Z" fill="#007e81" stroke="#003233"/>
<path d="M420.9 1845.6L429.3 1838L422.3 1836.2L414 1843.5Z" fill="#0040bf" stroke="#00194c"/>
<path d="M353.6 1965.2L361.9 1944.8L355.2 1940.5L347 1960.6Z" fill="#00ed12" stroke="#005e07"/>
<path d="M567.4 1840.4L574.4 1847L566.4 1847.5L559.5 1840.7Z" fill="#0044bb" stroke="#001b4a"/>
<path d="M345.6 2118.7L353.7 2090.3L347.1 2084.2L339 2112.4Z" fill="#d3ff00" stroke="#546600"/>
<path d="M460 1830.3L468.2 1827.2L460.9 1826.2L452.8 1829.1Z" fill="#002bd4" stroke="#001154"/>
<path d="M351.9 1991.9L360.2 1969.8L353.6 1965.2L345.3 1987Z" fill="#13ff00" stroke="#076600"/>
<path d="M552.3 1835.4L559.5 1840.7L551.6 1841L544.4 1835.6Z" fill="#003ac5" stroke="#00174e"/>
<path d="M412.5 1854.8L420.9 1845.6L414 1843.5L405.6 1852.5Z" fill="#004ab5" stroke="#001d48"/>
<path d="M361.9 1944.8L370.3 1925.8L363.6 1921.9L355.2 1940.5Z" fill="#00cc33" stroke="#005114"/>
<path d="M347.1 2084.2L355.3 2057.2L348.7 2051.5L340.5 2078.2Z" fill="#9dff00" stroke="#3e6600"/>
<path d="M475.5 1828.3L483.5 1826.6L476.2 1825.8L468.2 1827.2Z" fill="#0028d7" stroke="#001056"/>
<path d="M436.3 1839.8L444.6 1833.6L437.5 1832.1L429.3 1838Z" fill="#0035ca" stroke="#001550"/>
<path d="M350.3 2020.8L358.5 1996.9L351.9 1991.9L343.7 2015.5Z" fill="#3dff00" stroke="#186600"/>
<path d="M537 1831.6L544.4 1835.6L536.7 1835.7L529.3 1831.6Z" fill="#0031ce" stroke="#001352"/>
<path d="M348.7 2051.5L356.9 2026.1L350.3 2020.8L342.1 2045.9Z" fill="#6bff00" stroke="#2a6600"/>
<path d="M490.9 1827.3L498.8 1827.1L491.4 1826.5L483.5 1826.6Z" fill="#0027d8" stroke="#000f56"/>
<path d="M521.7 1829L529.3 1831.6L521.6 1831.5L514.1 1828.7Z" fill="#002cd3" stroke="#001154"/>
<path d="M506.3 1827.6L514.1 1828.7L506.5 1828.4L498.8 1827.1Z" fill="#0028d7" stroke="#001056"/>
<path d="M404.1 1865.8L412.5 1854.8L405.6 1852.5L397.2 1863.1Z" fill="#0057a8" stroke="#002243"/>
<path d="M370.3 1925.8L378.7 1908.4L372 1904.8L363.6 1921.9Z" fill="#00ae51" stroke="#004520"/>
<path d="M395.6 1878.4L404.1 1865.8L397.2 1863.1L388.8 1875.4Z" fill="#006897" stroke="#00293c"/>
<path d="M378.7 1908.4L387.2 1892.6L380.4 1889.3L372 1904.8Z" fill="#00946b" stroke="#003b2a"/>
<path d="M360.2 1969.8L368.6 1949.1L361.9 1944.8L353.6 1965.2Z" fill="#00ee11" stroke="#005f06"/>
<path d="M451.8 1835.1L460 1830.3L452.8 1829.1L444.6 1833.6Z" fill="#002dd2" stroke="#001254"/>
<path d="M387.2 1892.6L395.6 1878.4L388.8 1875.4L380.4 1889.3Z" fill="#007c83" stroke="#003134"/>
<path d="M352.2 2125.1L360.4 2096.4L353.7 2090.3L345.6 2118.7Z" fill="#d6ff00" stroke="#556600"/>
<path d="M428 1847.7L436.3 1839.8L429.3 1838L420.9 1845.6Z" fill="#003cc3" stroke="#00184e"/>
<path d="M358.5 1996.9L366.9 1974.4L360.2 1969.8L351.9 1991.9Z" fill="#14ff00" stroke="#086600"/>
<path d="M353.7 2090.3L362 2063L355.3 2057.2L347.1 2084.2Z" fill="#9fff00" stroke="#3f6600"/>
<path d="M467.3 1831.6L475.5 1828.3L468.2 1827.2L460 1830.3Z" fill="#0026d9" stroke="#000f56"/>
<path d="M575.5 1840L582.5 1846.4L574.4 1847L567.4 1840.4Z" fill="#003cc3" stroke="#00184e"/>
<path d="M368.6 1949.1L377 1929.8L370.3 1925.8L361.9 1944.8Z" fill="#00cc33" stroke="#005114"/>
<path d="M356.9 2026.1L365.3 2001.9L358.5 1996.9L350.3 2020.8Z" fill="#3eff00" stroke="#186600"/>
<path d="M355.3 2057.2L363.6 2031.5L356.9 2026.1L348.7 2051.5Z" fill="#6dff00" stroke="#2b6600"/>
<path d="M419.5 1857.2L428 1847.7L420.9 1845.6L412.5 1854.8Z" fill="#0047b8" stroke="#001c49"/>
<path d="M482.9 1829.3L490.9 1827.3L483.5 1826.6L475.5 1828.3Z" fill="#0023dc" stroke="#000e58"/>
<path d="M443.5 1841.6L451.8 1835.1L444.6 1833.6L436.3 1839.8Z" fill="#0031ce" stroke="#001352"/>
<path d="M560.3 1835.3L567.4 1840.4L559.5 1840.7L552.3 1835.4Z" fill="#0032cd" stroke="#001452"/>
<path d="M377 1929.8L385.5 1912.1L378.7 1908.4L370.3 1925.8Z" fill="#00ae51" stroke="#004520"/>
<path d="M411 1868.5L419.5 1857.2L412.5 1854.8L404.1 1865.8Z" fill="#0055aa" stroke="#002244"/>
<path d="M498.4 1828.1L506.3 1827.6L498.8 1827.1L490.9 1827.3Z" fill="#0021de" stroke="#000d58"/>
<path d="M544.9 1831.7L552.3 1835.4L544.4 1835.6L537 1831.6Z" fill="#002ad5" stroke="#001055"/>
<path d="M358.9 2131.6L367.2 2102.6L360.4 2096.4L352.2 2125.1Z" fill="#d9ff00" stroke="#566600"/>
<path d="M366.9 1974.4L375.4 1953.4L368.6 1949.1L360.2 1969.8Z" fill="#00ee11" stroke="#005f06"/>
<path d="M514 1828.1L521.7 1829L514.1 1828.7L506.3 1827.6Z" fill="#0022dd" stroke="#000d58"/>
<path d="M529.5 1829.3L537 1831.6L529.3 1831.6L521.7 1829Z" fill="#0025da" stroke="#000e57"/>
<path d="M385.5 1912.1L394 1895.9L387.2 1892.6L378.7 1908.4Z" fill="#00936c" stroke="#003a2b"/>
<path d="M402.5 1881.4L411 1868.5L404.1 1865.8L395.6 1878.4Z" fill="#006699" stroke="#00283d"/>
<path d="M394 1895.9L402.5 1881.4L395.6 1878.4L387.2 1892.6Z" fill="#007b84" stroke="#003134"/>
<path d="M459.1 1836.7L467.3 1831.6L460 1830.3L451.8 1835.1Z" fill="#0028d7" stroke="#001056"/>
<path d="M435.1 1849.8L443.5 1841.6L436.3 1839.8L428 1847.7Z" fill="#0039c6" stroke="#00164f"/>
<path d="M360.4 2096.4L368.8 2068.8L362 2063L353.7 2090.3Z" fill="#a2ff00" stroke="#406600"/>
<path d="M365.3 2001.9L373.7 1979.1L366.9 1974.4L358.5 1996.9Z" fill="#15ff00" stroke="#086600"/>
<path d="M362 2063L370.4 2036.9L363.6 2031.5L355.3 2057.2Z" fill="#6fff00" stroke="#2c6600"/>
<path d="M375.4 1953.4L383.9 1933.8L377 1929.8L368.6 1949.1Z" fill="#00cc33" stroke="#005114"/>
<path d="M363.6 2031.5L372 2007L365.3 2001.9L356.9 2026.1Z" fill="#40ff00" stroke="#196600"/>
<path d="M474.7 1832.9L482.9 1829.3L475.5 1828.3L467.3 1831.6Z" fill="#0022dd" stroke="#000d58"/>
<path d="M426.6 1859.7L435.1 1849.8L428 1847.7L419.5 1857.2Z" fill="#0044bb" stroke="#001b4a"/>
<path d="M365.6 2138.1L374 2108.8L367.2 2102.6L358.9 2131.6Z" fill="#dcff00" stroke="#586600"/>
<path d="M383.9 1933.8L392.4 1915.8L385.5 1912.1L377 1929.8Z" fill="#00ad52" stroke="#004520"/>
<path d="M450.7 1843.5L459.1 1836.7L451.8 1835.1L443.5 1841.6Z" fill="#002dd2" stroke="#001254"/>
<path d="M490.4 1830.3L498.4 1828.1L490.9 1827.3L482.9 1829.3Z" fill="#001de2" stroke="#000b5a"/>
<path d="M373.7 1979.1L382.2 1957.8L375.4 1953.4L366.9 1974.4Z" fill="#00ef10" stroke="#005f06"/>
<path d="M418.1 1871.2L426.6 1859.7L419.5 1857.2L411 1868.5Z" fill="#0053ac" stroke="#002144"/>
<path d="M568.3 1835.1L575.5 1840L567.4 1840.4L560.3 1835.3Z" fill="#002ad5" stroke="#001055"/>
<path d="M392.4 1915.8L400.9 1899.3L394 1895.9L385.5 1912.1Z" fill="#00926d" stroke="#003a2b"/>
<path d="M506 1828.9L514 1828.1L506.3 1827.6L498.4 1828.1Z" fill="#001be4" stroke="#000a5b"/>
<path d="M409.5 1884.5L418.1 1871.2L411 1868.5L402.5 1881.4Z" fill="#00649b" stroke="#00283e"/>
<path d="M400.9 1899.3L409.5 1884.5L402.5 1881.4L394 1895.9Z" fill="#007986" stroke="#003035"/>
<path d="M552.8 1831.8L560.3 1835.3L552.3 1835.4L544.9 1831.7Z" fill="#0023dc" stroke="#000e58"/>
<path d="M367.2 2102.6L375.6 2074.7L368.8 2068.8L360.4 2096.4Z" fill="#a4ff00" stroke="#416600"/>
<path d="M521.7 1828.7L529.5 1829.3L521.7 1829L514 1828.1Z" fill="#001ce3" stroke="#000b5a"/>
<path d="M537.3 1829.7L544.9 1831.7L537 1831.6L529.5 1829.3Z" fill="#001ee1" stroke="#000c5a"/>
<path d="M372 2007L380.5 1983.9L373.7 1979.1L365.3 2001.9Z" fill="#16ff00" stroke="#086600"/>
<path d="M466.4 1838.3L474.7 1832.9L467.3 1831.6L459.1 1836.7Z" fill="#0024db" stroke="#000e57"/>
<path d="M368.8 2068.8L377.2 2042.4L370.4 2036.9L362 2063Z" fill="#71ff00" stroke="#2d6600"/>
<path d="M442.2 1852L450.7 1843.5L443.5 1841.6L435.1 1849.8Z" fill="#0036c9" stroke="#001550"/>
<path d="M370.4 2036.9L378.9 2012.1L372 2007L363.6 2031.5Z" fill="#41ff00" stroke="#1a6600"/>
<path d="M382.2 1957.8L390.8 1937.9L383.9 1933.8L375.4 1953.4Z" fill="#00cc33" stroke="#005114"/>
<path d="M372.4 2144.7L380.9 2115.1L374 2108.8L365.6 2138.1Z" fill="#dfff00" stroke="#596600"/>
<path d="M482.2 1834.3L490.4 1830.3L482.9 1829.3L474.7 1832.9Z" fill="#001de2" stroke="#000b5a"/>
<path d="M433.7 1862.1L442.2 1852L435.1 1849.8L426.6 1859.7Z" fill="#0041be" stroke="#001a4c"/>
<path d="M390.8 1937.9L399.3 1919.5L392.4 1915.8L383.9 1933.8Z" fill="#00ad52" stroke="#004520"/>
<path d="M380.5 1983.9L389.1 1962.2L382.2 1957.8L373.7 1979.1Z" fill="#00ef10" stroke="#005f06"/>
<path d="M458 1845.3L466.4 1838.3L459.1 1836.7L450.7 1843.5Z" fill="#002ad5" stroke="#001055"/>
<path d="M425.2 1874L433.7 1862.1L426.6 1859.7L418.1 1871.2Z" fill="#0050af" stroke="#002046"/>
<path d="M374 2108.8L382.5 2080.6L375.6 2074.7L367.2 2102.6Z" fill="#a6ff00" stroke="#426600"/>
<path d="M399.3 1919.5L408 1902.7L400.9 1899.3L392.4 1915.8Z" fill="#00916e" stroke="#003a2c"/>
<path d="M497.9 1831.4L506 1828.9L498.4 1828.1L490.4 1830.3Z" fill="#0018e7" stroke="#00095c"/>
<path d="M416.6 1887.5L425.2 1874L418.1 1871.2L409.5 1884.5Z" fill="#00639c" stroke="#00273e"/>
<path d="M408 1902.7L416.6 1887.5L409.5 1884.5L400.9 1899.3Z" fill="#007887" stroke="#003036"/>
<path d="M378.9 2012.1L387.5 1988.7L380.5 1983.9L372 2007Z" fill="#17ff00" stroke="#096600"/>
<path d="M375.6 2074.7L384.2 2047.9L377.2 2042.4L368.8 2068.8Z" fill="#72ff00" stroke="#2d6600"/>
<path d="M513.7 1829.7L521.7 1828.7L514 1828.1L506 1828.9Z" fill="#0015ea" stroke="#00085d"/>
<path d="M377.2 2042.4L385.8 2017.3L378.9 2012.1L370.4 2036.9Z" fill="#43ff00" stroke="#1a6600"/>
<path d="M389.1 1962.2L397.7 1942L390.8 1937.9L382.2 1957.8Z" fill="#00cc33" stroke="#005114"/>
<path d="M560.9 1831.9L568.3 1835.1L560.3 1835.3L552.8 1831.8Z" fill="#001ce3" stroke="#000b5a"/>
<path d="M529.5 1829.3L537.3 1829.7L529.5 1829.3L521.7 1828.7Z" fill="#0015ea" stroke="#00085d"/>
<path d="M545.2 1830L552.8 1831.8L544.9 1831.7L537.3 1829.7Z" fill="#0017e8" stroke="#00095c"/>
<path d="M449.5 1854.1L458 1845.3L450.7 1843.5L442.2 1852Z" fill="#0032cd" stroke="#001452"/>
<path d="M473.8 1839.9L482.2 1834.3L474.7 1832.9L466.4 1838.3Z" fill="#0020df" stroke="#000c59"/>
<path d="M379.3 2151.4L387.8 2121.4L380.9 2115.1L372.4 2144.7Z" fill="#e1ff00" stroke="#5a6600"/>
<path d="M397.7 1942L406.4 1923.3L399.3 1919.5L390.8 1937.9Z" fill="#00ac53" stroke="#004421"/>
<path d="M387.5 1988.7L396.1 1966.6L389.1 1962.2L380.5 1983.9Z" fill="#00f00f" stroke="#006006"/>
<path d="M441 1864.6L449.5 1854.1L442.2 1852L433.7 1862.1Z" fill="#003fc0" stroke="#00194c"/>
<path d="M489.7 1835.6L497.9 1831.4L490.4 1830.3L482.2 1834.3Z" fill="#0018e7" stroke="#00095c"/>
<path d="M380.9 2115.1L389.5 2086.5L382.5 2080.6L374 2108.8Z" fill="#a9ff00" stroke="#436600"/>
<path d="M406.4 1923.3L415 1906.2L408 1902.7L399.3 1919.5Z" fill="#00906f" stroke="#00392c"/>
<path d="M432.3 1876.8L441 1864.6L433.7 1862.1L425.2 1874Z" fill="#004eb1" stroke="#001f46"/>
<path d="M465.4 1847.2L473.8 1839.9L466.4 1838.3L458 1845.3Z" fill="#0026d9" stroke="#000f56"/>
<path d="M385.8 2017.3L394.4 1993.5L387.5 1988.7L378.9 2012.1Z" fill="#18ff00" stroke="#096600"/>
<path d="M382.5 2080.6L391.1 2053.5L384.2 2047.9L375.6 2074.7Z" fill="#74ff00" stroke="#2e6600"/>
<path d="M415 1906.2L423.7 1890.6L416.6 1887.5L408 1902.7Z" fill="#007788" stroke="#002f36"/>
<path d="M423.7 1890.6L432.3 1876.8L425.2 1874L416.6 1887.5Z" fill="#00619e" stroke="#00263f"/>
<path d="M384.2 2047.9L392.8 2022.5L385.8 2017.3L377.2 2042.4Z" fill="#44ff00" stroke="#1b6600"/>
<path d="M505.6 1832.5L513.7 1829.7L506 1828.9L497.9 1831.4Z" fill="#0013ec" stroke="#00075e"/>
<path d="M396.1 1966.6L404.8 1946.1L397.7 1942L389.1 1962.2Z" fill="#00cc33" stroke="#005114"/>
<path d="M521.5 1830.6L529.5 1829.3L521.7 1828.7L513.7 1829.7Z" fill="#0010ef" stroke="#00065f"/>
<path d="M456.9 1856.3L465.4 1847.2L458 1845.3L449.5 1854.1Z" fill="#002fd0" stroke="#001253"/>
<path d="M481.3 1841.5L489.7 1835.6L482.2 1834.3L473.8 1839.9Z" fill="#001be4" stroke="#000a5b"/>
<path d="M537.4 1829.8L545.2 1830L537.3 1829.7L529.5 1829.3Z" fill="#000ff0" stroke="#000660"/>
<path d="M553.3 1830.3L560.9 1831.9L552.8 1831.8L545.2 1830Z" fill="#0011ee" stroke="#00065f"/>
<path d="M404.8 1946.1L413.5 1927.1L406.4 1923.3L397.7 1942Z" fill="#00ac53" stroke="#004421"/>
<path d="M394.4 1993.5L403.1 1971.2L396.1 1966.6L387.5 1988.7Z" fill="#00f00f" stroke="#006006"/>
<path d="M387.8 2121.4L396.5 2092.6L389.5 2086.5L380.9 2115.1Z" fill="#abff00" stroke="#446600"/>
<path d="M448.3 1867.1L456.9 1856.3L449.5 1854.1L441 1864.6Z" fill="#003cc3" stroke="#00184e"/>
<path d="M392.8 2022.5L401.5 1998.4L394.4 1993.5L385.8 2017.3Z" fill="#19ff00" stroke="#0a6600"/>
<path d="M389.5 2086.5L398.2 2059.2L391.1 2053.5L382.5 2080.6Z" fill="#76ff00" stroke="#2f6600"/>
<path d="M497.4 1837L505.6 1832.5L497.9 1831.4L489.7 1835.6Z" fill="#0013ec" stroke="#00075e"/>
<path d="M413.5 1927.1L422.2 1909.6L415 1906.2L406.4 1923.3Z" fill="#008f70" stroke="#00392c"/>
<path d="M391.1 2053.5L399.8 2027.8L392.8 2022.5L384.2 2047.9Z" fill="#46ff00" stroke="#1c6600"/>
<path d="M439.6 1879.6L448.3 1867.1L441 1864.6L432.3 1876.8Z" fill="#004cb3" stroke="#001e47"/>
<path d="M472.9 1849.2L481.3 1841.5L473.8 1839.9L465.4 1847.2Z" fill="#0022dd" stroke="#000d58"/>
<path d="M422.2 1909.6L430.9 1893.8L423.7 1890.6L415 1906.2Z" fill="#00758a" stroke="#002e37"/>
<path d="M430.9 1893.8L439.6 1879.6L432.3 1876.8L423.7 1890.6Z" fill="#005fa0" stroke="#002640"/>
<path d="M403.1 1971.2L411.9 1950.3L404.8 1946.1L396.1 1966.6Z" fill="#00cc33" stroke="#005114"/>
<path d="M513.4 1833.6L521.5 1830.6L513.7 1829.7L505.6 1832.5Z" fill="#000df2" stroke="#000560"/>
<path d="M464.3 1858.6L472.9 1849.2L465.4 1847.2L456.9 1856.3Z" fill="#002cd3" stroke="#001154"/>
<path d="M529.4 1831.4L537.4 1829.8L529.5 1829.3L521.5 1830.6Z" fill="#000af5" stroke="#000462"/>
<path d="M401.5 1998.4L410.3 1975.7L403.1 1971.2L394.4 1993.5Z" fill="#00f00f" stroke="#006006"/>
<path d="M489 1843.2L497.4 1837L489.7 1835.6L481.3 1841.5Z" fill="#0017e8" stroke="#00095c"/>
<path d="M411.9 1950.3L420.6 1930.9L413.5 1927.1L404.8 1946.1Z" fill="#00ab54" stroke="#004421"/>
<path d="M545.4 1830.4L553.3 1830.3L545.2 1830L537.4 1829.8Z" fill="#0009f6" stroke="#000362"/>
<path d="M396.5 2092.6L405.3 2064.9L398.2 2059.2L389.5 2086.5Z" fill="#78ff00" stroke="#306600"/>
<path d="M399.8 2027.8L408.6 2003.3L401.5 1998.4L392.8 2022.5Z" fill="#1aff00" stroke="#0a6600"/>
<path d="M455.7 1869.7L464.3 1858.6L456.9 1856.3L448.3 1867.1Z" fill="#0039c6" stroke="#00164f"/>
<path d="M398.2 2059.2L407 2033.1L399.8 2027.8L391.1 2053.5Z" fill="#47ff00" stroke="#1c6600"/>
<path d="M420.6 1930.9L429.4 1913.1L422.2 1909.6L413.5 1927.1Z" fill="#008e71" stroke="#00382d"/>
<path d="M447 1882.5L455.7 1869.7L448.3 1867.1L439.6 1879.6Z" fill="#0049b6" stroke="#001d48"/>
<path d="M505.1 1838.3L513.4 1833.6L505.6 1832.5L497.4 1837Z" fill="#000ef1" stroke="#000560"/>
<path d="M429.4 1913.1L438.2 1897L430.9 1893.8L422.2 1909.6Z" fill="#00748b" stroke="#002e37"/>
<path d="M438.2 1897L447 1882.5L439.6 1879.6L430.9 1893.8Z" fill="#005da2" stroke="#002540"/>
<path d="M410.3 1975.7L419.1 1954.5L411.9 1950.3L403.1 1971.2Z" fill="#00cc33" stroke="#005114"/>
<path d="M480.4 1851.1L489 1843.2L481.3 1841.5L472.9 1849.2Z" fill="#001ee1" stroke="#000c5a"/>
<path d="M521.3 1834.7L529.4 1831.4L521.5 1830.6L513.4 1833.6Z" fill="#0008f7" stroke="#000362"/>
<path d="M408.6 2003.3L417.5 1980.3L410.3 1975.7L401.5 1998.4Z" fill="#00f10e" stroke="#006005"/>
<path d="M419.1 1954.5L427.9 1934.8L420.6 1930.9L411.9 1950.3Z" fill="#00ab54" stroke="#004421"/>
<path d="M471.8 1860.8L480.4 1851.1L472.9 1849.2L464.3 1858.6Z" fill="#0028d7" stroke="#001056"/>
<path d="M537.4 1832.2L545.4 1830.4L537.4 1829.8L529.4 1831.4Z" fill="#0004fb" stroke="#000164"/>
<path d="M496.7 1844.8L505.1 1838.3L497.4 1837L489 1843.2Z" fill="#0013ec" stroke="#00075e"/>
<path d="M407 2033.1L415.8 2008.3L408.6 2003.3L399.8 2027.8Z" fill="#1bff00" stroke="#0a6600"/>
<path d="M405.3 2064.9L414.2 2038.5L407 2033.1L398.2 2059.2Z" fill="#49ff00" stroke="#1d6600"/>
<path d="M427.9 1934.8L436.7 1916.7L429.4 1913.1L420.6 1930.9Z" fill="#008d72" stroke="#00382d"/>
<path d="M463.1 1872.2L471.8 1860.8L464.3 1858.6L455.7 1869.7Z" fill="#0036c9" stroke="#001550"/>
<path d="M436.7 1916.7L445.6 1900.2L438.2 1897L429.4 1913.1Z" fill="#00728d" stroke="#002d38"/>
<path d="M454.4 1885.4L463.1 1872.2L455.7 1869.7L447 1882.5Z" fill="#0047b8" stroke="#001c49"/>
<path d="M417.5 1980.3L426.3 1958.8L419.1 1954.5L410.3 1975.7Z" fill="#00cc33" stroke="#005114"/>
<path d="M445.6 1900.2L454.4 1885.4L447 1882.5L438.2 1897Z" fill="#005ba4" stroke="#002441"/>
<path d="M512.9 1839.7L521.3 1834.7L513.4 1833.6L505.1 1838.3Z" fill="#000af5" stroke="#000462"/>
<path d="M488.1 1853.1L496.7 1844.8L489 1843.2L480.4 1851.1Z" fill="#001ae5" stroke="#000a5b"/>
<path d="M415.8 2008.3L424.7 1985L417.5 1980.3L408.6 2003.3Z" fill="#00f10e" stroke="#006005"/>
<path d="M426.3 1958.8L435.2 1938.7L427.9 1934.8L419.1 1954.5Z" fill="#00aa55" stroke="#004422"/>
<path d="M529.2 1835.8L537.4 1832.2L529.4 1831.4L521.3 1834.7Z" fill="#0003fc" stroke="#000164"/>
<path d="M414.2 2038.5L423.1 2013.4L415.8 2008.3L407 2033.1Z" fill="#1cff00" stroke="#0b6600"/>
<path d="M479.5 1863.1L488.1 1853.1L480.4 1851.1L471.8 1860.8Z" fill="#0025da" stroke="#000e57"/>
<path d="M504.5 1846.5L512.9 1839.7L505.1 1838.3L496.7 1844.8Z" fill="#000ef1" stroke="#000560"/>
<path d="M435.2 1938.7L444.1 1920.3L436.7 1916.7L427.9 1934.8Z" fill="#008c73" stroke="#00382e"/>
<path d="M470.7 1874.8L479.5 1863.1L471.8 1860.8L463.1 1872.2Z" fill="#0033cc" stroke="#001451"/>
<path d="M424.7 1985L433.7 1963.1L426.3 1958.8L417.5 1980.3Z" fill="#00cc33" stroke="#005114"/>
<path d="M444.1 1920.3L453 1903.5L445.6 1900.2L436.7 1916.7Z" fill="#00718e" stroke="#002d38"/>
<path d="M461.9 1888.3L470.7 1874.8L463.1 1872.2L454.4 1885.4Z" fill="#0044bb" stroke="#001b4a"/>
<path d="M453 1903.5L461.9 1888.3L454.4 1885.4L445.6 1900.2Z" fill="#0059a6" stroke="#002342"/>
<path d="M520.9 1841.1L529.2 1835.8L521.3 1834.7L512.9 1839.7Z" fill="#0005fa" stroke="#000264"/>
<path d="M495.9 1855.1L504.5 1846.5L496.7 1844.8L488.1 1853.1Z" fill="#0016e9" stroke="#00085d"/>
<path d="M423.1 2013.4L432.1 1989.7L424.7 1985L415.8 2008.3Z" fill="#00f20d" stroke="#006005"/>
<path d="M433.7 1963.1L442.7 1942.7L435.2 1938.7L426.3 1958.8Z" fill="#00aa55" stroke="#004422"/>
<path d="M487.2 1865.4L495.9 1855.1L488.1 1853.1L479.5 1863.1Z" fill="#0022dd" stroke="#000d58"/>
<path d="M442.7 1942.7L451.6 1923.9L444.1 1920.3L435.2 1938.7Z" fill="#008b74" stroke="#00372e"/>
<path d="M512.4 1848.2L520.9 1841.1L512.9 1839.7L504.5 1846.5Z" fill="#000af5" stroke="#000462"/>
<path d="M432.1 1989.7L441.1 1967.4L433.7 1963.1L424.7 1985Z" fill="#00cc33" stroke="#005114"/>
<path d="M478.4 1877.5L487.2 1865.4L479.5 1863.1L470.7 1874.8Z" fill="#0030cf" stroke="#001352"/>
<path d="M451.6 1923.9L460.6 1906.8L453 1903.5L444.1 1920.3Z" fill="#006f90" stroke="#002c39"/>
<path d="M469.5 1891.3L478.4 1877.5L470.7 1874.8L461.9 1888.3Z" fill="#0042bd" stroke="#001a4b"/>
<path d="M460.6 1906.8L469.5 1891.3L461.9 1888.3L453 1903.5Z" fill="#0057a8" stroke="#002243"/>
<path d="M503.7 1857.1L512.4 1848.2L504.5 1846.5L495.9 1855.1Z" fill="#0013ec" stroke="#00075e"/>
<path d="M441.1 1967.4L450.1 1946.7L442.7 1942.7L433.7 1963.1Z" fill="#00a956" stroke="#004322"/>
<path d="M495 1867.7L503.7 1857.1L495.9 1855.1L487.2 1865.4Z" fill="#001ee1" stroke="#000c5a"/>
<path d="M450.1 1946.7L459.2 1927.6L451.6 1923.9L442.7 1942.7Z" fill="#008a75" stroke="#00372e"/>
<path d="M486.1 1880.1L495 1867.7L487.2 1865.4L478.4 1877.5Z" fill="#002dd2" stroke="#001254"/>
<path d="M459.2 1927.6L468.2 1910.1L460.6 1906.8L451.6 1923.9Z" fill="#006e91" stroke="#002c3a"/>
<path d="M477.2 1894.3L486.1 1880.1L478.4 1877.5L469.5 1891.3Z" fill="#0040bf" stroke="#00194c"/>
<path d="M468.2 1910.1L477.2 1894.3L469.5 1891.3L460.6 1906.8Z" fill="#0055aa" stroke="#002244"/>
</g>
<line x1="600.3" y1="1807" x2="377.7" y2="1896.4" stroke="#000" stroke-opacity="0.7" stroke-width="1.3"/>
<line x1="377.7" y1="1896.4" x2="198.2" y2="1792.5" stroke="#000" stroke-opacity="0.7" stroke-width="1.3"/>
<line x1="377.7" y1="1896.4" x2="379.3" y2="2151.4" stroke="#000" stroke-opacity="0.7" stroke-width="1.3"/>
<line x1="336.6" y1="2146.7" x2="231.3" y2="2061.5" stroke="#6a6a6a" stroke-width="1.4"/><polyline points="236,2072.5 231.3,2061.5 243.1,2063.8" fill="none" stroke="#6a6a6a" stroke-width="1.4"/>
<line x1="425.6" y1="2151.7" x2="557.9" y2="2077.3" stroke="#6a6a6a" stroke-width="1.4"/><polyline points="545.9,2077.6 557.9,2077.3 551.4,2087.4" fill="none" stroke="#6a6a6a" stroke-width="1.4"/>
<line x1="194.9" y1="1989.1" x2="182.2" y2="1834.9" stroke="#6a6a6a" stroke-width="1.4"/><polyline points="177.5,1845.9 182.2,1834.9 188.7,1845" fill="none" stroke="#6a6a6a" stroke-width="1.4"/>
<text x="234.3" y="2152.5" font-size="40" textLength="19.1" lengthAdjust="spacingAndGlyphs" stroke="#000" stroke-width="1.1" font-family="Liberation Sans, Arial, sans-serif">T</text>
<text x="507.3" y="2163.8" font-size="40" textLength="40.6" lengthAdjust="spacingAndGlyphs" stroke="#000" stroke-width="1.1" font-family="Liberation Sans, Arial, sans-serif">ST</text>
<text x="112.9" y="1936.5" font-size="40" textLength="57.6" lengthAdjust="spacingAndGlyphs" stroke="#000" stroke-width="1.1" font-family="Liberation Sans, Arial, sans-serif">IV2</text>
<rect x="945.3" y="91.5" width="610" height="566.6" fill="none" stroke="#555" stroke-width="2" stroke-dasharray="6,2.8"/>
<line x1="945.3" y1="164.5" x2="945.3" y2="590.1" stroke="#555" stroke-width="2"/>
<line x1="935.3" y1="164.5" x2="945.3" y2="164.5" stroke="#555" stroke-width="2"/>
<text transform="translate(923.8,173.2) scale(1,1.2)" font-size="17" fill="#404040" stroke="#404040" stroke-width="0.3" text-anchor="end" font-family="Liberation Sans, Arial, sans-serif">1.0</text>
<line x1="935.3" y1="306.3" x2="945.3" y2="306.3" stroke="#555" stroke-width="2"/>
<text transform="translate(923.8,315) scale(1,1.2)" font-size="17" fill="#404040" stroke="#404040" stroke-width="0.3" text-anchor="end" font-family="Liberation Sans, Arial, sans-serif">0.5</text>
<line x1="935.3" y1="448.1" x2="945.3" y2="448.1" stroke="#555" stroke-width="2"/>
<text transform="translate(923.8,456.8) scale(1,1.2)" font-size="17" fill="#404040" stroke="#404040" stroke-width="0.3" text-anchor="end" font-family="Liberation Sans, Arial, sans-serif">0.0</text>
<line x1="935.3" y1="590.1" x2="945.3" y2="590.1" stroke="#555" stroke-width="2"/>
<text transform="translate(923.8,598.8) scale(1,1.2)" font-size="17" fill="#404040" stroke="#404040" stroke-width="0.3" text-anchor="end" font-family="Liberation Sans, Arial, sans-serif">-0.5</text>
<rect x="969" y="448.1" width="141" height="71.1" fill="#ff0000" stroke="#300000" stroke-width="1.5"/>
<rect x="1110" y="311" width="141" height="137.1" fill="#ff0000" stroke="#300000" stroke-width="1.5"/>
<line x1="1251" y1="448.1" x2="1392" y2="448.1" stroke="#300000" stroke-width="1.8"/>
<rect x="1392" y="324.1" width="141.5" height="124" fill="#ff0000" stroke="#300000" stroke-width="1.5"/>
<line x1="1039.3" y1="381.1" x2="1039.3" y2="658.1" stroke="#00ff00" stroke-opacity="0.55" stroke-width="2.4"/>
<line x1="1011.1" y1="381.1" x2="1067.5" y2="381.1" stroke="#00ff00" stroke-opacity="0.55" stroke-width="2.4"/>
<line x1="1011.1" y1="658.1" x2="1067.5" y2="658.1" stroke="#00ff00" stroke-opacity="0.55" stroke-width="2.4"/>
<line x1="1180.3" y1="208.4" x2="1180.3" y2="414" stroke="#00ff00" stroke-opacity="0.55" stroke-width="2.4"/>
<line x1="1152.2" y1="208.4" x2="1208.4" y2="208.4" stroke="#00ff00" stroke-opacity="0.55" stroke-width="2.4"/>
<line x1="1152.2" y1="414" x2="1208.4" y2="414" stroke="#00ff00" stroke-opacity="0.55" stroke-width="2.4"/>
<line x1="1321.4" y1="308.1" x2="1321.4" y2="584.9" stroke="#00ff00" stroke-opacity="0.55" stroke-width="2.4"/>
<line x1="1292.9" y1="308.1" x2="1349.9" y2="308.1" stroke="#00ff00" stroke-opacity="0.55" stroke-width="2.4"/>
<line x1="1292.9" y1="584.9" x2="1349.9" y2="584.9" stroke="#00ff00" stroke-opacity="0.55" stroke-width="2.4"/>
<line x1="1462.7" y1="91.5" x2="1462.7" y2="555.2" stroke="#00ff00" stroke-opacity="0.55" stroke-width="2.4"/>
<line x1="1434.7" y1="91.5" x2="1490.7" y2="91.5" stroke="#00ff00" stroke-opacity="0.55" stroke-width="2.4"/>
<line x1="1434.7" y1="555.2" x2="1490.7" y2="555.2" stroke="#00ff00" stroke-opacity="0.55" stroke-width="2.4"/>
<path d="M1177.3 308l6 6M1183.3 308l-6 6" stroke="#103010" stroke-width="1.6"/>
<text x="1014.1" y="703.9" font-size="40" textLength="40.5" lengthAdjust="spacingAndGlyphs" stroke="#000" stroke-width="0.9" font-family="Liberation Sans, Arial, sans-serif">ST</text>
<text x="1164.5" y="709.7" font-size="40" textLength="21.6" lengthAdjust="spacingAndGlyphs" stroke="#000" stroke-width="0.9" font-family="Liberation Sans, Arial, sans-serif">T</text>
<text x="1274.7" y="710.5" font-size="40" textLength="84.1" lengthAdjust="spacingAndGlyphs" stroke="#000" stroke-width="0.9" font-family="Liberation Sans, Arial, sans-serif">ST*T</text>
<text x="1450.9" y="710.6" font-size="40" textLength="40.7" lengthAdjust="spacingAndGlyphs" stroke="#000" stroke-width="0.9" font-family="Liberation Sans, Arial, sans-serif">ST</text>
<text x="1492.7" y="697.4" font-size="26" font-family="Liberation Sans, Arial, sans-serif">2</text>
<rect x="931.5" y="882.4" width="610" height="534.8" fill="none" stroke="#555" stroke-width="2" stroke-dasharray="6,2.8"/>
<line x1="931.5" y1="913.4" x2="931.5" y2="1412.1" stroke="#555" stroke-width="2"/>
<line x1="921.5" y1="913.4" x2="931.5" y2="913.4" stroke="#555" stroke-width="2"/>
<text transform="translate(910,922.4) scale(1,1.2)" font-size="17.7" fill="#404040" stroke="#404040" stroke-width="0.3" text-anchor="end" font-family="Liberation Sans, Arial, sans-serif">0.015</text>
<line x1="921.5" y1="1037.9" x2="931.5" y2="1037.9" stroke="#555" stroke-width="2"/>
<text transform="translate(910,1046.9) scale(1,1.2)" font-size="17.7" fill="#404040" stroke="#404040" stroke-width="0.3" text-anchor="end" font-family="Liberation Sans, Arial, sans-serif">0.010</text>
<line x1="921.5" y1="1162.9" x2="931.5" y2="1162.9" stroke="#555" stroke-width="2"/>
<text transform="translate(910,1171.9) scale(1,1.2)" font-size="17.7" fill="#404040" stroke="#404040" stroke-width="0.3" text-anchor="end" font-family="Liberation Sans, Arial, sans-serif">0.005</text>
<line x1="921.5" y1="1287.5" x2="931.5" y2="1287.5" stroke="#555" stroke-width="2"/>
<text transform="translate(910,1296.5) scale(1,1.2)" font-size="17.7" fill="#404040" stroke="#404040" stroke-width="0.3" text-anchor="end" font-family="Liberation Sans, Arial, sans-serif">0.000</text>
<line x1="921.5" y1="1412.1" x2="931.5" y2="1412.1" stroke="#555" stroke-width="2"/>
<text transform="translate(910,1421.1) scale(1,1.2)" font-size="17.7" fill="#404040" stroke="#404040" stroke-width="0.3" text-anchor="end" font-family="Liberation Sans, Arial, sans-serif">-0.005</text>
<line x1="955.1" y1="1287.5" x2="1096.4" y2="1287.5" stroke="#300000" stroke-width="1.8"/>
<rect x="1096.4" y="1171.1" width="140.1" height="116.4" fill="#ff0000" stroke="#300000" stroke-width="1.5"/>
<rect x="1236.5" y="1166.8" width="141.3" height="120.7" fill="#ff0000" stroke="#300000" stroke-width="1.5"/>
<rect x="1377.8" y="1101.5" width="141.8" height="186" fill="#ff0000" stroke="#300000" stroke-width="1.5"/>
<line x1="1025.6" y1="1153.9" x2="1025.6" y2="1417.2" stroke="#00ff00" stroke-opacity="0.55" stroke-width="2.4"/>
<line x1="997.6" y1="1153.9" x2="1053.6" y2="1153.9" stroke="#00ff00" stroke-opacity="0.55" stroke-width="2.4"/>
<line x1="997.6" y1="1417.2" x2="1053.6" y2="1417.2" stroke="#00ff00" stroke-opacity="0.55" stroke-width="2.4"/>
<line x1="1166.5" y1="1073.6" x2="1166.5" y2="1269" stroke="#00ff00" stroke-opacity="0.55" stroke-width="2.4"/>
<line x1="1138" y1="1073.6" x2="1195" y2="1073.6" stroke="#00ff00" stroke-opacity="0.55" stroke-width="2.4"/>
<line x1="1138" y1="1269" x2="1195" y2="1269" stroke="#00ff00" stroke-opacity="0.55" stroke-width="2.4"/>
<line x1="1307.4" y1="1035.8" x2="1307.4" y2="1297" stroke="#00ff00" stroke-opacity="0.55" stroke-width="2.4"/>
<line x1="1279.2" y1="1035.8" x2="1335.6" y2="1035.8" stroke="#00ff00" stroke-opacity="0.55" stroke-width="2.4"/>
<line x1="1279.2" y1="1297" x2="1335.6" y2="1297" stroke="#00ff00" stroke-opacity="0.55" stroke-width="2.4"/>
<line x1="1448.3" y1="882.4" x2="1448.3" y2="1320.6" stroke="#00ff00" stroke-opacity="0.55" stroke-width="2.4"/>
<line x1="1420.3" y1="882.4" x2="1476.3" y2="882.4" stroke="#00ff00" stroke-opacity="0.55" stroke-width="2.4"/>
<line x1="1420.3" y1="1320.6" x2="1476.3" y2="1320.6" stroke="#00ff00" stroke-opacity="0.55" stroke-width="2.4"/>
<path d="M1163.5 1169.4l6 6M1169.5 1169.4l-6 6" stroke="#103010" stroke-width="1.6"/>
<text x="1013.2" y="1474.8" font-size="40" textLength="40.1" lengthAdjust="spacingAndGlyphs" stroke="#000" stroke-width="0.9" font-family="Liberation Sans, Arial, sans-serif">ST</text>
<text x="1164.4" y="1483.4" font-size="40" textLength="21.2" lengthAdjust="spacingAndGlyphs" stroke="#000" stroke-width="0.9" font-family="Liberation Sans, Arial, sans-serif">T</text>
<text x="1274.3" y="1483.4" font-size="40" textLength="85.3" lengthAdjust="spacingAndGlyphs" stroke="#000" stroke-width="0.9" font-family="Liberation Sans, Arial, sans-serif">ST*T</text>
<text x="1450.9" y="1482.8" font-size="40" textLength="40.7" lengthAdjust="spacingAndGlyphs" stroke="#000" stroke-width="0.9" font-family="Liberation Sans, Arial, sans-serif">ST</text>
<text x="1492.7" y="1470.1" font-size="26" font-family="Liberation Sans, Arial, sans-serif">2</text>
<rect x="930.7" y="1638.9" width="638.6" height="566.8" fill="none" stroke="#555" stroke-width="2" stroke-dasharray="6,2.8"/>
<line x1="930.7" y1="1720" x2="930.7" y2="2152.2" stroke="#555" stroke-width="2"/>
<line x1="920.7" y1="1720" x2="930.7" y2="1720" stroke="#555" stroke-width="2"/>
<text transform="translate(909.2,1729.4) scale(1,1.2)" font-size="18.5" fill="#404040" stroke="#404040" stroke-width="0.3" text-anchor="end" font-family="Liberation Sans, Arial, sans-serif">0.05</text>
<line x1="920.7" y1="1828.4" x2="930.7" y2="1828.4" stroke="#555" stroke-width="2"/>
<text transform="translate(909.2,1837.8) scale(1,1.2)" font-size="18.5" fill="#404040" stroke="#404040" stroke-width="0.3" text-anchor="end" font-family="Liberation Sans, Arial, sans-serif">0.00</text>
<line x1="920.7" y1="1936.8" x2="930.7" y2="1936.8" stroke="#555" stroke-width="2"/>
<text transform="translate(909.2,1946.2) scale(1,1.2)" font-size="18.5" fill="#404040" stroke="#404040" stroke-width="0.3" text-anchor="end" font-family="Liberation Sans, Arial, sans-serif">-0.05</text>
<line x1="920.7" y1="2043.4" x2="930.7" y2="2043.4" stroke="#555" stroke-width="2"/>
<text transform="translate(909.2,2052.8) scale(1,1.2)" font-size="18.5" fill="#404040" stroke="#404040" stroke-width="0.3" text-anchor="end" font-family="Liberation Sans, Arial, sans-serif">-0.10</text>
<line x1="920.7" y1="2152.2" x2="930.7" y2="2152.2" stroke="#555" stroke-width="2"/>
<text transform="translate(909.2,2161.6) scale(1,1.2)" font-size="18.5" fill="#404040" stroke="#404040" stroke-width="0.3" text-anchor="end" font-family="Liberation Sans, Arial, sans-serif">-0.15</text>
<rect x="955.6" y="1747.7" width="147.4" height="80.7" fill="#ff0000" stroke="#300000" stroke-width="1.5"/>
<rect x="1103" y="1828.4" width="147.4" height="29.1" fill="#ff0000" stroke="#300000" stroke-width="1.5"/>
<rect x="1250.4" y="1828.4" width="147.4" height="59.4" fill="#ff0000" stroke="#300000" stroke-width="1.5"/>
<rect x="1397.8" y="1828.4" width="147.4" height="195.5" fill="#ff0000" stroke="#300000" stroke-width="1.5"/>
<line x1="1029.6" y1="1638.9" x2="1029.6" y2="1855.6" stroke="#00ff00" stroke-opacity="0.55" stroke-width="2.4"/>
<line x1="999.9" y1="1638.9" x2="1059.3" y2="1638.9" stroke="#00ff00" stroke-opacity="0.55" stroke-width="2.4"/>
<line x1="999.9" y1="1855.6" x2="1059.3" y2="1855.6" stroke="#00ff00" stroke-opacity="0.55" stroke-width="2.4"/>
<line x1="1176.5" y1="1777.2" x2="1176.5" y2="1938.6" stroke="#00ff00" stroke-opacity="0.55" stroke-width="2.4"/>
<line x1="1147.5" y1="1777.2" x2="1205.5" y2="1777.2" stroke="#00ff00" stroke-opacity="0.55" stroke-width="2.4"/>
<line x1="1147.5" y1="1938.6" x2="1205.5" y2="1938.6" stroke="#00ff00" stroke-opacity="0.55" stroke-width="2.4"/>
<line x1="1324.4" y1="1779.5" x2="1324.4" y2="1996.2" stroke="#00ff00" stroke-opacity="0.55" stroke-width="2.4"/>
<line x1="1294.9" y1="1779.5" x2="1353.9" y2="1779.5" stroke="#00ff00" stroke-opacity="0.55" stroke-width="2.4"/>
<line x1="1294.9" y1="1996.2" x2="1353.9" y2="1996.2" stroke="#00ff00" stroke-opacity="0.55" stroke-width="2.4"/>
<line x1="1471.3" y1="1843" x2="1471.3" y2="2205.7" stroke="#00ff00" stroke-opacity="0.55" stroke-width="2.4"/>
<line x1="1441.8" y1="1843" x2="1500.8" y2="1843" stroke="#00ff00" stroke-opacity="0.55" stroke-width="2.4"/>
<line x1="1441.8" y1="2205.7" x2="1500.8" y2="2205.7" stroke="#00ff00" stroke-opacity="0.55" stroke-width="2.4"/>
<path d="M1468.3 2024.5l6 6M1474.3 2024.5l-6 6" stroke="#103010" stroke-width="1.6"/>
<text x="1013.8" y="2265.2" font-size="40" textLength="40" lengthAdjust="spacingAndGlyphs" stroke="#000" stroke-width="0.9" font-family="Liberation Sans, Arial, sans-serif">ST</text>
<text x="1164.8" y="2272" font-size="40" textLength="22" lengthAdjust="spacingAndGlyphs" stroke="#000" stroke-width="0.9" font-family="Liberation Sans, Arial, sans-serif">T</text>
<text x="1273.7" y="2272" font-size="40" textLength="83.1" lengthAdjust="spacingAndGlyphs" stroke="#000" stroke-width="0.9" font-family="Liberation Sans, Arial, sans-serif">ST*T</text>
<text x="1449.5" y="2273.1" font-size="40" textLength="40.2" lengthAdjust="spacingAndGlyphs" stroke="#000" stroke-width="0.9" font-family="Liberation Sans, Arial, sans-serif">ST</text>
<text x="1491.2" y="2259.9" font-size="26" font-family="Liberation Sans, Arial, sans-serif">2</text>
</svg>
</body></html>
